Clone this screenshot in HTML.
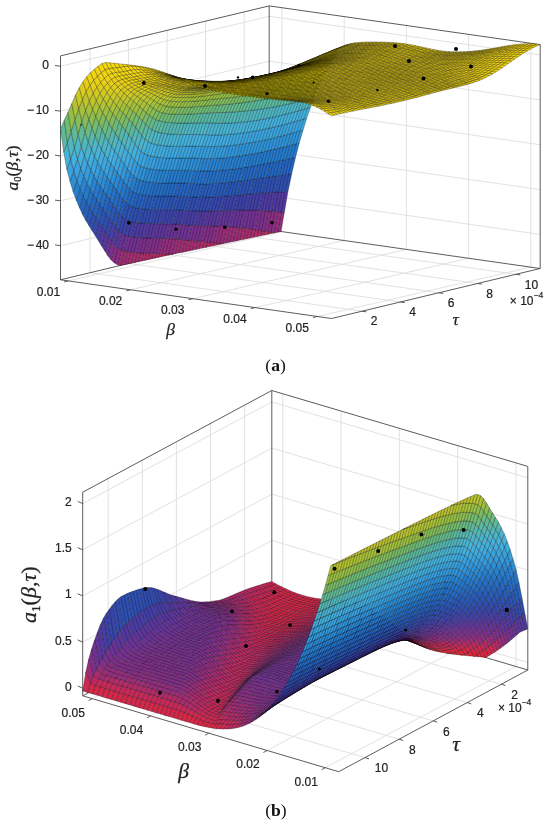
<!DOCTYPE html><html><head><meta charset="utf-8"><title>Figure</title><style>html,body{margin:0;padding:0;background:#fff}svg{display:block}.gl{fill:none;stroke:#dedede;stroke-width:.9}.ax{fill:none;stroke:#4a4a4a;stroke-width:.9}.sf path{stroke:#000;stroke-width:2.7;stroke-linejoin:round}.tl{font:12px 'Liberation Sans',sans-serif;fill:#222;stroke:#222;stroke-width:.2}.mi{font-family:'Liberation Serif',serif;font-style:italic;font-size:17.5px;fill:#222;stroke:#222;stroke-width:.25}.zl{font-family:'Liberation Serif',serif;fill:#222;stroke:#222;stroke-width:.3}.gi{font-style:italic}.sb{font-size:60%}.cap{font:17.6px 'Liberation Serif',serif;fill:#111}.a{fill:#ecd212}.b{fill:#ead113}.c{fill:#723190}.d{fill:#edd310}.e{fill:#b22a67}.f{fill:#bd2960}.g{fill:#c72859}.h{fill:#9e2c75}.i{fill:#a82b6e}.j{fill:#7c2f8a}.k{fill:#77308d}.l{fill:#d4274a}.m{fill:#efd410}.n{fill:#932d7c}.o{fill:#812e87}.p{fill:#f0d50f}.q{fill:#892e83}.r{fill:#e9d014}.s{fill:#ce2852}.t{fill:#e6cf15}.u{fill:#683395}.v{fill:#c1c52a}.w{fill:#6d3292}.x{fill:#c6c727}.y{fill:#dfcd1a}.z{fill:#bbc42d}.A{fill:#e2ce17}.B{fill:#5d369a}.C{fill:#52399e}.D{fill:#d7cb1e}.E{fill:#f3d60c}.F{fill:#d3ca20}.G{fill:#d0c922}.H{fill:#58379c}.I{fill:#473da2}.J{fill:#dbcc1c}.K{fill:#e52735}.L{fill:#f2d50d}.M{fill:#423fa5}.N{fill:#633498}.O{fill:#cbc825}.P{fill:#2e4fb0}.Q{fill:#2467c0}.R{fill:#3ba5e0}.S{fill:#8cbd4f}.T{fill:#f6d80b}.U{fill:#da2643}.V{fill:#df263d}.W{fill:#3d41a6}.X{fill:#3845aa}.Y{fill:#247acc}.Z{fill:#72bb6f}.aa{fill:#334aad}.ab{fill:#b1c232}.ac{fill:#f9da08}.ad{fill:#e22739}.ae{fill:#4d3ba0}.af{fill:#2f94d9}.ag{fill:#b6c32f}.ah{fill:#5ab99f}.aj{fill:#2b51b1}.ak{fill:#3b43a8}.al{fill:#45b2dc}.am{fill:#5fb995}.an{fill:#2782d0}.ao{fill:#40acdf}.ap{fill:#f8d909}.aq{fill:#2956b5}.ar{fill:#265fbb}.as{fill:#304cae}.at{fill:#246fc6}.au{fill:#43b1de}.av{fill:#246cc4}.aw{fill:#4db6c8}.ay{fill:#339adb}.az{fill:#a5c03a}.aA{fill:#9fc03e}.aB{fill:#3648ab}.aC{fill:#2d90d7}.aD{fill:#39a2df}.aE{fill:#2859b7}.aF{fill:#2561bd}.aG{fill:#4fb6c2}.aH{fill:#2a53b3}.aI{fill:#275cb9}.aJ{fill:#2c8dd5}.aK{fill:#4ab4d0}.aL{fill:#f5d70c}.aM{fill:#267ece}.aN{fill:#2564bf}.aO{fill:#246ac2}.aP{fill:#48b4d4}.aQ{fill:#51b7bb}.aR{fill:#2478ca}.aS{fill:#99bf42}.aT{fill:#2472c7}.aU{fill:#2985d2}.aV{fill:#3196da}.aW{fill:#2475c9}.aX{fill:#359cdd}.aY{fill:#3ca8e0}.aZ{fill:#93be47}.ba{fill:#56b8ad}.bb{fill:#68ba82}.bc{fill:#7fbc5f}.bd{fill:#47b3d8}.be{fill:#2a89d3}.bf{fill:#379fde}.bg{fill:#54b7b4}.bh{fill:#6dbb79}.bi{fill:#abc136}.bj{fill:#78bb66}.bk{fill:#86bd57}.bl{fill:#42aede}.bm{fill:#3eaadf}.bn{fill:#58b8a6}.bo{fill:#4cb5cc}.bp{fill:#64ba8c}</style></head><body><svg width="550" height="826" viewBox="0 0 550 826"><rect width="550" height="826" fill="#fff"/><path class=gl d="M68.4 280.9L281.9 231.6L281.9 7.7"/><path class=gl d="M130.6 289.8L344.2 240.5L344.2 16.6"/><path class=gl d="M192.8 298.7L406.4 249.4L406.4 25.5"/><path class=gl d="M255.0 307.6L468.6 258.3L468.6 34.4"/><path class=gl d="M317.2 316.5L530.8 267.2L530.8 43.3"/><path class=gl d="M362.0 311.2L90.1 272.7L90.1 48.8"/><path class=gl d="M400.5 302.0L128.6 263.5L128.6 39.6"/><path class=gl d="M439.0 292.8L167.1 254.2L167.1 30.3"/><path class=gl d="M477.5 283.5L205.7 245.0L205.7 21.1"/><path class=gl d="M516.0 274.3L244.2 235.8L244.2 11.9"/><path class=gl d="M60.5 66.3L269.2 16.3L540.2 55.0"/><path class=gl d="M60.5 111.2L269.2 61.2L540.2 99.9"/><path class=gl d="M60.5 156.0L269.2 106.0L540.2 144.7"/><path class=gl d="M60.5 200.9L269.2 150.9L540.2 189.6"/><path class=gl d="M60.5 245.7L269.2 195.7L540.2 234.4"/><path class=ax d="M60.5 55.9L269.2 5.9L540.2 44.6L540.2 268.5L269.2 229.8L60.5 279.8"/><path class=ax d="M269.2 229.8L269.2 5.9"/><path class=ax d="M60.5 55.9L60.5 279.8L331.5 318.5L540.2 268.5"/><path class=ax d="M68.4 280.9L64.2 281.9"/><path class=ax d="M130.6 289.8L126.4 290.8"/><path class=ax d="M192.8 298.7L188.6 299.7"/><path class=ax d="M255.0 307.6L250.8 308.6"/><path class=ax d="M317.2 316.5L313.0 317.5"/><path class=ax d="M362.0 311.2L366.3 311.8"/><path class=ax d="M400.5 302.0L404.8 302.6"/><path class=ax d="M439.0 292.8L443.3 293.4"/><path class=ax d="M477.5 283.5L481.8 284.1"/><path class=ax d="M516.0 274.3L520.3 274.9"/><path class=ax d="M60.5 66.3L55.0 65.5"/><path class=ax d="M60.5 111.2L55.0 110.4"/><path class=ax d="M60.5 156.0L55.0 155.2"/><path class=ax d="M60.5 200.9L55.0 200.1"/><path class=ax d="M60.5 245.7L55.0 244.9"/><g class=sf transform="scale(.1)"><path class=f d="M1717 2546l1-3 8 1z"/><path class=f d="M1683 2553l3-13 32 3-1 3z"/><path class=f d="M1649 2560l6-22 31 2-3 13z"/><path class=f d="M1615 2567l8-31 32 2-6 22z"/><path class=f d="M1582 2575l9-40 32 1-8 31z"/><path class=e d="M1548 2582l12-48 31 1-9 40z"/><path class=e d="M1515 2589l13-55 32 0-12 48z"/><path class=e d="M1481 2597l15-64 32 1-13 55z"/><path class=e d="M1447 2604l18-72 31 1-15 64z"/><path class=e d="M1414 2611l19-80 32 1-18 72z"/><path class=i d="M1380 2618l22-89 31 2-19 80z"/><path class=i d="M1346 2626l24-99 32 2-22 89z"/><path class=i d="M1312 2633l26-109 32 3-24 99z"/><path class=i d="M1277 2640l30-120 31 4-26 109z"/><path class=h d="M1242 2647l33-133 32 6-30 120z"/><path class=h d="M1207 2654l36-146 32 6-33 133z"/><path class=h d="M1174 2648l38-151 31 11-36 146-10 2z"/><path class=q d="M1111 2600l32 30 31 18 38-151-32-17-31-28zM1143 2630L1180 2480"/><path class=k d="M1079 2559l32 41 38-148-32-39z"/><path class=u d="M1048 2511l31 48 38-146-32-46z"/><path class=H d="M1016 2459l32 52 37-144-31-49z"/><path class=ae d="M984 2407l32 52 38-141-32-49z"/><path class=W d="M953 2357l31 50 38-138-32-47z"/><path class=aB d="M921 2308l32 49 37-135-31-47z"/><path class=P d="M890 2258l31 50 38-133-32-47z"/><path class=aq d="M858 2204l32 54 37-130-31-51z"/><path class=ar d="M826 2145l32 59 38-127-32-57z"/><path class=Q d="M795 2078l31 67 38-125-32-64z"/><path class=aT d="M763 2002l32 76 37-122-31-72z"/><path class=aM d="M731 1916l32 86 38-118-32-82z"/><path class=aC d="M700 1815l31 101 38-114-31-97z"/><path class=aD d="M668 1692l32 123 38-110-32-117z"/><path class=bd d="M637 1522l31 170 38-104-32-163z"/><path class=ah d="M605 1288l32 234 37-97-31-224z"/><path class=f d="M2229 2437l1-2 6 1z"/><path class=f d="M2195 2445l3-14 32 4-1 2z"/><path class=f d="M2161 2452l5-24 32 3-3 14z"/><path class=f d="M2127 2459l8-35 31 4-5 24z"/><path class=e d="M2093 2466l10-45 32 3-8 35z"/><path class=e d="M2059 2474l13-56 31 3-10 45z"/><path class=e d="M2024 2481l16-66 32 3-13 56z"/><path class=e d="M1990 2488l18-76 32 3-16 66z"/><path class=i d="M1956 2495l21-86 31 3-18 76z"/><path class=i d="M1922 2502l23-96 32 3-21 86z"/><path class=i d="M1888 2510l26-106 31 2-23 96z"/><path class=i d="M1854 2517l28-116 32 3-26 106z"/><path class=h d="M1820 2524l30-126 32 3-28 116z"/><path class=h d="M1785 2531l34-135 31 2-30 126z"/><path class=h d="M1751 2538l36-145 32 3-34 135z"/><path class=h d="M1718 2543l37-153 32 3-36 145-25 6z"/><path class=n d="M1591 2535l32 1 32 2 31 2 32 3 37-153-31-2-32-2-31-2-32-1zM1623 2536L1661 2384M1655 2538L1692 2386M1686 2540L1724 2388"/><path class=o d="M1465 2532l31 1 32 1 32 0 31 1 38-152-32 0-31-1-32 0-32-1zM1496 2533L1534 2382M1528 2534L1566 2382M1560 2534L1597 2383"/><path class=j d="M1370 2527l32 2 31 2 32 1 37-151-31 0-32-2-31-2zM1402 2529L1439 2379M1433 2531L1471 2381"/><path class=c d="M1243 2508l32 6 32 6 31 4 32 3 38-150-32-2-32-4-31-4-32-6zM1275 2514L1313 2367M1307 2520L1344 2371M1338 2524L1376 2375"/><path class=u d="M1180 2480l32 17 31 11 38-147-32-10-31-16zM1212 2497L1249 2351"/><path class=H d="M1149 2452l31 28 38-145-32-27z"/><path class=ae d="M1117 2413l32 39 37-144-31-37z"/><path class=M d="M1085 2367l32 46 38-142-32-44z"/><path class=X d="M1054 2318l31 49 38-140-32-48z"/><path class=as d="M1022 2269l32 49 37-139-31-47z"/><path class=aj d="M990 2222l32 47 38-137-32-46z"/><path class=aE d="M959 2175l31 47 38-136-32-45z"/><path class=aF d="M927 2128l32 47 37-134-31-46z"/><path class=Q d="M896 2077l31 51 38-133-32-49z"/><path class=at d="M864 2020l32 57 37-131-31-55z"/><path class=Y d="M832 1956l32 64 38-129-32-61z"/><path class=aU d="M801 1884l31 72 38-126-32-70z"/><path class=aV d="M769 1802l32 82 37-124-31-79z"/><path class=aD d="M738 1705l31 97 38-121-32-93z"/><path class=au d="M706 1588l32 117 37-117-31-113z"/><path class=aG d="M674 1425l32 163 38-113-32-164z"/><path class=Z d="M643 1201l31 224 38-114-32-189z"/><path class=f d="M2742 2329l0 0 0 0z"/><path class=f d="M2707 2336l3-13 32 6 0 0z"/><path class=f d="M2673 2344l5-27 32 6-3 13z"/><path class=f d="M2639 2351l8-39 31 5-5 27z"/><path class=e d="M2605 2358l10-52 32 6-8 39z"/><path class=e d="M2571 2365l13-64 31 5-10 52z"/><path class=e d="M2536 2372l16-76 32 5-13 64z"/><path class=i d="M2502 2380l18-89 32 5-16 76z"/><path class=i d="M2468 2387l21-100 31 4-18 89z"/><path class=i d="M2434 2394l23-111 32 4-21 100z"/><path class=i d="M2400 2401l25-122 32 4-23 111z"/><path class=h d="M2366 2409l28-133 31 3-25 122z"/><path class=h d="M2331 2416l31-143 32 3-28 133z"/><path class=h d="M2297 2423l34-153 31 3-31 143z"/><path class=n d="M2263 2430l36-163 32 3-34 153z"/><path class=h d="M2230 2435l37-170 32 2-36 163-27 6z"/><path class=n d="M2135 2424l31 4 32 3 32 4 37-170-31-2-32-1-32-1zM2166 2428L2204 2262M2198 2431L2236 2263"/><path class=o d="M2008 2412l32 3 32 3 31 3 32 3 37-163-31-2-32-1-31 0-32-1zM2040 2415L2078 2258M2072 2418L2109 2258M2103 2421L2141 2259"/><path class=k d="M1882 2401l32 3 31 2 32 3 31 3 38-155-32-1-31-1-32-2-31-1zM1914 2404L1951 2253M1945 2406L1983 2255M1977 2409L2014 2256"/><path class=w d="M1755 2390l32 3 32 3 31 2 32 3 38-149-32-1-32-3-31-2-32-3zM1787 2393L1825 2246M1819 2396L1856 2248M1850 2398L1888 2251"/><path class=u d="M1661 2384l31 2 32 2 31 2 38-147-32-2-31-2-32-1zM1692 2386L1730 2239M1724 2388L1761 2241"/><path class=B d="M1534 2382l32 0 31 1 32 0 32 1 37-146-31 0-32-1-32 0-31 0zM1566 2382L1603 2237M1597 2383L1635 2237M1629 2383L1667 2238"/><path class=H d="M1439 2379l32 2 31 0 32 1 38-145-32 0-32-1-31-1zM1471 2381L1508 2236M1502 2381L1540 2237"/><path class=ae d="M1313 2367l31 4 32 4 32 2 31 2 38-144-32-2-31-2-32-4-32-4zM1344 2371L1382 2227M1376 2375L1414 2231M1408 2377L1445 2233"/><path class=M d="M1249 2351l32 10 32 6 37-144-31-6-32-9zM1281 2361L1319 2217"/><path class=ak d="M1186 2308l32 27 31 16 38-143-32-16-31-26zM1218 2335L1255 2192"/><path class=aa d="M1155 2271l31 37 38-142-32-36z"/><path class=P d="M1123 2227l32 44 37-141-31-43z"/><path class=aq d="M1091 2179l32 48 38-140-32-47z"/><path class=ar d="M1060 2132l31 47 38-139-32-47z"/><path class=aN d="M1028 2086l32 46 37-139-31-44z"/><path class=av d="M996 2041l32 45 38-137-32-44z"/><path class=aW d="M965 1995l31 46 38-136-31-45z"/><path class=Y d="M933 1946l32 49 38-135-32-49z"/><path class=aU d="M902 1891l31 55 38-135-32-54z"/><path class=af d="M870 1830l32 61 37-134-31-61z"/><path class=aX d="M838 1760l32 70 38-134-32-68z"/><path class=aY d="M807 1681l31 79 38-132-32-77z"/><path class=al d="M775 1588l32 93 37-130-31-92z"/><path class=aw d="M744 1475l31 113 38-129-32-117z"/><path class=am d="M712 1311l32 164 37-133-31-150z"/><path class=aZ d="M680 1122l32 189 38-119-32-156z"/><path class=n d="M2776 2322l35-200 32 5-33 188z"/><path class=n d="M2742 2329l37-211 32 4-35 200-34 7z"/><path class=q d="M2647 2312l31 5 32 6 32 6 37-211-31-4-32-3-32-3zM2678 2317L2716 2111M2710 2323L2748 2114"/><path class=j d="M2552 2296l32 5 31 5 32 6 37-204-31-2-32-2-31-2zM2584 2301L2621 2104M2615 2306L2653 2106"/><path class=c d="M2425 2279l32 4 32 4 31 4 32 5 38-194-32-1-32 0-31-1-32 0zM2457 2283L2495 2100M2489 2287L2526 2101M2520 2291L2558 2101"/><path class=u d="M2299 2267l32 3 31 3 32 3 31 3 38-179-32 0-31 1-32 1-31 1zM2331 2270L2368 2102M2362 2273L2400 2101M2394 2276L2431 2100"/><path class=N d="M2172 2261l32 1 32 1 31 2 32 2 38-164-32 0-32 1-31 1-32 1zM2204 2262L2242 2105M2236 2263L2273 2104M2267 2265L2305 2103"/><path class=H d="M2046 2257l32 1 31 0 32 1 31 2 38-155-31 1-32 1-32 1-31 1zM2078 2258L2115 2109M2109 2258L2147 2108M2141 2259L2179 2107"/><path class=C d="M1951 2253l32 2 31 1 32 1 38-147-32 0-32 0-31 0zM1983 2255L2020 2110M2014 2256L2052 2110"/><path class=I d="M1825 2246l31 2 32 3 32 1 31 1 38-143-32 0-31-1-32-2-32-3zM1856 2248L1894 2107M1888 2251L1926 2109M1920 2252L1957 2110"/><path class=M d="M1730 2239l31 2 32 2 32 3 37-142-31-2-32-2-32-1zM1761 2241L1799 2100M1793 2243L1831 2102"/><path class=ak d="M1603 2237l32 0 32 1 31 0 32 1 37-140-31-1-32-1-31 0-32 0zM1635 2237L1673 2097M1667 2238L1704 2097M1698 2238L1736 2098"/><path class=X d="M1508 2236l32 1 32 0 31 0 38-140-32 0-31-1-32 0zM1540 2237L1578 2096M1572 2237L1609 2097"/><path class=aa d="M1382 2227l32 4 31 2 32 2 31 1 38-140-32-1-31-2-32-2-31-4zM1414 2231L1451 2091M1445 2233L1483 2093M1477 2235L1514 2095"/><path class=P d="M1287 2208l32 9 31 6 32 4 38-140-32-4-32-6-31-9zM1319 2217L1356 2077M1350 2223L1388 2083"/><path class=aH d="M1224 2166l31 26 32 16 38-140-32-15-32-27zM1255 2192L1293 2053"/><path class=aI d="M1192 2130l32 36 37-140-31-35z"/><path class=aN d="M1161 2087l31 43 38-139-32-43z"/><path class=aO d="M1129 2040l32 47 37-139-31-46z"/><path class=aT d="M1097 1993l32 47 38-138-32-46z"/><path class=Y d="M1066 1949l31 44 38-137-32-44z"/><path class=an d="M1034 1905l32 44 37-137-31-44z"/><path class=aJ d="M1003 1860l31 45 38-137-32-45z"/><path class=af d="M971 1811l32 49 37-137-31-49z"/><path class=aX d="M939 1757l32 54 38-137-32-53z"/><path class=R d="M908 1696l31 61 38-136-32-61z"/><path class=bl d="M876 1628l32 68 37-136-31-68z"/><path class=aP d="M844 1551l32 77 38-136-32-78z"/><path class=aQ d="M813 1459l31 92 38-137-32-96z"/><path class=am d="M781 1342l32 117 37-141-31-111z"/><path class=bk d="M750 1192l31 150 38-135-32-122z"/><path class=ab d="M718 1036l32 156 37-107-31-138z"/><path class=C d="M2716 2111l32 3 31 4 32 4 32 5 37-212-31 1-32 2-32 1-31 2zM2748 2114L2785 1919M2779 2118L2817 1918M2811 2122L2849 1916"/><path class=ae d="M2590 2102l31 2 32 2 31 2 32 3 38-190-32 2-32 2-31 2-32 3zM2621 2104L2659 1927M2653 2106L2690 1925M2684 2108L2722 1923"/><path class=M d="M2463 2100l32 0 31 1 32 0 32 1 37-172-31 2-32 3-32 2-31 3zM2495 2100L2532 1937M2526 2101L2564 1935M2558 2101L2596 1932"/><path class=W d="M2337 2103l31-1 32-1 31-1 32 0 38-160-32 3-32 3-31 2-32 3zM2368 2102L2406 1948M2400 2101L2437 1946M2431 2100L2469 1943"/><path class=ak d="M2210 2106l32-1 31-1 32-1 32 0 37-152-31 3-32 2-32 3-31 2zM2242 2105L2279 1959M2273 2104L2311 1956M2305 2103L2343 1954"/><path class=X d="M2084 2110l31-1 32-1 32-1 31-1 38-145-32 3-31 2-32 2-32 1zM2115 2109L2153 1968M2147 2108L2185 1966M2179 2107L2216 1964"/><path class=aa d="M1957 2110l32 0 31 0 32 0 32 0 37-141-31 1-32 1-32 1-31 0zM1989 2110L2026 1972M2020 2110L2058 1971M2052 2110L2090 1970"/><path class=as d="M1862 2104l32 3 32 2 31 1 38-138-32-1-31-1-32-2zM1894 2107L1932 1970M1926 2109L1963 1971"/><path class=aj d="M1736 2098l31 1 32 1 32 2 31 2 38-136-32-2-31-2-32-1-32-1zM1767 2099L1805 1963M1799 2100L1837 1964M1831 2102L1868 1966"/><path class=aH d="M1641 2097l32 0 31 0 32 1 37-136-31-1-32 0-31 0zM1673 2097L1710 1961M1704 2097L1742 1961"/><path class=aE d="M1514 2095l32 1 32 0 31 1 32 0 38-136-32 0-32 0-31-1-32-1zM1546 2096L1584 1960M1578 2096L1615 1961M1609 2097L1647 1961"/><path class=aI d="M1420 2087l31 4 32 2 31 2 38-136-32-1-31-3-32-3zM1451 2091L1489 1955M1483 2093L1520 1958"/><path class=aF d="M1325 2068l31 9 32 6 32 4 37-135-31-5-32-5-32-10zM1356 2077L1394 1942M1388 2083L1426 1947"/><path class=Q d="M1261 2026l32 27 32 15 37-136-31-15-32-26zM1293 2053L1331 1917"/><path class=at d="M1230 1991l31 35 38-135-31-35z"/><path class=aR d="M1198 1948l32 43 38-135-32-42z"/><path class=aM d="M1167 1902l31 46 38-134-32-45z"/><path class=be d="M1135 1856l32 46 37-133-31-46z"/><path class=aC d="M1103 1812l32 44 38-133-32-44z"/><path class=ay d="M1072 1768l31 44 38-133-32-43z"/><path class=aD d="M1040 1723l32 45 37-132-31-45z"/><path class=aY d="M1009 1674l31 49 38-132-32-48z"/><path class=bl d="M977 1621l32 53 37-131-31-53z"/><path class=bd d="M945 1560l32 61 38-131-32-61z"/><path class=aw d="M914 1492l31 68 38-131-32-71z"/><path class=ba d="M882 1414l32 78 37-134-31-80z"/><path class=bb d="M850 1318l32 96 38-136-32-88z"/><path class=bk d="M819 1207l31 111 38-128-32-88z"/><path class=az d="M787 1085l32 122 37-105-31-109z"/><path class=O d="M756 947l31 138 38-92-32-117z"/><path class=P d="M2754 1921l31-2 32-1 32-2 31-1 38-180-32 5-31 4-32 5-32 5zM2785 1919L2823 1749M2817 1918L2855 1744M2849 1916L2886 1740"/><path class=P d="M2627 1930l32-3 31-2 32-2 32-2 37-167-31 4-32 5-32 5-31 4zM2659 1927L2696 1768M2690 1925L2728 1763M2722 1923L2760 1758"/><path class=aj d="M2501 1940l31-3 32-2 32-3 31-2 38-158-32 5-31 5-32 4-32 5zM2532 1937L2570 1786M2564 1935L2602 1782M2596 1932L2633 1777"/><path class=aH d="M2374 1951l32-3 31-2 32-3 32-3 37-149-31 4-32 5-31 4-32 4zM2406 1948L2444 1804M2437 1946L2475 1800M2469 1943L2507 1795"/><path class=aq d="M2248 1961l31-2 32-3 32-2 31-3 38-143-32 4-31 4-32 4-32 3zM2279 1959L2317 1820M2311 1956L2349 1816M2343 1954L2380 1812"/><path class=aE d="M2121 1969l32-1 32-2 31-2 32-3 37-138-31 3-32 3-31 3-32 2zM2153 1968L2191 1832M2185 1966L2222 1829M2216 1964L2254 1826"/><path class=aI d="M1995 1972l31 0 32-1 32-1 31-1 38-135-32 2-31 1-32 1-32 1zM2026 1972L2064 1838M2058 1971L2096 1837M2090 1970L2127 1836"/><path class=ar d="M1868 1966l32 2 32 2 31 1 32 1 37-133-31 0-32-2-31-2-32-1zM1900 1968L1938 1835M1932 1970L1969 1837M1963 1971L2001 1839"/><path class=aN d="M1742 1961l31 1 32 1 32 1 31 2 38-132-32-2-31-1-32-1-32 0zM1773 1962L1811 1830M1805 1963L1843 1831M1837 1964L1874 1832"/><path class=aO d="M1615 1961l32 0 32 0 31 0 32 0 37-131-31 0-32 0-31 0-32 0zM1647 1961L1685 1830M1679 1961L1716 1830M1710 1961L1748 1830"/><path class=av d="M1489 1955l31 3 32 1 32 1 31 1 38-131-32-1-31-1-32-2-32-2zM1520 1958L1558 1826M1552 1959L1590 1828M1584 1960L1621 1829"/><path class=aT d="M1394 1942l32 5 31 5 32 3 37-131-31-4-32-4-31-6zM1426 1947L1463 1816M1457 1952L1495 1820"/><path class=aR d="M1331 1917l31 15 32 10 38-132-32-9-32-15zM1362 1932L1400 1801"/><path class=aM d="M1299 1891l32 26 37-131-31-26z"/><path class=aU d="M1268 1856l31 35 38-131-32-35z"/><path class=aJ d="M1236 1814l32 42 37-131-31-41z"/><path class=aV d="M1204 1769l32 45 38-130-32-45z"/><path class=bf d="M1173 1723l31 46 38-130-32-45z"/><path class=R d="M1141 1679l32 44 37-129-31-43z"/><path class=ao d="M1109 1636l32 43 38-128-32-43z"/><path class=au d="M1078 1591l31 45 38-128-32-44z"/><path class=aP d="M1046 1543l32 48 37-127-31-50z"/><path class=aw d="M1015 1490l31 53 38-129-32-56z"/><path class=bg d="M983 1429l32 61 37-132-31-62z"/><path class=am d="M951 1358l32 71 38-133-32-68z"/><path class=Z d="M920 1278l31 80 38-130-32-68z"/><path class=S d="M888 1190l32 88 37-118-31-71z"/><path class=az d="M856 1102l32 88 38-101-32-80z"/><path class=v d="M825 993l31 109 38-93-32-96z"/><path class=J d="M793 876l32 117 37-80-31-97z"/><path class=aN d="M2791 1754l32-5 32-5 31-4 32-5 37-161-31 7-32 6-31 7-32 7zM2823 1749L2861 1594M2855 1744L2892 1587M2886 1740L2924 1581"/><path class=Q d="M2665 1772l31-4 32-5 32-5 31-4 38-153-32 7-31 6-32 7-31 6zM2696 1768L2734 1621M2728 1763L2766 1614M2760 1758L2797 1608"/><path class=Q d="M2538 1791l32-5 32-4 31-5 32-5 38-145-32 6-32 7-31 6-32 6zM2570 1786L2608 1646M2602 1782L2639 1640M2633 1777L2671 1633"/><path class=Q d="M2412 1808l32-4 31-4 32-5 31-4 38-139-32 5-31 6-32 5-31 5zM2444 1804L2481 1668M2475 1800L2513 1663M2507 1795L2544 1657"/><path class=aO d="M2285 1823l32-3 32-4 31-4 32-4 38-135-32 5-32 5-31 4-32 4zM2317 1820L2355 1687M2349 1816L2386 1683M2380 1812L2418 1678"/><path class=av d="M2159 1834l32-2 31-3 32-3 31-3 38-132-32 4-31 3-32 3-31 3zM2191 1832L2228 1701M2222 1829L2260 1698M2254 1826L2291 1695"/><path class=at d="M2032 1839l32-1 32-1 31-1 32-2 38-130-32 2-32 2-31 1-32 1zM2064 1838L2102 1709M2096 1837L2133 1708M2127 1836L2165 1706"/><path class=aT d="M1906 1834l32 1 31 2 32 2 31 0 38-129-32 0-31-1-32-2-31-1zM1938 1835L1975 1707M1969 1837L2007 1709M2001 1839L2038 1710"/><path class=aR d="M1779 1830l32 0 32 1 31 1 32 2 38-128-32-2-32-1-31 0-32-1zM1811 1830L1849 1703M1843 1831L1880 1703M1874 1832L1912 1704"/><path class=Y d="M1653 1830l32 0 31 0 32 0 31 0 38-128-32 1-31 0-32 0-31 0zM1685 1830L1722 1703M1716 1830L1754 1703M1748 1830L1785 1703"/><path class=an d="M1526 1824l32 2 32 2 31 1 32 1 38-127-32-1-32-1-31-2-32-2zM1558 1826L1596 1699M1590 1828L1627 1701M1621 1829L1659 1702"/><path class=be d="M1432 1810l31 6 32 4 31 4 38-127-31-4-32-4-32-6zM1463 1816L1501 1689M1495 1820L1533 1693"/><path class=aC d="M1368 1786l32 15 32 9 37-127-31-9-32-16zM1400 1801L1438 1674"/><path class=aV d="M1337 1760l31 26 38-128-32-25z"/><path class=aX d="M1305 1725l32 35 37-127-31-34z"/><path class=aD d="M1274 1684l31 41 38-126-32-41z"/><path class=bm d="M1242 1639l32 45 37-126-31-43z"/><path class=bl d="M1210 1594l32 45 38-124-32-45z"/><path class=bd d="M1179 1551l31 43 38-124-32-44z"/><path class=aK d="M1147 1508l32 43 37-125-31-45z"/><path class=aG d="M1115 1464l32 44 38-127-32-46z"/><path class=ba d="M1084 1414l31 50 38-129-32-50z"/><path class=am d="M1052 1358l32 56 37-129-31-52z"/><path class=bh d="M1021 1296l31 62 38-125-32-54z"/><path class=bc d="M989 1228l32 68 37-117-31-54z"/><path class=aZ d="M957 1160l32 68 38-103-32-58z"/><path class=bi d="M926 1089l31 71 38-93-32-65z"/><path class=v d="M894 1009l32 80 37-87-31-72z"/><path class=F d="M862 913l32 96 38-79-32-80z"/><path class=t d="M831 816l31 97 38-63-32-84z"/><path class=Y d="M2829 1601l32-7 31-7 32-6 31-7 38-145-32 9-31 8-32 8-31 9zM2861 1594L2898 1454M2892 1587L2930 1446M2924 1581L2961 1438"/><path class=Y d="M2703 1627l31-6 32-7 31-6 32-7 38-138-32 8-32 7-31 8-32 7zM2734 1621L2772 1486M2766 1614L2803 1478M2797 1608L2835 1471"/><path class=Y d="M2576 1652l32-6 31-6 32-7 32-6 37-134-31 8-32 7-32 7-31 6zM2608 1646L2645 1515M2639 1640L2677 1508M2671 1633L2709 1501"/><path class=Y d="M2450 1673l31-5 32-5 31-6 32-5 38-131-32 7-32 6-31 6-32 5zM2481 1668L2519 1540M2513 1663L2550 1534M2544 1657L2582 1528"/><path class=aM d="M2323 1691l32-4 31-4 32-5 32-5 37-128-31 6-32 5-32 4-31 5zM2355 1687L2392 1560M2386 1683L2424 1556M2418 1678L2456 1551"/><path class=aM d="M2197 1704l31-3 32-3 31-3 32-4 38-126-32 4-32 4-31 3-32 3zM2228 1701L2266 1576M2260 1698L2297 1573M2291 1695L2329 1569"/><path class=an d="M2070 1710l32-1 31-1 32-2 32-2 37-125-31 2-32 2-32 1-31 1zM2102 1709L2139 1584M2133 1708L2171 1583M2165 1706L2203 1581"/><path class=aU d="M1975 1707l32 2 31 1 32 0 38-125-32 1-32-1-31-2zM2007 1709L2044 1585M2038 1710L2076 1586"/><path class=aJ d="M1849 1703l31 0 32 1 32 2 31 1 38-124-32-1-31-1-32-1-32-1zM1880 1703L1918 1580M1912 1704L1950 1581M1944 1706L1981 1582"/><path class=aC d="M1754 1703l31 0 32-1 32 1 37-124-31 0-32 1-31 0zM1785 1703L1823 1580M1817 1702L1855 1579"/><path class=aV d="M1627 1701l32 1 32 1 31 0 32 0 38-123-32 0-32 0-31-1-32 0zM1659 1702L1697 1579M1691 1703L1728 1580M1722 1703L1760 1580"/><path class=ay d="M1533 1693l31 4 32 2 31 2 38-122-32-2-31-3-32-3zM1564 1697L1602 1574M1596 1699L1633 1577"/><path class=bf d="M1438 1674l31 9 32 6 32 4 37-122-31-5-32-6-32-9zM1469 1683L1507 1560M1501 1689L1539 1566"/><path class=R d="M1374 1633l32 25 32 16 37-123-31-15-32-25zM1406 1658L1444 1536"/><path class=ao d="M1343 1599l31 34 38-122-32-33z"/><path class=al d="M1311 1558l32 41 37-121-31-41z"/><path class=aP d="M1280 1515l31 43 38-121-32-45z"/><path class=aw d="M1248 1470l32 45 37-123-31-47z"/><path class=aQ d="M1216 1426l32 44 38-125-32-44z"/><path class=bn d="M1185 1381l31 45 38-125-32-42z"/><path class=am d="M1153 1335l32 46 37-122-31-42z"/><path class=bh d="M1121 1285l32 50 38-118-32-40z"/><path class=bc d="M1090 1233l31 52 38-108-32-42z"/><path class=S d="M1058 1179l32 54 37-98-31-45z"/><path class=aA d="M1027 1125l31 54 38-89-32-50z"/><path class=ab d="M995 1067l32 58 37-85-31-52z"/><path class=v d="M963 1002l32 65 38-79-32-58z"/><path class=F d="M932 930l31 72 38-72-32-61z"/><path class=A d="M900 850l32 80 37-61-31-68z"/><path class=a d="M868 766l32 84 38-49-32-76z"/><path class=af d="M2867 1463l31-9 32-8 31-8 32-9 38-129-32 9-31 9-32 9-32 9zM2898 1454L2936 1327M2930 1446L2968 1318M2961 1438L2999 1309"/><path class=af d="M2740 1493l32-7 31-8 32-7 32-8 37-127-31 9-32 8-32 8-31 8zM2772 1486L2809 1361M2803 1478L2841 1353M2835 1471L2873 1345"/><path class=af d="M2614 1521l31-6 32-7 32-7 31-8 38-124-32 8-31 7-32 8-32 7zM2645 1515L2683 1392M2677 1508L2715 1384M2709 1501L2746 1377"/><path class=af d="M2487 1545l32-5 31-6 32-6 32-7 37-122-31 6-32 7-32 6-31 6zM2519 1540L2556 1418M2550 1534L2588 1412M2582 1528L2620 1405"/><path class=af d="M2361 1565l31-5 32-4 32-5 31-6 38-121-32 5-31 5-32 5-32 5zM2392 1560L2430 1439M2424 1556L2462 1434M2456 1551L2493 1429"/><path class=aV d="M2234 1579l32-3 31-3 32-4 32-4 37-121-31 4-32 4-32 3-31 3zM2266 1576L2303 1455M2297 1573L2335 1452M2329 1569L2367 1448"/><path class=ay d="M2108 1585l31-1 32-1 32-2 31-2 38-121-32 2-31 2-32 2-32 1zM2139 1584L2177 1464M2171 1583L2209 1462M2203 1581L2240 1460"/><path class=aX d="M1981 1582l32 1 31 2 32 1 32-1 37-120-31 0-32 0-32-1-31-2zM2013 1583L2050 1464M2044 1585L2082 1465M2076 1586L2114 1465"/><path class=bf d="M1886 1579l32 1 32 1 31 1 38-120-32 0-31-1-32 0zM1918 1580L1956 1461M1950 1581L1987 1462"/><path class=R d="M1760 1580l32 0 31 0 32-1 31 0 38-118-32 0-31 0-32 1-31 0zM1792 1580L1829 1462M1823 1580L1861 1461M1855 1579L1892 1461"/><path class=aY d="M1633 1577l32 2 32 0 31 1 32 0 38-118-32 0-32 0-31-1-32-2zM1665 1579L1703 1461M1697 1579L1734 1462M1728 1580L1766 1462"/><path class=ao d="M1539 1566l31 5 32 3 31 3 38-118-32-2-31-4-32-4zM1570 1571L1608 1453M1602 1574L1639 1457"/><path class=au d="M1444 1536l31 15 32 9 32 6 37-117-31-7-32-9-32-16zM1475 1551L1513 1433M1507 1560L1545 1442"/><path class=aP d="M1412 1511l32 25 37-119-31-26z"/><path class=bo d="M1380 1478l32 33 38-120-32-35z"/><path class=aG d="M1349 1437l31 41 38-122-32-42z"/><path class=bg d="M1317 1392l32 45 37-123-31-43z"/><path class=ah d="M1286 1345l31 47 38-121-32-41z"/><path class=bp d="M1254 1301l32 44 37-115-31-36z"/><path class=Z d="M1222 1259l32 42 38-107-32-33z"/><path class=bc d="M1191 1217l31 42 38-98-32-34z"/><path class=S d="M1159 1177l32 40 37-90-31-35z"/><path class=aS d="M1127 1135l32 42 38-85-32-38z"/><path class=bi d="M1096 1090l31 45 38-81-32-41z"/><path class=ag d="M1064 1040l32 50 37-77-31-44z"/><path class=x d="M1033 988l31 52 38-71-32-46z"/><path class=F d="M1001 930l32 58 37-65-31-49z"/><path class=y d="M969 869l32 61 38-56-32-52z"/><path class=b d="M938 801l31 68 38-47-32-61z"/><path class=m d="M906 725l32 76 37-40-31-70z"/><path class=R d="M2904 1336l32-9 32-9 31-9 32-9 37-119-31 10-32 9-31 9-32 9zM2936 1327L2974 1209M2968 1318L3005 1200M2999 1309L3037 1191"/><path class=R d="M2778 1369l31-8 32-8 32-8 31-9 38-118-32 9-31 9-32 8-32 8zM2809 1361L2847 1244M2841 1353L2879 1236M2873 1345L2910 1227"/><path class=R d="M2651 1399l32-7 32-8 31-7 32-8 37-117-31 8-32 8-31 7-32 7zM2683 1392L2721 1275M2715 1384L2752 1268M2746 1377L2784 1260"/><path class=R d="M2525 1424l31-6 32-6 32-7 31-6 38-117-32 7-31 7-32 6-32 6zM2556 1418L2594 1302M2588 1412L2626 1296M2620 1405L2657 1289"/><path class=R d="M2398 1444l32-5 32-5 31-5 32-5 37-116-31 5-32 6-31 4-32 5zM2430 1439L2468 1323M2462 1434L2499 1319M2493 1429L2531 1313"/><path class=aY d="M2272 1458l31-3 32-3 32-4 31-4 38-116-32 4-31 4-32 3-32 3zM2303 1455L2341 1339M2335 1452L2373 1336M2367 1448L2404 1332"/><path class=bm d="M2145 1465l32-1 32-2 31-2 32-2 37-116-31 3-32 2-31 1-32 1zM2177 1464L2215 1348M2209 1462L2246 1347M2240 1460L2278 1345"/><path class=ao d="M2019 1462l31 2 32 1 32 0 31 0 38-116-32 1-31-1-32-1-31-1zM2050 1464L2088 1348M2082 1465L2120 1349M2114 1465L2151 1350"/><path class=au d="M1892 1461l32 0 32 0 31 1 32 0 38-115-32-1-32-1-31 0-32 0zM1924 1461L1962 1345M1956 1461L1993 1345M1987 1462L2025 1346"/><path class=al d="M1766 1462l32 0 31 0 32-1 31 0 38-116-32 0-31 0-32 0-31 0zM1798 1462L1835 1345M1829 1462L1867 1345M1861 1461L1898 1345"/><path class=aP d="M1639 1457l32 2 32 2 31 1 32 0 38-117-32-1-32-1-31-2-32-3zM1671 1459L1709 1341M1703 1461L1740 1343M1734 1462L1772 1344"/><path class=aK d="M1576 1449l32 4 31 4 38-119-32-4-31-5zM1608 1453L1645 1334"/><path class=aw d="M1513 1433l32 9 31 7 38-120-32-7-31-10zM1545 1442L1582 1322"/><path class=aQ d="M1450 1391l31 26 32 16 38-121-32-15-32-25zM1481 1417L1519 1297"/><path class=bn d="M1418 1356l32 35 37-119-31-31z"/><path class=am d="M1386 1314l32 42 38-115-32-34z"/><path class=bb d="M1355 1271l31 43 38-107-32-33z"/><path class=Z d="M1323 1230l32 41 37-97-31-33z"/><path class=bc d="M1292 1194l31 36 38-89-32-31z"/><path class=S d="M1260 1161l32 33 37-84-31-29z"/><path class=aS d="M1228 1127l32 34 38-80-32-31z"/><path class=az d="M1197 1092l31 35 38-77-32-31z"/><path class=ab d="M1165 1054l32 38 37-73-31-34z"/><path class=v d="M1133 1013l32 41 38-69-32-36z"/><path class=O d="M1102 969l31 44 38-64-32-37z"/><path class=F d="M1070 923l32 46 37-57-31-39z"/><path class=y d="M1039 874l31 49 38-50-32-43z"/><path class=r d="M1007 822l32 52 37-44-31-47z"/><path class=d d="M975 761l32 61 38-39-32-57z"/><path class=L d="M944 691l31 70 38-35-32-64z"/><path class=al d="M2942 1218l32-9 31-9 32-9 31-10 38-109-32 10-31 9-32 9-31 9zM2974 1209L3011 1100M3005 1200L3043 1091M3037 1191L3074 1082"/><path class=al d="M2815 1252l32-8 32-8 31-9 32-9 38-109-32 9-32 9-31 8-32 8zM2847 1244L2885 1135M2879 1236L2916 1127M2910 1227L2948 1118"/><path class=al d="M2689 1282l32-7 31-7 32-8 31-8 38-109-32 8-31 8-32 7-31 7zM2721 1275L2758 1166M2752 1268L2790 1159M2784 1260L2821 1151"/><path class=al d="M2562 1308l32-6 32-6 31-7 32-7 38-109-32 7-32 6-31 6-32 6zM2594 1302L2632 1192M2626 1296L2663 1186M2657 1289L2695 1180"/><path class=al d="M2436 1328l32-5 31-4 32-6 31-5 38-110-32 5-31 5-32 4-31 4zM2468 1323L2505 1212M2499 1319L2537 1208M2531 1313L2568 1203"/><path class=bd d="M2309 1342l32-3 32-3 31-4 32-4 38-112-32 3-32 3-31 3-32 2zM2341 1339L2379 1225M2373 1336L2410 1222M2404 1332L2442 1219"/><path class=aP d="M2183 1349l32-1 31-1 32-2 31-3 38-115-32 2-31 1-32 1-31 1zM2215 1348L2252 1231M2246 1347L2284 1230M2278 1345L2315 1229"/><path class=aK d="M2057 1347l31 1 32 1 31 1 32-1 38-117-32 0-32-1-31-1-32-1zM2088 1348L2126 1230M2120 1349L2157 1231M2151 1350L2189 1232"/><path class=aw d="M1930 1345l32 0 31 0 32 1 32 1 37-118-31 0-32-1-32 1-31 0zM1962 1345L1999 1229M1993 1345L2031 1228M2025 1346L2063 1229"/><path class=aG d="M1804 1345l31 0 32 0 31 0 32 0 38-116-32 1-32 0-31 1-32 0zM1835 1345L1873 1231M1867 1345L1904 1230M1898 1345L1936 1230"/><path class=bg d="M1677 1338l32 3 31 2 32 1 32 1 37-114-31 0-32-1-32-1-31-2zM1709 1341L1746 1229M1740 1343L1778 1230M1772 1344L1810 1231"/><path class=ba d="M1614 1329l31 5 32 4 38-111-32-3-32-4zM1645 1334L1683 1224"/><path class=ah d="M1519 1297l32 15 31 10 32 7 37-109-31-6-32-7-31-12zM1551 1312L1588 1207M1582 1322L1620 1214"/><path class=bb d="M1456 1241l31 31 32 25 38-102-32-18-32-24zM1487 1272L1525 1177"/><path class=bj d="M1424 1207l32 34 37-88-31-28z"/><path class=bk d="M1392 1174l32 33 38-82-32-30z"/><path class=aZ d="M1361 1141l31 33 38-79-32-29z"/><path class=aA d="M1298 1081l31 29 32 31 37-75-31-27-32-26zM1329 1110L1367 1039"/><path class=ab d="M1266 1050l32 31 37-68-31-27z"/><path class=z d="M1234 1019l32 31 38-64-32-27z"/><path class=x d="M1203 985l31 34 38-60-32-28z"/><path class=G d="M1171 949l32 36 37-54-31-31z"/><path class=D d="M1139 912l32 37 38-49-32-32z"/><path class=y d="M1108 873l31 39 38-44-31-35z"/><path class=t d="M1076 830l32 43 38-40-32-40z"/><path class=a d="M1045 783l31 47 38-37-32-44z"/><path class=p d="M1013 726l32 57 37-34-31-53z"/><path class=aL d="M981 662l32 64 38-30-32-61z"/><path class=aG d="M2980 1109l31-9 32-9 31-9 32-10 38-98-32 8-32 9-31 9-32 8zM3011 1100L3049 1000M3043 1091L3080 991M3074 1082L3112 982"/><path class=aw d="M2853 1143l32-8 31-8 32-9 32-9 37-101-31 8-32 8-32 7-31 8zM2885 1135L2922 1031M2916 1127L2954 1024M2948 1118L2986 1016"/><path class=aw d="M2727 1173l31-7 32-7 31-8 32-8 38-104-32 7-32 7-31 6-32 6zM2758 1166L2796 1059M2790 1159L2827 1053M2821 1151L2859 1046"/><path class=aG d="M2600 1198l32-6 31-6 32-6 32-7 37-108-31 6-32 6-32 5-31 5zM2632 1192L2669 1082M2663 1186L2701 1077M2695 1180L2733 1071"/><path class=aG d="M2474 1216l31-4 32-4 31-5 32-5 38-111-32 5-32 4-31 4-32 4zM2505 1212L2543 1100M2537 1208L2574 1096M2568 1203L2606 1092"/><path class=aQ d="M2347 1227l32-2 31-3 32-3 32-3 37-112-31 3-32 3-32 3-31 3zM2379 1225L2416 1113M2410 1222L2448 1110M2442 1219L2480 1107"/><path class=bg d="M2221 1232l31-1 32-1 31-1 32-2 38-111-32 2-31 2-32 2-32 1zM2252 1231L2290 1122M2284 1230L2322 1120M2315 1229L2353 1118"/><path class=ba d="M2094 1229l32 1 31 1 32 1 32 0 37-109-31 2-32 0-32 1-31 1zM2126 1230L2163 1126M2157 1231L2195 1125M2189 1232L2227 1125"/><path class=bn d="M1968 1229l31 0 32-1 32 1 31 0 38-102-32 1-31 2-32 2-32 2zM1999 1229L2037 1132M2031 1228L2069 1130M2063 1229L2100 1128"/><path class=am d="M1841 1231l32 0 31-1 32 0 32-1 37-95-31 2-32 2-32 2-31 1zM1873 1231L1910 1140M1904 1230L1942 1138M1936 1230L1974 1136"/><path class=bp d="M1715 1227l31 2 32 1 32 1 31 0 38-90-32 1-31 1-32 0-32-1zM1746 1229L1784 1143M1778 1230L1816 1143M1810 1231L1847 1142"/><path class=bh d="M1588 1207l32 7 31 6 32 4 32 3 37-85-31-1-32-3-32-3-31-6zM1620 1214L1657 1135M1651 1220L1689 1138M1683 1224L1721 1141"/><path class=bj d="M1525 1177l32 18 31 12 38-78-32-10-31-16zM1557 1195L1594 1119"/><path class=S d="M1462 1125l31 28 32 24 38-74-32-22-32-24zM1493 1153L1531 1081"/><path class=aA d="M1430 1095l32 30 37-68-31-25z"/><path class=bi d="M1367 1039l31 27 32 29 38-63-32-25-32-22zM1398 1066L1436 1007"/><path class=z d="M1304 986l31 27 32 26 37-54-31-22-32-21zM1335 1013L1373 963"/><path class=O d="M1272 959l32 27 37-44-31-23z"/><path class=F d="M1209 900l31 31 32 28 38-40-32-24-32-26zM1240 931L1278 895"/><path class=y d="M1177 868l32 32 37-31-31-29z"/><path class=t d="M1146 833l31 35 38-28-32-32z"/><path class=b d="M1114 793l32 40 37-25-31-36z"/><path class=m d="M1082 749l32 44 38-21-32-41z"/><path class=L d="M1051 696l31 53 38-18-32-48z"/><path class=T d="M1019 635l32 61 37-13-31-58z"/><path class=ah d="M3017 1008l32-8 31-9 32-9 32-8 37-95-31 8-32 7-32 8-31 7zM3049 1000L3086 902M3080 991L3118 894M3112 982L3150 887"/><path class=ah d="M2891 1039l31-8 32-7 32-8 31-8 38-99-32 8-31 7-32 7-32 7zM2922 1031L2960 931M2954 1024L2992 924M2986 1016L3023 917"/><path class=ah d="M2764 1065l32-6 31-6 32-7 32-7 37-101-31 7-32 6-32 7-31 6zM2796 1059L2833 958M2827 1053L2865 951M2859 1046L2897 945"/><path class=ah d="M2638 1087l31-5 32-5 32-6 31-6 38-101-32 6-31 6-32 6-32 6zM2669 1082L2707 982M2701 1077L2739 976M2733 1071L2770 970"/><path class=ah d="M2511 1104l32-4 31-4 32-4 32-5 37-99-31 5-32 6-31 5-32 5zM2543 1100L2581 1004M2574 1096L2612 999M2606 1092L2644 993"/><path class=am d="M2385 1116l31-3 32-3 32-3 31-3 38-95-32 5-31 5-32 4-32 4zM2416 1113L2454 1023M2448 1110L2486 1019M2480 1107L2517 1014"/><path class=bp d="M2258 1123l32-1 32-2 31-2 32-2 37-89-31 4-32 4-31 3-32 3zM2290 1122L2328 1038M2322 1120L2359 1035M2353 1118L2391 1031"/><path class=bb d="M2132 1127l31-1 32-1 32 0 31-2 38-82-32 3-31 2-32 2-32 2zM2163 1126L2201 1048M2195 1125L2233 1046M2227 1125L2264 1044"/><path class=bh d="M2005 1134l32-2 32-2 31-2 32-1 37-77-31 2-32 3-31 2-32 3zM2037 1132L2075 1057M2069 1130L2106 1055M2100 1128L2138 1052"/><path class=Z d="M1879 1141l31-1 32-2 32-2 31-2 38-74-32 3-31 2-32 3-32 2zM1910 1140L1948 1068M1942 1138L1980 1065M1974 1136L2011 1063"/><path class=bj d="M1752 1142l32 1 32 0 31-1 32-1 37-71-31 2-32 1-31 0-32 0zM1784 1143L1822 1073M1816 1143L1853 1073M1847 1142L1885 1072"/><path class=bk d="M1626 1129l31 6 32 3 32 3 31 1 38-69-32-1-31-2-32-2-32-5zM1657 1135L1695 1068M1689 1138L1727 1070M1721 1141L1758 1072"/><path class=aZ d="M1563 1103l31 16 32 10 37-66-31-8-32-14zM1594 1119L1632 1055"/><path class=aA d="M1499 1057l32 24 32 22 37-62-31-17-32-20zM1531 1081L1569 1024"/><path class=ab d="M1436 1007l32 25 31 25 38-53-32-20-31-19zM1468 1032L1505 984"/><path class=v d="M1373 963l31 22 32 22 38-42-32-18-31-18zM1404 985L1442 947"/><path class=G d="M1310 919l31 23 32 21 38-34-32-18-32-19zM1341 942L1379 911"/><path class=D d="M1278 895l32 24 37-27-31-21z"/><path class=y d="M1246 869l32 26 38-24-32-24z"/><path class=t d="M1183 808l32 32 31 29 38-22-32-26-31-28zM1215 840L1252 821"/><path class=a d="M1152 772l31 36 38-15-32-33z"/><path class=p d="M1120 731l32 41 37-12-31-36z"/><path class=E d="M1088 683l32 48 38-7-32-45z"/><path class=ap d="M1057 625l6-1 35 4 28 51-38 4z"/><path class=Z d="M3055 909l31-7 32-8 32-7 31-8 38-86-32 7-31 7-32 8-32 7zM3086 902L3124 815M3118 894L3156 807M3150 887L3187 800"/><path class=Z d="M2928 938l32-7 32-7 31-7 32-8 37-87-31 8-32 7-31 8-32 8zM2960 931L2998 845M2992 924L3029 837M3023 917L3061 830"/><path class=Z d="M2802 964l31-6 32-7 32-6 31-7 38-85-32 7-31 8-32 7-32 7zM2833 958L2871 875M2865 951L2903 868M2897 945L2934 860"/><path class=Z d="M2675 988l32-6 32-6 31-6 32-6 37-82-31 7-32 7-31 7-32 7zM2707 982L2745 903M2739 976L2776 896M2770 970L2808 889"/><path class=Z d="M2549 1009l32-5 31-5 32-6 31-5 38-78-32 6-31 6-32 6-31 6zM2581 1004L2618 928M2612 999L2650 922M2644 993L2681 916"/><path class=Z d="M2422 1027l32-4 32-4 31-5 32-5 38-75-32 6-32 5-31 5-32 5zM2454 1023L2492 950M2486 1019L2523 945M2517 1014L2555 940"/><path class=bj d="M2296 1041l32-3 31-3 32-4 31-4 38-72-32 5-31 4-32 4-31 4zM2328 1038L2365 968M2359 1035L2397 964M2391 1031L2428 960"/><path class=bc d="M2169 1050l32-2 32-2 31-2 32-3 38-69-32 4-32 3-31 3-32 3zM2201 1048L2239 982M2233 1046L2270 979M2264 1044L2302 976"/><path class=bk d="M2043 1060l32-3 31-2 32-3 31-2 38-65-32 3-31 3-32 4-31 3zM2075 1057L2112 995M2106 1055L2144 991M2138 1052L2175 988"/><path class=S d="M1916 1070l32-2 32-3 31-2 32-3 38-62-32 3-32 4-31 3-32 3zM1948 1068L1986 1008M1980 1065L2017 1005M2011 1063L2049 1001"/><path class=aZ d="M1790 1073l32 0 31 0 32-1 31-2 38-59-32 2-31 2-32 1-31 1zM1822 1073L1859 1016M1853 1073L1891 1015M1885 1072L1922 1013"/><path class=aS d="M1663 1063l32 5 32 2 31 2 32 1 38-56-32-1-32 0-31-2-32-4zM1695 1068L1733 1014M1727 1070L1764 1016M1758 1072L1796 1016"/><path class=az d="M1600 1041l32 14 31 8 38-53-31-6-32-10zM1632 1055L1670 1004"/><path class=ab d="M1537 1004l32 20 31 17 38-47-32-14-31-15zM1569 1024L1606 980"/><path class=z d="M1505 984l32 20 38-39-32-16z"/><path class=x d="M1442 947l32 18 31 19 38-35-32-15-31-15zM1474 965L1511 934"/><path class=G d="M1379 911l32 18 31 18 38-28-32-15-31-15zM1411 929L1448 904"/><path class=D d="M1347 892l32 19 38-22-32-17z"/><path class=y d="M1284 847l32 24 31 21 38-20-32-19-31-21zM1316 871L1353 853"/><path class=r d="M1221 793l31 28 32 26 38-15-32-24-32-25zM1252 821L1290 808"/><path class=d d="M1189 760l32 33 37-10-31-29z"/><path class=p d="M1158 724l31 36 38-6-32-34z"/><path class=aL d="M1126 679l32 45 37-4-31-44z"/><path class=ap d="M1140 632l24 44-38 3-28-51z"/><path class=S d="M3092 822l32-7 32-8 31-7 32-7 38-75-32 7-32 7-31 8-32 7zM3124 815L3162 740M3156 807L3193 732M3187 800L3225 725"/><path class=S d="M2966 853l32-8 31-8 32-7 31-8 38-75-32 8-31 8-32 7-31 8zM2998 845L3035 770M3029 837L3067 763M3061 830L3098 755"/><path class=S d="M2839 882l32-7 32-7 31-8 32-7 38-75-32 8-32 8-31 8-32 8zM2871 875L2909 802M2903 868L2940 794M2934 860L2972 786"/><path class=S d="M2713 910l32-7 31-7 32-7 31-7 38-72-31 8-32 8-32 7-31 8zM2745 903L2782 833M2776 896L2814 826M2808 889L2846 818"/><path class=S d="M2587 934l31-6 32-6 31-6 32-6 38-69-32 7-32 7-31 7-32 7zM2618 928L2656 862M2650 922L2687 855M2681 916L2719 848"/><path class=S d="M2460 955l32-5 31-5 32-5 32-6 37-65-31 7-32 6-32 6-31 6zM2492 950L2529 888M2523 945L2561 882M2555 940L2593 876"/><path class=aZ d="M2334 972l31-4 32-4 31-4 32-5 38-61-32 6-32 6-31 5-32 5zM2365 968L2403 911M2397 964L2434 906M2428 960L2466 900"/><path class=aZ d="M2207 985l32-3 31-3 32-3 32-4 37-56-31 5-32 4-32 4-31 4zM2239 982L2276 929M2270 979L2308 925M2302 976L2340 921"/><path class=aS d="M2081 998l31-3 32-4 31-3 32-3 38-52-32 4-32 4-31 4-32 5zM2112 995L2150 945M2144 991L2181 941M2175 988L2213 937"/><path class=aA d="M1954 1011l32-3 31-3 32-4 32-3 37-48-31 4-32 4-32 3-31 4zM1986 1008L2023 961M2017 1005L2055 958M2049 1001L2087 954"/><path class=aA d="M1828 1017l31-1 32-1 31-2 32-2 38-46-32 3-32 3-31 2-32 1zM1859 1016L1897 973M1891 1015L1928 971M1922 1013L1960 968"/><path class=bi d="M1701 1010l32 4 31 2 32 0 32 1 37-43-31 1-32 0-32-1-31-2zM1733 1014L1770 974M1764 1016L1802 975M1796 1016L1834 975"/><path class=ag d="M1606 980l32 14 32 10 31 6 38-38-32-5-31-8-32-10zM1638 994L1676 959M1670 1004L1707 967"/><path class=v d="M1543 949l32 16 31 15 38-31-32-12-31-13zM1575 965L1612 937"/><path class=O d="M1480 919l31 15 32 15 38-25-32-14-32-13zM1511 934L1549 910"/><path class=F d="M1448 904l32 15 37-22-31-13z"/><path class=J d="M1385 872l32 17 31 15 38-20-32-14-31-15zM1417 889L1454 870"/><path class=A d="M1322 832l31 21 32 19 38-17-32-17-32-19zM1353 853L1391 838"/><path class=b d="M1258 783l32 25 32 24 37-13-31-21-32-23zM1290 808L1328 798"/><path class=m d="M1227 754l31 29 38-8-32-27z"/><path class=L d="M1195 720l32 34 37-6-31-33z"/><path class=aL d="M1164 676l31 44 38-5-32-44z"/><path class=ap d="M1182 637l19 34-37 5-24-44z"/><path class=az d="M3130 747l32-7 31-8 32-7 32-7 37-73-31 8-32 7-32 8-31 8zM3162 740L3199 668M3193 732L3231 660M3225 725L3263 653"/><path class=az d="M3004 778l31-8 32-7 31-8 32-8 38-71-32 9-32 8-31 9-32 9zM3035 770L3073 702M3067 763L3104 693M3098 755L3136 685"/><path class=az d="M2877 810l32-8 31-8 32-8 32-8 37-67-31 9-32 9-32 9-31 9zM2909 802L2946 738M2940 794L2978 729M2972 786L3010 720"/><path class=aA d="M2751 841l31-8 32-7 32-8 31-8 38-63-32 9-31 9-32 9-32 9zM2782 833L2820 774M2814 826L2852 765M2846 818L2883 756"/><path class=aA d="M2624 869l32-7 31-7 32-7 32-7 37-58-31 8-32 9-32 8-31 8zM2656 862L2693 808M2687 855L2725 800M2719 848L2757 791"/><path class=aA d="M2498 894l31-6 32-6 32-6 31-7 38-53-32 8-31 8-32 7-32 8zM2529 888L2567 839M2561 882L2599 832M2593 876L2630 824"/><path class=aA d="M2371 916l32-5 31-5 32-6 32-6 37-47-31 7-32 7-32 6-31 7zM2403 911L2440 867M2434 906L2472 861M2466 900L2504 854"/><path class=az d="M2245 933l31-4 32-4 32-4 31-5 38-42-32 6-31 5-32 5-32 5zM2276 929L2314 890M2308 925L2346 885M2340 921L2377 880"/><path class=az d="M2118 950l32-5 31-4 32-4 32-4 37-38-31 5-32 5-32 5-31 5zM2150 945L2187 910M2181 941L2219 905M2213 937L2251 900"/><path class=bi d="M1992 965l31-4 32-3 32-4 31-4 38-35-32 4-31 5-32 4-32 4zM2023 961L2061 928M2055 958L2093 924M2087 954L2124 919"/><path class=ab d="M1865 974l32-1 31-2 32-3 32-3 37-33-31 4-32 3-31 2-32 2zM1897 973L1935 941M1928 971L1966 939M1960 968L1998 936"/><path class=ag d="M1739 972l31 2 32 1 32 0 31-1 38-31-32 2-31 0-32 0-32-1zM1770 974L1808 945M1802 975L1840 945M1834 975L1871 945"/><path class=z d="M1676 959l31 8 32 5 37-28-31-4-32-6zM1707 967L1745 940"/><path class=x d="M1612 937l32 12 32 10 37-25-31-9-32-10zM1644 949L1682 925"/><path class=G d="M1549 910l32 14 31 13 38-22-32-12-31-11zM1581 924L1618 903"/><path class=D d="M1486 884l31 13 32 13 38-18-32-12-32-12zM1517 897L1555 880"/><path class=y d="M1423 855l31 15 32 14 37-16-31-12-32-14zM1454 870L1492 856"/><path class=t d="M1359 819l32 19 32 17 37-13-31-15-32-17zM1391 838L1429 827"/><path class=b d="M1328 798l31 21 38-9-32-19z"/><path class=d d="M1264 748l32 27 32 23 37-7-31-23-32-27zM1296 775L1334 768"/><path class=L d="M1233 715l31 33 38-7-32-33z"/><path class=T d="M1201 671l32 44 37-7-31-43z"/><path class=ac d="M1225 641l14 24-38 6-19-34z"/><path class=ag d="M3168 676l31-8 32-8 32-7 31-8 38-66-32 8-31 9-32 9-32 9zM3199 668L3237 605M3231 660L3269 596M3263 653L3300 587"/><path class=ag d="M3041 711l32-9 31-9 32-8 32-9 37-62-31 9-32 10-31 10-32 11zM3073 702L3111 643M3104 693L3142 633M3136 685L3174 623"/><path class=ag d="M2915 747l31-9 32-9 32-9 31-9 38-57-32 10-31 11-32 10-32 11zM2946 738L2984 685M2978 729L3016 675M3010 720L3047 664"/><path class=ag d="M2788 783l32-9 32-9 31-9 32-9 37-51-31 10-32 11-31 10-32 11zM2820 774L2858 727M2852 765L2889 717M2883 756L2921 706"/><path class=ab d="M2662 816l31-8 32-8 32-9 31-8 38-45-32 10-31 10-32 10-32 9zM2693 808L2731 768M2725 800L2763 758M2757 791L2794 748"/><path class=ab d="M2535 847l32-8 32-7 31-8 32-8 37-39-31 9-32 9-31 9-32 8zM2567 839L2605 804M2599 832L2636 795M2630 824L2668 786"/><path class=ab d="M2409 874l31-7 32-6 32-7 31-7 38-35-32 8-31 8-32 8-32 7zM2440 867L2478 836M2472 861L2510 828M2504 854L2541 820"/><path class=ab d="M2282 895l32-5 32-5 31-5 32-6 37-31-31 7-32 6-31 6-32 5zM2314 890L2352 862M2346 885L2383 856M2377 880L2415 850"/><path class=ab d="M2156 915l31-5 32-5 32-5 31-5 38-28-32 6-31 5-32 6-32 5zM2187 910L2225 884M2219 905L2257 878M2251 900L2288 873"/><path class=ag d="M2029 932l32-4 32-4 31-5 32-4 37-26-31 5-32 5-31 5-32 4zM2061 928L2099 904M2093 924L2130 899M2124 919L2162 894"/><path class=ag d="M1903 943l32-2 31-2 32-3 31-4 38-24-32 4-31 3-32 3-31 2zM1935 941L1972 918M1966 939L2004 915M1998 936L2035 912"/><path class=z d="M1776 944l32 1 32 0 31 0 32-2 38-23-32 2-32 1-31 0-32-1zM1808 945L1846 923M1840 945L1877 923M1871 945L1909 922"/><path class=x d="M1682 925l31 9 32 6 31 4 38-22-32-3-31-5-32-8zM1713 934L1751 914M1745 940L1782 919"/><path class=G d="M1618 903l32 12 32 10 37-19-31-9-32-10zM1650 915L1688 897"/><path class=D d="M1555 880l32 12 31 11 38-16-32-10-31-10zM1587 892L1624 877"/><path class=y d="M1492 856l31 12 32 12 38-13-32-10-32-11zM1523 868L1561 857"/><path class=t d="M1429 827l31 15 32 14 37-10-31-12-32-15zM1460 842L1498 834"/><path class=b d="M1365 791l32 19 32 17 37-8-31-16-32-19zM1397 810L1435 803"/><path class=d d="M1334 768l31 23 38-7-32-23z"/><path class=p d="M1302 741l32 27 37-7-31-27z"/><path class=E d="M1270 708l32 33 38-7-32-33z"/><path class=T d="M1239 665l31 43 38-7-32-41z"/><path class=ac d="M1267 645l9 15-37 5-14-24z"/><path class=O d="M3205 614l32-9 32-9 31-9 32-8 38-56-32 10-32 10-31 10-32 11zM3237 605L3275 553M3269 596L3306 543M3300 587L3338 533"/><path class=x d="M3079 654l32-11 31-10 32-10 31-9 38-50-32 11-31 12-32 11-31 12zM3111 643L3148 598M3142 633L3180 587M3174 623L3211 575"/><path class=x d="M2952 696l32-11 32-10 31-11 32-10 38-44-32 12-32 12-31 12-32 12zM2984 685L3022 646M3016 675L3053 634M3047 664L3085 622"/><path class=v d="M2826 738l32-11 31-10 32-11 31-10 38-38-32 12-31 12-32 12-31 12zM2858 727L2895 694M2889 717L2927 682M2921 706L2958 670"/><path class=z d="M2699 777l32-9 32-10 31-10 32-10 38-32-32 11-32 11-31 10-32 11zM2731 768L2769 738M2763 758L2800 728M2794 748L2832 717"/><path class=z d="M2573 812l32-8 31-9 32-9 31-9 38-28-32 10-31 9-32 10-31 9zM2605 804L2642 778M2636 795L2674 768M2668 786L2705 759"/><path class=ag d="M2446 843l32-7 32-8 31-8 32-8 38-25-32 9-32 8-31 8-32 8zM2478 836L2516 812M2510 828L2547 804M2541 820L2579 796"/><path class=ag d="M2320 867l32-5 31-6 32-6 31-7 38-23-32 7-31 6-32 7-31 6zM2352 862L2389 840M2383 856L2421 833M2415 850L2452 827"/><path class=z d="M2193 889l32-5 32-6 31-5 32-6 38-21-32 5-32 6-31 6-32 6zM2225 884L2263 863M2257 878L2294 857M2288 873L2326 851"/><path class=z d="M2067 908l32-4 31-5 32-5 31-5 38-20-31 5-32 5-32 5-31 5zM2099 904L2136 884M2130 899L2168 879M2162 894L2200 874"/><path class=v d="M1941 920l31-2 32-3 31-3 32-4 38-19-32 4-32 4-31 3-32 2zM1972 918L2010 900M2004 915L2041 897M2035 912L2073 893"/><path class=x d="M1814 922l32 1 31 0 32-1 32-2 37-18-31 2-32 1-32 1-31-1zM1846 923L1883 906M1877 923L1915 905M1909 922L1947 904"/><path class=O d="M1719 906l32 8 31 5 32 3 38-17-32-2-32-5-31-6zM1751 914L1788 898M1782 919L1820 903"/><path class=F d="M1656 887l32 10 31 9 38-14-32-8-31-8zM1688 897L1725 884"/><path class=J d="M1561 857l32 10 31 10 32 10 38-11-32-9-32-9-31-9zM1593 867L1630 858M1624 877L1662 867"/><path class=A d="M1498 834l31 12 32 11 38-8-32-11-32-11zM1529 846L1567 838"/><path class=r d="M1435 803l31 16 32 15 37-7-31-14-32-17zM1466 819L1504 813"/><path class=d d="M1371 761l32 23 32 19 37-7-31-19-32-23zM1403 784L1441 777"/><path class=L d="M1340 734l31 27 38-7-32-27z"/><path class=aL d="M1308 701l32 33 37-7-31-31z"/><path class=ap d="M1276 660l32 41 38-5-32-37z"/><path class=ac d="M1308 650l6 9-38 1-9-15z"/><path class=F d="M3243 564l32-11 31-10 32-10 32-10 37-39-31 11-32 11-32 12-31 12zM3275 553L3312 518M3306 543L3344 506M3338 533L3376 495"/><path class=F d="M3117 610l31-12 32-11 31-12 32-11 38-34-32 13-32 12-31 13-32 13zM3148 598L3186 568M3180 587L3217 555M3211 575L3249 543"/><path class=G d="M2990 658l32-12 31-12 32-12 32-12 37-29-31 13-32 13-32 13-31 12zM3022 646L3059 620M3053 634L3091 607M3085 622L3123 594"/><path class=O d="M2864 706l31-12 32-12 31-12 32-12 38-26-32 13-32 13-31 12-32 12zM2895 694L2933 670M2927 682L2964 658M2958 670L2996 645"/><path class=x d="M2737 749l32-11 31-10 32-11 32-11 37-24-31 12-32 11-32 11-31 11zM2769 738L2806 716M2800 728L2838 705M2832 717L2870 694"/><path class=v d="M2611 787l31-9 32-10 31-9 32-10 38-22-32 10-32 11-31 9-32 10zM2642 778L2680 757M2674 768L2711 748M2705 759L2743 737"/><path class=v d="M2484 820l32-8 31-8 32-8 32-9 37-20-31 9-32 9-32 8-31 8zM2516 812L2553 793M2547 804L2585 785M2579 796L2617 776"/><path class=v d="M2358 846l31-6 32-7 31-6 32-7 38-19-32 8-31 6-32 7-32 6zM2389 840L2427 822M2421 833L2459 815M2452 827L2490 809"/><path class=v d="M2231 869l32-6 31-6 32-6 32-5 37-18-31 7-32 6-32 6-31 6zM2263 863L2300 847M2294 857L2332 841M2326 851L2364 835"/><path class=v d="M2105 889l31-5 32-5 32-5 31-5 38-16-32 6-31 5-32 5-32 5zM2136 884L2174 869M2168 879L2206 864M2200 874L2237 859"/><path class=x d="M1978 902l32-2 31-3 32-4 32-4 37-15-31 4-32 4-32 3-31 3zM2010 900L2047 885M2041 897L2079 882M2073 893L2111 878"/><path class=O d="M1852 905l31 1 32-1 32-1 31-2 38-14-32 2-31 2-32 0-32 0zM1883 906L1921 892M1915 905L1953 892M1947 904L1984 890"/><path class=G d="M1757 892l31 6 32 5 32 2 37-13-31-1-32-4-32-5zM1788 898L1826 887M1820 903L1858 891"/><path class=D d="M1662 867l32 9 31 8 32 8 37-10-31-7-32-7-31-8zM1694 876L1731 868M1725 884L1763 875"/><path class=y d="M1599 849l31 9 32 9 38-7-32-9-32-9zM1630 858L1668 851"/><path class=t d="M1535 827l32 11 32 11 37-7-31-10-32-12zM1567 838L1605 832"/><path class=b d="M1472 796l32 17 31 14 38-7-32-15-31-16zM1504 813L1541 805"/><path class=d d="M1441 777l31 19 38-7-32-19z"/><path class=p d="M1377 727l32 27 32 23 37-7-31-22-32-25zM1409 754L1447 748"/><path class=aL d="M1346 696l31 31 38-4-32-28z"/><path class=ap d="M1314 659l32 37 37-1-31-33z"/><path class=ac d="M1346 655l6 7-38-3-6-9z"/><path class=J d="M3281 530l31-12 32-12 32-11 31-11 38-25-32 12-31 12-32 12-32 12zM3312 518L3350 495M3344 506L3382 483M3376 495L3413 471"/><path class=D d="M3154 581l32-13 31-13 32-12 32-13 37-23-31 13-32 13-32 13-31 14zM3186 568L3223 546M3217 555L3255 533M3249 543L3287 520"/><path class=F d="M3028 632l31-12 32-13 32-13 31-13 38-21-32 13-31 13-32 14-32 13zM3059 620L3097 600M3091 607L3129 586M3123 594L3160 573"/><path class=G d="M2901 682l32-12 31-12 32-13 32-13 37-19-31 13-32 13-32 13-31 12zM2933 670L2970 652M2964 658L3002 639M2996 645L3034 626"/><path class=O d="M2775 727l31-11 32-11 32-11 31-12 38-18-32 12-31 12-32 11-32 11zM2806 716L2844 699M2838 705L2876 688M2870 694L2907 676"/><path class=x d="M2648 767l32-10 31-9 32-11 32-10 37-17-31 11-32 10-32 10-31 10zM2680 757L2717 741M2711 748L2749 731M2743 737L2781 721"/><path class=x d="M2522 801l31-8 32-8 32-9 31-9 38-16-32 9-31 9-32 9-32 8zM2553 793L2591 778M2585 785L2623 769M2617 776L2654 760"/><path class=x d="M2395 828l32-6 32-7 31-6 32-8 37-15-31 8-32 7-31 7-32 7zM2427 822L2465 808M2459 815L2496 801M2490 809L2528 794"/><path class=x d="M2269 853l31-6 32-6 32-6 31-7 38-13-32 7-31 6-32 7-32 6zM2300 847L2338 835M2332 841L2370 828M2364 835L2401 822"/><path class=x d="M2142 874l32-5 32-5 31-5 32-6 37-12-31 6-32 5-31 6-32 5zM2174 869L2212 858M2206 864L2243 852M2237 859L2275 847"/><path class=O d="M2016 888l31-3 32-3 32-4 31-4 38-11-32 4-31 4-32 4-32 3zM2047 885L2085 875M2079 882L2117 871M2111 878L2148 867"/><path class=G d="M1889 892l32 0 32 0 31-2 32-2 37-10-31 2-32 2-31 1-32 0zM1921 892L1959 883M1953 892L1990 882M1984 890L2022 880"/><path class=F d="M1794 882l32 5 32 4 31 1 38-9-32-1-31-3-32-5zM1826 887L1864 879M1858 891L1895 882"/><path class=J d="M1700 860l31 8 32 7 31 7 38-8-32-6-31-7-32-8zM1731 868L1769 861M1763 875L1800 868"/><path class=A d="M1636 842l32 9 32 9 37-7-31-9-32-9zM1668 851L1706 844"/><path class=r d="M1541 805l32 15 32 12 31 10 38-7-32-11-31-12-32-14zM1573 820L1611 812M1605 832L1642 824"/><path class=d d="M1478 770l32 19 31 16 38-7-31-15-32-18zM1510 789L1548 783"/><path class=p d="M1447 748l31 22 38-5-32-20z"/><path class=E d="M1383 695l32 28 32 25 37-3-31-23-32-25zM1415 723L1453 722"/><path class=ap d="M1352 662l31 33 38 2-32-30z"/><path class=ac d="M1384 660l5 7-37-5-6-7z"/><path class=y d="M3318 507l32-12 32-12 31-12 32-12 37-16-31 11-32 12-31 13-32 13zM3350 495L3388 479M3382 483L3419 466M3413 471L3451 454"/><path class=J d="M3192 560l31-14 32-13 32-13 31-13 38-15-32 13-31 13-32 13-32 14zM3223 546L3261 531M3255 533L3293 518M3287 520L3324 505"/><path class=D d="M3065 613l32-13 32-14 31-13 32-13 37-15-31 13-32 14-31 13-32 14zM3097 600L3135 585M3129 586L3166 572M3160 573L3198 558"/><path class=F d="M2939 664l31-12 32-13 32-13 31-13 38-14-32 13-31 13-32 13-32 13zM2970 652L3008 638M3002 639L3040 625M3034 626L3071 612"/><path class=G d="M2812 710l32-11 32-11 31-12 32-12 37-13-31 12-32 12-31 11-32 12zM2844 699L2882 686M2876 688L2913 675M2907 676L2945 663"/><path class=O d="M2686 751l31-10 32-10 32-10 31-11 38-12-32 11-31 10-32 10-31 10zM2717 741L2755 729M2749 731L2787 719M2781 721L2818 709"/><path class=O d="M2559 786l32-8 32-9 31-9 32-9 38-12-32 10-32 9-31 9-32 8zM2591 778L2629 767M2623 769L2660 758M2654 760L2692 749"/><path class=O d="M2433 815l32-7 31-7 32-7 31-8 38-11-32 8-31 8-32 7-31 7zM2465 808L2502 798M2496 801L2534 791M2528 794L2565 783"/><path class=O d="M2306 841l32-6 32-7 31-6 32-7 38-10-32 7-32 6-31 7-32 6zM2338 835L2376 825M2370 828L2407 818M2401 822L2439 812"/><path class=O d="M2180 863l32-5 31-6 32-5 31-6 38-10-32 7-31 5-32 6-31 5zM2212 858L2249 849M2243 852L2281 843M2275 847L2312 838"/><path class=O d="M2053 878l32-3 32-4 31-4 32-4 38-9-32 5-32 4-31 4-32 3zM2085 875L2123 867M2117 871L2154 863M2148 867L2186 859"/><path class=G d="M1927 883l32 0 31-1 32-2 31-2 38-8-32 2-31 2-32 1-31 0zM1959 883L1996 875M1990 882L2028 874M2022 880L2059 872"/><path class=D d="M1800 868l32 6 32 5 31 3 32 1 38-8-32-1-32-2-31-5-32-6zM1832 874L1870 867M1864 879L1901 872M1895 882L1933 874"/><path class=y d="M1706 844l31 9 32 8 31 7 38-7-32-8-31-8-32-9zM1737 853L1775 845M1769 861L1806 853"/><path class=t d="M1642 824l32 11 32 9 37-8-31-9-32-10zM1674 835L1712 827"/><path class=b d="M1579 798l32 14 31 12 38-7-32-12-31-12zM1611 812L1648 805"/><path class=d d="M1516 765l32 18 31 15 38-5-32-15-31-16zM1548 783L1585 778"/><path class=L d="M1453 722l31 23 32 20 38-3-32-17-32-20zM1484 745L1522 745"/><path class=aL d="M1421 697l32 25 37 3-31-23z"/><path class=ap d="M1389 667l32 30 38 5-32-28z"/><path class=ac d="M1420 666l7 8-38-7-5-7z"/><path class=A d="M3356 492l32-13 31-13 32-12 31-11 38-10-32 12-31 12-32 12-31 13zM3388 479L3425 469M3419 466L3457 457M3451 454L3488 445"/><path class=y d="M3229 545l32-14 32-13 31-13 32-13 38-10-32 13-32 13-31 13-32 14zM3261 531L3299 521M3293 518L3330 508M3324 505L3362 495"/><path class=J d="M3103 599l32-14 31-13 32-14 31-13 38-10-32 13-31 14-32 14-31 13zM3135 585L3172 576M3166 572L3204 562M3198 558L3235 548"/><path class=D d="M2976 651l32-13 32-13 31-13 32-13 38-10-32 13-32 14-31 12-32 13zM3008 638L3046 628M3040 625L3077 616M3071 612L3109 602"/><path class=F d="M2850 698l32-12 31-11 32-12 31-12 38-10-32 12-31 12-32 12-31 11zM2882 686L2919 677M2913 675L2951 665M2945 663L2982 653"/><path class=G d="M2724 739l31-10 32-10 31-10 32-11 38-10-32 11-32 11-31 10-32 10zM2755 729L2793 720M2787 719L2824 710M2818 709L2856 699"/><path class=G d="M2597 775l32-8 31-9 32-9 32-10 37-9-31 9-32 9-32 9-31 9zM2629 767L2666 757M2660 758L2698 748M2692 749L2730 739"/><path class=O d="M2471 805l31-7 32-7 31-8 32-8 38-9-32 8-32 8-31 7-32 7zM2502 798L2540 789M2534 791L2571 782M2565 783L2603 774"/><path class=G d="M2344 831l32-6 31-7 32-6 32-7 37-9-31 7-32 7-32 6-31 7zM2376 825L2413 816M2407 818L2445 810M2439 812L2477 803"/><path class=G d="M2218 854l31-5 32-6 31-5 32-7 38-8-32 6-32 6-31 5-32 6zM2249 849L2287 840M2281 843L2318 835M2312 838L2350 829"/><path class=G d="M2091 870l32-3 31-4 32-4 32-5 37-8-31 4-32 5-32 3-31 3zM2123 867L2160 858M2154 863L2192 855M2186 859L2224 850"/><path class=F d="M1965 875l31 0 32-1 31-2 32-2 38-9-32 3-32 2-31 1-32 0zM1996 875L2034 867M2028 874L2065 866M2059 872L2097 864"/><path class=D d="M1870 867l31 5 32 2 32 1 37-8-31-1-32-3-32-5zM1901 872L1939 863M1933 874L1971 866"/><path class=y d="M1775 845l31 8 32 8 32 6 37-9-31-6-32-8-31-8zM1806 853L1844 844M1838 861L1876 852"/><path class=t d="M1712 827l31 9 32 9 38-9-32-8-32-8zM1743 836L1781 828"/><path class=b d="M1648 805l32 12 32 10 37-7-31-10-32-10zM1680 817L1718 810"/><path class=d d="M1585 778l32 15 31 12 38-5-32-11-31-12zM1617 793L1654 789"/><path class=p d="M1522 745l32 17 31 16 38-1-32-14-31-16zM1554 762L1591 763"/><path class=E d="M1490 725l32 20 38 2-32-18z"/><path class=T d="M1427 674l32 28 31 23 38 4-32-21-31-26zM1459 702L1496 708"/><path class=ac d="M1454 672l11 10-38-8-7-8z"/><path class=t d="M3394 482l31-13 32-12 31-12 32-12 38-6-32 12-32 12-31 12-32 13zM3425 469L3463 463M3457 457L3494 451M3488 445L3526 439"/><path class=A d="M3267 535l32-14 31-13 32-13 32-13 37-6-31 12-32 14-32 13-31 13zM3299 521L3336 515M3330 508L3368 502M3362 495L3400 488"/><path class=y d="M3141 589l31-13 32-14 31-14 32-13 38-7-32 14-32 13-31 13-32 14zM3172 576L3210 568M3204 562L3241 555M3235 548L3273 542"/><path class=J d="M3014 641l32-13 31-12 32-14 32-13 37-7-31 13-32 13-32 13-31 12zM3046 628L3083 621M3077 616L3115 608M3109 602L3147 595"/><path class=D d="M2888 688l31-11 32-12 31-12 32-12 38-8-32 12-31 12-32 12-32 11zM2919 677L2957 669M2951 665L2989 657M2982 653L3020 645"/><path class=F d="M2761 730l32-10 31-10 32-11 32-11 37-8-31 10-32 11-32 10-31 10zM2793 720L2830 711M2824 710L2862 701M2856 699L2894 690"/><path class=G d="M2635 766l31-9 32-9 32-9 31-9 38-9-32 9-31 9-32 9-32 8zM2666 757L2704 748M2698 748L2736 739M2730 739L2767 730"/><path class=G d="M2508 796l32-7 31-7 32-8 32-8 37-10-31 8-32 8-32 7-31 7zM2540 789L2577 779M2571 782L2609 772M2603 774L2641 764"/><path class=G d="M2382 823l31-7 32-6 32-7 31-7 38-10-32 7-31 6-32 7-32 6zM2413 816L2451 806M2445 810L2483 799M2477 803L2514 793"/><path class=G d="M2255 846l32-6 31-5 32-6 32-6 37-11-31 7-32 6-32 5-31 5zM2287 840L2324 830M2318 835L2356 825M2350 829L2388 819"/><path class=F d="M2129 861l31-3 32-3 32-5 31-4 38-11-32 5-31 4-32 4-32 3zM2160 858L2198 848M2192 855L2230 844M2224 850L2261 840"/><path class=D d="M2002 867l32 0 31-1 32-2 32-3 37-10-31 3-32 1-32 2-31 0zM2034 867L2071 857M2065 866L2103 855M2097 864L2135 854"/><path class=J d="M1907 858l32 5 32 3 31 1 38-10-32-1-31-3-32-4zM1939 863L1977 853M1971 866L2008 856"/><path class=A d="M1813 836l31 8 32 8 31 6 38-9-32-6-31-7-32-7zM1844 844L1882 836M1876 852L1913 843"/><path class=r d="M1718 810l31 10 32 8 32 8 37-7-31-7-32-8-32-8zM1749 820L1787 814M1781 828L1819 822"/><path class=a d="M1654 789l32 11 32 10 37-4-31-8-32-10zM1686 800L1724 798"/><path class=m d="M1591 763l32 14 31 12 38-1-32-11-31-12zM1623 777L1660 777"/><path class=L d="M1528 729l32 18 31 16 38 2-32-15-31-16zM1560 747L1597 750"/><path class=T d="M1465 682l31 26 32 21 38 5-32-19-32-23zM1496 708L1534 715"/><path class=ac d="M1485 679l17 13-37-10-11-10z"/><path class=t d="M3431 476l32-13 31-12 32-12 32-12 37-3-31 12-32 11-32 12-31 12zM3463 463L3500 459M3494 451L3532 447M3526 439L3564 436"/><path class=t d="M3305 528l31-13 32-13 32-14 31-12 38-5-32 13-31 13-32 13-32 13zM3336 515L3374 510M3368 502L3406 497M3400 488L3437 484"/><path class=A d="M3178 582l32-14 31-13 32-13 32-14 37-5-31 13-32 13-31 13-32 13zM3210 568L3248 562M3241 555L3279 549M3273 542L3311 536"/><path class=J d="M3052 633l31-12 32-13 32-13 31-13 38-7-32 13-31 13-32 12-32 12zM3083 621L3121 613M3115 608L3153 601M3147 595L3184 588"/><path class=D d="M2925 680l32-11 32-12 31-12 32-12 37-8-31 12-32 11-31 12-32 10zM2957 669L2995 660M2989 657L3026 648M3020 645L3058 637"/><path class=D d="M2799 721l31-10 32-10 32-11 31-10 38-10-32 11-31 10-32 10-32 9zM2830 711L2868 701M2862 701L2900 691M2894 690L2931 681"/><path class=F d="M2672 756l32-8 32-9 31-9 32-9 37-11-31 9-32 9-31 8-32 9zM2704 748L2742 736M2736 739L2773 728M2767 730L2805 719"/><path class=F d="M2546 786l31-7 32-7 32-8 31-8 38-11-32 7-31 8-32 7-32 7zM2577 779L2615 767M2609 772L2647 760M2641 764L2678 752"/><path class=F d="M2419 812l32-6 32-7 31-6 32-7 37-12-31 7-32 7-31 6-32 7zM2451 806L2489 794M2483 799L2520 788M2514 793L2552 781"/><path class=F d="M2293 835l31-5 32-5 32-6 31-7 38-11-32 6-31 6-32 5-32 6zM2324 830L2362 818M2356 825L2394 813M2388 819L2425 807"/><path class=D d="M2166 851l32-3 32-4 31-4 32-5 37-11-31 4-32 5-31 4-32 3zM2198 848L2236 837M2230 844L2267 833M2261 840L2299 828"/><path class=D d="M2040 857l31 0 32-2 32-1 31-3 38-11-32 2-31 3-32 1-31 1zM2071 857L2109 846M2103 855L2141 845M2135 854L2172 842"/><path class=y d="M1913 843l32 6 32 4 31 3 32 1 38-10-32-1-32-3-31-4-32-5zM1945 849L1983 839M1977 853L2014 843M2008 856L2046 846"/><path class=t d="M1819 822l31 7 32 7 31 7 38-9-32-5-31-6-32-6zM1850 829L1888 823M1882 836L1919 829"/><path class=b d="M1755 806l32 8 32 8 37-5-31-6-32-7zM1787 814L1825 811"/><path class=d d="M1660 777l32 11 32 10 31 8 38-2-32-7-31-9-32-10zM1692 788L1730 788M1724 798L1761 797"/><path class=p d="M1597 750l32 15 31 12 38 1-32-11-31-13zM1629 765L1666 767"/><path class=E d="M1534 715l32 19 31 16 38 4-32-14-31-17zM1566 734L1603 740"/><path class=ap d="M1502 692l32 23 38 8-32-19z"/><path class=ac d="M1516 686l24 18-38-12-17-13z"/><path class=r d="M3469 471l31-12 32-12 32-11 31-12 38-2-32 11-31 12-32 11-32 12zM3500 459L3538 456M3532 447L3570 445M3564 436L3601 433"/><path class=t d="M3342 523l32-13 32-13 31-13 32-13 37-3-31 12-32 13-31 12-32 13zM3374 510L3412 505M3406 497L3443 493M3437 484L3475 480"/><path class=A d="M3216 575l32-13 31-13 32-13 31-13 38-5-32 12-31 13-32 13-31 12zM3248 562L3285 556M3279 549L3317 543M3311 536L3348 530"/><path class=y d="M3089 625l32-12 32-12 31-13 32-13 38-7-32 13-32 12-31 12-32 11zM3121 613L3159 605M3153 601L3190 593M3184 588L3222 581"/><path class=J d="M2963 670l32-10 31-12 32-11 31-12 38-9-32 12-31 11-32 11-31 10zM2995 660L3032 650M3026 648L3064 639M3058 637L3095 628"/><path class=D d="M2836 710l32-9 32-10 31-10 32-11 38-10-32 10-32 10-31 9-32 9zM2868 701L2906 689M2900 691L2937 680M2931 681L2969 670"/><path class=D d="M2710 745l32-9 31-8 32-9 31-9 38-12-32 9-31 9-32 8-31 8zM2742 736L2779 724M2773 728L2811 716M2805 719L2842 707"/><path class=D d="M2583 774l32-7 32-7 31-8 32-7 38-13-32 8-32 7-31 7-32 8zM2615 767L2653 754M2647 760L2684 747M2678 752L2716 740"/><path class=D d="M2457 801l32-7 31-6 32-7 31-7 38-12-32 6-31 7-32 7-31 6zM2489 794L2526 782M2520 788L2558 775M2552 781L2589 768"/><path class=D d="M2330 824l32-6 32-5 31-6 32-6 38-13-32 7-32 6-31 5-32 6zM2362 818L2400 806M2394 813L2431 801M2425 807L2463 795"/><path class=J d="M2204 840l32-3 31-4 32-5 31-4 38-12-31 5-32 4-32 4-31 4zM2236 837L2273 825M2267 833L2305 821M2299 828L2337 817"/><path class=J d="M2078 847l31-1 32-1 31-3 32-2 38-11-32 3-32 2-31 2-32 1zM2109 846L2147 836M2141 845L2178 834M2172 842L2210 832"/><path class=y d="M1983 839l31 4 32 3 32 1 37-10-31 0-32-2-32-3zM2014 843L2052 835M2046 846L2084 837"/><path class=t d="M1888 823l31 6 32 5 32 5 37-7-31-4-32-4-32-5zM1919 829L1957 824M1951 834L1989 828"/><path class=b d="M1793 804l32 7 31 6 32 6 37-4-31-5-32-5-31-6zM1825 811L1862 809M1856 817L1894 814"/><path class=d d="M1698 778l32 10 31 9 32 7 38-1-32-6-32-8-31-9zM1730 788L1767 789M1761 797L1799 797"/><path class=p d="M1635 754l31 13 32 11 38 2-32-10-32-11zM1666 767L1704 770"/><path class=E d="M1572 723l31 17 32 14 37 5-31-13-32-15zM1603 740L1641 746"/><path class=ap d="M1540 704l32 19 37 8-31-17z"/><path class=ac d="M1546 693l32 21-38-10-24-18z"/><path class=r d="M3506 468l32-12 32-11 31-12 32-11 38-1-32 11-32 10-31 12-32 11zM3538 456L3576 454M3570 445L3607 442M3601 433L3639 432"/><path class=t d="M3380 518l32-13 31-12 32-13 31-12 38-3-31 12-32 11-32 12-31 13zM3412 505L3449 500M3443 493L3481 488M3475 480L3513 477"/><path class=t d="M3254 568l31-12 32-13 31-13 32-12 38-5-32 12-32 12-31 12-32 12zM3285 556L3323 549M3317 543L3354 537M3348 530L3386 525"/><path class=A d="M3127 616l32-11 31-12 32-12 32-13 37-7-31 12-32 12-32 11-31 12zM3159 605L3196 596M3190 593L3228 585M3222 581L3260 573"/><path class=y d="M3001 660l31-10 32-11 31-11 32-12 38-8-32 11-32 10-31 10-32 11zM3032 650L3070 639M3064 639L3101 629M3095 628L3133 619"/><path class=J d="M2874 698l32-9 31-9 32-10 32-10 37-10-31 9-32 10-32 9-31 9zM2906 689L2943 678M2937 680L2975 669M2969 670L3007 659"/><path class=J d="M2748 732l31-8 32-8 31-9 32-9 38-11-32 9-32 8-31 8-32 8zM2779 724L2817 712M2811 716L2848 704M2842 707L2880 696"/><path class=J d="M2621 762l32-8 31-7 32-7 32-8 37-12-31 8-32 7-32 8-31 7zM2653 754L2690 743M2684 747L2722 735M2716 740L2754 728"/><path class=J d="M2495 788l31-6 32-7 31-7 32-6 38-12-32 7-32 7-31 6-32 7zM2526 782L2564 770M2558 775L2595 764M2589 768L2627 757"/><path class=J d="M2368 812l32-6 31-5 32-6 32-7 37-11-31 7-32 6-32 6-31 5zM2400 806L2437 796M2431 801L2469 790M2463 795L2501 784"/><path class=J d="M2242 829l31-4 32-4 32-4 31-5 38-11-32 5-31 5-32 4-32 4zM2273 825L2311 815M2305 821L2343 811M2337 817L2374 806"/><path class=y d="M2115 837l32-1 31-2 32-2 32-3 37-10-31 3-32 3-32 2-31 2zM2147 836L2184 827M2178 834L2216 825M2210 832L2248 822"/><path class=A d="M2020 832l32 3 32 2 31 0 38-8-32 0-31 0-32-2zM2052 835L2090 829M2084 837L2121 829"/><path class=r d="M1894 814l31 5 32 5 32 4 31 4 38-5-32-3-31-4-32-4-32-4zM1925 819L1963 816M1957 824L1995 820M1989 828L2026 824"/><path class=a d="M1799 797l32 6 31 6 32 5 37-2-31-4-32-5-31-6zM1831 803L1868 803M1862 809L1900 808"/><path class=m d="M1704 770l32 10 31 9 32 8 38 0-32-7-32-7-31-9zM1736 780L1773 783M1767 789L1805 790"/><path class=L d="M1641 746l31 13 32 11 38 4-32-10-32-11zM1672 759L1710 764"/><path class=aL d="M1578 714l31 17 32 15 37 7-31-12-32-16zM1609 731L1647 741"/><path class=ac d="M1548 694l36 12 31 19-37-11-32-21z"/><path class=b d="M3544 465l32-11 31-12 32-10 32-11 37-1-31 10-32 11-32 10-31 11zM3576 454L3613 451M3607 442L3645 441M3639 432L3677 430"/><path class=r d="M3418 513l31-13 32-12 32-11 31-12 38-3-32 12-31 11-32 11-32 12zM3449 500L3487 496M3481 488L3519 485M3513 477L3550 474"/><path class=t d="M3291 561l32-12 31-12 32-12 32-12 37-5-31 12-32 11-32 12-31 12zM3323 549L3360 543M3354 537L3392 531M3386 525L3424 520"/><path class=A d="M3165 608l31-12 32-11 32-12 31-12 38-6-32 11-31 11-32 11-32 11zM3196 596L3234 588M3228 585L3266 577M3260 573L3297 566"/><path class=A d="M3038 650l32-11 31-10 32-10 32-11 37-9-31 11-32 10-32 10-31 10zM3070 639L3107 630M3101 629L3139 620M3133 619L3171 610"/><path class=y d="M2912 687l31-9 32-9 32-10 31-9 38-10-32 9-31 10-32 9-32 9zM2943 678L2981 668M2975 669L3013 659M3007 659L3044 649"/><path class=y d="M2785 720l32-8 31-8 32-8 32-9 37-10-31 8-32 8-32 9-31 8zM2817 712L2854 702M2848 704L2886 693M2880 696L2918 685"/><path class=y d="M2659 750l31-7 32-8 32-7 31-8 38-10-32 7-31 8-32 7-32 8zM2690 743L2728 732M2722 735L2760 725M2754 728L2791 717"/><path class=y d="M2532 777l32-7 31-6 32-7 32-7 37-10-31 7-32 7-31 7-32 7zM2564 770L2602 761M2595 764L2633 754M2627 757L2665 747"/><path class=y d="M2406 801l31-5 32-6 32-6 31-7 38-9-32 7-31 6-32 6-32 6zM2437 796L2475 787M2469 790L2507 781M2501 784L2538 775"/><path class=y d="M2279 819l32-4 32-4 31-5 32-5 37-8-31 5-32 5-31 5-32 4zM2311 815L2349 808M2343 811L2380 803M2374 806L2412 798"/><path class=A d="M2153 829l31-2 32-2 32-3 31-3 38-7-32 3-31 4-32 2-32 2zM2184 827L2222 821M2216 825L2254 819M2248 822L2285 815"/><path class=t d="M2026 824l32 3 32 2 31 0 32 0 37-6-31 1-32 0-31-2-32-2zM2058 827L2096 822M2090 829L2127 824M2121 829L2159 824"/><path class=b d="M1900 808l31 4 32 4 32 4 31 4 38-4-32-3-31-3-32-3-32-4zM1931 812L1969 811M1963 816L2001 814M1995 820L2032 817"/><path class=d d="M1805 790l32 7 31 6 32 5 37-1-31-4-32-5-31-5zM1837 797L1874 798M1868 803L1906 803"/><path class=p d="M1710 764l32 10 31 9 32 7 38 3-32-7-32-7-31-8zM1742 774L1779 779M1773 783L1811 786"/><path class=E d="M1647 741l31 12 32 11 38 7-32-9-32-12zM1678 753L1716 762"/><path class=T d="M1584 706l31 19 32 16 37 9-31-15-32-17zM1615 725L1653 735"/><path class=b d="M3582 462l31-11 32-10 32-11 31-10 38 0-32 10-31 10-32 10-32 11zM3613 451L3651 450M3645 441L3683 440M3677 430L3714 430"/><path class=r d="M3455 508l32-12 32-11 31-11 32-12 37-1-31 10-32 11-31 11-32 11zM3487 496L3525 493M3519 485L3556 482M3550 474L3588 471"/><path class=r d="M3329 555l31-12 32-12 32-11 31-12 38-4-32 12-31 11-32 11-32 11zM3360 543L3398 538M3392 531L3430 527M3424 520L3461 516"/><path class=t d="M3202 599l32-11 32-11 31-11 32-11 37-6-31 11-32 11-31 11-32 11zM3234 588L3272 582M3266 577L3303 571M3297 566L3335 560"/><path class=A d="M3076 640l31-10 32-10 32-10 31-11 38-6-32 10-31 10-32 10-32 9zM3107 630L3145 623M3139 620L3177 613M3171 610L3208 603"/><path class=A d="M2949 677l32-9 32-9 31-10 32-9 37-8-31 10-32 9-31 9-32 8zM2981 668L3019 660M3013 659L3050 651M3044 649L3082 642"/><path class=y d="M2823 710l31-8 32-9 32-8 31-8 38-9-32 9-31 8-32 8-32 8zM2854 702L2892 693M2886 693L2924 685M2918 685L2955 677"/><path class=y d="M2696 740l32-8 32-7 31-8 32-7 37-9-31 8-32 8-31 7-32 8zM2728 732L2766 724M2760 725L2797 717M2791 717L2829 709"/><path class=y d="M2570 768l32-7 31-7 32-7 31-7 38-8-32 7-31 7-32 7-31 7zM2602 761L2639 753M2633 754L2671 746M2665 747L2702 739"/><path class=y d="M2443 793l32-6 32-6 31-6 32-7 38-8-32 7-32 6-31 7-32 5zM2475 787L2513 780M2507 781L2544 773M2538 775L2576 767"/><path class=A d="M2317 812l32-4 31-5 32-5 31-5 38-8-32 6-31 5-32 5-31 4zM2349 808L2386 801M2380 803L2418 796M2412 798L2449 791"/><path class=A d="M2190 823l32-2 32-2 31-4 32-3 38-7-32 4-32 3-31 3-32 3zM2222 821L2260 815M2254 819L2291 812M2285 815L2323 809"/><path class=t d="M2064 820l32 2 31 2 32 0 31-1 38-5-32 1-31 0-32 0-31-2zM2096 822L2133 819M2127 824L2165 819M2159 824L2196 819"/><path class=b d="M1937 807l32 4 32 3 31 3 32 3 38-3-32-2-32-2-31-3-32-2zM1969 811L2007 810M2001 814L2038 813M2032 817L2070 815"/><path class=d d="M1843 793l31 5 32 5 31 4 38 1-32-4-31-3-32-4zM1874 798L1912 801M1906 803L1943 804"/><path class=p d="M1748 771l31 8 32 7 32 7 37 4-31-5-32-6-32-8zM1779 779L1817 786M1811 786L1849 792"/><path class=E d="M1684 750l32 12 32 9 37 7-31-8-32-11zM1716 762L1754 770"/><path class=T d="M1621 718l32 17 31 15 38 9-31-13-32-14zM1653 735L1691 746"/><path class=b d="M3619 461l32-11 32-10 31-10 32-10 38 1-32 9-32 10-31 9-32 11zM3651 450L3689 449M3683 440L3720 440M3714 430L3752 430"/><path class=b d="M3493 504l32-11 31-11 32-11 31-10 38-1-32 10-31 11-32 10-31 11zM3525 493L3562 491M3556 482L3594 481M3588 471L3625 470"/><path class=r d="M3366 549l32-11 32-11 31-11 32-12 38-2-32 11-32 11-31 11-32 10zM3398 538L3436 535M3430 527L3467 524M3461 516L3499 513"/><path class=t d="M3240 593l32-11 31-11 32-11 31-11 38-4-32 11-31 11-32 10-31 11zM3272 582L3309 577M3303 571L3341 567M3335 560L3372 556"/><path class=t d="M3113 632l32-9 32-10 31-10 32-10 38-5-32 10-32 9-31 10-32 9zM3145 623L3183 617M3177 613L3214 607M3208 603L3246 598"/><path class=A d="M2987 668l32-8 31-9 32-9 31-10 38-6-32 9-31 9-32 9-31 8zM3019 660L3056 653M3050 651L3088 644M3082 642L3119 635"/><path class=A d="M2860 701l32-8 32-8 31-8 32-9 38-7-32 9-32 8-31 8-32 8zM2892 693L2930 686M2924 685L2961 678M2955 677L2993 670"/><path class=A d="M2734 732l32-8 31-7 32-8 31-8 38-7-31 8-32 7-32 8-31 7zM2766 724L2803 717M2797 717L2835 709M2829 709L2867 702"/><path class=A d="M2608 760l31-7 32-7 31-7 32-7 38-8-32 8-32 7-31 7-32 7zM2639 753L2677 746M2671 746L2708 739M2702 739L2740 732"/><path class=A d="M2481 785l32-5 31-7 32-6 32-7 37-7-31 7-32 6-32 6-31 7zM2513 780L2550 772M2544 773L2582 766M2576 767L2614 760"/><path class=A d="M2355 805l31-4 32-5 31-5 32-6 38-6-32 5-32 6-31 5-32 4zM2386 801L2424 795M2418 796L2455 790M2449 791L2487 784"/><path class=t d="M2228 818l32-3 31-3 32-3 32-4 37-6-31 4-32 4-32 3-31 3zM2260 815L2297 810M2291 812L2329 807M2323 809L2361 803"/><path class=r d="M2102 817l31 2 32 0 31 0 32-1 38-5-32 2-32 1-31 0-32-1zM2133 819L2171 816M2165 819L2202 816M2196 819L2234 815"/><path class=b d="M2007 810l31 3 32 2 32 2 37-2-31-1-32-1-32-2zM2038 813L2076 813M2070 815L2108 814"/><path class=d d="M1880 797l32 4 31 3 32 4 32 2 37 1-31-2-32-2-32-2-31-4zM1912 801L1949 805M1943 804L1981 807M1975 808L2013 809"/><path class=p d="M1785 778l32 8 32 6 31 5 38 4-32-4-31-5-32-6zM1817 786L1855 792M1849 792L1886 797"/><path class=E d="M1722 759l32 11 31 8 38 8-32-8-31-9zM1754 770L1791 778"/><path class=T d="M1659 732l32 14 31 13 38 10-32-11-31-13zM1691 746L1728 758"/><path class=b d="M3657 460l32-11 31-9 32-10 32-9 37 0-31 9-32 10-32 10-31 9zM3689 449L3726 450M3720 440L3758 440M3752 430L3790 430"/><path class=b d="M3531 502l31-11 32-10 31-11 32-10 38-1-32 11-32 10-31 10-32 11zM3562 491L3600 490M3594 481L3631 480M3625 470L3663 470"/><path class=r d="M3404 545l32-10 31-11 32-11 32-11 37-1-31 10-32 11-32 10-31 10zM3436 535L3473 532M3467 524L3505 522M3499 513L3537 511"/><path class=r d="M3278 588l31-11 32-10 31-11 32-11 38-3-32 11-32 10-31 10-32 10zM3309 577L3347 573M3341 567L3378 563M3372 556L3410 553"/><path class=t d="M3151 626l32-9 31-10 32-9 32-10 37-5-31 10-32 9-32 10-31 9zM3183 617L3220 612M3214 607L3252 602M3246 598L3284 593"/><path class=t d="M3025 661l31-8 32-9 31-9 32-9 38-5-32 8-31 9-32 9-32 8zM3056 653L3094 647M3088 644L3126 638M3119 635L3157 629"/><path class=t d="M2898 694l32-8 31-8 32-8 32-9 37-6-31 8-32 8-32 8-31 8zM2930 686L2967 679M2961 678L2999 671M2993 670L3031 663"/><path class=t d="M2772 724l31-7 32-8 32-7 31-8 38-7-32 8-31 7-32 8-32 7zM2803 717L2841 710M2835 709L2873 702M2867 702L2904 695"/><path class=t d="M2645 753l32-7 31-7 32-7 32-8 37-7-31 8-32 7-32 7-31 7zM2677 746L2714 739M2708 739L2746 732M2740 732L2778 725"/><path class=t d="M2519 779l31-7 32-6 32-6 31-7 38-7-32 7-31 7-32 6-32 6zM2550 772L2588 766M2582 766L2620 760M2614 760L2651 753"/><path class=t d="M2392 799l32-4 31-5 32-6 32-5 37-7-31 6-32 6-32 5-31 5zM2424 795L2461 789M2455 790L2493 784M2487 784L2525 778"/><path class=t d="M2266 813l31-3 32-3 32-4 31-4 38-5-32 4-31 4-32 4-32 3zM2297 810L2335 806M2329 807L2367 802M2361 803L2398 798"/><path class=r d="M2139 815l32 1 31 0 32-1 32-2 37-4-31 3-32 1-32 1-31 0zM2171 816L2208 814M2202 816L2240 813M2234 815L2272 812"/><path class=a d="M2013 809l31 2 32 2 32 1 31 1 38-1-32 0-31 0-32-1-32-1zM2044 811L2082 813M2076 813L2114 814M2108 814L2145 814"/><path class=d d="M1918 801l31 4 32 2 32 2 37 3-31-1-32-2-31-3zM1949 805L1987 809M1981 807L2019 811"/><path class=p d="M1823 786l32 6 31 5 32 4 38 5-32-3-32-5-31-5zM1855 792L1892 798M1886 797L1924 803"/><path class=E d="M1728 758l32 11 31 9 32 8 38 7-32-6-32-8-31-9zM1760 769L1797 779M1791 778L1829 787"/><path class=T d="M1697 745l31 13 38 12-32-10z"/><path class=a d="M3695 459l31-9 32-10 32-10 31-9 38 1-32 9-31 10-32 9-32 10zM3726 450L3764 450M3758 440L3796 441M3790 430L3827 431"/><path class=b d="M3568 501l32-11 31-10 32-10 32-11 37 1-31 10-32 9-32 10-31 11zM3600 490L3637 489M3631 480L3669 479M3663 470L3701 470"/><path class=b d="M3442 542l31-10 32-10 32-11 31-10 38-1-32 10-31 10-32 10-32 10zM3473 532L3511 530M3505 522L3543 520M3537 511L3574 510"/><path class=r d="M3315 583l32-10 31-10 32-10 32-11 37-2-31 10-32 10-32 10-31 9zM3347 573L3384 570M3378 563L3416 560M3410 553L3448 550"/><path class=r d="M3189 621l31-9 32-10 32-9 31-10 38-4-32 10-31 9-32 9-32 9zM3220 612L3258 607M3252 602L3290 598M3284 593L3321 589"/><path class=t d="M3062 655l32-8 32-9 31-9 32-8 37-5-31 8-32 9-31 8-32 8zM3094 647L3132 641M3126 638L3163 633M3157 629L3195 624"/><path class=t d="M2936 687l31-8 32-8 32-8 31-8 38-6-32 8-31 8-32 8-32 8zM2967 679L3005 673M2999 671L3037 665M3031 663L3068 657"/><path class=t d="M2809 717l32-7 32-8 31-7 32-8 37-6-31 7-32 8-31 8-32 7zM2841 710L2879 704M2873 702L2910 696M2904 695L2942 688"/><path class=t d="M2683 746l31-7 32-7 32-7 31-8 38-6-32 8-31 7-32 7-32 7zM2714 739L2752 733M2746 732L2784 726M2778 725L2815 719"/><path class=t d="M2556 772l32-6 32-6 31-7 32-7 37-6-31 7-32 7-31 7-32 6zM2588 766L2626 761M2620 760L2657 754M2651 753L2689 747"/><path class=t d="M2430 794l31-5 32-5 32-6 31-6 38-5-32 6-31 6-32 6-32 5zM2461 789L2499 785M2493 784L2531 779M2525 778L2562 773"/><path class=r d="M2303 809l32-3 32-4 31-4 32-4 37-4-31 5-32 4-31 4-32 4zM2335 806L2373 803M2367 802L2404 799M2398 798L2436 795"/><path class=b d="M2177 814l31 0 32-1 32-1 31-3 38-2-32 3-31 2-32 2-31 1zM2208 814L2246 814M2240 813L2278 812M2272 812L2309 810"/><path class=a d="M2050 812l32 1 32 1 31 0 32 0 38 1-32 0-32 1-31 0-32-1zM2082 813L2120 816M2114 814L2151 816M2145 814L2183 815"/><path class=d d="M1956 806l31 3 32 2 31 1 38 3-32 0-31-2-32-2zM1987 809L2025 813M2019 811L2056 815"/><path class=p d="M1861 793l31 5 32 5 32 3 37 5-31-2-32-4-32-4zM1892 798L1930 805M1924 803L1962 809"/><path class=E d="M1766 770l31 9 32 8 32 6 37 8-31-5-32-6-32-7zM1797 779L1835 790M1829 787L1867 796"/><path class=T d="M1734 760l32 10 37 13-31-7z"/><path class=a d="M3732 460l32-10 32-9 31-10 32-9 37 2-31 9-32 9-31 9-32 10zM3764 450L3802 451M3796 441L3833 442M3827 431L3865 433"/><path class=b d="M3606 500l31-11 32-10 32-9 31-10 38 1-32 9-31 10-32 10-32 9zM3637 489L3675 490M3669 479L3707 480M3701 470L3738 470"/><path class=b d="M3479 540l32-10 32-10 31-10 32-10 37-1-31 10-32 10-31 10-32 10zM3511 530L3549 529M3543 520L3580 519M3574 510L3612 509"/><path class=b d="M3353 579l31-9 32-10 32-10 31-10 38-1-32 9-31 10-32 9-31 9zM3384 570L3422 567M3416 560L3454 558M3448 550L3485 548"/><path class=r d="M3226 616l32-9 32-9 31-9 32-10 38-3-32 10-32 8-31 9-32 9zM3258 607L3296 603M3290 598L3327 594M3321 589L3359 586"/><path class=r d="M3100 649l32-8 31-8 32-9 31-8 38-4-32 8-31 8-32 9-31 8zM3132 641L3169 637M3163 633L3201 628M3195 624L3232 620"/><path class=r d="M2973 681l32-8 32-8 31-8 32-8 38-4-32 8-32 7-31 8-32 8zM3005 673L3043 668M3037 665L3074 660M3068 657L3106 653"/><path class=r d="M2847 711l32-7 31-8 32-8 31-7 38-5-32 8-31 7-32 8-31 7zM2879 704L2916 699M2910 696L2948 691M2942 688L2979 684"/><path class=r d="M2720 740l32-7 32-7 31-7 32-8 38-5-32 8-32 7-31 8-32 7zM2752 733L2790 729M2784 726L2821 721M2815 719L2853 714"/><path class=r d="M2594 767l32-6 31-7 32-7 31-7 38-4-32 7-31 7-32 7-31 6zM2626 761L2663 757M2657 754L2695 750M2689 747L2726 743"/><path class=r d="M2467 790l32-5 32-6 31-6 32-6 38-4-32 7-32 6-31 6-32 5zM2499 785L2537 782M2531 779L2568 776M2562 773L2600 770"/><path class=r d="M2341 807l32-4 31-4 32-4 31-5 38-3-32 5-31 5-32 5-31 4zM2373 803L2410 802M2404 799L2442 797M2436 795L2473 792"/><path class=b d="M2215 815l31-1 32-2 31-2 32-3 38-1-32 3-32 3-31 2-32 2zM2246 814L2284 814M2278 812L2315 812M2309 810L2347 809"/><path class=a d="M2088 815l32 1 31 0 32-1 32 0 37 1-31 1-32 1-32 0-31 1zM2120 816L2157 818M2151 816L2189 818M2183 815L2221 817"/><path class=m d="M1962 809l31 2 32 2 31 2 32 0 38 4-32 0-32-1-31-1-32-2zM1993 811L2031 817M2025 813L2062 818M2056 815L2094 819"/><path class=p d="M1867 796l31 5 32 4 32 4 37 6-31-2-32-3-32-4zM1898 801L1936 810M1930 805L1968 813"/><path class=E d="M1772 776l31 7 32 7 32 6 37 10-31-4-32-5-32-6zM1803 783L1841 797M1835 790L1873 802"/><path class=a d="M3770 461l32-10 31-9 32-9 31-9 38 2-32 9-31 9-32 9-31 9zM3802 451L3839 453M3833 442L3871 444M3865 433L3902 435"/><path class=a d="M3643 499l32-9 32-10 31-10 32-9 38 1-32 10-32 9-31 9-32 10zM3675 490L3713 490M3707 480L3744 481M3738 470L3776 472"/><path class=b d="M3517 539l32-10 31-10 32-10 31-10 38 1-32 10-31 9-32 10-31 9zM3549 529L3586 529M3580 519L3618 519M3612 509L3649 510"/><path class=b d="M3391 576l31-9 32-9 31-10 32-9 38-1-32 9-32 10-31 9-32 9zM3422 567L3460 566M3454 558L3491 557M3485 548L3523 547"/><path class=b d="M3264 612l32-9 31-9 32-8 32-10 37-1-31 9-32 8-32 9-31 8zM3296 603L3333 601M3327 594L3365 592M3359 586L3397 584"/><path class=r d="M3138 645l31-8 32-9 31-8 32-8 38-3-32 8-32 9-31 8-32 8zM3169 637L3207 634M3201 628L3238 626M3232 620L3270 617"/><path class=r d="M3011 676l32-8 31-8 32-7 32-8 37-3-31 7-32 8-32 8-31 8zM3043 668L3080 665M3074 660L3112 657M3106 653L3144 649"/><path class=r d="M2885 706l31-7 32-8 31-7 32-8 38-3-32 7-32 8-31 8-32 7zM2916 699L2954 696M2948 691L2985 688M2979 684L3017 680"/><path class=r d="M2758 736l32-7 31-8 32-7 32-8 37-3-31 8-32 8-32 7-31 7zM2790 729L2827 726M2821 721L2859 719M2853 714L2891 711"/><path class=r d="M2632 763l31-6 32-7 31-7 32-7 38-3-32 7-32 8-31 6-32 7zM2663 757L2701 754M2695 750L2732 748M2726 743L2764 740"/><path class=r d="M2505 787l32-5 31-6 32-6 32-7 37-2-31 7-32 6-32 6-31 6zM2537 782L2574 780M2568 776L2606 774M2600 770L2638 768"/><path class=b d="M2379 806l31-4 32-5 31-5 32-5 38-1-32 5-31 5-32 5-32 4zM2410 802L2448 801M2442 797L2480 796M2473 792L2511 791"/><path class=b d="M2252 816l32-2 31-2 32-3 32-3 37-1-31 4-32 3-32 3-31 2zM2284 814L2321 815M2315 812L2353 812M2347 809L2385 809"/><path class=a d="M2126 819l31-1 32 0 32-1 31-1 38 1-32 2-31 1-32 2-32 1zM2157 818L2195 822M2189 818L2227 820M2221 817L2258 819"/><path class=m d="M1999 815l32 2 31 1 32 1 32 0 37 4-31 1-32 0-32 0-31-1zM2031 817L2068 824M2062 818L2100 824M2094 819L2132 824"/><path class=p d="M1904 806l32 4 32 3 31 2 38 8-32-1-31-2-32-2zM1936 810L1974 820M1968 813L2005 822"/><path class=E d="M1809 791l32 6 32 5 31 4 38 12-32-2-31-3-32-5zM1841 797L1879 813M1873 802L1910 816"/><path class=a d="M3808 462l31-9 32-9 31-9 32-9 38 3-32 9-32 9-31 9-32 9zM3839 453L3877 456M3871 444L3908 447M3902 435L3940 438"/><path class=a d="M3681 500l32-10 31-9 32-9 32-10 37 3-31 9-32 9-32 9-31 10zM3713 490L3750 492M3744 481L3782 483M3776 472L3814 474"/><path class=b d="M3555 538l31-9 32-10 31-9 32-10 38 2-32 9-31 9-32 9-32 10zM3586 529L3624 529M3618 519L3656 520M3649 510L3687 511"/><path class=b d="M3428 575l32-9 31-9 32-10 32-9 37 1-31 9-32 9-32 9-31 9zM3460 566L3497 566M3491 557L3529 557M3523 547L3561 548"/><path class=b d="M3302 609l31-8 32-9 32-8 31-9 38 0-32 8-31 9-32 8-32 8zM3333 601L3371 600M3365 592L3403 592M3397 584L3434 583"/><path class=b d="M3175 642l32-8 31-8 32-9 32-8 37-1-31 8-32 8-32 8-31 8zM3207 634L3244 632M3238 626L3276 624M3270 617L3308 616"/><path class=b d="M3049 673l31-8 32-8 32-8 31-7 38-2-32 8-31 7-32 8-32 8zM3080 665L3118 663M3112 657L3150 655M3144 649L3181 648"/><path class=b d="M2922 703l32-7 31-8 32-8 32-7 37-2-31 7-32 8-32 8-31 7zM2954 696L2991 694M2985 688L3023 686M3017 680L3055 678"/><path class=b d="M2796 733l31-7 32-7 32-8 31-8 38-2-32 8-31 7-32 8-32 7zM2827 726L2865 724M2859 719L2897 716M2891 711L2928 709"/><path class=b d="M2669 761l32-7 31-6 32-8 32-7 37-2-31 7-32 7-32 7-31 7zM2701 754L2738 752M2732 748L2770 745M2764 740L2802 738"/><path class=b d="M2543 786l31-6 32-6 32-6 31-7 38-2-32 7-31 6-32 6-32 6zM2574 780L2612 778M2606 774L2644 772M2638 768L2675 766"/><path class=b d="M2416 805l32-4 32-5 31-5 32-5 37-2-31 6-32 5-31 5-32 5zM2448 801L2486 800M2480 796L2517 795M2511 791L2549 790"/><path class=a d="M2290 817l31-2 32-3 32-3 31-4 38 0-32 4-31 4-32 3-32 3zM2321 815L2359 816M2353 812L2391 813M2385 809L2422 809"/><path class=a d="M2163 823l32-1 32-2 31-1 32-2 37 2-31 2-32 2-31 2-32 2zM2195 822L2233 825M2227 820L2264 823M2258 819L2296 821"/><path class=m d="M2037 823l31 1 32 0 32 0 31-1 38 4-32 2-31 1-32 1-32 0zM2068 824L2106 831M2100 824L2138 830M2132 824L2169 829"/><path class=p d="M1910 816l32 2 32 2 31 2 32 1 37 8-31 1-32-1-31 0-32-1zM1942 818L1980 831M1974 820L2011 831M2005 822L2043 832"/><path class=E d="M1847 808l32 5 31 3 38 14-32-2-31-3zM1879 813L1916 828"/><path class=a d="M3845 465l32-9 31-9 32-9 32-9 37 4-31 8-32 9-32 9-31 9zM3877 456L3914 459M3908 447L3946 450M3940 438L3978 441"/><path class=a d="M3719 502l31-10 32-9 32-9 31-9 38 3-32 9-31 9-32 9-32 9zM3750 492L3788 495M3782 483L3820 486M3814 474L3851 477"/><path class=a d="M3592 539l32-10 32-9 31-9 32-9 37 2-31 9-32 10-31 8-32 9zM3624 529L3662 531M3656 520L3693 523M3687 511L3725 513"/><path class=b d="M3466 575l31-9 32-9 32-9 31-9 38 1-32 9-31 9-32 9-32 8zM3497 566L3535 567M3529 557L3567 558M3561 548L3598 549"/><path class=b d="M3339 608l32-8 32-8 31-9 32-8 37 0-31 9-32 8-31 8-32 8zM3371 600L3409 600M3403 592L3440 592M3434 583L3472 584"/><path class=b d="M3213 640l31-8 32-8 32-8 31-8 38 0-32 8-31 8-32 7-32 8zM3244 632L3282 631M3276 624L3314 624M3308 616L3345 616"/><path class=b d="M3086 671l32-8 32-8 31-7 32-8 37-1-31 7-32 8-31 8-32 7zM3118 663L3156 662M3150 655L3187 654M3181 648L3219 646"/><path class=b d="M2960 701l31-7 32-8 32-8 31-7 38-2-32 8-31 7-32 8-32 7zM2991 694L3029 692M3023 686L3061 684M3055 678L3092 677"/><path class=b d="M2833 731l32-7 32-8 31-7 32-8 37-2-31 8-32 7-31 8-32 7zM2865 724L2903 722M2897 716L2934 714M2928 709L2966 707"/><path class=b d="M2707 759l31-7 32-7 32-7 31-7 38-2-32 8-31 7-32 7-31 7zM2738 752L2776 751M2770 745L2808 744M2802 738L2839 737"/><path class=b d="M2580 784l32-6 32-6 31-6 32-7 38-1-32 6-32 7-31 6-32 6zM2612 778L2650 777M2644 772L2681 771M2675 766L2713 764"/><path class=b d="M2454 805l32-5 31-5 32-5 31-6 38-1-32 6-31 6-32 5-31 5zM2486 800L2523 800M2517 795L2555 795M2549 790L2586 789"/><path class=a d="M2327 819l32-3 32-3 31-4 32-4 38 0-32 5-32 4-31 4-32 3zM2359 816L2397 818M2391 813L2428 814M2422 809L2460 810"/><path class=d d="M2201 827l32-2 31-2 32-2 31-2 38 2-32 3-31 3-32 3-31 2zM2233 825L2270 830M2264 823L2302 827M2296 821L2333 824"/><path class=m d="M2074 831l32 0 32-1 31-1 32-2 38 5-32 3-32 2-31 2-32 1zM2106 831L2144 839M2138 830L2175 837M2169 829L2207 835"/><path class=p d="M1948 830l32 1 31 0 32 1 31-1 38 9-32 2-31 1-32 1-31 0zM1980 831L2017 844M2011 831L2049 843M2043 832L2080 842"/><path class=L d="M1885 825l31 3 32 2 38 14-32-1-32-1zM1916 828L1954 843"/><path class=a d="M3883 468l31-9 32-9 32-9 31-8 38 4-32 9-31 9-32 9-31 9zM3914 459L3952 464M3946 450L3984 455M3978 441L4015 446"/><path class=a d="M3756 504l32-9 32-9 31-9 32-9 38 5-32 8-32 9-31 9-32 9zM3788 495L3826 499M3820 486L3857 490M3851 477L3889 481"/><path class=a d="M3630 540l32-9 31-8 32-10 31-9 38 4-32 9-31 8-32 9-31 9zM3662 531L3699 534M3693 523L3731 525M3725 513L3762 517"/><path class=a d="M3503 575l32-8 32-9 31-9 32-9 38 3-32 8-32 9-31 8-32 8zM3535 567L3573 568M3567 558L3604 560M3598 549L3636 551"/><path class=b d="M3377 608l32-8 31-8 32-8 31-9 38 1-32 9-31 8-32 7-31 8zM3409 600L3446 600M3440 592L3478 593M3472 584L3509 585"/><path class=b d="M3250 639l32-8 32-7 31-8 32-8 38 0-32 8-32 8-31 7-32 8zM3282 631L3320 631M3314 624L3351 624M3345 616L3383 616"/><path class=b d="M3124 669l32-7 31-8 32-8 31-7 38 0-32 7-31 7-32 8-31 7zM3156 662L3193 661M3187 654L3225 653M3219 646L3256 646"/><path class=b d="M2997 699l32-7 32-8 31-7 32-8 38-1-32 8-32 7-31 8-32 7zM3029 692L3067 691M3061 684L3098 683M3092 677L3130 676"/><path class=b d="M2871 729l32-7 31-8 32-7 31-8 38-1-31 8-32 7-32 8-31 7zM2903 722L2940 721M2934 714L2972 713M2966 707L3004 706"/><path class=b d="M2745 758l31-7 32-7 31-7 32-8 38-1-32 8-32 7-31 7-32 7zM2776 751L2814 750M2808 744L2845 743M2839 737L2877 736"/><path class=b d="M2618 783l32-6 31-6 32-7 32-6 37-1-31 7-32 7-32 6-31 6zM2650 777L2687 777M2681 771L2719 771M2713 764L2751 764"/><path class=a d="M2492 805l31-5 32-5 31-6 32-6 38 0-32 6-32 6-31 6-32 5zM2523 800L2561 801M2555 795L2592 795M2586 789L2624 789"/><path class=a d="M2365 821l32-3 31-4 32-4 32-5 37 1-31 5-32 5-32 4-31 4zM2397 818L2434 820M2428 814L2466 816M2460 810L2498 811"/><path class=d d="M2239 832l31-2 32-3 31-3 32-3 38 3-32 3-32 4-31 3-32 4zM2270 830L2308 834M2302 827L2339 831M2333 824L2371 827"/><path class=m d="M2112 840l32-1 31-2 32-2 32-3 37 6-31 3-32 3-32 3-31 3zM2144 839L2181 847M2175 837L2213 844M2207 835L2245 841"/><path class=p d="M1986 844l31 0 32-1 31-1 32-2 38 10-32 2-32 2-31 2-32 1zM2017 844L2055 856M2049 843L2086 854M2080 842L2118 852"/><path class=L d="M1922 842l32 1 32 1 37 13-31 0-32 0zM1954 843L1992 857"/><path class=a d="M3921 473l31-9 32-9 31-9 32-9 38 6-32 9-32 8-31 9-32 9zM3952 464L3990 469M3984 455L4021 460M4015 446L4053 452"/><path class=a d="M3794 508l32-9 31-9 32-9 32-8 37 5-31 8-32 9-32 9-31 8zM3826 499L3863 504M3857 490L3895 495M3889 481L3927 486"/><path class=a d="M3668 543l31-9 32-9 31-8 32-9 38 4-32 9-32 8-31 9-32 8zM3699 534L3737 538M3731 525L3768 529M3762 517L3800 521"/><path class=a d="M3541 576l32-8 31-8 32-9 32-8 37 3-31 8-32 9-32 8-31 8zM3573 568L3610 571M3604 560L3642 563M3636 551L3674 554"/><path class=a d="M3415 608l31-8 32-7 31-8 32-9 38 3-32 8-32 7-31 8-32 8zM3446 600L3484 602M3478 593L3515 594M3509 585L3547 587"/><path class=b d="M3288 639l32-8 31-7 32-8 32-8 37 2-31 7-32 8-32 7-31 7zM3320 631L3357 632M3351 624L3389 625M3383 616L3421 617"/><path class=b d="M3162 668l31-7 32-8 31-7 32-7 38 0-32 8-32 7-31 7-32 8zM3193 661L3231 661M3225 653L3262 654M3256 646L3294 647"/><path class=a d="M3035 698l32-7 31-8 32-7 32-8 37 1-31 7-32 7-32 8-31 8zM3067 691L3104 691M3098 683L3136 683M3130 676L3168 676"/><path class=a d="M2909 728l31-7 32-8 32-7 31-8 38 1-32 7-31 8-32 7-32 7zM2940 721L2978 721M2972 713L3010 714M3004 706L3041 706"/><path class=a d="M2782 757l32-7 31-7 32-7 32-8 37 0-31 8-32 7-32 7-31 7zM2814 750L2851 750M2845 743L2883 743M2877 736L2915 736"/><path class=a d="M2656 783l31-6 32-6 32-7 31-7 38 0-32 7-31 7-32 7-32 6zM2687 777L2725 778M2719 771L2757 771M2751 764L2788 764"/><path class=a d="M2529 806l32-5 31-6 32-6 32-6 37 1-31 6-32 6-32 6-31 6zM2561 801L2598 802M2592 795L2630 796M2624 789L2662 790"/><path class=a d="M2403 824l31-4 32-4 32-5 31-5 38 2-32 5-31 5-32 5-32 4zM2434 820L2472 823M2466 816L2504 818M2498 811L2535 813"/><path class=d d="M2276 838l32-4 31-3 32-4 32-3 37 3-31 4-32 5-32 4-31 4zM2308 834L2345 840M2339 831L2377 836M2371 827L2409 831"/><path class=m d="M2150 850l31-3 32-3 32-3 31-3 38 6-32 4-31 4-32 3-32 3zM2181 847L2219 855M2213 844L2251 852M2245 841L2282 848"/><path class=m d="M2023 857l32-1 31-2 32-2 32-2 37 8-31 3-32 3-31 2-32 2zM2055 856L2093 866M2086 854L2124 864M2118 852L2156 861"/><path class=L d="M1960 857l32 0 31 0 38 11-32 1-31 1zM1992 857L2029 869"/><path class=a d="M3958 478l32-9 31-9 32-8 32-9 37 7-31 8-32 9-32 8-31 9zM3990 469L4027 475M4021 460L4059 467M4053 452L4091 458"/><path class=a d="M3832 512l31-8 32-9 32-9 31-8 38 6-32 8-31 8-32 9-32 8zM3863 504L3901 509M3895 495L3933 500M3927 486L3964 492"/><path class=a d="M3705 546l32-8 31-9 32-8 32-9 37 5-31 8-32 9-32 8-31 8zM3737 538L3774 542M3768 529L3806 534M3800 521L3838 525"/><path class=a d="M3579 579l31-8 32-8 32-9 31-8 38 4-32 8-31 8-32 8-32 8zM3610 571L3648 574M3642 563L3680 566M3674 554L3711 558"/><path class=a d="M3452 610l32-8 31-8 32-7 32-8 37 3-31 7-32 8-32 8-31 7zM3484 602L3521 605M3515 594L3553 597M3547 587L3585 589"/><path class=a d="M3326 639l31-7 32-7 32-8 31-7 38 2-32 7-31 8-32 7-32 7zM3357 632L3395 634M3389 625L3427 627M3421 617L3458 619"/><path class=a d="M3199 669l32-8 31-7 32-7 32-8 37 2-31 7-32 8-31 7-32 7zM3231 661L3269 663M3262 654L3300 656M3294 647L3332 648"/><path class=a d="M3073 699l31-8 32-8 32-7 31-7 38 1-32 7-31 8-32 7-32 8zM3104 691L3142 692M3136 683L3174 685M3168 676L3205 677"/><path class=a d="M2946 728l32-7 32-7 31-8 32-7 37 1-31 7-32 8-31 7-32 8zM2978 721L3016 722M3010 714L3047 715M3041 706L3079 707"/><path class=a d="M2820 757l31-7 32-7 32-7 31-8 38 2-32 7-31 7-32 7-32 8zM2851 750L2889 751M2883 743L2921 744M2915 736L2952 737"/><path class=a d="M2693 784l32-6 32-7 31-7 32-7 37 2-31 7-32 6-31 7-32 7zM2725 778L2763 779M2757 771L2794 772M2788 764L2826 766"/><path class=a d="M2567 808l31-6 32-6 32-6 31-6 38 2-32 6-31 6-32 6-32 6zM2598 802L2636 804M2630 796L2668 798M2662 790L2699 792"/><path class=a d="M2440 827l32-4 32-5 31-5 32-5 37 2-31 6-32 5-31 5-32 5zM2472 823L2510 826M2504 818L2541 821M2535 813L2573 816"/><path class=d d="M2314 844l31-4 32-4 32-5 31-4 38 4-32 5-31 5-32 4-32 5zM2345 840L2383 845M2377 836L2415 841M2409 831L2446 836"/><path class=m d="M2187 858l32-3 32-3 31-4 32-4 37 6-31 4-32 4-31 4-32 3zM2219 855L2257 862M2251 852L2288 858M2282 848L2320 854"/><path class=m d="M2061 868l32-2 31-2 32-3 31-3 38 7-32 4-31 3-32 3-31 2zM2093 866L2130 875M2124 864L2162 872M2156 861L2193 869"/><path class=p d="M1998 870l31-1 32-1 38 9-32 2-32 2zM2029 869L2067 879"/><path class=a d="M3996 484l31-9 32-8 32-9 31-8 38 7-32 9-31 8-32 8-32 8zM4027 475L4065 482M4059 467L4097 474M4091 458L4128 466"/><path class=a d="M3869 517l32-8 32-9 31-8 32-8 37 6-31 8-32 8-31 9-32 8zM3901 509L3939 515M3933 500L3970 506M3964 492L4002 498"/><path class=a d="M3743 550l31-8 32-8 32-9 31-8 38 6-32 8-31 8-32 8-32 8zM3774 542L3812 547M3806 534L3844 539M3838 525L3875 531"/><path class=a d="M3616 582l32-8 32-8 31-8 32-8 37 5-31 8-32 7-31 8-32 8zM3648 574L3686 578M3680 566L3717 570M3711 558L3749 563"/><path class=a d="M3490 612l31-7 32-8 32-8 31-7 38 4-32 7-31 8-32 7-32 7zM3521 605L3559 608M3553 597L3591 601M3585 589L3622 593"/><path class=a d="M3363 641l32-7 32-7 31-8 32-7 37 3-31 8-32 7-31 7-32 7zM3395 634L3433 637M3427 627L3464 630M3458 619L3496 623"/><path class=a d="M3237 670l32-7 31-7 32-8 31-7 38 3-32 7-31 7-32 7-31 8zM3269 663L3306 665M3300 656L3338 658M3332 648L3369 651"/><path class=a d="M3110 700l32-8 32-7 31-8 32-7 38 3-32 7-32 7-31 8-32 7zM3142 692L3180 695M3174 685L3211 687M3205 677L3243 680"/><path class=a d="M2984 730l32-8 31-7 32-8 31-7 38 2-32 8-31 7-32 8-31 7zM3016 722L3053 725M3047 715L3085 717M3079 707L3116 710"/><path class=a d="M2857 759l32-8 32-7 31-7 32-7 38 2-32 7-32 8-31 7-32 7zM2889 751L2927 754M2921 744L2958 747M2952 737L2990 739"/><path class=a d="M2731 786l32-7 31-7 32-6 31-7 38 2-32 7-31 7-32 7-31 6zM2763 779L2800 782M2794 772L2832 775M2826 766L2863 768"/><path class=a d="M2604 810l32-6 32-6 31-6 32-6 38 2-32 7-32 6-31 6-32 6zM2636 804L2674 807M2668 798L2705 801M2699 792L2737 795"/><path class=d d="M2478 831l32-5 31-5 32-5 31-6 38 3-32 6-31 6-32 5-31 6zM2510 826L2547 830M2541 821L2579 825M2573 816L2610 819"/><path class=d d="M2351 850l32-5 32-4 31-5 32-5 38 5-32 5-32 5-31 4-32 5zM2383 845L2421 850M2415 841L2452 846M2446 836L2484 841"/><path class=m d="M2225 865l32-3 31-4 32-4 31-4 38 5-31 5-32 4-32 4-31 4zM2257 862L2294 868M2288 858L2326 864M2320 854L2358 860"/><path class=m d="M2099 877l31-2 32-3 31-3 32-4 38 7-32 3-32 4-31 3-32 3zM2130 875L2168 882M2162 872L2199 879M2193 869L2231 875"/><path class=p d="M2035 881l32-2 32-2 37 8-31 2-32 2zM2067 879L2105 887"/><path class=a d="M4033 490l32-8 32-8 31-8 32-9 38 8-32 8-32 8-31 8-32 8zM4065 482L4103 489M4097 474L4134 481M4128 466L4166 473"/><path class=a d="M3907 523l32-8 31-9 32-8 31-8 38 7-32 8-31 8-32 8-31 8zM3939 515L3976 521M3970 506L4008 513M4002 498L4039 505"/><path class=a d="M3780 555l32-8 32-8 31-8 32-8 38 6-32 8-32 8-31 8-32 7zM3812 547L3850 553M3844 539L3881 545M3875 531L3913 537"/><path class=a d="M3654 586l32-8 31-8 32-7 31-8 38 5-32 8-31 8-32 7-31 8zM3686 578L3723 583M3717 570L3755 576M3749 563L3786 568"/><path class=a d="M3527 615l32-7 32-7 31-8 32-7 38 5-32 7-32 7-31 8-32 7zM3559 608L3597 613M3591 601L3628 605M3622 593L3660 598"/><path class=a d="M3401 644l32-7 31-7 32-7 31-8 38 5-31 7-32 7-32 7-31 7zM3433 637L3470 641M3464 630L3502 634M3496 623L3534 627"/><path class=a d="M3275 673l31-8 32-7 31-7 32-7 38 4-32 7-32 7-31 7-32 8zM3306 665L3344 669M3338 658L3375 662M3369 651L3407 655"/><path class=a d="M3148 702l32-7 31-8 32-7 32-7 37 4-31 7-32 7-32 8-31 7zM3180 695L3217 699M3211 687L3249 691M3243 680L3281 684"/><path class=a d="M3022 732l31-7 32-8 31-7 32-8 38 4-32 7-32 8-31 7-32 8zM3053 725L3091 728M3085 717L3122 721M3116 710L3154 713"/><path class=a d="M2895 761l32-7 31-7 32-8 32-7 37 4-31 7-32 7-32 8-31 7zM2927 754L2964 758M2958 747L2996 750M2990 739L3028 743"/><path class=a d="M2769 788l31-6 32-7 31-7 32-7 38 4-32 7-32 7-31 7-32 6zM2800 782L2838 786M2832 775L2869 779M2863 768L2901 772"/><path class=a d="M2642 813l32-6 31-6 32-6 32-7 37 4-31 7-32 6-32 7-31 6zM2674 807L2711 812M2705 801L2743 805M2737 795L2775 799"/><path class=d d="M2516 836l31-6 32-5 31-6 32-6 38 5-32 6-32 6-31 5-32 6zM2547 830L2585 835M2579 825L2616 830M2610 819L2648 824"/><path class=d d="M2389 855l32-5 31-4 32-5 32-5 37 5-31 5-32 5-32 5-31 5zM2421 850L2458 856M2452 846L2490 851M2484 841L2522 846"/><path class=m d="M2263 872l31-4 32-4 32-4 31-5 38 6-32 4-31 5-32 4-32 4zM2294 868L2332 874M2326 864L2364 870M2358 860L2395 865"/><path class=m d="M2136 885l32-3 31-3 32-4 32-3 37 6-31 4-32 4-32 3-31 3zM2168 882L2205 889M2199 879L2237 886M2231 875L2269 882"/><path class=p d="M2073 889l32-2 31-2 38 7-32 3-31 3zM2105 887L2142 895"/><path class=a d="M4071 497l32-8 31-8 32-8 32-8 37 8-31 8-32 8-32 8-31 8zM4103 489L4140 497M4134 481L4172 489M4166 473L4204 481"/><path class=a d="M3945 529l31-8 32-8 31-8 32-8 38 8-32 8-32 7-31 8-32 8zM3976 521L4014 528M4008 513L4045 520M4039 505L4077 513"/><path class=a d="M3818 560l32-7 31-8 32-8 32-8 37 7-31 8-32 7-32 8-31 8zM3850 553L3887 559M3881 545L3919 551M3913 537L3951 544"/><path class=a d="M3692 591l31-8 32-7 31-8 32-8 38 7-32 7-32 8-31 7-32 8zM3723 583L3761 589M3755 576L3792 582M3786 568L3824 574"/><path class=a d="M3565 620l32-7 31-8 32-7 32-7 37 6-31 7-32 7-32 7-31 8zM3597 613L3634 618M3628 605L3666 611M3660 598L3698 604"/><path class=a d="M3439 648l31-7 32-7 32-7 31-7 38 6-32 7-31 7-32 7-32 7zM3470 641L3508 647M3502 634L3540 640M3534 627L3571 633"/><path class=a d="M3312 677l32-8 31-7 32-7 32-7 37 6-31 7-32 7-32 7-31 7zM3344 669L3381 675M3375 662L3413 668M3407 655L3445 661"/><path class=a d="M3186 706l31-7 32-8 32-7 31-7 38 5-32 7-31 7-32 8-32 7zM3217 699L3255 704M3249 691L3287 696M3281 684L3318 689"/><path class=a d="M3059 736l32-8 31-7 32-8 32-7 37 5-31 7-32 8-32 7-31 8zM3091 728L3128 733M3122 721L3160 726M3154 713L3192 718"/><path class=a d="M2933 765l31-7 32-8 32-7 31-7 38 5-32 7-31 7-32 8-32 7zM2964 758L3002 763M2996 750L3034 755M3028 743L3065 748"/><path class=a d="M2806 792l32-6 31-7 32-7 32-7 37 5-31 7-32 7-32 6-31 7zM2838 786L2875 790M2869 779L2907 784M2901 772L2939 777"/><path class=a d="M2680 818l31-6 32-7 32-6 31-7 38 5-32 7-31 6-32 7-32 6zM2711 812L2749 817M2743 805L2781 810M2775 799L2812 804"/><path class=d d="M2553 841l32-6 31-5 32-6 32-6 37 5-31 6-32 5-31 6-32 6zM2585 835L2623 840M2616 830L2654 834M2648 824L2686 829"/><path class=d d="M2427 861l31-5 32-5 32-5 31-5 38 5-32 5-31 5-32 5-32 5zM2458 856L2496 861M2490 851L2528 856M2522 846L2559 851"/><path class=m d="M2300 878l32-4 32-4 31-5 32-4 37 5-31 5-32 4-31 5-32 4zM2332 874L2370 880M2364 870L2401 875M2395 865L2433 871"/><path class=m d="M2174 892l31-3 32-3 32-4 31-4 38 6-32 4-31 4-32 4-32 4zM2205 889L2243 896M2237 886L2275 892M2269 882L2306 888"/><path class=p d="M2111 898l31-3 32-3 37 8-31 3-32 3zM2142 895L2180 903"/><path class=a d="M4109 505l31-8 32-8 32-8 31-8 38 9-32 7-31 8-32 8-32 7zM4140 497L4178 505M4172 489L4210 497M4204 481L4241 489"/><path class=a d="M3982 536l32-8 31-8 32-7 32-8 37 7-31 8-32 8-32 8-31 7zM4014 528L4051 536M4045 520L4083 528M4077 513L4115 520"/><path class=a d="M3856 567l31-8 32-8 32-7 31-8 38 7-32 8-31 8-32 7-32 8zM3887 559L3925 566M3919 551L3957 559M3951 544L3988 551"/><path class=a d="M3729 597l32-8 31-7 32-8 32-7 37 7-31 7-32 8-31 7-32 8zM3761 589L3799 596M3792 582L3830 589M3824 574L3862 581"/><path class=a d="M3603 626l31-8 32-7 32-7 31-7 38 7-32 7-31 7-32 7-32 7zM3634 618L3672 625M3666 611L3704 618M3698 604L3735 611"/><path class=a d="M3476 654l32-7 32-7 31-7 32-7 37 6-31 7-32 7-31 7-32 7zM3508 647L3546 653M3540 640L3577 646M3571 633L3609 639"/><path class=a d="M3350 682l31-7 32-7 32-7 31-7 38 6-32 7-31 7-32 7-32 7zM3381 675L3419 681M3413 668L3451 674M3445 661L3482 667"/><path class=a d="M3223 711l32-7 32-8 31-7 32-7 37 6-31 7-32 7-31 7-32 8zM3255 704L3293 709M3287 696L3324 702M3318 689L3356 695"/><path class=a d="M3097 741l31-8 32-7 32-8 31-7 38 6-32 7-31 7-32 8-32 7zM3128 733L3166 739M3160 726L3198 731M3192 718L3229 724"/><path class=a d="M2970 770l32-7 32-8 31-7 32-7 37 5-31 7-32 7-31 8-32 7zM3002 763L3040 768M3034 755L3071 760M3065 748L3103 753"/><path class=a d="M2844 797l31-7 32-6 32-7 31-7 38 5-32 7-31 7-32 6-31 7zM2875 790L2913 795M2907 784L2945 789M2939 777L2976 782"/><path class=a d="M2717 823l32-6 32-7 31-6 32-7 38 5-32 7-32 6-31 6-32 7zM2749 817L2787 821M2781 810L2818 815M2812 804L2850 809"/><path class=d d="M2591 846l32-6 31-6 32-5 31-6 38 5-32 6-31 5-32 6-31 6zM2623 840L2660 845M2654 834L2692 839M2686 829L2723 834"/><path class=d d="M2464 866l32-5 32-5 31-5 32-5 38 5-32 5-32 5-31 5-32 6zM2496 861L2534 866M2528 856L2565 861M2559 851L2597 856"/><path class=m d="M2338 884l32-4 31-5 32-4 31-5 38 6-32 4-31 5-32 5-31 4zM2370 880L2407 886M2401 875L2439 881M2433 871L2470 876"/><path class=m d="M2211 900l32-4 32-4 31-4 32-4 38 6-32 5-32 4-31 4-32 4zM2243 896L2281 903M2275 892L2312 899M2306 888L2344 895"/><path class=p d="M2148 906l32-3 31-3 38 7-32 3-31 4zM2180 903L2217 910"/><path class=a d="M4146 512l32-7 32-8 31-8 32-7 37 8-31 7-32 8-31 8-32 7zM4178 505L4216 513M4210 497L4247 505M4241 489L4279 497"/><path class=a d="M4020 543l31-7 32-8 32-8 31-8 38 8-32 8-31 8-32 7-31 8zM4051 536L4089 543M4083 528L4121 536M4115 520L4152 528"/><path class=a d="M3893 574l32-8 32-7 31-8 32-8 38 8-32 8-32 7-31 8-32 7zM3925 566L3963 574M3957 559L3994 566M3988 551L4026 559"/><path class=a d="M3767 604l32-8 31-7 32-8 31-7 38 7-32 8-31 7-32 8-31 7zM3799 596L3836 604M3830 589L3868 596M3862 581L3899 589"/><path class=a d="M3640 632l32-7 32-7 31-7 32-7 38 7-32 7-32 7-31 7-32 7zM3672 625L3710 632M3704 618L3741 625M3735 611L3773 618"/><path class=a d="M3514 660l32-7 31-7 32-7 31-7 38 7-32 7-31 7-32 7-31 6zM3546 653L3583 660M3577 646L3615 653M3609 639L3646 646"/><path class=a d="M3387 688l32-7 32-7 31-7 32-7 38 6-32 7-32 7-31 7-32 7zM3419 681L3457 687M3451 674L3488 680M3482 667L3520 673"/><path class=a d="M3261 717l32-8 31-7 32-7 31-7 38 6-32 7-31 7-32 7-31 7zM3293 709L3330 715M3324 702L3362 708M3356 695L3393 701"/><path class=a d="M3134 746l32-7 32-8 31-7 32-7 38 5-32 8-32 7-31 7-32 8zM3166 739L3204 744M3198 731L3235 737M3229 724L3267 730"/><path class=a d="M3008 775l32-7 31-8 32-7 31-7 38 6-32 7-31 7-32 7-31 7zM3040 768L3077 773M3071 760L3109 766M3103 753L3140 759"/><path class=a d="M2882 802l31-7 32-6 31-7 32-7 38 5-32 7-32 7-31 7-32 6zM2913 795L2951 801M2945 789L2982 794M2976 782L3014 787"/><path class=a d="M2755 828l32-7 31-6 32-6 32-7 37 5-31 7-32 6-32 7-31 6zM2787 821L2824 827M2818 815L2856 820M2850 809L2888 814"/><path class=d d="M2629 851l31-6 32-6 31-5 32-6 38 5-32 6-32 6-31 5-32 6zM2660 845L2698 850M2692 839L2729 845M2723 834L2761 839"/><path class=d d="M2502 872l32-6 31-5 32-5 32-5 37 5-31 5-32 6-32 5-31 5zM2534 866L2571 872M2565 861L2603 867M2597 856L2635 861"/><path class=m d="M2376 890l31-4 32-5 31-5 32-4 38 5-32 5-32 5-31 5-32 4zM2407 886L2445 892M2439 881L2476 887M2470 876L2508 882"/><path class=m d="M2249 907l32-4 31-4 32-4 32-5 37 6-31 5-32 4-32 4-31 5zM2281 903L2318 909M2312 899L2350 905M2344 895L2382 901"/><path class=p d="M2186 914l31-4 32-3 38 7-32 4-32 4zM2217 910L2255 918"/><path class=a d="M4184 520l32-7 31-8 32-8 31-7 38 8-32 7-31 8-32 7-31 8zM4216 513L4253 520M4247 505L4285 513M4279 497L4316 505"/><path class=a d="M4058 551l31-8 32-7 31-8 32-8 38 8-32 7-32 8-31 8-32 7zM4089 543L4127 551M4121 536L4158 543M4152 528L4190 535"/><path class=a d="M3931 581l32-7 31-8 32-7 32-8 37 7-31 8-32 8-32 7-31 8zM3963 574L4000 581M3994 566L4032 574M4026 559L4064 566"/><path class=a d="M3805 611l31-7 32-8 31-7 32-8 38 8-32 7-32 7-31 8-32 7zM3836 604L3874 611M3868 596L3905 603M3899 589L3937 596"/><path class=a d="M3678 639l32-7 31-7 32-7 32-7 37 7-31 7-32 7-32 7-31 7zM3710 632L3747 639M3741 625L3779 632M3773 618L3811 625"/><path class=a d="M3552 666l31-6 32-7 31-7 32-7 38 7-32 7-32 7-31 6-32 7zM3583 660L3621 666M3615 653L3652 660M3646 646L3684 653"/><path class=a d="M3425 694l32-7 31-7 32-7 32-7 37 7-31 7-32 7-32 7-31 6zM3457 687L3494 694M3488 680L3526 687M3520 673L3558 680"/><path class=a d="M3299 722l31-7 32-7 31-7 32-7 38 6-32 7-32 7-31 7-32 8zM3330 715L3368 721M3362 708L3399 714M3393 701L3431 707"/><path class=a d="M3172 752l32-8 31-7 32-7 32-8 37 7-31 7-32 7-32 7-31 7zM3204 744L3241 750M3235 737L3273 743M3267 730L3305 736"/><path class=a d="M3046 780l31-7 32-7 31-7 32-7 38 5-32 7-31 8-32 7-32 7zM3077 773L3115 779M3109 766L3147 772M3140 759L3178 764"/><path class=a d="M2919 807l32-6 31-7 32-7 32-7 37 6-31 7-32 6-32 7-31 7zM2951 801L2988 806M2982 794L3020 799M3014 787L3052 793"/><path class=a d="M2793 833l31-6 32-7 32-6 31-7 38 6-32 6-31 7-32 6-32 6zM2824 827L2862 832M2856 820L2894 826M2888 814L2925 819"/><path class=d d="M2666 856l32-6 31-5 32-6 32-6 37 5-31 6-32 6-32 6-31 5zM2698 850L2735 856M2729 845L2767 850M2761 839L2799 844"/><path class=d d="M2540 877l31-5 32-5 32-6 31-5 38 5-32 6-31 5-32 5-32 5zM2571 872L2609 877M2603 867L2641 872M2635 861L2672 867"/><path class=d d="M2413 896l32-4 31-5 32-5 32-5 37 5-31 6-32 4-32 5-31 5zM2445 892L2482 897M2476 887L2514 892M2508 882L2546 888"/><path class=m d="M2287 914l31-5 32-4 32-4 31-5 38 6-32 5-31 4-32 5-32 4zM2318 909L2356 916M2350 905L2388 911M2382 901L2419 907"/><path class=p d="M2223 922l32-4 32-4 37 6-31 5-32 4zM2255 918L2293 925"/><path class=b d="M4222 528l31-8 32-7 31-8 32-7 38 6-32 8-31 7-32 8-32 7zM4253 520L4291 527M4285 513L4323 519M4316 505L4354 512"/><path class=b d="M4095 558l32-7 31-8 32-8 32-7 37 6-31 8-32 8-32 7-31 8zM4127 551L4164 557M4158 543L4196 550M4190 535L4228 542"/><path class=b d="M3969 589l31-8 32-7 32-8 31-8 38 7-32 8-31 7-32 8-32 8zM4000 581L4038 588M4032 574L4070 580M4064 566L4101 573"/><path class=b d="M3842 618l32-7 31-8 32-7 32-7 37 7-31 7-32 8-32 7-31 7zM3874 611L3911 618M3905 603L3943 611M3937 596L3975 603"/><path class=b d="M3716 646l31-7 32-7 32-7 31-7 38 7-32 7-31 7-32 7-32 7zM3747 639L3785 646M3779 632L3817 639M3811 625L3848 632"/><path class=a d="M3589 673l32-7 31-6 32-7 32-7 37 7-31 7-32 7-32 6-31 7zM3621 666L3658 673M3652 660L3690 667M3684 653L3722 660"/><path class=a d="M3463 700l31-6 32-7 32-7 31-7 38 7-32 7-31 6-32 7-32 7zM3494 694L3532 700M3526 687L3564 693M3558 680L3595 687"/><path class=a d="M3336 729l32-8 31-7 32-7 32-7 37 7-31 7-32 7-32 7-31 7zM3368 721L3405 728M3399 714L3437 721M3431 707L3469 714"/><path class=a d="M3210 757l31-7 32-7 32-7 31-7 38 6-32 7-31 7-32 7-32 7zM3241 750L3279 756M3273 743L3311 749M3305 736L3342 742"/><path class=a d="M3083 786l32-7 32-7 31-8 32-7 37 6-31 7-32 7-31 7-32 7zM3115 779L3153 784M3147 772L3184 777M3178 764L3216 770"/><path class=a d="M2957 813l31-7 32-7 32-6 31-7 38 5-32 7-31 7-32 7-32 6zM2988 806L3026 812M3020 799L3058 805M3052 793L3089 798"/><path class=a d="M2830 838l32-6 32-6 31-7 32-6 37 5-31 7-32 6-31 6-32 6zM2862 832L2900 837M2894 826L2931 831M2925 819L2963 825"/><path class=d d="M2704 861l31-5 32-6 32-6 31-6 38 5-32 6-31 6-32 6-32 5zM2735 856L2773 861M2767 850L2805 855M2799 844L2836 849"/><path class=d d="M2577 882l32-5 32-5 31-5 32-6 37 5-31 6-32 5-31 6-32 5zM2609 877L2647 883M2641 872L2678 877M2672 867L2710 872"/><path class=d d="M2451 902l31-5 32-5 32-4 31-6 38 6-32 5-31 5-32 5-32 5zM2482 897L2520 903M2514 892L2552 898M2546 888L2583 893"/><path class=m d="M2324 920l32-4 32-5 31-4 32-5 37 6-31 5-32 4-31 5-32 5zM2356 916L2394 922M2388 911L2425 917M2419 907L2457 913"/><path class=p d="M2261 929l32-4 31-5 38 7-32 4-31 4zM2293 925L2330 931"/><path class=b d="M4259 534l32-7 32-8 31-7 32-8 37 6-31 7-32 8-31 8-32 7zM4291 527L4329 533M4323 519L4360 525M4354 512L4392 517"/><path class=b d="M4133 565l31-8 32-7 32-8 31-8 38 6-32 8-31 8-32 8-32 7zM4164 557L4202 564M4196 550L4234 556M4228 542L4265 548"/><path class=b d="M4006 596l32-8 32-8 31-7 32-8 37 6-31 8-32 8-31 8-32 7zM4038 588L4076 595M4070 580L4107 587M4101 573L4139 579"/><path class=b d="M3880 625l31-7 32-7 32-8 31-7 38 6-32 8-31 7-32 8-32 7zM3911 618L3949 625M3943 611L3981 617M3975 603L4012 610"/><path class=b d="M3753 653l32-7 32-7 31-7 32-7 37 7-31 7-32 7-31 7-32 7zM3785 646L3823 653M3817 639L3854 646M3848 632L3886 639"/><path class=a d="M3627 680l31-7 32-6 32-7 31-7 38 7-32 7-31 7-32 6-32 7zM3658 673L3696 680M3690 667L3728 674M3722 660L3759 667"/><path class=a d="M3500 707l32-7 32-7 31-6 32-7 37 7-31 7-32 6-31 7-32 7zM3532 700L3570 707M3564 693L3601 700M3595 687L3633 694"/><path class=a d="M3374 735l31-7 32-7 32-7 31-7 38 7-32 6-31 7-32 7-31 7zM3405 728L3443 734M3437 721L3475 727M3469 714L3506 720"/><path class=a d="M3247 763l32-7 32-7 31-7 32-7 38 6-32 7-32 7-31 7-32 7zM3279 756L3317 762M3311 749L3348 755M3342 742L3380 748"/><path class=a d="M3121 791l32-7 31-7 32-7 31-7 38 6-32 7-31 7-32 7-31 7zM3153 784L3190 790M3184 777L3222 783M3216 770L3253 776"/><path class=a d="M2994 818l32-6 32-7 31-7 32-7 38 6-32 7-32 7-31 6-32 7zM3026 812L3064 817M3058 805L3095 811M3089 798L3127 804"/><path class=a d="M2868 843l32-6 31-6 32-6 31-7 38 6-32 6-31 6-32 7-31 6zM2900 837L2937 843M2931 831L2969 836M2963 825L3000 830"/><path class=d d="M2741 866l32-5 32-6 31-6 32-6 38 6-32 6-32 5-31 6-32 6zM2773 861L2811 866M2805 855L2842 860M2836 849L2874 855"/><path class=d d="M2615 888l32-5 31-6 32-5 31-6 38 6-32 5-31 6-32 5-31 5zM2647 883L2684 888M2678 877L2716 883M2710 872L2747 877"/><path class=d d="M2488 908l32-5 32-5 31-5 32-5 38 5-32 5-32 6-31 5-32 4zM2520 903L2558 909M2552 898L2589 904M2583 893L2621 898"/><path class=m d="M2362 927l32-5 31-5 32-4 31-5 38 5-32 5-31 5-32 5-31 5zM2394 922L2431 928M2425 917L2463 923M2457 913L2494 918"/><path class=p d="M2299 935l31-4 32-4 38 6-32 4-32 5zM2330 931L2368 937"/><path class=b d="M4297 540l32-7 31-8 32-8 31-7 38 4-32 8-31 7-32 8-31 8zM4329 533L4366 537M4360 525L4398 529M4392 517L4429 522"/><path class=b d="M4170 571l32-7 32-8 31-8 32-8 38 5-32 8-32 8-31 8-32 8zM4202 564L4240 569M4234 556L4271 561M4265 548L4303 553"/><path class=b d="M4044 602l32-7 31-8 32-8 31-8 38 6-32 8-31 8-32 8-31 8zM4076 595L4113 601M4107 587L4145 593M4139 579L4176 585"/><path class=b d="M3917 632l32-7 32-8 31-7 32-8 38 7-32 7-32 8-31 8-32 7zM3949 625L3987 632M3981 617L4018 624M4012 610L4050 616"/><path class=b d="M3791 660l32-7 31-7 32-7 31-7 38 7-32 7-31 7-32 7-31 7zM3823 653L3860 660M3854 646L3892 653M3886 639L3923 646"/><path class=b d="M3664 687l32-7 32-6 31-7 32-7 38 7-32 7-32 7-31 6-32 7zM3696 680L3734 687M3728 674L3765 681M3759 667L3797 674"/><path class=a d="M3538 714l32-7 31-7 32-6 31-7 38 7-32 6-31 7-32 7-31 6zM3570 707L3607 714M3601 700L3639 707M3633 694L3670 700"/><path class=a d="M3412 741l31-7 32-7 31-7 32-6 38 6-32 7-32 7-31 7-32 6zM3443 734L3481 741M3475 727L3512 734M3506 720L3544 727"/><path class=a d="M3285 769l32-7 31-7 32-7 32-7 37 6-31 7-32 7-32 7-31 7zM3317 762L3354 768M3348 755L3386 761M3380 748L3418 754"/><path class=a d="M3159 797l31-7 32-7 31-7 32-7 38 6-32 7-32 7-31 7-32 7zM3190 790L3228 796M3222 783L3259 789M3253 776L3291 782"/><path class=a d="M3032 824l32-7 31-6 32-7 32-7 37 6-31 7-32 6-32 7-31 6zM3064 817L3101 823M3095 811L3133 816M3127 804L3165 810"/><path class=a d="M2906 849l31-6 32-7 31-6 32-6 38 5-32 7-32 6-31 6-32 6zM2937 843L2975 848M2969 836L3006 842M3000 830L3038 836"/><path class=d d="M2779 872l32-6 31-6 32-5 32-6 37 5-31 6-32 6-32 5-31 6zM2811 866L2848 871M2842 860L2880 866M2874 855L2912 860"/><path class=d d="M2653 893l31-5 32-5 31-6 32-5 38 5-32 6-32 5-31 5-32 6zM2684 888L2722 893M2716 883L2753 888M2747 877L2785 883"/><path class=d d="M2526 913l32-4 31-5 32-6 32-5 37 6-31 5-32 5-32 5-31 5zM2558 909L2595 914M2589 904L2627 909M2621 898L2659 904"/><path class=m d="M2400 933l31-5 32-5 31-5 32-5 38 6-32 5-31 5-32 4-32 5zM2431 928L2469 933M2463 923L2501 929M2494 918L2532 924"/><path class=p d="M2336 942l32-5 32-4 37 5-31 5-32 4zM2368 937L2406 943"/><path class=a d="M4335 545l31-8 32-8 31-7 32-8 38 3-32 8-32 8-31 8-32 8zM4366 537L4404 541M4398 529L4435 533M4429 522L4467 525"/><path class=b d="M4208 577l32-8 31-8 32-8 32-8 37 4-31 8-32 8-32 9-31 8zM4240 569L4277 574M4271 561L4309 565M4303 553L4341 557"/><path class=b d="M4082 609l31-8 32-8 31-8 32-8 38 5-32 8-32 8-31 8-32 8zM4113 601L4151 606M4145 593L4182 598M4176 585L4214 590"/><path class=b d="M3955 639l32-7 31-8 32-8 32-7 37 5-31 8-32 8-32 8-31 7zM3987 632L4024 638M4018 624L4056 630M4050 616L4088 622"/><path class=b d="M3829 667l31-7 32-7 31-7 32-7 38 6-32 8-32 7-31 7-32 7zM3860 660L3898 667M3892 653L3929 660M3923 646L3961 653"/><path class=b d="M3702 694l32-7 31-6 32-7 32-7 37 7-31 7-32 6-32 7-31 7zM3734 687L3771 694M3765 681L3803 687M3797 674L3835 681"/><path class=a d="M3576 720l31-6 32-7 31-7 32-6 38 7-32 6-31 7-32 6-32 7zM3607 714L3645 720M3639 707L3677 714M3670 700L3708 707"/><path class=a d="M3449 747l32-6 31-7 32-7 32-7 37 7-31 6-32 7-32 7-31 7zM3481 741L3518 747M3512 734L3550 740M3544 727L3582 733"/><path class=a d="M3323 775l31-7 32-7 32-7 31-7 38 7-32 7-31 7-32 6-32 7zM3354 768L3392 774M3386 761L3424 768M3418 754L3455 761"/><path class=a d="M3196 803l32-7 31-7 32-7 32-7 37 6-31 7-32 7-32 7-31 7zM3228 796L3265 802M3259 789L3297 795M3291 782L3329 788"/><path class=a d="M3070 829l31-6 32-7 32-6 31-7 38 6-32 6-31 7-32 7-32 6zM3101 823L3139 829M3133 816L3171 822M3165 810L3202 815"/><path class=a d="M2943 854l32-6 31-6 32-6 32-7 37 6-31 6-32 7-32 6-31 6zM2975 848L3012 854M3006 842L3044 848M3038 836L3076 841"/><path class=d d="M2817 877l31-6 32-5 32-6 31-6 38 6-32 5-31 6-32 6-32 5zM2848 871L2886 877M2880 866L2918 871M2912 860L2949 865"/><path class=d d="M2690 899l32-6 31-5 32-5 32-6 37 5-31 6-32 5-31 6-32 5zM2722 893L2760 899M2753 888L2791 893M2785 883L2823 888"/><path class=d d="M2564 919l31-5 32-5 32-5 31-5 38 5-32 5-31 5-32 5-32 5zM2595 914L2633 919M2627 909L2665 914M2659 904L2696 909"/><path class=m d="M2437 938l32-5 32-4 31-5 32-5 37 5-31 5-32 5-31 5-32 4zM2469 933L2507 939M2501 929L2538 934M2532 924L2570 929"/><path class=p d="M2374 947l32-4 31-5 38 5-32 5-31 4zM2406 943L2443 948"/><path class=a d="M4372 549l32-8 31-8 32-8 32-8 37 1-31 9-32 8-32 8-31 9zM4404 541L4441 543M4435 533L4473 535M4467 525L4505 527"/><path class=a d="M4246 582l31-8 32-9 32-8 31-8 38 3-32 8-31 9-32 8-32 9zM4277 574L4315 577M4309 565L4347 569M4341 557L4378 560"/><path class=b d="M4119 614l32-8 31-8 32-8 32-8 37 4-31 9-32 8-32 8-31 9zM4151 606L4188 611M4182 598L4220 603M4214 590L4252 595"/><path class=b d="M3993 645l31-7 32-8 32-8 31-8 38 6-32 8-31 8-32 8-32 8zM4024 638L4062 644M4056 630L4094 636M4088 622L4125 628"/><path class=b d="M3866 674l32-7 31-7 32-7 32-8 37 7-31 7-32 8-31 7-32 7zM3898 667L3936 674M3929 660L3967 667M3961 653L3999 659"/><path class=b d="M3740 701l31-7 32-7 32-6 31-7 38 7-32 6-31 7-32 7-32 6zM3771 694L3809 701M3803 687L3841 694M3835 681L3872 687"/><path class=b d="M3613 727l32-7 32-6 31-7 32-6 37 6-31 7-32 6-31 7-32 6zM3645 720L3683 727M3677 714L3714 720M3708 707L3746 714"/><path class=a d="M3487 754l31-7 32-7 32-7 31-6 38 6-32 7-31 7-32 6-32 7zM3518 747L3556 753M3550 740L3588 747M3582 733L3619 740"/><path class=a d="M3360 781l32-7 32-6 31-7 32-7 37 6-31 7-32 7-31 7-32 6zM3392 774L3430 781M3424 768L3461 774M3455 761L3493 767"/><path class=a d="M3234 809l31-7 32-7 32-7 31-7 38 6-32 7-31 7-32 7-32 7zM3265 802L3303 808M3297 795L3335 801M3329 788L3366 794"/><path class=a d="M3107 835l32-6 32-7 31-7 32-6 37 6-31 6-32 7-31 6-32 7zM3139 829L3177 834M3171 822L3208 828M3202 815L3240 821"/><path class=a d="M2981 860l31-6 32-6 32-7 31-6 38 6-32 6-31 6-32 6-32 6zM3012 854L3050 859M3044 848L3082 853M3076 841L3113 847"/><path class=d d="M2854 882l32-5 32-6 31-6 32-5 37 5-31 6-32 6-31 5-32 6zM2886 877L2924 882M2918 871L2955 877M2949 865L2987 871"/><path class=d d="M2728 904l32-5 31-6 32-5 31-6 38 6-32 5-31 6-32 5-31 5zM2760 899L2797 904M2791 893L2829 899M2823 888L2860 893"/><path class=d d="M2601 924l32-5 32-5 31-5 32-5 38 5-32 6-32 5-31 5-32 5zM2633 919L2671 925M2665 914L2702 920M2696 909L2734 915"/><path class=m d="M2475 943l32-4 31-5 32-5 31-5 38 6-32 4-31 5-32 5-31 5zM2507 939L2544 944M2538 934L2576 939M2570 929L2607 934"/><path class=p d="M2412 952l31-4 32-5 38 6-32 4-32 5zM2443 948L2481 953"/><path class=a d="M4410 552l31-9 32-8 32-8 31-9 38 1-32 8-31 9-32 9-32 9zM4441 543L4479 545M4473 535L4511 536M4505 527L4542 527"/><path class=a d="M4283 586l32-9 32-8 31-9 32-8 37 2-31 9-32 9-31 9-32 9zM4315 577L4353 581M4347 569L4384 572M4378 560L4416 563"/><path class=b d="M4157 620l31-9 32-8 32-8 31-9 38 4-32 8-31 9-32 9-32 9zM4188 611L4226 616M4220 603L4258 607M4252 595L4289 598"/><path class=b d="M4030 652l32-8 32-8 31-8 32-8 37 5-31 8-32 9-31 8-32 8zM4062 644L4100 650M4094 636L4131 642M4125 628L4163 633"/><path class=b d="M3904 681l32-7 31-7 32-8 31-7 38 6-32 7-31 8-32 7-31 7zM3936 674L3973 680M3967 667L4005 673M3999 659L4036 665"/><path class=b d="M3777 707l32-6 32-7 31-7 32-6 38 6-32 7-32 7-31 7-32 6zM3809 701L3847 708M3841 694L3878 701M3872 687L3910 694"/><path class=b d="M3651 733l32-6 31-7 32-6 31-7 38 7-32 7-31 6-32 7-31 6zM3683 727L3720 734M3714 720L3752 727M3746 714L3783 721"/><path class=a d="M3524 760l32-7 32-6 31-7 32-7 38 7-32 7-32 6-31 7-32 6zM3556 753L3594 760M3588 747L3625 753M3619 740L3657 747"/><path class=a d="M3398 787l32-6 31-7 32-7 31-7 38 6-32 7-31 7-32 7-31 7zM3430 781L3467 787M3461 774L3499 780M3493 767L3530 773"/><path class=a d="M3271 815l32-7 32-7 31-7 32-7 38 7-32 6-32 7-31 7-32 7zM3303 808L3341 814M3335 801L3372 807M3366 794L3404 800"/><path class=a d="M3145 841l32-7 31-6 32-7 31-6 38 6-32 6-31 7-32 6-31 7zM3177 834L3214 840M3208 828L3246 834M3240 821L3277 827"/><path class=a d="M3018 865l32-6 32-6 31-6 32-6 38 6-32 6-32 6-31 6-32 6zM3050 859L3088 865M3082 853L3119 859M3113 847L3151 853"/><path class=d d="M2892 888l32-6 31-5 32-6 31-6 38 6-31 6-32 5-32 6-31 6zM2924 882L2961 888M2955 877L2993 882M2987 871L3025 877"/><path class=d d="M2766 909l31-5 32-5 31-6 32-5 38 6-32 5-32 5-31 6-32 5zM2797 904L2835 910M2829 899L2866 904M2860 893L2898 899"/><path class=d d="M2639 930l32-5 31-5 32-5 32-6 37 6-31 5-32 5-32 5-31 5zM2671 925L2708 930M2702 920L2740 925M2734 915L2772 920"/><path class=m d="M2513 949l31-5 32-5 31-5 32-4 38 5-32 5-32 4-31 5-32 5zM2544 944L2582 949M2576 939L2613 944M2607 934L2645 940"/><path class=p d="M2449 958l32-5 32-4 37 5-31 4-32 4zM2481 953L2519 958"/><path class=a d="M4447 554l32-9 32-9 31-9 32-8 38-1-32 9-32 9-31 10-32 9zM4479 545L4517 546M4511 536L4548 536M4542 527L4580 527"/><path class=a d="M4321 590l32-9 31-9 32-9 31-9 38 1-32 9-31 10-32 9-31 10zM4353 581L4390 583M4384 572L4422 574M4416 563L4453 564"/><path class=a d="M4194 625l32-9 32-9 31-9 32-8 38 3-32 9-32 9-31 9-32 9zM4226 616L4264 620M4258 607L4295 611M4289 598L4327 602"/><path class=b d="M4068 658l32-8 31-8 32-9 31-8 38 4-31 9-32 9-32 8-31 9zM4100 650L4137 655M4131 642L4169 647M4163 633L4201 638"/><path class=b d="M3942 687l31-7 32-7 31-8 32-7 38 6-32 8-32 7-31 8-32 7zM3973 680L4011 687M4005 673L4042 679M4036 665L4074 672"/><path class=b d="M3815 714l32-6 31-7 32-7 32-7 37 7-31 7-32 7-32 6-31 7zM3847 708L3884 714M3878 701L3916 708M3910 694L3948 701"/><path class=b d="M3689 740l31-6 32-7 31-6 32-7 38 7-32 6-32 7-31 6-32 7zM3720 734L3758 740M3752 727L3789 734M3783 721L3821 727"/><path class=a d="M3562 766l32-6 31-7 32-6 32-7 37 7-31 6-32 7-32 6-31 7zM3594 760L3631 766M3625 753L3663 760M3657 747L3695 753"/><path class=a d="M3436 794l31-7 32-7 31-7 32-7 38 7-32 7-32 6-31 7-32 7zM3467 787L3505 793M3499 780L3536 786M3530 773L3568 780"/><path class=a d="M3309 821l32-7 31-7 32-7 32-6 37 6-31 7-32 6-32 7-31 7zM3341 814L3378 820M3372 807L3410 813M3404 800L3442 807"/><path class=a d="M3183 847l31-7 32-6 31-7 32-6 38 6-32 6-32 7-31 6-32 7zM3214 840L3252 846M3246 834L3283 840M3277 827L3315 833"/><path class=a d="M3056 871l32-6 31-6 32-6 32-6 37 6-31 6-32 6-32 6-31 6zM3088 865L3125 871M3119 859L3157 865M3151 853L3189 859"/><path class=d d="M2930 894l31-6 32-6 32-5 31-6 38 6-32 5-31 6-32 6-32 5zM2961 888L2999 894M2993 882L3031 888M3025 877L3062 882"/><path class=d d="M2803 915l32-5 31-6 32-5 32-5 37 5-31 6-32 5-32 5-31 5zM2835 910L2872 915M2866 904L2904 910M2898 899L2936 905"/><path class=d d="M2677 935l31-5 32-5 32-5 31-5 38 5-32 6-31 5-32 4-32 5zM2708 930L2746 935M2740 925L2778 931M2772 920L2809 926"/><path class=m d="M2550 954l32-5 31-5 32-4 32-5 37 5-31 5-32 5-32 4-31 5zM2582 949L2619 954M2613 944L2651 950M2645 940L2683 945"/><path class=p d="M2487 962l32-4 31-4 38 5-32 4-31 4zM2519 958L2556 963"/><path class=a d="M4485 555l32-9 31-10 32-9 32-9 37-1-31 9-32 10-32 10-31 9zM4517 546L4554 546M4548 536L4586 536M4580 527L4618 526"/><path class=a d="M4359 593l31-10 32-9 31-10 32-9 38 0-32 10-32 10-31 10-32 10zM4390 583L4428 585M4422 574L4459 575M4453 564L4491 565"/><path class=a d="M4232 629l32-9 31-9 32-9 32-9 37 2-31 10-32 10-32 9-31 10zM4264 620L4301 624M4295 611L4333 615M4327 602L4365 605"/><path class=b d="M4106 664l31-9 32-8 32-9 31-9 38 5-32 9-31 9-32 9-32 8zM4137 655L4175 661M4169 647L4207 652M4201 638L4238 643"/><path class=b d="M3979 694l32-7 31-8 32-7 32-8 37 5-31 8-32 8-32 8-31 7zM4011 687L4048 693M4042 679L4080 685M4074 672L4112 677"/><path class=b d="M3853 721l31-7 32-6 32-7 31-7 38 6-32 7-31 7-32 7-32 7zM3884 714L3922 721M3916 708L3954 714M3948 701L3985 707"/><path class=b d="M3726 747l32-7 31-6 32-7 32-6 37 7-31 6-32 6-32 7-31 6zM3758 740L3795 747M3789 734L3827 740M3821 727L3859 734"/><path class=a d="M3600 773l31-7 32-6 32-7 31-6 38 6-32 7-31 6-32 7-32 6zM3631 766L3669 773M3663 760L3701 766M3695 753L3732 760"/><path class=a d="M3473 800l32-7 31-7 32-6 32-7 37 6-31 7-32 7-32 6-31 7zM3505 793L3542 799M3536 786L3574 793M3568 780L3606 786"/><path class=a d="M3347 827l31-7 32-7 32-6 31-7 38 6-32 7-31 7-32 6-32 7zM3378 820L3416 826M3410 813L3448 820M3442 807L3479 813"/><path class=a d="M3220 853l32-7 31-6 32-7 32-6 37 6-31 6-32 7-31 6-32 7zM3252 846L3290 852M3283 840L3321 846M3315 833L3353 839"/><path class=a d="M3094 877l31-6 32-6 32-6 31-6 38 6-32 6-31 6-32 6-32 6zM3125 871L3163 877M3157 865L3195 871M3189 859L3226 865"/><path class=d d="M2967 899l32-5 32-6 31-6 32-5 37 6-31 5-32 6-31 6-32 5zM2999 894L3037 900M3031 888L3068 894M3062 882L3100 888"/><path class=d d="M2841 920l31-5 32-5 32-5 31-6 38 6-32 5-31 6-32 5-32 5zM2872 915L2910 921M2904 910L2942 916M2936 905L2973 910"/><path class=d d="M2714 940l32-5 32-4 31-5 32-6 37 6-31 5-32 5-31 5-32 5zM2746 935L2784 941M2778 931L2815 936M2809 926L2847 931"/><path class=m d="M2588 959l31-5 32-4 32-5 31-5 38 6-32 4-31 5-32 4-32 5zM2619 954L2657 959M2651 950L2689 955M2683 945L2720 950"/><path class=p d="M2525 967l31-4 32-4 37 5-31 4-32 4zM2556 963L2594 968"/><path class=d d="M4523 555l31-9 32-10 32-10 31-9 38-2-32 10-31 10-32 10-32 10zM4554 546L4592 545M4586 536L4624 535M4618 526L4655 525"/><path class=a d="M4396 595l32-10 31-10 32-10 32-10 37 0-31 11-32 10-31 11-32 10zM4428 585L4466 587M4459 575L4497 576M4491 565L4529 566"/><path class=a d="M4270 634l31-10 32-9 32-10 31-10 38 2-32 11-31 10-32 10-32 10zM4301 624L4339 628M4333 615L4371 618M4365 605L4402 608"/><path class=b d="M4143 669l32-8 32-9 31-9 32-9 37 4-31 9-32 10-31 9-32 9zM4175 661L4213 666M4207 652L4244 657M4238 643L4276 647"/><path class=b d="M4017 700l31-7 32-8 32-8 31-8 38 6-32 8-31 8-32 8-32 8zM4048 693L4086 699M4080 685L4118 691M4112 677L4149 683"/><path class=b d="M3890 728l32-7 32-7 31-7 32-7 37 7-31 7-32 7-31 7-32 6zM3922 721L3960 728M3954 714L3991 721M3985 707L4023 714"/><path class=b d="M3764 753l31-6 32-7 32-6 31-6 38 6-32 7-31 6-32 7-32 6zM3795 747L3833 754M3827 740L3865 747M3859 734L3896 741"/><path class=b d="M3637 779l32-6 32-7 31-6 32-7 37 7-31 6-32 7-31 6-32 7zM3669 773L3707 779M3701 766L3738 773M3732 760L3770 766"/><path class=a d="M3511 806l31-7 32-6 32-7 31-7 38 7-32 7-31 6-32 7-32 7zM3542 799L3580 806M3574 793L3612 799M3606 786L3643 793"/><path class=a d="M3384 833l32-7 32-6 31-7 32-7 37 7-31 6-32 7-31 7-32 6zM3416 826L3454 833M3448 820L3485 826M3479 813L3517 819"/><path class=a d="M3258 859l32-7 31-6 32-7 31-6 38 6-32 7-31 6-32 6-31 7zM3290 852L3327 858M3321 846L3359 852M3353 839L3390 846"/><path class=a d="M3131 883l32-6 32-6 31-6 32-6 38 6-32 6-32 6-31 6-32 6zM3163 877L3201 883M3195 871L3232 877M3226 865L3264 871"/><path class=d d="M3005 905l32-5 31-6 32-6 31-5 38 6-32 5-31 6-32 6-31 5zM3037 900L3074 906M3068 894L3106 900M3100 888L3137 894"/><path class=d d="M2878 926l32-5 32-5 31-6 32-5 38 6-32 5-32 6-31 5-32 5zM2910 921L2948 927M2942 916L2979 922M2973 910L3011 916"/><path class=d d="M2752 946l32-5 31-5 32-5 31-5 38 6-32 5-31 5-32 4-31 5zM2784 941L2821 946M2815 936L2853 942M2847 931L2884 937"/><path class=m d="M2625 964l32-5 32-4 31-5 32-4 38 5-32 5-32 4-31 4-32 5zM2657 959L2695 964M2689 955L2726 960M2720 950L2758 956"/><path class=p d="M2562 972l32-4 31-4 38 5-32 4-31 4zM2594 968L2631 973"/><path class=d d="M4560 555l32-10 32-10 31-10 32-10 37-3-31 10-32 11-31 11-32 11zM4592 545L4630 544M4624 535L4661 533M4655 525L4693 522"/><path class=d d="M4434 597l32-10 31-11 32-10 31-11 38 0-32 11-31 11-32 11-31 11zM4466 587L4503 588M4497 576L4535 577M4529 566L4566 566"/><path class=a d="M4307 638l32-10 32-10 31-10 32-11 38 2-32 11-32 10-31 11-32 10zM4339 628L4377 631M4371 618L4408 620M4402 608L4440 610"/><path class=b d="M4181 675l32-9 31-9 32-10 31-9 38 3-32 11-31 9-32 10-31 9zM4213 666L4250 671M4244 657L4282 661M4276 647L4313 652"/><path class=b d="M4054 707l32-8 32-8 31-8 32-8 38 5-32 9-32 8-31 8-32 8zM4086 699L4124 705M4118 691L4155 697M4149 683L4187 689"/><path class=b d="M3928 734l32-6 31-7 32-7 31-7 38 6-32 7-31 7-32 7-31 7zM3960 728L3997 734M3991 721L4029 727M4023 714L4060 720"/><path class=b d="M3801 760l32-6 32-7 31-6 32-7 38 7-32 6-32 7-31 6-32 6zM3833 754L3871 760M3865 747L3902 754M3896 741L3934 747"/><path class=b d="M3675 786l32-7 31-6 32-7 31-6 38 6-32 7-31 6-32 7-31 6zM3707 779L3744 786M3738 773L3776 779M3770 766L3807 773"/><path class=a d="M3548 813l32-7 32-7 31-6 32-7 38 6-32 7-32 7-31 6-32 7zM3580 806L3618 812M3612 799L3649 806M3643 793L3681 799"/><path class=a d="M3422 839l32-6 31-7 32-7 31-6 38 6-31 7-32 6-32 7-31 6zM3454 833L3491 839M3485 826L3523 832M3517 819L3555 826"/><path class=a d="M3296 865l31-7 32-6 31-6 32-7 38 6-32 7-32 6-31 7-32 6zM3327 858L3365 865M3359 852L3396 858M3390 846L3428 852"/><path class=a d="M3169 889l32-6 31-6 32-6 32-6 37 6-31 6-32 6-32 6-31 6zM3201 883L3238 889M3232 877L3270 883M3264 871L3302 877"/><path class=d d="M3043 911l31-5 32-6 31-6 32-5 38 6-32 5-32 6-31 6-32 5zM3074 906L3112 912M3106 900L3143 906M3137 894L3175 900"/><path class=d d="M2916 932l32-5 31-5 32-6 32-5 37 6-31 5-32 5-32 6-31 5zM2948 927L2985 933M2979 922L3017 927M3011 916L3049 922"/><path class=d d="M2790 951l31-5 32-4 31-5 32-5 38 6-32 4-32 5-31 5-32 5zM2821 946L2859 952M2853 942L2890 947M2884 937L2922 942"/><path class=m d="M2663 969l32-5 31-4 32-4 32-5 37 6-31 4-32 4-32 5-31 4zM2695 964L2732 970M2726 960L2764 965M2758 956L2796 961"/><path class=p d="M2600 977l31-4 32-4 38 5-32 4-31 3zM2631 973L2669 978"/><path class=m d="M4598 555l32-11 31-11 32-11 31-10 38-4-31 11-32 12-32 11-31 11zM4630 544L4667 542M4661 533L4699 531M4693 522L4731 519"/><path class=d d="M4472 599l31-11 32-11 31-11 32-11 38-2-32 12-32 12-31 11-32 12zM4503 588L4541 588M4535 577L4572 577M4566 566L4604 565"/><path class=a d="M4345 641l32-10 31-11 32-10 32-11 37 1-31 11-32 12-32 11-31 11zM4377 631L4414 634M4408 620L4446 623M4440 610L4478 611"/><path class=a d="M4219 680l31-9 32-10 31-9 32-11 38 4-32 10-32 10-31 10-32 10zM4250 671L4288 675M4282 661L4319 665M4313 652L4351 655"/><path class=b d="M4092 713l32-8 31-8 32-8 32-9 37 5-31 9-32 9-32 8-31 8zM4124 705L4161 711M4155 697L4193 703M4187 689L4225 694"/><path class=b d="M3966 741l31-7 32-7 31-7 32-7 38 6-32 7-32 7-31 7-32 7zM3997 734L4035 740M4029 727L4066 733M4060 720L4098 726"/><path class=b d="M3839 766l32-6 31-6 32-7 32-6 37 6-31 7-32 6-32 7-31 6zM3871 760L3908 767M3902 754L3940 760M3934 747L3972 754"/><path class=b d="M3713 792l31-6 32-7 31-6 32-7 38 7-32 6-31 7-32 6-32 7zM3744 786L3782 792M3776 779L3814 786M3807 773L3845 779"/><path class=a d="M3586 819l32-7 31-6 32-7 32-7 37 7-31 6-32 7-32 7-31 6zM3618 812L3655 819M3649 806L3687 812M3681 799L3719 805"/><path class=a d="M3460 845l31-6 32-7 32-6 31-7 38 6-32 7-31 7-32 6-32 7zM3491 839L3529 845M3523 832L3561 839M3555 826L3592 832"/><path class=a d="M3333 871l32-6 31-7 32-6 32-7 37 7-31 6-32 7-32 6-31 6zM3365 865L3402 871M3396 858L3434 865M3428 852L3466 858"/><path class=a d="M3207 895l31-6 32-6 32-6 31-6 38 6-32 6-31 6-32 6-32 6zM3238 889L3276 895M3270 883L3308 889M3302 877L3339 883"/><path class=d d="M3080 917l32-5 31-6 32-6 32-5 37 6-31 6-32 5-32 6-31 5zM3112 912L3149 918M3143 906L3181 912M3175 900L3213 907"/><path class=d d="M2954 938l31-5 32-6 32-5 31-5 38 6-32 5-31 6-32 5-32 4zM2985 933L3023 939M3017 927L3055 934M3049 922L3086 928"/><path class=d d="M2827 957l32-5 31-5 32-5 32-4 37 5-31 5-32 5-32 5-31 4zM2859 952L2896 958M2890 947L2928 953M2922 942L2960 948"/><path class=m d="M2701 974l31-4 32-5 32-4 31-4 38 5-32 4-31 5-32 4-32 4zM2732 970L2770 975M2764 965L2802 971M2796 961L2833 966"/><path class=p d="M2638 981l31-3 32-4 37 5-31 3-32 4zM2669 978L2707 982"/><path class=m d="M4636 553l31-11 32-11 32-12 31-11 38-4-32 11-31 12-32 12-32 12zM4667 542L4705 539M4699 531L4737 527M4731 519L4768 515"/><path class=d d="M4509 600l32-12 31-11 32-12 32-12 37-2-31 13-32 12-32 12-31 12zM4541 588L4578 588M4572 577L4610 576M4604 565L4642 564"/><path class=a d="M4383 645l31-11 32-11 32-12 31-11 38 0-32 12-31 12-32 12-32 11zM4414 634L4452 636M4446 623L4484 624M4478 611L4515 612"/><path class=a d="M4256 685l32-10 31-10 32-10 32-10 37 2-31 11-32 11-32 10-31 10zM4288 675L4325 679M4319 665L4357 669M4351 655L4389 658"/><path class=b d="M4130 719l31-8 32-8 32-9 31-9 38 4-32 10-31 9-32 8-32 8zM4161 711L4199 716M4193 703L4231 708M4225 694L4262 699"/><path class=b d="M4003 747l32-7 31-7 32-7 32-7 37 5-31 8-32 7-32 7-31 7zM4035 740L4072 746M4066 733L4104 739M4098 726L4136 732"/><path class=b d="M3877 773l31-6 32-7 32-6 31-7 38 6-32 7-31 7-32 6-32 6zM3908 767L3946 773M3940 760L3978 767M3972 754L4009 760"/><path class=b d="M3750 799l32-7 32-6 31-7 32-6 37 6-31 7-32 6-31 7-32 6zM3782 792L3820 799M3814 786L3851 792M3845 779L3883 786"/><path class=b d="M3624 825l31-6 32-7 32-7 31-6 38 6-32 7-31 7-32 6-32 7zM3655 819L3693 825M3687 812L3725 819M3719 805L3756 812"/><path class=a d="M3497 852l32-7 32-6 31-7 32-7 37 7-31 7-32 6-31 7-32 6zM3529 845L3567 852M3561 839L3598 845M3592 832L3630 839"/><path class=a d="M3371 877l31-6 32-6 32-7 31-6 38 6-32 7-31 6-32 6-32 7zM3402 871L3440 877M3434 865L3472 871M3466 858L3503 865"/><path class=a d="M3244 901l32-6 32-6 31-6 32-6 37 7-31 6-32 6-31 6-32 5zM3276 895L3314 902M3308 889L3345 896M3339 883L3377 890"/><path class=a d="M3118 923l31-5 32-6 32-5 31-6 38 6-32 6-31 6-32 5-32 5zM3149 918L3187 924M3181 912L3219 919M3213 907L3250 913"/><path class=d d="M2991 943l32-4 32-5 31-6 32-5 37 6-31 6-32 5-31 5-32 5zM3023 939L3061 945M3055 934L3092 940M3086 928L3124 935"/><path class=d d="M2865 962l31-4 32-5 32-5 31-5 38 7-32 4-31 5-32 4-31 5zM2896 958L2934 963M2928 953L2966 959M2960 948L2997 954"/><path class=m d="M2738 979l32-4 32-4 31-5 32-4 38 6-32 4-32 4-31 4-32 4zM2770 975L2808 980M2802 971L2839 976M2833 966L2871 972"/><path class=p d="M2675 986l32-4 31-3 38 5-32 3-31 4zM2707 982L2744 987"/><path class=p d="M4673 551l32-12 32-12 31-12 32-11 37-5-31 12-32 12-31 13-32 13zM4705 539L4743 536M4737 527L4774 523M4768 515L4806 511"/><path class=m d="M4547 600l31-12 32-12 32-12 31-13 38-2-32 12-31 13-32 13-32 13zM4578 588L4616 587M4610 576L4648 574M4642 564L4679 561"/><path class=d d="M4420 647l32-11 32-12 31-12 32-12 37 0-31 13-32 12-31 12-32 12zM4452 636L4490 637M4484 624L4521 625M4515 612L4553 613"/><path class=a d="M4294 689l31-10 32-10 32-11 31-11 38 2-32 12-31 11-32 11-32 10zM4325 679L4363 683M4357 669L4395 672M4389 658L4426 661"/><path class=b d="M4167 724l32-8 32-8 31-9 32-10 37 4-31 10-32 10-31 8-32 9zM4199 716L4237 721M4231 708L4268 713M4262 699L4300 703"/><path class=b d="M4041 753l31-7 32-7 32-7 31-8 38 6-32 8-31 7-32 7-31 7zM4072 746L4110 752M4104 739L4142 745M4136 732L4173 738"/><path class=b d="M3914 779l32-6 32-6 31-7 32-7 38 6-32 7-32 7-31 6-32 7zM3946 773L3984 779M3978 767L4015 773M4009 760L4047 766"/><path class=b d="M3788 805l32-6 31-7 32-6 31-7 38 7-32 6-31 7-32 6-31 7zM3820 799L3857 805M3851 792L3889 799M3883 786L3920 792"/><path class=b d="M3661 832l32-7 32-6 31-7 32-7 38 7-32 7-32 6-31 7-32 7zM3693 825L3731 832M3725 819L3762 825M3756 812L3794 819"/><path class=a d="M3535 858l32-6 31-7 32-6 31-7 38 7-32 6-31 7-32 6-31 7zM3567 852L3604 858M3598 845L3636 852M3630 839L3667 845"/><path class=a d="M3408 884l32-7 32-6 31-6 32-7 38 7-32 6-32 7-31 6-32 6zM3440 877L3478 884M3472 871L3509 878M3503 865L3541 871"/><path class=a d="M3282 907l32-5 31-6 32-6 31-6 38 6-32 6-31 6-32 6-31 6zM3314 902L3351 908M3345 896L3383 902M3377 890L3414 896"/><path class=a d="M3155 929l32-5 32-5 31-6 32-6 38 7-32 5-32 6-31 5-32 6zM3187 924L3225 930M3219 919L3256 925M3250 913L3288 919"/><path class=d d="M3029 950l32-5 31-5 32-5 31-6 38 7-32 5-31 5-32 5-31 5zM3061 945L3098 951M3092 940L3130 946M3124 935L3161 941"/><path class=d d="M2903 968l31-5 32-4 31-5 32-4 38 6-32 4-32 5-31 4-32 4zM2934 963L2972 969M2966 959L3003 965M2997 954L3035 960"/><path class=m d="M2776 984l32-4 31-4 32-4 32-4 37 5-31 4-32 4-32 4-31 3zM2808 980L2845 985M2839 976L2877 981M2871 972L2909 977"/><path class=p d="M2713 991l31-4 32-3 38 4-32 3-32 3zM2744 987L2782 991"/><path class=p d="M4711 549l32-13 31-13 32-12 31-12 38-6-32 12-31 14-32 13-31 13zM4743 536L4780 532M4774 523L4812 519M4806 511L4843 505"/><path class=m d="M4584 600l32-13 32-13 31-13 32-12 38-4-32 14-32 13-31 14-32 13zM4616 587L4654 586M4648 574L4685 572M4679 561L4717 559"/><path class=d d="M4458 649l32-12 31-12 32-12 31-13 38-1-32 13-31 14-32 12-31 13zM4490 637L4527 638M4521 625L4559 626M4553 613L4590 612"/><path class=a d="M4331 693l32-10 32-11 31-11 32-12 38 2-32 12-32 12-31 11-32 11zM4363 683L4401 686M4395 672L4432 675M4426 661L4464 663"/><path class=b d="M4205 730l32-9 31-8 32-10 31-10 38 4-32 10-31 10-32 9-31 9zM4237 721L4274 726M4268 713L4306 717M4300 703L4337 707"/><path class=b d="M4079 759l31-7 32-7 31-7 32-8 38 5-32 8-32 8-31 7-32 8zM4110 752L4148 758M4142 745L4179 751M4173 738L4211 743"/><path class=b d="M3952 786l32-7 31-6 32-7 32-7 37 7-31 6-32 7-32 7-31 6zM3984 779L4021 786M4015 773L4053 779M4047 766L4085 772"/><path class=b d="M3826 812l31-7 32-6 31-7 32-6 38 6-32 7-32 6-31 7-32 7zM3857 805L3895 812M3889 799L3926 805M3920 792L3958 799"/><path class=b d="M3699 839l32-7 31-7 32-6 32-7 37 7-31 6-32 7-32 7-31 6zM3731 832L3768 839M3762 825L3800 832M3794 819L3832 825"/><path class=a d="M3573 865l31-7 32-6 31-7 32-6 38 6-32 7-32 6-31 7-32 6zM3604 858L3642 865M3636 852L3673 858M3667 845L3705 852"/><path class=a d="M3446 890l32-6 31-6 32-7 32-6 37 6-31 7-32 6-32 7-31 6zM3478 884L3515 891M3509 878L3547 884M3541 871L3579 878"/><path class=a d="M3320 914l31-6 32-6 31-6 32-6 38 7-32 6-32 6-31 6-32 5zM3351 908L3389 915M3383 902L3420 909M3414 896L3452 903"/><path class=a d="M3193 936l32-6 31-5 32-6 32-5 37 6-31 6-32 6-32 5-31 5zM3225 930L3262 937M3256 925L3294 932M3288 919L3326 926"/><path class=d d="M3067 956l31-5 32-5 31-5 32-5 38 6-32 5-31 5-32 5-32 5zM3098 951L3136 957M3130 946L3168 952M3161 941L3199 947"/><path class=d d="M2940 973l32-4 31-4 32-5 32-4 37 6-31 4-32 4-32 5-31 3zM2972 969L3009 975M3003 965L3041 970M3035 960L3073 966"/><path class=m d="M2814 988l31-3 32-4 32-4 31-4 38 5-32 4-31 4-32 3-32 3zM2845 985L2883 989M2877 981L2915 986M2909 977L2946 982"/><path class=p d="M2750 994l32-3 32-3 37 4-31 3-32 3zM2782 991L2820 995"/><path class=L d="M4749 545l31-13 32-13 31-14 32-12 38-7-32 14-32 13-31 14-32 14zM4780 532L4818 527M4812 519L4849 513M4843 505L4881 500"/><path class=m d="M4622 599l32-13 31-14 32-13 32-14 37-4-31 14-32 15-32 14-31 14zM4654 586L4691 584M4685 572L4723 570M4717 559L4755 555"/><path class=d d="M4496 651l31-13 32-12 31-14 32-13 38-1-32 14-32 14-31 13-32 13zM4527 638L4565 639M4559 626L4596 626M4590 612L4628 612"/><path class=a d="M4369 697l32-11 31-11 32-12 32-12 37 1-31 13-32 13-32 11-31 12zM4401 686L4438 689M4432 675L4470 678M4464 663L4502 665"/><path class=b d="M4243 735l31-9 32-9 31-10 32-10 38 4-32 10-31 10-32 10-32 9zM4274 726L4312 731M4306 717L4344 721M4337 707L4375 711"/><path class=b d="M4116 766l32-8 31-7 32-8 32-8 37 5-31 8-32 8-32 8-31 7zM4148 758L4185 764M4179 751L4217 756M4211 743L4249 748"/><path class=b d="M3990 792l31-6 32-7 32-7 31-6 38 5-32 8-31 6-32 7-32 7zM4021 786L4059 792M4053 779L4091 785M4085 772L4122 779"/><path class=b d="M3863 819l32-7 31-7 32-6 32-7 37 7-31 6-32 7-32 7-31 6zM3895 812L3932 819M3926 805L3964 812M3958 799L3996 805"/><path class=b d="M3737 845l31-6 32-7 32-7 31-6 38 6-32 7-31 7-32 6-32 7zM3768 839L3806 845M3800 832L3838 839M3832 825L3869 832"/><path class=b d="M3610 871l32-6 31-7 32-6 32-7 37 7-31 7-32 6-32 7-31 6zM3642 865L3679 872M3673 858L3711 865M3705 852L3743 859"/><path class=a d="M3484 897l31-6 32-7 32-6 31-7 38 7-32 7-31 6-32 6-32 7zM3515 891L3553 897M3547 884L3585 891M3579 878L3616 885"/><path class=a d="M3357 920l32-5 31-6 32-6 32-6 37 7-31 6-32 6-32 5-31 6zM3389 915L3426 921M3420 909L3458 916M3452 903L3490 910"/><path class=a d="M3231 942l31-5 32-5 32-6 31-6 38 7-32 6-31 5-32 6-32 5zM3262 937L3300 944M3294 932L3332 938M3326 926L3363 933"/><path class=d d="M3104 962l32-5 32-5 31-5 32-5 37 7-31 5-32 5-31 4-32 5zM3136 957L3174 963M3168 952L3205 959M3199 947L3237 954"/><path class=d d="M2978 978l31-3 32-5 32-4 31-4 38 6-32 4-31 4-32 4-32 4zM3009 975L3047 980M3041 970L3079 976M3073 966L3110 972"/><path class=m d="M2851 992l32-3 32-3 31-4 32-4 37 6-31 3-32 4-31 3-32 2zM2883 989L2921 994M2915 986L2952 991M2946 982L2984 987"/><path class=p d="M2788 998l32-3 31-3 38 4-32 3-31 2zM2820 995L2857 999"/><path class=L d="M4786 541l32-14 31-14 32-13 32-14 37-7-31 14-32 15-32 14-31 15zM4818 527L4855 522M4849 513L4887 508M4881 500L4919 493"/><path class=p d="M4660 598l31-14 32-14 32-15 31-14 38-4-32 15-31 14-32 15-32 15zM4691 584L4729 581M4723 570L4761 566M4755 555L4792 552"/><path class=m d="M4533 652l32-13 31-13 32-14 32-14 37-2-31 15-32 14-32 15-31 13zM4565 639L4602 640M4596 626L4634 625M4628 612L4666 611"/><path class=a d="M4407 701l31-12 32-11 32-13 31-13 38 1-32 14-31 13-32 12-32 12zM4438 689L4476 692M4470 678L4508 680M4502 665L4539 667"/><path class=b d="M4280 740l32-9 32-10 31-10 32-10 37 3-31 11-32 11-31 10-32 9zM4312 731L4350 736M4344 721L4381 726M4375 711L4413 715"/><path class=b d="M4154 771l31-7 32-8 32-8 31-8 38 5-32 9-31 8-32 8-32 7zM4185 764L4223 770M4217 756L4255 762M4249 748L4286 754"/><path class=b d="M4027 799l32-7 32-7 31-6 32-8 37 6-31 8-32 7-31 7-32 6zM4059 792L4097 799M4091 785L4128 792M4122 779L4160 785"/><path class=b d="M3901 825l31-6 32-7 32-7 31-6 38 6-32 7-31 7-32 6-32 7zM3932 819L3970 825M3964 812L4002 819M3996 805L4033 812"/><path class=b d="M3774 852l32-7 32-6 31-7 32-7 37 7-31 7-32 7-31 6-32 7zM3806 845L3844 852M3838 839L3875 846M3869 832L3907 839"/><path class=b d="M3648 878l31-6 32-7 32-6 31-7 38 7-32 7-31 6-32 7-32 6zM3679 872L3717 879M3711 865L3749 872M3743 859L3780 866"/><path class=a d="M3521 904l32-7 32-6 31-6 32-7 37 7-31 7-32 6-31 6-32 7zM3553 897L3591 904M3585 891L3622 898M3616 885L3654 892"/><path class=a d="M3395 927l31-6 32-5 32-6 31-6 38 7-32 6-31 6-32 5-31 6zM3426 921L3464 928M3458 916L3496 923M3490 910L3527 917"/><path class=a d="M3268 949l32-5 32-6 31-5 32-6 38 7-32 6-32 5-31 5-32 6zM3300 944L3338 950M3332 938L3369 945M3363 933L3401 940"/><path class=d d="M3142 968l32-5 31-4 32-5 31-5 38 7-32 4-31 5-32 5-31 4zM3174 963L3211 970M3205 959L3243 965M3237 954L3274 960"/><path class=d d="M3015 984l32-4 32-4 31-4 32-4 38 6-32 4-32 4-31 4-32 3zM3047 980L3085 986M3079 976L3116 982M3110 972L3148 978"/><path class=m d="M2889 996l32-2 31-3 32-4 31-3 38 5-32 4-31 2-32 3-31 2zM2921 994L2958 998M2952 991L2990 995M2984 987L3021 993"/><path class=p d="M2826 1001l31-2 32-3 38 4-32 3-32 1zM2857 999L2895 1003"/><path class=E d="M4824 537l31-15 32-14 32-15 31-14 38-6-32 14-31 15-32 15-32 15zM4855 522L4893 517M4887 508L4925 502M4919 493L4956 487"/><path class=p d="M4697 596l32-15 32-15 31-14 32-15 37-5-31 16-32 15-31 16-32 15zM4729 581L4767 579M4761 566L4798 563M4792 552L4830 548"/><path class=m d="M4571 653l31-13 32-15 32-14 31-15 38-2-32 16-31 15-32 15-31 14zM4602 640L4640 640M4634 625L4672 625M4666 611L4703 610"/><path class=a d="M4444 704l32-12 32-12 31-13 32-14 38 1-32 14-32 14-31 13-32 12zM4476 692L4514 695M4508 680L4545 682M4539 667L4577 668"/><path class=b d="M4318 745l32-9 31-10 32-11 31-11 38 3-32 12-31 11-32 10-31 10zM4350 736L4387 740M4381 726L4419 730M4413 715L4450 719"/><path class=b d="M4191 777l32-7 32-8 31-8 32-9 38 5-32 9-32 8-31 8-32 8zM4223 770L4261 775M4255 762L4292 767M4286 754L4324 759"/><path class=b d="M4065 805l32-6 31-7 32-7 31-8 38 6-32 8-31 7-32 7-31 7zM4097 799L4134 805M4128 792L4166 798M4160 785L4197 791"/><path class=b d="M3938 832l32-7 32-6 31-7 32-7 38 7-32 7-32 6-31 7-32 7zM3970 825L4008 832M4002 819L4039 825M4033 812L4071 819"/><path class=b d="M3812 859l32-7 31-6 32-7 31-7 38 7-32 7-31 6-32 7-31 7zM3844 852L3881 859M3875 846L3913 852M3907 839L3944 846"/><path class=b d="M3685 885l32-6 32-7 31-6 32-7 38 7-32 7-32 6-31 7-32 6zM3717 879L3755 886M3749 872L3786 879M3780 866L3818 873"/><path class=a d="M3559 911l32-7 31-6 32-6 31-7 38 7-31 7-32 6-32 6-31 7zM3591 904L3628 911M3622 898L3660 905M3654 892L3692 899"/><path class=a d="M3433 934l31-6 32-5 31-6 32-6 38 7-32 6-32 6-31 6-32 5zM3464 928L3502 936M3496 923L3533 930M3527 917L3565 924"/><path class=a d="M3306 956l32-6 31-5 32-5 32-6 37 7-31 6-32 5-32 5-31 6zM3338 950L3375 957M3369 945L3407 952M3401 940L3439 947"/><path class=d d="M3180 974l31-4 32-5 31-5 32-4 38 7-32 4-32 5-31 4-32 5zM3211 970L3249 976M3243 965L3280 972M3274 960L3312 967"/><path class=d d="M3053 989l32-3 31-4 32-4 32-4 37 7-31 4-32 3-32 4-31 3zM3085 986L3122 992M3116 982L3154 988M3148 978L3186 985"/><path class=m d="M2927 1000l31-2 32-3 31-2 32-4 38 6-32 3-32 2-31 3-32 2zM2958 998L2996 1003M2990 995L3027 1000M3021 993L3059 998"/><path class=p d="M2863 1004l32-1 32-3 37 5-31 1-32 2zM2895 1003L2933 1006"/><path class=E d="M4861 532l32-15 32-15 31-15 32-14 38-7-32 15-32 15-31 16-32 15zM4893 517L4931 512M4925 502L4962 496M4956 487L4994 481"/><path class=L d="M4735 594l32-15 31-16 32-15 31-16 38-5-31 17-32 16-32 16-31 16zM4767 579L4804 576M4798 563L4836 560M4830 548L4868 544"/><path class=m d="M4609 654l31-14 32-15 31-15 32-16 38-2-32 16-32 16-31 16-32 15zM4640 640L4678 640M4672 625L4709 624M4703 610L4741 608"/><path class=d d="M4482 707l32-12 31-13 32-14 32-14 37 1-31 15-32 14-32 13-31 13zM4514 695L4551 697M4545 682L4583 684M4577 668L4615 670"/><path class=a d="M4356 750l31-10 32-10 31-11 32-12 38 3-32 12-32 12-31 10-32 10zM4387 740L4425 744M4419 730L4456 734M4450 719L4488 722"/><path class=b d="M4229 783l32-8 31-8 32-8 32-9 37 4-31 10-32 9-32 8-31 8zM4261 775L4298 781M4292 767L4330 773M4324 759L4362 764"/><path class=b d="M4103 812l31-7 32-7 31-7 32-8 38 6-32 8-32 7-31 7-32 7zM4134 805L4172 811M4166 798L4203 804M4197 791L4235 797"/><path class=b d="M3976 839l32-7 31-7 32-6 32-7 37 6-31 7-32 7-32 7-31 7zM4008 832L4045 839M4039 825L4077 832M4071 819L4109 825"/><path class=b d="M3850 866l31-7 32-7 31-6 32-7 38 7-32 7-32 6-31 7-32 7zM3881 859L3919 866M3913 852L3950 859M3944 846L3982 853"/><path class=b d="M3723 892l32-6 31-7 32-6 32-7 37 7-31 7-32 6-32 7-31 7zM3755 886L3792 893M3786 879L3824 886M3818 873L3856 880"/><path class=b d="M3597 918l31-7 32-6 32-6 31-7 38 8-32 6-31 6-32 7-32 6zM3628 911L3666 919M3660 905L3698 912M3692 899L3729 906"/><path class=a d="M3470 941l32-5 31-6 32-6 32-6 37 7-31 6-32 6-32 6-31 6zM3502 936L3539 943M3533 930L3571 937M3565 924L3603 931"/><path class=a d="M3344 963l31-6 32-5 32-5 31-6 38 8-32 5-31 6-32 5-32 5zM3375 957L3413 965M3407 952L3445 960M3439 947L3476 954"/><path class=d d="M3217 981l32-5 31-4 32-5 32-4 37 7-31 5-32 4-32 4-31 4zM3249 976L3286 983M3280 972L3318 979M3312 967L3350 975"/><path class=d d="M3091 995l31-3 32-4 32-3 31-4 38 6-32 4-31 4-32 3-32 3zM3122 992L3160 998M3154 988L3192 995M3186 985L3223 991"/><path class=m d="M2964 1005l32-2 31-3 32-2 32-3 37 6-31 2-32 3-32 2-31 1zM2996 1003L3033 1008M3027 1000L3065 1006M3059 998L3097 1003"/><path class=p d="M2901 1008l32-2 31-1 38 4-32 2-31 0zM2933 1006L2970 1011"/><path class=aL d="M4899 527l32-15 31-16 32-15 32-15 37-7-31 15-32 16-32 16-31 17zM4931 512L4968 506M4962 496L5000 490M4994 481L5032 474"/><path class=L d="M4773 592l31-16 32-16 32-16 31-17 38-4-32 17-31 16-32 17-32 17zM4804 576L4842 573M4836 560L4874 556M4868 544L4905 540"/><path class=p d="M4678 640l31-16 32-16 32-16 37-2-31 17-32 16-32 17zM4709 624L4747 623M4741 608L4779 607"/><path class=d d="M4551 697l32-13 32-14 31-15 32-15 37 0-31 15-32 16-31 15-32 14zM4583 684L4621 686M4615 670L4652 671M4646 655L4684 655"/><path class=a d="M4425 744l31-10 32-12 32-12 31-13 38 3-32 13-31 13-32 12-32 11zM4456 734L4494 738M4488 722L4526 726M4520 710L4557 713"/><path class=b d="M4298 781l32-8 32-9 31-10 32-10 37 5-31 10-32 10-31 9-32 9zM4330 773L4368 778M4362 764L4399 769M4393 754L4431 759"/><path class=b d="M4172 811l31-7 32-7 32-8 31-8 38 6-32 8-31 8-32 7-32 8zM4203 804L4241 810M4235 797L4273 803M4267 789L4304 795"/><path class=b d="M4045 839l32-7 32-7 31-7 32-7 37 7-31 7-32 7-31 7-32 7zM4077 832L4115 839M4109 825L4146 832M4140 818L4178 825"/><path class=b d="M3919 866l31-7 32-6 32-7 31-7 38 7-32 7-31 7-32 6-31 7zM3950 859L3988 866M3982 853L4020 860M4014 846L4051 853"/><path class=b d="M3792 893l32-7 32-6 31-7 32-7 38 7-32 7-32 7-31 7-32 6zM3824 886L3862 894M3856 880L3893 887M3887 873L3925 880"/><path class=b d="M3666 919l32-7 31-6 32-6 31-7 38 7-32 7-31 6-32 7-31 6zM3698 912L3735 920M3729 906L3767 913M3761 900L3798 907"/><path class=a d="M3539 943l32-6 32-6 31-6 32-6 38 7-32 7-32 6-31 6-32 6zM3571 937L3609 945M3603 931L3640 939M3634 925L3672 933"/><path class=a d="M3413 965l32-5 31-6 32-5 31-6 38 8-32 5-31 6-32 5-31 5zM3445 960L3482 967M3476 954L3514 962M3508 949L3545 956"/><path class=a d="M3286 983l32-4 32-4 31-5 32-5 38 7-32 5-32 5-31 4-32 5zM3318 979L3356 986M3350 975L3387 982M3381 970L3419 977"/><path class=d d="M3160 998l32-3 31-4 32-4 31-4 38 8-32 3-31 4-32 3-31 3zM3192 995L3229 1001M3223 991L3261 998M3255 987L3292 994"/><path class=m d="M3033 1008l32-2 32-3 31-2 32-3 38 6-32 3-32 2-31 2-32 2zM3065 1006L3103 1011M3097 1003L3134 1009M3128 1001L3166 1007"/><path class=p d="M2939 1011l31 0 32-2 31-1 38 5-32 1-31 1-32 1zM2970 1011L3008 1015M3002 1009L3039 1014"/><path class=T d="M4968 506l32-16 32-16 31-15 38-6-32 16-31 16-32 16zM5000 490L5038 485M5032 474L5069 469"/><path class=E d="M4842 573l32-17 31-16 32-17 31-17 38-5-32 17-31 18-32 17-31 18zM4874 556L4911 553M4905 540L4943 536M4937 523L4974 518"/><path class=p d="M4715 640l32-17 32-16 31-17 32-17 38-2-32 17-32 18-31 17-32 17zM4747 623L4785 623M4779 607L4816 606M4810 590L4848 588"/><path class=m d="M4621 686l31-15 32-16 31-15 38 0-32 16-31 16-32 16zM4652 671L4690 672M4684 655L4721 656"/><path class=a d="M4494 738l32-12 31-13 32-13 32-14 37 2-31 15-32 14-32 13-31 12zM4526 726L4563 730M4557 713L4595 717M4589 700L4627 703"/><path class=b d="M4368 778l31-9 32-10 31-10 32-11 38 4-32 11-32 11-31 10-32 10zM4399 769L4437 774M4431 759L4468 764M4462 749L4500 753"/><path class=b d="M4241 810l32-7 31-8 32-8 32-9 37 6-31 8-32 9-32 8-31 8zM4273 803L4310 809M4304 795L4342 801M4336 787L4374 792"/><path class=b d="M4115 839l31-7 32-7 31-7 32-8 38 7-32 7-32 7-31 7-32 7zM4146 832L4184 838M4178 825L4215 831M4209 818L4247 824"/><path class=b d="M3988 866l32-6 31-7 32-7 32-7 37 6-31 7-32 7-32 8-31 7zM4020 860L4057 867M4051 853L4089 859M4083 846L4121 852"/><path class=b d="M3862 894l31-7 32-7 32-7 31-7 38 8-32 6-31 7-32 7-32 7zM3893 887L3931 894M3925 880L3963 887M3957 873L3994 880"/><path class=b d="M3735 920l32-7 31-6 32-7 32-6 37 7-31 7-32 6-32 7-31 7zM3767 913L3804 921M3798 907L3836 914M3830 900L3868 908"/><path class=b d="M3609 945l31-6 32-6 32-7 31-6 38 8-32 6-31 6-32 6-32 6zM3640 939L3678 946M3672 933L3710 940M3704 926L3741 934"/><path class=a d="M3482 967l32-5 31-6 32-5 32-6 37 7-31 6-32 6-32 6-31 5zM3514 962L3551 970M3545 956L3583 964M3577 951L3615 958"/><path class=a d="M3356 986l31-4 32-5 32-5 31-5 38 8-32 5-31 5-32 5-32 4zM3387 982L3425 990M3419 977L3457 985M3451 972L3488 980"/><path class=d d="M3229 1001l32-3 31-4 32-3 32-5 37 8-31 4-32 4-32 3-31 3zM3261 998L3298 1005M3292 994L3330 1002M3324 991L3362 998"/><path class=d d="M3103 1011l31-2 32-2 32-3 31-3 38 7-32 3-31 3-32 2-32 2zM3134 1009L3172 1016M3166 1007L3204 1014M3198 1004L3235 1011"/><path class=m d="M2976 1016l32-1 31-1 32-1 32-2 37 7-31 1-32 1-31 1-32 0zM3008 1015L3046 1021M3039 1014L3077 1020M3071 1013L3109 1019"/><path class=T d="M4974 518l32-17 32-16 31-16 32-16 38-5-32 15-32 17-31 17-32 17zM5006 501L5044 497M5038 485L5075 480M5069 469L5107 463"/><path class=E d="M4848 588l32-17 31-18 32-17 31-18 38-4-32 18-31 18-32 18-31 18zM4880 571L4917 568M4911 553L4949 550M4943 536L4980 532"/><path class=p d="M4721 656l32-16 32-17 31-17 32-18 38-2-32 18-32 18-31 18-32 17zM4753 640L4791 640M4785 623L4822 622M4816 606L4854 604"/><path class=d d="M4595 717l32-14 31-15 32-16 31-16 38 1-32 17-31 16-32 15-31 15zM4627 703L4664 705M4658 688L4696 690M4690 672L4727 674"/><path class=a d="M4468 764l32-11 32-11 31-12 32-13 38 3-32 14-32 12-31 12-32 11zM4500 753L4538 758M4532 742L4569 746M4563 730L4601 734"/><path class=b d="M4342 801l32-9 31-8 32-10 31-10 38 5-32 10-31 10-32 9-31 9zM4374 792L4411 798M4405 784L4443 789M4437 774L4474 779"/><path class=b d="M4215 831l32-7 32-7 31-8 32-8 38 6-32 8-32 8-31 7-32 8zM4247 824L4285 830M4279 817L4316 823M4310 809L4348 815"/><path class=b d="M4089 859l32-7 31-7 32-7 31-7 38 7-31 7-32 7-32 7-31 7zM4121 852L4158 859M4152 845L4190 852M4184 838L4222 845"/><path class=b d="M3963 887l31-7 32-6 31-7 32-8 38 7-32 8-32 7-31 7-32 7zM3994 880L4032 888M4026 874L4063 881M4057 867L4095 874"/><path class=b d="M3836 914l32-6 31-7 32-7 32-7 37 8-31 7-32 7-32 6-31 7zM3868 908L3905 915M3899 901L3937 909M3931 894L3969 902"/><path class=b d="M3710 940l31-6 32-6 31-7 32-7 38 8-32 7-32 6-31 7-32 6zM3741 934L3779 942M3773 928L3810 935M3804 921L3842 929"/><path class=b d="M3583 964l32-6 31-6 32-6 32-6 37 8-31 7-32 6-32 6-31 5zM3615 958L3652 967M3646 952L3684 961M3678 946L3716 955"/><path class=a d="M3457 985l31-5 32-5 31-5 32-6 38 8-32 6-32 5-31 5-32 5zM3488 980L3526 988M3520 975L3557 983M3551 970L3589 978"/><path class=a d="M3330 1002l32-4 31-4 32-4 32-5 37 8-31 5-32 4-32 4-31 4zM3362 998L3399 1006M3393 994L3431 1002M3425 990L3463 998"/><path class=d d="M3204 1014l31-3 32-3 31-3 32-3 38 8-32 3-32 4-31 2-32 3zM3235 1011L3273 1019M3267 1008L3304 1017M3298 1005L3336 1013"/><path class=m d="M3077 1020l32-1 31-1 32-2 32-2 37 8-31 2-32 1-32 2-31 1zM3109 1019L3146 1027M3140 1018L3178 1025M3172 1016L3210 1024"/><path class=p d="M3014 1021l32 0 31-1 38 8-32 0-31 0zM3046 1021L3083 1028"/><path class=ap d="M5044 497l31-17 32-17 32-15 37-5-31 16-32 17-32 17zM5075 480L5113 476M5107 463L5145 459"/><path class=aL d="M4917 568l32-18 31-18 32-18 32-17 37-4-31 18-32 18-32 18-31 19zM4949 550L4986 547M4980 532L5018 529M5012 514L5050 511"/><path class=L d="M4791 640l31-18 32-18 32-18 31-18 38-2-32 19-31 19-32 18-32 19zM4822 622L4860 622M4854 604L4892 604M4886 586L4923 585"/><path class=m d="M4664 705l32-15 31-16 32-17 32-17 37 1-31 17-32 18-32 17-31 16zM4696 690L4733 693M4727 674L4765 676M4759 657L4797 658"/><path class=a d="M4538 758l31-12 32-12 32-14 31-15 38 4-32 15-31 14-32 13-32 12zM4569 746L4607 751M4601 734L4639 738M4633 720L4670 724"/><path class=b d="M4411 798l32-9 31-10 32-10 32-11 37 5-31 11-32 11-32 10-31 9zM4443 789L4480 795M4474 779L4512 785M4506 769L4544 774"/><path class=b d="M4285 830l31-7 32-8 32-8 31-9 38 6-32 9-31 8-32 8-32 8zM4316 823L4354 829M4348 815L4386 821M4380 807L4417 813"/><path class=b d="M4158 859l32-7 32-7 31-7 32-8 37 7-31 7-32 7-31 8-32 7zM4190 852L4228 859M4222 845L4259 851M4253 838L4291 844"/><path class=b d="M4032 888l31-7 32-7 32-8 31-7 38 7-32 7-31 8-32 7-32 7zM4063 881L4101 888M4095 874L4133 881M4127 866L4164 873"/><path class=b d="M3905 915l32-6 32-7 31-7 32-7 37 7-31 7-32 7-31 7-32 7zM3937 909L3975 916M3969 902L4006 909M4000 895L4038 902"/><path class=b d="M3779 942l31-7 32-6 32-7 31-7 38 8-32 7-31 7-32 7-32 6zM3810 935L3848 944M3842 929L3880 937M3874 922L3911 930"/><path class=b d="M3652 967l32-6 32-6 31-7 32-6 37 8-31 7-32 6-31 6-32 6zM3684 961L3722 969M3716 955L3753 963M3747 948L3785 957"/><path class=b d="M3526 988l31-5 32-5 32-6 31-5 38 8-32 6-31 6-32 5-32 5zM3557 983L3595 992M3589 978L3627 987M3621 972L3658 981"/><path class=a d="M3399 1006l32-4 32-4 31-5 32-5 37 9-31 5-32 5-31 4-32 4zM3431 1002L3469 1011M3463 998L3500 1007M3494 993L3532 1002"/><path class=d d="M3273 1019l31-2 32-4 32-3 31-4 38 9-32 4-31 4-32 3-31 3zM3304 1017L3342 1026M3336 1013L3374 1023M3368 1010L3405 1019"/><path class=d d="M3146 1027l32-2 32-1 31-2 32-3 38 10-32 3-32 2-31 2-32 1zM3178 1025L3216 1036M3210 1024L3247 1034M3241 1022L3279 1032"/><path class=p d="M3052 1028l31 0 32 0 31-1 38 10-32 1-31 1-32 0zM3083 1028L3121 1039M3115 1028L3152 1038"/><path class=ap d="M5050 511l31-18 32-17 32-17 31-16 38-3-32 16-31 16-32 18-32 18zM5081 493L5119 490M5113 476L5151 472M5145 459L5182 456"/><path class=aL d="M4955 566l31-19 32-18 32-18 37-3-31 18-32 19-32 20zM4986 547L5024 545M5018 529L5056 526"/><path class=L d="M4828 641l32-19 32-18 31-19 32-19 37-1-31 19-32 19-31 20-32 19zM4860 622L4898 623M4892 604L4929 603M4923 585L4961 584"/><path class=m d="M4702 709l31-16 32-17 32-18 31-17 38 1-32 18-31 18-32 17-32 17zM4733 693L4771 695M4765 676L4803 678M4797 658L4834 660"/><path class=a d="M4575 763l32-12 32-13 31-14 32-15 37 3-31 16-32 14-31 14-32 12zM4607 751L4645 756M4639 738L4676 742M4670 724L4708 728"/><path class=b d="M4449 804l31-9 32-10 32-11 31-11 38 5-32 12-31 11-32 10-31 9zM4480 795L4518 801M4512 785L4550 791M4544 774L4581 780"/><path class=b d="M4322 837l32-8 32-8 31-8 32-9 38 6-32 9-32 8-31 8-32 8zM4354 829L4392 835M4386 821L4423 827M4417 813L4455 819"/><path class=b d="M4196 866l32-7 31-8 32-7 31-7 38 6-32 8-31 7-32 7-31 8zM4228 859L4265 865M4259 851L4297 858M4291 844L4328 851"/><path class=b d="M4069 895l32-7 32-7 31-8 32-7 38 7-32 7-32 8-31 7-32 7zM4101 888L4139 895M4133 881L4170 888M4164 873L4202 880"/><path class=b d="M3943 923l32-7 31-7 32-7 31-7 38 7-32 8-31 7-32 7-31 7zM3975 916L4012 924M4006 909L4044 917M4038 902L4075 910"/><path class=b d="M3816 950l32-6 32-7 31-7 32-7 38 8-32 7-32 7-31 7-32 7zM3848 944L3886 952M3880 937L3917 945M3911 930L3949 938"/><path class=b d="M3690 975l32-6 31-6 32-6 31-7 38 9-32 6-31 7-32 6-31 6zM3722 969L3759 978M3753 963L3791 972M3785 957L3822 965"/><path class=b d="M3563 997l32-5 32-5 31-6 32-6 38 9-32 6-32 6-31 5-32 6zM3595 992L3633 1001M3627 987L3664 996M3658 981L3696 990"/><path class=a d="M3437 1015l32-4 31-4 32-5 31-5 38 10-31 5-32 5-32 4-31 5zM3469 1011L3506 1021M3500 1007L3538 1017M3532 1002L3570 1012"/><path class=a d="M3311 1029l31-3 32-3 31-4 32-4 38 11-32 4-32 3-31 4-32 3zM3342 1026L3380 1037M3374 1023L3411 1033M3405 1019L3443 1030"/><path class=d d="M3184 1037l32-1 31-2 32-2 32-3 37 11-31 3-32 3-32 2-31 2zM3216 1036L3253 1048M3247 1034L3285 1046M3279 1032L3317 1043"/><path class=m d="M3089 1039l32 0 31-1 32-1 38 13-32 1-32 2-31 1zM3121 1039L3158 1053M3152 1038L3190 1051"/><path class=ap d="M5087 508l32-18 32-18 31-16 32-16 37-2-31 15-32 17-31 17-32 19zM5119 490L5157 487M5151 472L5188 470M5182 456L5220 453"/><path class=T d="M5024 545l32-19 31-18 38-2-32 18-31 20zM5056 526L5093 524"/><path class=E d="M4898 623l31-20 32-19 31-19 32-20 38-1-32 20-32 20-31 20-32 19zM4929 603L4967 604M4961 584L4998 584M4992 565L5030 564"/><path class=p d="M4803 678l31-18 32-18 32-19 37 0-31 20-32 19-32 19zM4834 660L4872 662M4866 642L4904 643"/><path class=d d="M4676 742l32-14 31-16 32-17 32-17 37 3-31 18-32 17-31 16-32 15zM4708 728L4746 732M4739 712L4777 716M4771 695L4809 699"/><path class=a d="M4550 791l31-11 32-12 32-12 31-14 38 5-32 14-31 13-32 12-32 11zM4581 780L4619 786M4613 768L4651 774M4645 756L4682 761"/><path class=b d="M4423 827l32-8 32-9 31-9 32-10 37 6-31 10-32 10-31 8-32 9zM4455 819L4493 825M4487 810L4524 817M4518 801L4556 807"/><path class=b d="M4297 858l31-7 32-8 32-8 31-8 38 7-32 8-31 8-32 7-32 8zM4328 851L4366 857M4360 843L4398 850M4392 835L4429 842"/><path class=b d="M4170 888l32-8 32-7 31-8 32-7 37 7-31 7-32 8-31 7-32 8zM4202 880L4240 887M4234 873L4271 880M4265 865L4303 872"/><path class=b d="M4044 917l31-7 32-8 32-7 31-7 38 7-32 7-31 8-32 7-32 8zM4075 910L4113 917M4107 902L4145 910M4139 895L4176 902"/><path class=b d="M3917 945l32-7 32-7 31-7 32-7 37 8-31 7-32 8-31 7-32 7zM3949 938L3987 947M3981 931L4018 940M4012 924L4050 932"/><path class=b d="M3791 972l31-7 32-6 32-7 31-7 38 9-32 7-31 7-32 7-32 6zM3822 965L3860 975M3854 959L3892 968M3886 952L3923 961"/><path class=b d="M3664 996l32-6 32-6 31-6 32-6 37 9-31 7-32 6-31 6-32 6zM3696 990L3734 1000M3728 984L3765 994M3759 978L3797 988"/><path class=b d="M3538 1017l32-5 31-5 32-6 31-5 38 10-32 5-31 6-32 5-31 5zM3570 1012L3607 1022M3601 1007L3639 1017M3633 1001L3670 1011"/><path class=a d="M3411 1033l32-3 32-4 31-5 32-4 38 10-32 5-32 4-31 5-32 4zM3443 1030L3481 1041M3475 1026L3512 1036M3506 1021L3544 1032"/><path class=a d="M3285 1046l32-3 31-3 32-3 31-4 38 12-32 4-31 3-32 4-31 3zM3317 1043L3354 1056M3348 1040L3386 1052M3380 1037L3417 1049"/><path class=d d="M3158 1053l32-2 32-1 31-2 32-2 38 13-32 3-32 2-31 3-32 2zM3190 1051L3228 1067M3222 1050L3259 1064M3253 1048L3291 1062"/><path class=m d="M3127 1054l31-1 38 16-32 2z"/><path class=ac d="M5157 487l31-17 32-17 31-15 38-1-32 15-31 17-32 17zM5188 470L5226 469M5220 453L5257 452"/><path class=T d="M5030 564l32-20 31-20 32-18 32-19 37-1-31 18-32 19-32 20-31 20zM5062 544L5099 543M5093 524L5131 523M5125 506L5163 504"/><path class=E d="M4935 623l32-19 31-20 32-20 38-1-32 21-32 20-31 21zM4967 604L5004 604M4998 584L5036 584"/><path class=p d="M4840 681l32-19 32-19 31-20 38 2-32 20-31 20-32 19zM4872 662L4910 665M4904 643L4941 645"/><path class=d d="M4714 747l32-15 31-16 32-17 31-18 38 3-32 19-31 18-32 16-31 16zM4746 732L4783 737M4777 716L4815 721M4809 699L4846 703"/><path class=a d="M4587 797l32-11 32-12 31-13 32-14 38 6-32 14-32 13-31 12-32 11zM4619 786L4657 792M4651 774L4688 780M4682 761L4720 767"/><path class=b d="M4461 834l32-9 31-8 32-10 31-10 38 6-32 10-31 10-32 9-31 8zM4493 825L4530 832M4524 817L4562 823M4556 807L4593 813"/><path class=b d="M4334 865l32-8 32-7 31-8 32-8 38 6-32 9-32 7-31 8-32 7zM4366 857L4404 864M4398 850L4435 856M4429 842L4467 849"/><path class=b d="M4208 895l32-8 31-7 32-8 31-7 38 6-32 8-31 7-32 8-31 8zM4240 887L4277 894M4271 880L4309 886M4303 872L4340 879"/><path class=b d="M4081 925l32-8 32-7 31-8 32-7 38 7-32 8-32 7-31 8-32 8zM4113 917L4151 925M4145 910L4182 917M4176 902L4214 910"/><path class=b d="M3955 954l32-7 31-7 32-8 31-7 38 8-32 7-31 8-32 7-31 8zM3987 947L4024 955M4018 940L4056 948M4050 932L4087 940"/><path class=b d="M3828 981l32-6 32-7 31-7 32-7 38 9-32 7-32 7-31 7-32 7zM3860 975L3898 984M3892 968L3929 977M3923 961L3961 970"/><path class=b d="M3702 1006l32-6 31-6 32-6 31-7 38 10-31 6-32 7-32 6-31 6zM3734 1000L3771 1010M3765 994L3803 1004M3797 988L3835 997"/><path class=b d="M3576 1027l31-5 32-5 31-6 32-5 38 10-32 6-32 5-31 6-32 5zM3607 1022L3645 1033M3639 1017L3676 1027M3670 1011L3708 1022"/><path class=b d="M3449 1045l32-4 31-5 32-4 32-5 37 11-31 5-32 5-32 5-31 4zM3481 1041L3518 1053M3512 1036L3550 1048M3544 1032L3582 1043"/><path class=a d="M3323 1059l31-3 32-4 31-3 32-4 38 12-32 5-32 4-31 4-32 4zM3354 1056L3392 1070M3386 1052L3423 1066M3417 1049L3455 1062"/><path class=d d="M3196 1069l32-2 31-3 32-2 32-3 37 15-31 3-32 4-32 3-31 3zM3228 1067L3265 1084M3259 1064L3297 1081M3291 1062L3329 1077"/><path class=m d="M3164 1071l32-2 38 18-32 3z"/><path class=ac d="M5163 504l31-18 32-17 31-17 32-15 38 1-32 15-32 16-31 17-32 18zM5194 486L5232 486M5226 469L5263 469M5257 452L5295 453"/><path class=T d="M5068 563l31-20 32-20 32-19 37 0-31 20-32 19-32 21zM5099 543L5137 543M5131 523L5169 524"/><path class=E d="M4973 625l31-21 32-20 32-21 37 1-31 21-32 21-31 21zM5004 604L5042 606M5036 584L5074 585"/><path class=p d="M4846 703l32-19 32-19 31-20 32-20 38 2-32 21-32 20-31 20-32 20zM4878 684L4916 688M4910 665L4947 668M4941 645L4979 648"/><path class=d d="M4720 767l32-14 31-16 32-16 31-18 38 5-32 18-31 17-32 16-31 14zM4752 753L4789 759M4783 737L4821 743M4815 721L4852 726"/><path class=b d="M4593 813l32-10 32-11 31-12 32-13 38 6-32 14-32 12-31 11-32 10zM4625 803L4663 810M4657 792L4694 799M4688 780L4726 787"/><path class=b d="M4467 849l32-9 31-8 32-9 31-10 38 7-32 10-31 9-32 8-31 8zM4499 840L4536 847M4530 832L4568 839M4562 823L4599 830"/><path class=r d="M4340 879l32-8 32-7 31-8 32-7 38 6-32 8-32 7-31 8-32 7zM4372 871L4410 878M4404 864L4441 870M4435 856L4473 863"/><path class=r d="M4214 910l32-8 31-8 32-8 31-7 38 6-32 8-31 8-32 8-31 8zM4246 902L4283 909M4277 894L4315 901M4309 886L4346 893"/><path class=r d="M4087 940l32-7 32-8 31-8 32-7 38 7-32 8-32 8-31 8-32 8zM4119 933L4157 941M4151 925L4188 933M4182 917L4220 925"/><path class=r d="M3961 970l32-7 31-8 32-7 31-8 38 9-32 7-31 8-32 8-31 7zM3993 963L4030 972M4024 955L4062 964M4056 948L4093 956"/><path class=r d="M3835 997l31-6 32-7 31-7 32-7 38 9-32 7-32 8-31 6-32 7zM3866 991L3904 1000M3898 984L3935 994M3929 977L3967 986"/><path class=b d="M3708 1022l32-6 31-6 32-6 32-7 37 10-31 7-32 6-32 6-31 6zM3740 1016L3777 1026M3771 1010L3809 1020M3803 1004L3841 1014"/><path class=b d="M3582 1043l31-5 32-5 31-6 32-5 38 10-32 6-32 6-31 5-32 6zM3613 1038L3651 1049M3645 1033L3682 1044M3676 1027L3714 1038"/><path class=b d="M3455 1062l32-5 31-4 32-5 32-5 37 12-31 5-32 5-32 5-31 5zM3487 1057L3524 1070M3518 1053L3556 1065M3550 1048L3588 1060"/><path class=a d="M3329 1077l31-3 32-4 31-4 32-4 38 13-32 5-32 5-31 4-32 5zM3360 1074L3398 1089M3392 1070L3429 1085M3423 1066L3461 1080"/><path class=d d="M3202 1090l32-3 31-3 32-3 32-4 37 17-31 4-32 5-32 4-31 5zM3234 1087L3271 1107M3265 1084L3303 1103M3297 1081L3335 1098"/><path class=ac d="M5200 504l32-18 31-17 32-16 32-15 37 4-31 13-32 15-32 17-31 18zM5232 486L5269 487M5263 469L5301 470M5295 453L5333 455"/><path class=T d="M5074 585l31-21 32-21 32-19 31-20 38 1-32 20-31 20-32 21-32 21zM5105 564L5143 566M5137 543L5175 545M5169 524L5206 525"/><path class=E d="M5011 627l31-21 32-21 37 2-31 21-32 22zM5042 606L5080 608"/><path class=p d="M4884 708l32-20 31-20 32-20 32-21 37 3-31 21-32 22-32 20-31 20zM4916 688L4953 693M4947 668L4985 673M4979 648L5017 651"/><path class=d d="M4758 773l31-14 32-16 31-17 32-18 38 5-32 19-32 17-31 16-32 15zM4789 759L4827 765M4821 743L4858 749M4852 726L4890 732"/><path class=b d="M4631 820l32-10 31-11 32-12 32-14 37 7-31 14-32 12-32 11-31 10zM4663 810L4700 817M4694 799L4732 806M4726 787L4764 794"/><path class=b d="M4505 855l31-8 32-8 31-9 32-10 38 7-32 10-32 9-31 8-32 8zM4536 847L4574 854M4568 839L4605 846M4599 830L4637 837"/><path class=r d="M4378 885l32-7 31-8 32-7 32-8 37 7-31 8-32 7-32 7-31 8zM4410 878L4447 884M4441 870L4479 877M4473 863L4511 870"/><path class=r d="M4252 917l31-8 32-8 31-8 32-8 38 7-32 8-32 8-31 8-32 8zM4283 909L4321 916M4315 901L4352 908M4346 893L4384 900"/><path class=r d="M4125 949l32-8 31-8 32-8 32-8 37 7-31 8-32 8-32 9-31 8zM4157 941L4194 949M4188 933L4226 940M4220 925L4258 932"/><path class=r d="M3999 979l31-7 32-8 31-8 32-7 38 8-32 8-31 8-32 8-32 8zM4030 972L4068 981M4062 964L4100 973M4093 956L4131 965"/><path class=r d="M3872 1007l32-7 31-6 32-8 32-7 37 10-31 7-32 7-32 8-31 6zM3904 1000L3941 1011M3935 994L3973 1003M3967 986L4005 996"/><path class=r d="M3746 1032l31-6 32-6 32-6 31-7 38 10-32 7-31 7-32 6-32 6zM3777 1026L3815 1037M3809 1020L3847 1031M3841 1014L3878 1024"/><path class=b d="M3619 1055l32-6 31-5 32-6 32-6 37 11-31 6-32 6-32 6-31 6zM3651 1049L3688 1061M3682 1044L3720 1055M3714 1038L3752 1049"/><path class=b d="M3493 1075l31-5 32-5 32-5 31-5 38 12-32 5-31 6-32 6-32 5zM3524 1070L3562 1084M3556 1065L3594 1078M3588 1060L3625 1072"/><path class=b d="M3366 1094l32-5 31-4 32-5 32-5 37 14-31 6-32 5-32 6-31 5zM3398 1089L3435 1106M3429 1085L3467 1100M3461 1080L3499 1095"/><path class=a d="M3240 1112l31-5 32-4 32-5 31-4 38 17-32 6-31 6-32 5-32 6zM3271 1107L3309 1128M3303 1103L3341 1123M3335 1098L3372 1117"/><path class=ac d="M5238 505l31-18 32-17 32-15 31-13 38 5-32 12-31 15-32 16-31 18zM5269 487L5307 490M5301 470L5339 474M5333 455L5370 459"/><path class=ap d="M5175 545l31-20 32-20 38 3-32 19-32 20zM5206 525L5244 527"/><path class=aL d="M5080 608l31-21 32-21 32-21 37 2-31 21-32 22-32 22zM5111 587L5149 590M5143 566L5181 568"/><path class=L d="M4985 673l32-22 31-21 32-22 37 4-31 22-32 22-31 22zM5017 651L5054 656M5048 630L5086 634"/><path class=m d="M4890 732l32-19 31-20 32-20 38 5-32 21-32 20-31 19zM4922 713L4959 719M4953 693L4991 699"/><path class=a d="M4764 794l31-14 32-15 31-16 32-17 38 6-32 18-32 17-31 15-32 13zM4795 780L4833 788M4827 765L4864 773M4858 749L4896 756"/><path class=b d="M4637 837l32-10 31-10 32-11 32-12 37 7-31 13-32 11-32 10-31 9zM4669 827L4706 835M4700 817L4738 825M4732 806L4770 814"/><path class=r d="M4511 870l31-8 32-8 31-8 32-9 38 7-32 9-32 8-31 8-32 7zM4542 862L4580 869M4574 854L4611 861M4605 846L4643 853"/><path class=r d="M4384 900l32-8 31-8 32-7 32-7 37 6-31 8-32 7-32 8-31 7zM4416 892L4453 899M4447 884L4485 891M4479 877L4517 884"/><path class=r d="M4258 932l31-8 32-8 31-8 32-8 38 6-32 8-32 9-31 8-32 9zM4289 924L4327 931M4321 916L4358 923M4352 908L4390 914"/><path class=r d="M4131 965l32-8 31-8 32-9 32-8 37 8-31 8-32 9-32 8-31 9zM4163 957L4200 965M4194 949L4232 957M4226 940L4264 948"/><path class=r d="M4005 996l31-7 32-8 32-8 31-8 38 9-32 8-31 8-32 8-32 8zM4036 989L4074 998M4068 981L4106 990M4100 973L4137 982"/><path class=r d="M3878 1024l32-7 31-6 32-8 32-7 37 10-31 7-32 8-32 7-31 7zM3910 1017L3947 1028M3941 1011L3979 1021M3973 1003L4011 1013"/><path class=r d="M3752 1049l31-6 32-6 32-6 31-7 38 11-32 6-31 7-32 6-32 7zM3783 1043L3821 1054M3815 1037L3853 1048M3847 1031L3884 1041"/><path class=r d="M3625 1072l32-5 31-6 32-6 32-6 37 12-31 6-32 6-32 6-31 6zM3657 1067L3694 1079M3688 1061L3726 1073M3720 1055L3758 1067"/><path class=b d="M3499 1095l31-6 32-5 32-6 31-6 38 13-32 6-31 6-32 6-32 7zM3530 1089L3568 1103M3562 1084L3600 1097M3594 1078L3631 1091"/><path class=b d="M3372 1117l32-6 31-5 32-6 32-5 37 15-31 6-32 7-32 6-31 7zM3404 1111L3441 1129M3435 1106L3473 1123M3467 1100L3505 1116"/><path class=b d="M3277 1134l32-6 32-5 31-6 38 19-32 7-31 7-32 8zM3309 1128L3347 1150M3341 1123L3378 1143"/></g><g fill="#000"><circle cx="143.8" cy="82.9" r="2.0"/><circle cx="205.0" cy="86.0" r="2.1"/><circle cx="238.0" cy="77.4" r="1.2"/><circle cx="252.7" cy="77.4" r="1.9"/><circle cx="267.0" cy="93.6" r="1.7"/><circle cx="299.0" cy="65.3" r="1.6"/><circle cx="313.6" cy="82.7" r="1.0"/><circle cx="328.5" cy="101.2" r="1.8"/><circle cx="377.4" cy="90.0" r="1.3"/><circle cx="395.0" cy="46.0" r="2.0"/><circle cx="409.0" cy="61.0" r="2.0"/><circle cx="423.5" cy="78.5" r="2.0"/><circle cx="456.0" cy="49.0" r="2.0"/><circle cx="471.0" cy="66.5" r="2.0"/><circle cx="128.8" cy="222.8" r="1.9"/><circle cx="176.0" cy="229.2" r="1.6"/><circle cx="224.8" cy="227.2" r="1.7"/><circle cx="272.0" cy="222.8" r="1.8"/><circle cx="81.0" cy="125.0" r="0.8"/></g><text class=tl x="48.4" y="296.1" text-anchor="middle">0.01</text><text class=tl x="110.6" y="305.0" text-anchor="middle">0.02</text><text class=tl x="172.8" y="313.9" text-anchor="middle">0.03</text><text class=tl x="235.0" y="322.8" text-anchor="middle">0.04</text><text class=tl x="297.2" y="331.7" text-anchor="middle">0.05</text><text class=tl x="370.8" y="325.4">2</text><text class=tl x="409.3" y="316.2">4</text><text class=tl x="447.8" y="306.9">6</text><text class=tl x="486.3" y="297.7">8</text><text class=tl x="524.8" y="288.5">10</text><text class=tl x="49.0" y="69.2" text-anchor="end">0</text><text class=tl x="49.0" y="114.1" text-anchor="end">−<tspan dx="1.6">10</tspan></text><text class=tl x="49.0" y="158.9" text-anchor="end">−<tspan dx="1.6">20</tspan></text><text class=tl x="49.0" y="203.8" text-anchor="end">−<tspan dx="1.6">30</tspan></text><text class=tl x="49.0" y="248.6" text-anchor="end">−<tspan dx="1.6">40</tspan></text><text class=tl x="509.8" y="304.5">× 10<tspan dy="-6.6" font-size="8.6">−4</tspan></text><text class=mi x="170.7" y="335.2" text-anchor="middle">β</text><text class=mi x="455.6" y="324.6" text-anchor="middle">τ</text><text class=zl font-size="17.5" transform="translate(18.2 168) rotate(-90)" text-anchor="middle"><tspan class=gi>a</tspan><tspan class=sb dy="3">0</tspan><tspan dy="-3">(</tspan><tspan class=gi>β</tspan>,<tspan class=gi>τ</tspan>)</text><text class=cap x="275.6" y="370.9" text-anchor="middle">(<tspan font-weight="bold">a</tspan>)</text><path class=gl d="M92.2 698.6L282.8 597.4L282.8 393.8"/><path class=gl d="M150.5 715.9L341.1 614.6L341.1 411.0"/><path class=gl d="M208.8 733.2L399.4 631.9L399.4 428.3"/><path class=gl d="M267.0 750.5L457.7 649.2L457.7 445.6"/><path class=gl d="M325.3 767.7L516.0 666.5L516.0 462.9"/><path class=gl d="M365.0 757.6L108.2 682.1L108.2 478.5"/><path class=gl d="M399.1 739.2L142.3 663.7L142.3 460.1"/><path class=gl d="M433.2 720.9L176.4 645.4L176.4 441.8"/><path class=gl d="M467.3 702.6L210.5 627.1L210.5 423.5"/><path class=gl d="M501.4 684.2L244.6 608.7L244.6 405.1"/><path class=gl d="M82.7 688.2L271.8 586.5L527.8 662.4"/><path class=gl d="M82.7 642.1L271.8 540.4L527.8 616.3"/><path class=gl d="M82.7 595.9L271.8 494.2L527.8 570.1"/><path class=gl d="M82.7 549.8L271.8 448.1L527.8 524.0"/><path class=gl d="M82.7 503.6L271.8 401.9L527.8 477.8"/><path class=ax d="M82.7 492.2L271.8 390.5L527.8 466.4L527.8 670.0L271.8 594.1L82.7 695.8"/><path class=ax d="M271.8 594.1L271.8 390.5"/><path class=ax d="M82.7 492.2L82.7 695.8L338.7 771.7L527.8 670.0"/><path class=ax d="M92.2 698.6L88.6 700.6"/><path class=ax d="M150.5 715.9L146.9 717.9"/><path class=ax d="M208.8 733.2L205.2 735.2"/><path class=ax d="M267.0 750.5L263.4 752.5"/><path class=ax d="M325.3 767.7L321.7 769.7"/><path class=ax d="M365.0 757.6L369.0 758.9"/><path class=ax d="M399.1 739.2L403.1 740.5"/><path class=ax d="M433.2 720.9L437.2 722.2"/><path class=ax d="M467.3 702.6L471.3 703.9"/><path class=ax d="M501.4 684.2L505.4 685.5"/><path class=ax d="M82.7 688.2L77.7 686.0"/><path class=ax d="M82.7 642.1L77.7 639.9"/><path class=ax d="M82.7 595.9L77.7 593.7"/><path class=ax d="M82.7 549.8L77.7 547.6"/><path class=ax d="M82.7 503.6L77.7 501.4"/><g class=sf transform="scale(.1)"><path class=g d="M2600 5849l29-9 30-9 29-8 30-8 49 27-29 10-30 10-29 10-30 10zM2629 5840L2679 5872M2659 5831L2708 5862M2688 5823L2738 5852"/><path class=f d="M2482 5888l29-10 30-10 29-10 30-9 49 33-29 10-30 10-29 10-30 10zM2511 5878L2561 5912M2541 5868L2590 5902M2570 5858L2620 5892"/><path class=e d="M2363 5934l30-12 30-12 29-12 30-10 49 34-30 10-29 9-30 10-29 10zM2393 5922L2442 5951M2423 5910L2472 5941M2452 5898L2501 5932"/><path class=i d="M2245 5985l30-12 29-12 30-13 29-14 50 27-30 10-29 11-30 10-29 10zM2275 5973L2324 5992M2304 5961L2354 5982M2334 5948L2383 5971"/><path class=h d="M2127 6012l30-5 29-3 30-8 29-11 50 17-30 10-30 6-29 4-30 5zM2157 6007L2206 6022M2186 6004L2235 6018M2216 5996L2265 6012"/><path class=q d="M2038 6019l30-1 30-1 29-5 49 15-29 5-30 2-29 3zM2068 6018L2117 6034M2098 6017L2147 6032"/><path class=j d="M1950 6013l29 4 30 2 29 0 50 18-30 2-29 1-30-1zM1979 6017L2029 6040M2009 6019L2058 6039"/><path class=c d="M1891 6000l29 7 30 6 49 26-29-2-30-2zM1920 6007L1970 6037"/><path class=u d="M1832 5983l29 9 30 8 49 35-30-3-29-2zM1861 5992L1910 6032"/><path class=B d="M1772 5966l30 8 30 9 49 47-30-2-29-1zM1802 5974L1851 6028"/><path class=C d="M1713 5950l30 8 29 8 50 61-30 1-29 0zM1743 5958L1792 6028"/><path class=I d="M1654 5926l30 13 29 11 50 78-30 0-29-1zM1684 5939L1733 6028"/><path class=W d="M1595 5901l30 13 29 12 50 101-30-1-29 0zM1625 5914L1674 6026"/><path class=aB d="M1507 5875l29 6 30 9 29 11 50 125-30 1-30 4-29 6zM1536 5881L1585 6031M1566 5890L1615 6027"/><path class=as d="M1388 5893l30-8 29-8 30-3 30 1 49 162-30 10-29 14-30 17-29 19zM1418 5885L1467 6078M1447 5877L1497 6061M1477 5874L1526 6047"/><path class=P d="M1270 5936l30-13 29-11 30-10 29-9 50 204-30 20-29 21-30 23-29 24zM1300 5923L1349 6161M1329 5912L1379 6138M1359 5902L1408 6117"/><path class=P d="M1182 5988l29-23 30-15 29-14 50 249-30 27-30 28-29 33zM1211 5965L1260 6240M1241 5950L1290 6212"/><path class=aa d="M1122 6053l30-35 30-30 49 285-30 36-29 40zM1152 6018L1201 6309"/><path class=X d="M1063 6133l30-41 29-39 50 296-30 41-29 44zM1093 6092L1142 6390"/><path class=W d="M1034 6182l29-49 50 301-30 46z"/><path class=I d="M1004 6246l30-64 49 298-29 50z"/><path class=C d="M975 6320l29-74 50 284-30 53z"/><path class=N d="M945 6402l30-82 49 263-29 55z"/><path class=w d="M916 6490l29-88 50 236-30 59z"/><path class=j d="M886 6596l30-106 49 207-30 66z"/><path class=h d="M857 6725l29-129 49 167-29 75z"/><path class=s d="M827 6910l30-185 49 113-30 87z"/><path class=s d="M2649 5882l30-10 29-10 30-10 29-10 49 26-29 11-30 11-29 11-30 11zM2679 5872L2728 5901M2708 5862L2757 5890M2738 5852L2787 5879"/><path class=g d="M2531 5922l30-10 29-10 30-10 29-10 49 30-30 11-29 11-30 10-29 11zM2561 5912L2609 5944M2590 5902L2639 5934M2620 5892L2668 5923"/><path class=f d="M2413 5961l29-10 30-10 29-9 30-10 49 33-30 9-29 9-30 9-29 8zM2442 5951L2491 5982M2472 5941L2521 5973M2501 5932L2550 5964"/><path class=i d="M2295 6002l29-10 30-10 29-11 30-10 49 29-30 8-29 8-30 7-30 7zM2324 5992L2373 6013M2354 5982L2403 6006M2383 5971L2432 5998"/><path class=h d="M2176 6027l30-5 29-4 30-6 30-10 48 18-29 7-30 6-29 4-30 4zM2206 6022L2255 6037M2235 6018L2284 6033M2265 6012L2314 6027"/><path class=q d="M2088 6037l29-3 30-2 29-5 49 14-29 5-30 4-29 4zM2117 6034L2166 6050M2147 6032L2196 6046"/><path class=j d="M1999 6039l30 1 29-1 30-2 49 17-30 3-29 3-30 1zM2029 6040L2078 6060M2058 6039L2107 6057"/><path class=c d="M1910 6032l30 3 30 2 29 2 49 22-30 2-29 1-30 1zM1940 6035L1989 6064M1970 6037L2018 6063"/><path class=u d="M1851 6028l30 2 29 2 49 33-29 2-30 3zM1881 6030L1930 6067"/><path class=B d="M1733 6028l30 0 29 0 30-1 29 1 49 42-29 5-30 6-29 6-30 5zM1763 6028L1812 6087M1792 6028L1841 6081M1822 6027L1871 6075"/><path class=C d="M1645 6026l29 0 30 1 29 1 49 64-29 6-30 6-30 8zM1674 6026L1723 6104M1704 6027L1753 6098"/><path class=I d="M1526 6047l30-10 29-6 30-4 30-1 48 86-29 8-30 11-29 12-30 15zM1556 6037L1605 6143M1585 6031L1634 6131M1615 6027L1664 6120"/><path class=M d="M1408 6117l30-20 29-19 30-17 29-14 49 111-29 18-30 21-29 22-30 23zM1438 6097L1487 6219M1467 6078L1516 6197M1497 6061L1546 6176"/><path class=I d="M1290 6212l30-27 29-24 30-23 29-21 49 125-29 24-30 26-30 27-29 27zM1320 6185L1368 6319M1349 6161L1398 6292M1379 6138L1428 6266"/><path class=C d="M1201 6309l30-36 29-33 30-28 49 134-30 29-29 31-30 33zM1231 6273L1280 6406M1260 6240L1309 6375"/><path class=B d="M1142 6390l30-41 29-40 49 130-29 34-30 35zM1172 6349L1221 6473"/><path class=u d="M1083 6480l30-46 29-44 49 118-29 35-30 35zM1113 6434L1162 6543"/><path class=k d="M1024 6583l30-53 29-50 49 98-30 37-29 37zM1054 6530L1102 6615"/><path class=o d="M995 6638l29-55 49 69-30 40z"/><path class=n d="M965 6697l30-59 48 54-29 45z"/><path class=i d="M935 6763l30-66 49 40-30 55z"/><path class=f d="M906 6838l29-75 49 29-29 66z"/><path class=l d="M876 6925l30-87 49 20-30 81z"/><path class=s d="M2698 5912l30-11 29-11 30-11 29-11 49 23-30 12-29 12-30 12-30 12zM2728 5901L2776 5927M2757 5890L2806 5915M2787 5879L2835 5903"/><path class=g d="M2580 5955l29-11 30-10 29-11 30-11 48 27-29 12-30 12-29 11-30 11zM2609 5944L2658 5974M2639 5934L2687 5963M2668 5923L2717 5951"/><path class=g d="M2462 5990l29-8 30-9 29-9 30-9 48 30-29 10-30 9-29 9-30 8zM2491 5982L2540 6013M2521 5973L2569 6004M2550 5964L2599 5995"/><path class=e d="M2343 6020l30-7 30-7 29-8 30-8 48 31-29 7-30 6-30 5-29 5zM2373 6013L2421 6039M2403 6006L2451 6034M2432 5998L2481 6028"/><path class=h d="M2225 6041l30-4 29-4 30-6 29-7 49 24-30 4-29 3-30 1-29 4zM2255 6037L2303 6052M2284 6033L2333 6051M2314 6027L2362 6048"/><path class=q d="M2137 6054l29-4 30-4 29-5 49 15-30 5-29 4-30 5zM2166 6050L2215 6065M2196 6046L2244 6061"/><path class=j d="M2018 6063l30-2 30-1 29-3 30-3 48 16-29 5-30 4-30 3-29 3zM2048 6061L2096 6082M2078 6060L2126 6079M2107 6057L2156 6075"/><path class=c d="M1930 6067l29-2 30-1 29-1 49 22-30 4-29 4-30 5zM1959 6065L2008 6093M1989 6064L2037 6089"/><path class=u d="M1812 6087l29-6 30-6 29-5 30-3 48 31-29 6-30 8-29 9-30 10zM1841 6081L1890 6121M1871 6075L1919 6112M1900 6070L1949 6104"/><path class=B d="M1693 6112l30-8 30-6 29-6 30-5 48 44-30 10-29 10-30 10-29 12zM1723 6104L1771 6161M1753 6098L1801 6151M1782 6092L1830 6141"/><path class=H d="M1575 6158l30-15 29-12 30-11 29-8 49 61-30 12-29 14-30 15-29 17zM1605 6143L1653 6214M1634 6131L1683 6199M1664 6120L1712 6185"/><path class=H d="M1457 6242l30-23 29-22 30-21 29-18 49 73-30 20-29 21-30 23-30 23zM1487 6219L1535 6295M1516 6197L1565 6272M1546 6176L1594 6251"/><path class=B d="M1339 6346l29-27 30-27 30-26 29-24 48 76-29 24-30 25-29 26-30 26zM1368 6319L1417 6393M1398 6292L1446 6367M1428 6266L1476 6342"/><path class=u d="M1250 6439l30-33 29-31 30-29 48 73-29 27-30 28-29 28zM1280 6406L1328 6474M1309 6375L1358 6446"/><path class=c d="M1162 6543l29-35 30-35 29-34 49 63-30 29-29 29-30 29zM1191 6508L1240 6560M1221 6473L1269 6531"/><path class=j d="M1102 6615l30-37 30-35 48 46-30 29-29 30zM1132 6578L1180 6618"/><path class=q d="M1043 6692l30-40 29-37 49 33-30 31-29 34zM1073 6652L1121 6679"/><path class=h d="M984 6792l30-55 29-45 49 21-30 42-29 53zM1014 6737L1062 6755"/><path class=g d="M955 6858l29-66 49 16-30 65z"/><path class=l d="M925 6939l30-81 48 15-29 80z"/><path class=l d="M2746 5939l30-12 30-12 29-12 30-12 48 22-30 12-29 13-30 13-30 13zM2776 5927L2824 5951M2806 5915L2854 5938M2835 5903L2883 5925"/><path class=s d="M2628 5985l30-11 29-11 30-12 29-12 48 25-29 13-30 13-29 12-30 11zM2658 5974L2706 6002M2687 5963L2735 5990M2717 5951L2765 5977"/><path class=g d="M2510 6021l30-8 29-9 30-9 29-10 48 28-29 11-30 10-29 9-30 8zM2540 6013L2588 6043M2569 6004L2617 6034M2599 5995L2647 6024"/><path class=f d="M2421 6039l30-5 30-6 29-7 48 30-29 7-30 6-30 5zM2451 6034L2499 6064M2481 6028L2529 6058"/><path class=i d="M2303 6052l30-1 29-3 30-4 29-5 48 30-29 3-30 3-29 1-30 0zM2333 6051L2381 6076M2362 6048L2410 6075M2392 6044L2440 6072"/><path class=n d="M2215 6065l29-4 30-5 29-4 48 24-29 0-30 2-29 3zM2244 6061L2292 6078M2274 6056L2322 6076"/><path class=o d="M2126 6079l30-4 29-5 30-5 48 16-30 5-29 5-30 5zM2156 6075L2204 6091M2185 6070L2233 6086"/><path class=k d="M2008 6093l29-4 30-4 29-3 30-3 48 17-30 5-29 4-30 6-29 5zM2037 6089L2085 6111M2067 6085L2115 6105M2096 6082L2144 6101"/><path class=w d="M1890 6121l29-9 30-8 29-6 30-5 48 23-30 7-29 9-30 10-29 12zM1919 6112L1967 6142M1949 6104L1997 6132M1978 6098L2026 6123"/><path class=u d="M1771 6161l30-10 29-10 30-10 30-10 48 33-30 12-30 12-29 13-30 13zM1801 6151L1849 6191M1830 6141L1878 6178M1860 6131L1908 6166"/><path class=N d="M1653 6214l30-15 29-14 30-12 29-12 48 43-29 13-30 15-29 15-30 17zM1683 6199L1731 6247M1712 6185L1760 6232M1742 6173L1790 6217"/><path class=N d="M1535 6295l30-23 29-21 30-20 29-17 48 50-29 18-30 19-29 21-30 22zM1565 6272L1613 6322M1594 6251L1642 6301M1624 6231L1672 6282"/><path class=u d="M1417 6393l29-26 30-25 29-24 30-23 48 49-30 23-29 23-30 24-29 24zM1446 6367L1494 6414M1476 6342L1524 6390M1505 6318L1553 6367"/><path class=w d="M1328 6474l30-28 29-27 30-26 48 45-30 24-29 25-30 25zM1358 6446L1406 6487M1387 6419L1435 6462"/><path class=k d="M1210 6589l30-29 29-29 30-29 29-28 48 38-29 25-30 25-29 26-30 26zM1240 6560L1288 6588M1269 6531L1317 6562M1299 6502L1347 6537"/><path class=o d="M1121 6679l30-31 29-30 30-29 48 25-30 26-29 27-30 29zM1151 6648L1199 6667M1180 6618L1228 6640"/><path class=n d="M1062 6755l30-42 29-34 48 17-29 33-30 41zM1092 6713L1140 6729"/><path class=i d="M1033 6808l29-53 48 15-29 52z"/><path class=g d="M1003 6873l30-65 48 14-30 65z"/><path class=l d="M974 6953l29-80 48 14-29 81z"/><path class=l d="M2794 5964l30-13 30-13 29-13 30-12 47 18-29 14-30 14-29 14-30 13zM2824 5951L2872 5973M2854 5938L2901 5959M2883 5925L2931 5945"/><path class=l d="M2676 6013l30-11 29-12 30-13 29-13 48 22-30 14-29 14-30 13-29 12zM2706 6002L2753 6027M2735 5990L2783 6014M2765 5977L2812 6000"/><path class=s d="M2558 6051l30-8 29-9 30-10 29-11 48 26-30 12-29 11-30 10-29 9zM2588 6043L2635 6072M2617 6034L2665 6062M2647 6024L2694 6051"/><path class=g d="M2469 6069l30-5 30-6 29-7 48 30-30 7-29 7-30 5zM2499 6064L2547 6095M2529 6058L2576 6088"/><path class=e d="M2381 6076l29-1 30-3 29-3 48 31-30 3-29 3-30 0zM2410 6075L2458 6106M2440 6072L2487 6103"/><path class=h d="M2292 6078l30-2 29 0 30 0 47 30-29-1-30 0-29 0zM2322 6076L2369 6105M2351 6076L2399 6105"/><path class=q d="M2204 6091l29-5 30-5 29-3 48 27-30 0-29 2-30 3zM2233 6086L2281 6107M2263 6081L2310 6105"/><path class=j d="M2085 6111l30-6 29-4 30-5 30-5 47 19-29 3-30 5-30 6-29 6zM2115 6105L2162 6124M2144 6101L2192 6118M2174 6096L2222 6113"/><path class=c d="M1967 6142l30-10 29-9 30-7 29-5 48 19-30 8-29 8-30 10-29 12zM1997 6132L2044 6156M2026 6123L2074 6146M2056 6116L2103 6138"/><path class=w d="M1849 6191l29-13 30-12 30-12 29-12 48 26-30 13-29 14-30 13-30 14zM1878 6178L1926 6208M1908 6166L1956 6195M1938 6154L1985 6181"/><path class=u d="M1731 6247l29-15 30-15 29-13 30-13 47 31-29 15-30 15-29 15-30 17zM1760 6232L1808 6267M1790 6217L1837 6252M1819 6204L1867 6237"/><path class=u d="M1613 6322l29-21 30-19 29-18 30-17 47 37-29 17-30 17-29 19-30 21zM1642 6301L1690 6337M1672 6282L1719 6318M1701 6264L1749 6301"/><path class=w d="M1494 6414l30-24 29-23 30-23 30-22 47 36-29 21-30 22-30 22-29 22zM1524 6390L1571 6423M1553 6367L1601 6401M1583 6344L1631 6379"/><path class=c d="M1376 6512l30-25 29-25 30-24 29-24 48 31-30 23-29 23-30 23-29 22zM1406 6487L1453 6514M1435 6462L1483 6491M1465 6438L1512 6468"/><path class=j d="M1258 6614l30-26 29-26 30-25 29-25 48 24-30 24-29 23-30 24-29 24zM1288 6588L1335 6607M1317 6562L1365 6583M1347 6537L1394 6560"/><path class=o d="M1169 6696l30-29 29-27 30-26 48 17-30 25-30 26-29 29zM1199 6667L1246 6682M1228 6640L1276 6656"/><path class=n d="M1110 6770l30-41 29-33 48 15-30 32-29 41zM1140 6729L1187 6743"/><path class=e d="M1081 6822l29-52 48 14-30 52z"/><path class=g d="M1051 6887l30-65 47 14-29 65z"/><path class=l d="M1022 6968l29-81 48 14-30 81z"/><path class=l d="M2842 5986l30-13 29-14 30-14 29-14 47 16-29 15-30 15-29 15-30 14zM2872 5973L2919 5992M2901 5959L2948 5977M2931 5945L2978 5962"/><path class=l d="M2724 6039l29-12 30-13 29-14 30-14 47 20-29 15-30 14-30 14-29 13zM2753 6027L2800 6049M2783 6014L2830 6035M2812 6000L2860 6021"/><path class=s d="M2606 6081l29-9 30-10 29-11 30-12 47 23-30 13-29 12-30 11-29 10zM2635 6072L2682 6098M2665 6062L2712 6087M2694 6051L2741 6075"/><path class=g d="M2487 6103l30-3 30-5 29-7 30-7 47 27-30 9-29 8-30 6-29 4zM2517 6100L2564 6131M2547 6095L2594 6125M2576 6088L2623 6117"/><path class=e d="M2399 6105l29 1 30 0 29-3 48 32-30 3-30 1-29 0zM2428 6106L2475 6139M2458 6106L2505 6138"/><path class=h d="M2310 6105l30 0 29 0 30 0 47 34-30-1-29 0-30-1zM2340 6105L2387 6138M2369 6105L2416 6138"/><path class=q d="M2222 6113l29-3 30-3 29-2 47 32-29 0-30 1-29 1zM2251 6110L2298 6138M2281 6107L2328 6137"/><path class=j d="M2133 6130l29-6 30-6 30-5 47 26-30 2-29 3-30 5zM2162 6124L2210 6144M2192 6118L2239 6141"/><path class=c d="M2015 6168l29-12 30-10 29-8 30-8 47 19-30 8-29 9-30 11-29 13zM2044 6156L2091 6177M2074 6146L2121 6166M2103 6138L2150 6157"/><path class=w d="M1896 6222l30-14 30-13 29-14 30-13 47 22-30 14-29 15-30 14-29 15zM1926 6208L1973 6233M1956 6195L2003 6219M1985 6181L2032 6204"/><path class=w d="M1778 6284l30-17 29-15 30-15 29-15 48 26-30 15-29 16-30 16-30 17zM1808 6267L1855 6295M1837 6252L1885 6279M1867 6237L1914 6263"/><path class=w d="M1660 6358l30-21 29-19 30-17 29-17 47 28-29 17-30 17-29 19-30 19zM1690 6337L1737 6365M1719 6318L1766 6346M1749 6301L1796 6329"/><path class=c d="M1542 6445l29-22 30-22 30-22 29-21 47 26-29 21-30 21-29 21-30 21zM1571 6423L1619 6447M1601 6401L1648 6426M1631 6379L1678 6405"/><path class=k d="M1424 6536l29-22 30-23 29-23 30-23 47 23-29 22-30 22-30 22-29 21zM1453 6514L1500 6534M1483 6491L1530 6512M1512 6468L1560 6490"/><path class=j d="M1306 6631l29-24 30-24 29-23 30-24 47 19-30 22-29 23-30 23-29 24zM1335 6607L1382 6623M1365 6583L1412 6600M1394 6560L1441 6577"/><path class=o d="M1217 6711l29-29 30-26 30-25 47 16-30 24-29 26-30 28zM1246 6682L1294 6697M1276 6656L1323 6671"/><path class=n d="M1158 6784l29-41 30-32 47 14-30 32-29 41zM1187 6743L1234 6757"/><path class=e d="M1128 6836l30-52 47 14-30 52z"/><path class=g d="M1099 6901l29-65 47 14-29 65z"/><path class=l d="M1069 6982l30-81 47 14-30 81z"/><path class=l d="M2889 6006l30-14 29-15 30-15 29-15 47 14-30 15-29 16-30 15-29 16zM2919 5992L2965 6007M2948 5977L2995 5992M2978 5962L3024 5976"/><path class=l d="M2771 6062l29-13 30-14 30-14 29-15 47 17-30 15-29 15-30 15-29 14zM2800 6049L2847 6068M2830 6035L2877 6053M2860 6021L2906 6038"/><path class=l d="M2653 6108l29-10 30-11 29-12 30-13 47 20-30 14-29 13-30 13-30 11zM2682 6098L2729 6122M2712 6087L2759 6109M2741 6075L2788 6096"/><path class=s d="M2535 6135l29-4 30-6 29-8 30-9 46 25-29 11-30 9-29 7-30 6zM2564 6131L2611 6160M2594 6125L2640 6153M2623 6117L2670 6144"/><path class=f d="M2446 6139l29 0 30-1 30-3 46 31-29 5-30 2-29 1zM2475 6139L2522 6173M2505 6138L2552 6171"/><path class=i d="M2357 6137l30 1 29 0 30 1 47 35-30 0-29 0-30-1zM2387 6138L2434 6174M2416 6138L2463 6174"/><path class=n d="M2298 6138l30-1 29 0 47 36-30 0-29 0zM2328 6137L2374 6173"/><path class=o d="M2210 6144l29-3 30-2 29-1 47 35-30 0-29-1-30 1zM2239 6141L2286 6172M2269 6139L2315 6173"/><path class=k d="M2091 6177l30-11 29-9 30-8 30-5 46 29-29 2-30 4-29 7-30 10zM2121 6166L2168 6186M2150 6157L2197 6179M2180 6149L2227 6175"/><path class=c d="M1973 6233l30-14 29-15 30-14 29-13 47 19-30 14-29 14-30 16-29 15zM2003 6219L2049 6240M2032 6204L2079 6224M2062 6190L2108 6210"/><path class=c d="M1855 6295l30-16 29-16 30-15 29-15 47 22-30 15-29 16-30 16-29 16zM1885 6279L1931 6302M1914 6263L1961 6286M1944 6248L1990 6270"/><path class=c d="M1737 6365l29-19 30-17 29-17 30-17 47 23-30 16-29 17-30 18-30 18zM1766 6346L1813 6369M1796 6329L1843 6351M1825 6312L1872 6334"/><path class=c d="M1619 6447l29-21 30-21 29-21 30-19 46 22-29 19-30 20-29 20-30 20zM1648 6426L1695 6446M1678 6405L1724 6426M1707 6384L1754 6406"/><path class=k d="M1500 6534l30-22 30-22 29-22 30-21 46 19-29 21-30 21-29 21-30 21zM1530 6512L1577 6529M1560 6490L1606 6508M1589 6468L1636 6487"/><path class=j d="M1382 6623l30-23 29-23 30-22 29-21 47 16-29 21-30 22-30 22-29 22zM1412 6600L1458 6615M1441 6577L1488 6593M1471 6555L1518 6571"/><path class=o d="M1264 6725l30-28 29-26 30-24 29-24 47 14-30 24-29 24-30 26-29 28zM1294 6697L1340 6711M1323 6671L1370 6685M1353 6647L1399 6661"/><path class=n d="M1205 6798l29-41 30-32 47 14-30 32-29 41zM1234 6757L1281 6771"/><path class=e d="M1175 6850l30-52 47 14-30 52z"/><path class=g d="M1146 6915l29-65 47 14-29 65z"/><path class=l d="M1116 6996l30-81 47 14-30 81z"/><path class=l d="M2936 6023l29-16 30-15 29-16 30-15 46 11-29 16-30 16-29 16-30 16zM2965 6007L3012 6020M2995 5992L3041 6004M3024 5976L3071 5988"/><path class=l d="M2818 6082l29-14 30-15 29-15 30-15 46 13-29 16-30 16-30 15-29 15zM2847 6068L2893 6083M2877 6053L2923 6068M2906 6038L2953 6052"/><path class=l d="M2699 6133l30-11 30-13 29-13 30-14 46 16-30 15-29 14-30 14-29 13zM2729 6122L2775 6141M2759 6109L2805 6127M2788 6096L2834 6113"/><path class=s d="M2581 6166l30-6 29-7 30-9 29-11 47 21-30 12-29 11-30 9-29 8zM2611 6160L2657 6186M2640 6153L2687 6177M2670 6144L2716 6166"/><path class=g d="M2493 6174l29-1 30-2 29-5 47 28-30 7-30 4-29 3zM2522 6173L2568 6205M2552 6171L2598 6201"/><path class=e d="M2404 6173l30 1 29 0 30 0 46 34-30 2-29 1-30 1zM2434 6174L2480 6211M2463 6174L2509 6210"/><path class=h d="M2345 6173l29 0 30 0 46 39-29 0-30 0zM2374 6173L2421 6212"/><path class=q d="M2256 6173l30-1 29 1 30 0 46 39-29-1-30-1-30 0zM2286 6172L2332 6210M2315 6173L2362 6211"/><path class=j d="M2168 6186l29-7 30-4 29-2 46 37-29 0-30 2-29 4zM2197 6179L2243 6212M2227 6175L2273 6210"/><path class=c d="M2049 6240l30-16 29-14 30-14 30-10 46 30-30 6-29 10-30 12-29 14zM2079 6224L2125 6244M2108 6210L2155 6232M2138 6196L2184 6222"/><path class=c d="M1931 6302l30-16 29-16 30-15 29-15 47 18-30 16-29 15-30 16-30 16zM1961 6286L2007 6305M1990 6270L2037 6289M2020 6255L2066 6274"/><path class=c d="M1813 6369l30-18 29-17 30-16 29-16 46 19-29 16-30 17-29 17-30 17zM1843 6351L1889 6371M1872 6334L1918 6354M1902 6318L1948 6337"/><path class=c d="M1695 6446l29-20 30-20 29-19 30-18 46 19-29 17-30 19-29 19-30 20zM1724 6426L1771 6443M1754 6406L1800 6424M1783 6387L1830 6405"/><path class=k d="M1577 6529l29-21 30-21 29-21 30-20 46 17-29 20-30 21-30 20-29 21zM1606 6508L1652 6524M1636 6487L1682 6504M1665 6466L1712 6483"/><path class=j d="M1458 6615l30-22 30-22 29-21 30-21 46 16-30 20-29 21-30 21-29 22zM1488 6593L1534 6607M1518 6571L1564 6586M1547 6550L1593 6565"/><path class=o d="M1340 6711l30-26 29-24 30-24 29-22 47 14-30 22-29 24-30 24-29 25zM1370 6685L1416 6699M1399 6661L1446 6675M1429 6637L1475 6651"/><path class=q d="M1281 6771l30-32 29-28 47 13-30 29-30 32zM1311 6739L1357 6753"/><path class=h d="M1252 6812l29-41 46 14-29 41z"/><path class=e d="M1222 6864l30-52 46 14-30 52z"/><path class=g d="M1193 6929l29-65 46 14-29 65z"/><path class=l d="M1163 7010l30-81 46 14-30 80z"/><path class=l d="M2982 6036l30-16 29-16 30-16 29-16 46 9-29 16-30 17-30 17-29 16zM3012 6020L3057 6031M3041 6004L3087 6014M3071 5988L3117 5997"/><path class=l d="M2864 6098l29-15 30-15 30-16 29-16 46 11-30 16-29 17-30 16-29 15zM2893 6083L2939 6096M2923 6068L2969 6080M2953 6052L2998 6063"/><path class=l d="M2746 6154l29-13 30-14 29-14 30-15 46 13-30 15-29 15-30 15-29 14zM2775 6141L2821 6156M2805 6127L2851 6141M2834 6113L2880 6126"/><path class=l d="M2628 6194l29-8 30-9 29-11 30-12 46 16-30 13-30 13-29 12-30 10zM2657 6186L2703 6208M2687 6177L2732 6196M2716 6166L2762 6183"/><path class=s d="M2539 6208l29-3 30-4 30-7 45 24-29 9-30 7-29 5zM2568 6205L2614 6234M2598 6201L2644 6227"/><path class=f d="M2450 6212l30-1 29-1 30-2 46 31-30 5-29 3-30 2zM2480 6211L2526 6247M2509 6210L2555 6244"/><path class=i d="M2362 6211l29 1 30 0 29 0 46 37-29 2-30 1-30 0zM2391 6212L2437 6252M2421 6212L2467 6251"/><path class=n d="M2302 6210l30 0 30 1 45 41-29 0-30-1zM2332 6210L2378 6252"/><path class=o d="M2214 6216l29-4 30-2 29 0 46 41-29 0-30 0-29 2zM2243 6212L2289 6251M2273 6210L2319 6251"/><path class=k d="M2096 6258l29-14 30-12 29-10 30-6 46 37-30 4-29 6-30 9-30 10zM2125 6244L2171 6272M2155 6232L2201 6263M2184 6222L2230 6257"/><path class=c d="M1977 6321l30-16 30-16 29-15 30-16 45 24-29 12-30 13-29 16-30 16zM2007 6305L2053 6323M2037 6289L2082 6307M2066 6274L2112 6294"/><path class=c d="M1859 6388l30-17 29-17 30-17 29-16 46 18-29 16-30 16-29 17-30 17zM1889 6371L1935 6388M1918 6354L1964 6371M1948 6337L1994 6355"/><path class=c d="M1741 6463l30-20 29-19 30-19 29-17 46 17-29 17-30 18-30 19-29 20zM1771 6443L1816 6459M1800 6424L1846 6440M1830 6405L1876 6422"/><path class=k d="M1623 6545l29-21 30-20 30-21 29-20 46 16-30 20-29 20-30 20-29 20zM1652 6524L1698 6539M1682 6504L1728 6519M1712 6483L1757 6499"/><path class=j d="M1505 6629l29-22 30-21 29-21 30-20 46 14-30 21-29 20-30 21-29 22zM1534 6607L1580 6621M1564 6586L1610 6600M1593 6565L1639 6580"/><path class=o d="M1387 6724l29-25 30-24 29-24 30-22 46 14-30 22-30 23-29 25-30 25zM1416 6699L1462 6713M1446 6675L1491 6688M1475 6651L1521 6665"/><path class=q d="M1327 6785l30-32 30-29 45 14-29 28-30 33zM1357 6753L1403 6766"/><path class=h d="M1298 6826l29-41 46 14-29 40z"/><path class=e d="M1268 6878l30-52 46 13-30 52z"/><path class=g d="M1239 6943l29-65 46 13-29 65z"/><path class=l d="M1209 7023l30-80 46 13-30 81z"/><path class=l d="M3028 6047l29-16 30-17 30-17 29-16 46 7-30 17-30 17-29 17-30 17zM3057 6031L3103 6039M3087 6014L3132 6022M3117 5997L3162 6005"/><path class=l d="M2910 6111l29-15 30-16 29-17 30-16 45 9-29 17-30 16-29 17-30 16zM2939 6096L2985 6106M2969 6080L3014 6089M2998 6063L3044 6073"/><path class=l d="M2792 6170l29-14 30-15 29-15 30-15 45 11-29 15-30 15-30 15-29 15zM2821 6156L2866 6167M2851 6141L2896 6152M2880 6126L2926 6137"/><path class=l d="M2673 6218l30-10 29-12 30-13 30-13 45 12-30 14-29 14-30 14-29 12zM2703 6208L2748 6224M2732 6196L2778 6210M2762 6183L2807 6196"/><path class=s d="M2555 6244l30-5 29-5 30-7 29-9 46 18-30 12-29 10-30 8-29 7zM2585 6239L2630 6266M2614 6234L2660 6258M2644 6227L2689 6248"/><path class=f d="M2437 6252l30-1 29-2 30-2 29-3 46 29-30 6-30 5-29 4-30 3zM2467 6251L2512 6288M2496 6249L2541 6284M2526 6247L2571 6279"/><path class=i d="M2378 6252l29 0 30 0 45 39-29 2-30 0zM2407 6252L2453 6293"/><path class=n d="M2289 6251l30 0 29 0 30 1 45 41-29 1-30 0-29 0zM2319 6251L2364 6294M2348 6251L2394 6294"/><path class=o d="M2171 6272l30-9 29-6 30-4 29-2 46 43-30 1-29 3-30 4-30 6zM2201 6263L2246 6302M2230 6257L2276 6298M2260 6253L2305 6295"/><path class=k d="M2053 6323l29-16 30-13 29-12 30-10 45 36-29 7-30 9-29 9-30 11zM2082 6307L2128 6333M2112 6294L2157 6324M2141 6282L2187 6315"/><path class=c d="M1935 6388l29-17 30-16 29-16 30-16 45 21-29 13-30 14-29 16-30 17zM1964 6371L2010 6387M1994 6355L2039 6371M2023 6339L2069 6357"/><path class=c d="M1816 6459l30-19 30-18 29-17 30-17 45 16-29 16-30 17-30 19-29 18zM1846 6440L1891 6456M1876 6422L1921 6437M1905 6405L1951 6420"/><path class=k d="M1698 6539l30-20 29-20 30-20 29-20 46 15-30 19-29 20-30 20-29 20zM1728 6519L1773 6533M1757 6499L1803 6513M1787 6479L1832 6493"/><path class=j d="M1580 6621l30-21 29-20 30-21 29-20 46 14-30 20-29 20-30 21-29 21zM1610 6600L1655 6614M1639 6580L1685 6593M1669 6559L1714 6573"/><path class=j d="M1462 6713l29-25 30-23 30-22 29-22 46 14-30 21-30 23-29 23-30 24zM1491 6688L1537 6702M1521 6665L1566 6679M1551 6643L1596 6656"/><path class=q d="M1373 6799l30-33 29-28 30-25 45 13-29 25-30 29-29 32zM1403 6766L1448 6780M1432 6738L1478 6751"/><path class=h d="M1344 6839l29-40 46 13-30 41z"/><path class=e d="M1314 6891l30-52 45 14-29 52z"/><path class=g d="M1285 6956l29-65 46 14-30 65z"/><path class=l d="M1255 7037l30-81 45 14-29 80z"/><path class=l d="M3073 6056l30-17 29-17 30-17 30-17 45 6-30 17-30 18-29 17-30 17zM3103 6039L3148 6046M3132 6022L3177 6029M3162 6005L3207 6011"/><path class=l d="M2955 6122l30-16 29-17 30-16 29-17 45 7-29 17-30 17-29 16-30 17zM2985 6106L3030 6113M3014 6089L3059 6097M3044 6073L3089 6080"/><path class=l d="M2837 6182l29-15 30-15 30-15 29-15 45 8-29 15-30 16-29 15-30 15zM2866 6167L2912 6176M2896 6152L2941 6161M2926 6137L2971 6145"/><path class=l d="M2719 6236l29-12 30-14 29-14 30-14 45 9-30 15-29 15-30 14-29 14zM2748 6224L2793 6235M2778 6210L2823 6221M2807 6196L2852 6206"/><path class=s d="M2601 6273l29-7 30-8 29-10 30-12 45 13-30 13-29 12-30 12-29 10zM2630 6266L2675 6286M2660 6258L2705 6274M2689 6248L2734 6262"/><path class=g d="M2482 6291l30-3 29-4 30-5 30-6 45 23-30 9-30 8-29 7-30 6zM2512 6288L2557 6320M2541 6284L2586 6313M2571 6279L2616 6305"/><path class=e d="M2394 6294l29-1 30 0 29-2 45 35-29 4-30 3-29 2zM2423 6293L2468 6333M2453 6293L2498 6330"/><path class=h d="M2305 6295l30-1 29 0 30 0 45 41-30 2-29 1-30 1zM2335 6294L2380 6338M2364 6294L2409 6337"/><path class=q d="M2216 6308l30-6 30-4 29-3 45 44-29 3-30 3-30 5zM2246 6302L2291 6345M2276 6298L2321 6342"/><path class=j d="M2098 6344l30-11 29-9 30-9 29-7 45 42-29 5-30 6-29 7-30 7zM2128 6333L2173 6368M2157 6324L2202 6361M2187 6315L2232 6355"/><path class=k d="M1980 6404l30-17 29-16 30-14 29-13 45 31-29 9-30 10-29 12-30 14zM2010 6387L2055 6406M2039 6371L2084 6394M2069 6357L2114 6384"/><path class=c d="M1862 6474l29-18 30-19 30-17 29-16 45 16-29 15-30 17-30 18-29 18zM1891 6456L1936 6470M1921 6437L1966 6452M1951 6420L1996 6435"/><path class=k d="M1744 6553l29-20 30-20 29-20 30-19 45 14-30 19-29 20-30 20-29 20zM1773 6533L1818 6547M1803 6513L1848 6527M1832 6493L1877 6507"/><path class=j d="M1626 6635l29-21 30-21 29-20 30-20 45 14-30 20-29 20-30 20-29 21zM1655 6614L1700 6627M1685 6593L1730 6607M1714 6573L1759 6587"/><path class=j d="M1507 6726l30-24 29-23 30-23 30-21 45 13-30 22-30 22-29 23-30 24zM1537 6702L1582 6715M1566 6679L1611 6692M1596 6656L1641 6670"/><path class=q d="M1419 6812l29-32 30-29 29-25 45 13-29 26-30 28-29 32zM1448 6780L1493 6793M1478 6751L1523 6765"/><path class=h d="M1389 6853l30-41 45 13-30 41z"/><path class=e d="M1360 6905l29-52 45 13-29 52z"/><path class=g d="M1330 6970l30-65 45 13-30 65z"/><path class=l d="M1301 7050l29-80 45 13-29 81z"/><path class=s d="M3118 6063l30-17 29-17 30-18 30-17 44 5-29 17-30 18-30 17-29 17zM3148 6046L3192 6051M3177 6029L3222 6034M3207 6011L3252 6016"/><path class=s d="M3000 6130l30-17 29-16 30-17 29-17 45 5-30 17-29 17-30 17-29 17zM3030 6113L3074 6119M3059 6097L3104 6102M3089 6080L3133 6085"/><path class=l d="M2882 6191l30-15 29-15 30-16 29-15 45 6-30 16-29 15-30 16-29 15zM2912 6176L2956 6183M2941 6161L2986 6167M2971 6145L3015 6152"/><path class=s d="M2764 6249l29-14 30-14 29-15 30-15 45 7-30 16-30 15-29 15-30 14zM2793 6235L2838 6244M2823 6221L2867 6229M2852 6206L2897 6214"/><path class=s d="M2646 6296l29-10 30-12 29-12 30-13 44 9-29 14-30 13-29 13-30 13zM2675 6286L2720 6298M2705 6274L2749 6285M2734 6262L2779 6272"/><path class=g d="M2527 6326l30-6 29-7 30-8 30-9 44 15-29 13-30 12-29 10-30 9zM2557 6320L2602 6346M2586 6313L2631 6336M2616 6305L2661 6324"/><path class=f d="M2439 6335l29-2 30-3 29-4 45 29-30 7-29 6-30 5zM2468 6333L2513 6368M2498 6330L2542 6362"/><path class=i d="M2350 6339l30-1 29-1 30-2 44 38-29 4-30 3-29 3zM2380 6338L2424 6380M2409 6337L2454 6377"/><path class=n d="M2232 6355l29-5 30-5 30-3 29-3 45 44-30 3-29 4-30 4-29 4zM2261 6350L2306 6394M2291 6345L2336 6390M2321 6342L2365 6386"/><path class=o d="M2114 6384l29-9 30-7 29-7 30-6 45 43-30 5-30 5-29 5-30 6zM2143 6375L2188 6413M2173 6368L2217 6408M2202 6361L2247 6403"/><path class=k d="M1996 6435l29-15 30-14 29-12 30-10 44 35-29 8-30 8-29 9-30 11zM2025 6420L2070 6444M2055 6406L2099 6435M2084 6394L2129 6427"/><path class=k d="M1877 6507l30-19 29-18 30-18 30-17 44 20-29 13-30 16-29 18-30 19zM1907 6488L1952 6502M1936 6470L1981 6484M1966 6452L2011 6468"/><path class=k d="M1759 6587l30-20 29-20 30-20 29-20 45 14-30 19-29 20-30 20-29 20zM1789 6567L1833 6580M1818 6547L1863 6560M1848 6527L1892 6540"/><path class=j d="M1641 6670l30-22 29-21 30-20 29-20 45 13-30 20-29 20-30 21-29 22zM1671 6648L1715 6661M1700 6627L1745 6640M1730 6607L1774 6620"/><path class=o d="M1523 6765l29-26 30-24 29-23 30-22 45 13-30 22-30 23-29 25-30 25zM1552 6739L1597 6753M1582 6715L1626 6728M1611 6692L1656 6705"/><path class=q d="M1464 6825l29-32 30-28 44 13-29 28-30 33zM1493 6793L1538 6806"/><path class=h d="M1434 6866l30-41 44 14-29 40z"/><path class=e d="M1405 6918l29-52 45 13-30 52z"/><path class=g d="M1375 6983l30-65 44 13-29 65z"/><path class=l d="M1346 7064l29-81 45 13-30 81z"/><path class=s d="M3163 6068l29-17 30-17 30-18 29-17 44 4-29 18-30 17-29 17-30 17zM3192 6051L3237 6055M3222 6034L3266 6038M3252 6016L3296 6021"/><path class=s d="M3045 6136l29-17 30-17 29-17 30-17 44 4-29 17-30 18-30 16-29 17zM3074 6119L3118 6123M3104 6102L3148 6107M3133 6085L3178 6089"/><path class=s d="M2927 6198l29-15 30-16 29-15 30-16 44 4-30 16-29 16-30 15-29 16zM2956 6183L3000 6187M2986 6167L3030 6172M3015 6152L3059 6156"/><path class=s d="M2808 6258l30-14 29-15 30-15 30-16 44 5-30 16-29 15-30 15-29 15zM2838 6244L2882 6249M2867 6229L2912 6234M2897 6214L2941 6219"/><path class=s d="M2690 6311l30-13 29-13 30-13 29-14 45 6-30 15-30 14-29 14-30 14zM2720 6298L2764 6307M2749 6285L2793 6293M2779 6272L2823 6279"/><path class=g d="M2572 6355l30-9 29-10 30-12 29-13 44 10-29 14-30 14-29 14-30 12zM2602 6346L2646 6363M2631 6336L2675 6349M2661 6324L2705 6335"/><path class=g d="M2483 6373l30-5 29-6 30-7 44 20-29 12-30 9-29 9zM2513 6368L2557 6396M2542 6362L2587 6387"/><path class=e d="M2365 6386l30-3 29-3 30-3 29-4 45 32-30 6-30 6-29 6-30 4zM2395 6383L2439 6423M2424 6380L2468 6417M2454 6377L2498 6411"/><path class=h d="M2247 6403l30-5 29-4 30-4 29-4 44 41-29 5-30 5-29 5-30 4zM2277 6398L2321 6442M2306 6394L2350 6437M2336 6390L2380 6432"/><path class=q d="M2129 6427l29-8 30-6 29-5 30-5 44 43-29 4-30 5-29 5-30 5zM2158 6419L2203 6460M2188 6413L2232 6455M2217 6408L2262 6450"/><path class=j d="M2011 6468l29-13 30-11 29-9 30-8 44 38-30 6-29 7-30 7-29 10zM2040 6455L2084 6485M2070 6444L2114 6478M2099 6435L2143 6471"/><path class=k d="M1892 6540l30-19 30-19 29-18 30-16 44 27-30 11-29 14-30 16-29 18zM1922 6521L1966 6536M1952 6502L1996 6520M1981 6484L2025 6506"/><path class=k d="M1774 6620l30-20 29-20 30-20 29-20 45 14-30 19-29 20-30 20-30 20zM1804 6600L1848 6613M1833 6580L1878 6593M1863 6560L1907 6573"/><path class=j d="M1656 6705l30-22 29-22 30-21 29-20 44 13-29 21-30 20-29 22-30 22zM1686 6683L1730 6696M1715 6661L1759 6674M1745 6640L1789 6654"/><path class=o d="M1538 6806l29-28 30-25 29-25 30-23 44 13-29 24-30 24-29 25-30 28zM1567 6778L1612 6791M1597 6753L1641 6766M1626 6728L1671 6742"/><path class=n d="M1479 6879l29-40 30-33 44 13-30 33-29 40zM1508 6839L1552 6852"/><path class=e d="M1449 6931l30-52 44 13-30 52z"/><path class=g d="M1420 6996l29-65 44 13-29 65z"/><path class=l d="M1390 7077l30-81 44 13-30 81z"/><path class=g d="M3207 6072l30-17 29-17 30-17 29-18 44 3-29 18-30 17-30 17-29 18zM3237 6055L3280 6058M3266 6038L3310 6041M3296 6021L3340 6024"/><path class=s d="M3089 6140l29-17 30-16 30-18 29-17 44 4-30 17-29 17-30 17-29 16zM3118 6123L3162 6127M3148 6107L3192 6110M3178 6089L3221 6093"/><path class=s d="M2971 6203l29-16 30-15 29-16 30-16 44 3-30 16-29 16-30 15-29 16zM3000 6187L3044 6190M3030 6172L3074 6175M3059 6156L3103 6159"/><path class=s d="M2853 6264l29-15 30-15 29-15 30-16 44 3-30 16-30 15-29 16-30 15zM2882 6249L2926 6253M2912 6234L2955 6237M2941 6219L2985 6222"/><path class=s d="M2734 6321l30-14 29-14 30-14 30-15 43 4-29 15-30 15-29 15-30 15zM2764 6307L2808 6313M2793 6293L2837 6298M2823 6279L2867 6283"/><path class=g d="M2616 6375l30-12 29-14 30-14 29-14 44 7-29 15-30 15-29 15-30 15zM2646 6363L2690 6373M2675 6349L2719 6358M2705 6335L2749 6343"/><path class=g d="M2498 6411l30-6 29-9 30-9 29-12 44 13-30 14-29 13-30 12-29 11zM2528 6405L2571 6427M2557 6396L2601 6415M2587 6387L2630 6402"/><path class=f d="M2380 6432l29-5 30-4 29-6 30-6 44 27-30 10-29 8-30 8-29 7zM2409 6427L2453 6464M2439 6423L2483 6456M2468 6417L2512 6448"/><path class=i d="M2262 6450l29-4 30-4 29-5 30-5 44 39-30 7-30 5-29 6-30 4zM2291 6446L2335 6489M2321 6442L2364 6483M2350 6437L2394 6478"/><path class=n d="M2173 6465l30-5 29-5 30-5 43 43-29 5-30 4-29 5zM2203 6460L2246 6502M2232 6455L2276 6498"/><path class=o d="M2055 6495l29-10 30-7 29-7 30-6 44 42-30 4-29 5-30 6-29 7zM2084 6485L2128 6522M2114 6478L2158 6516M2143 6471L2187 6511"/><path class=j d="M1937 6554l29-18 30-16 29-14 30-11 44 34-30 8-30 11-29 12-30 13zM1966 6536L2010 6560M1996 6520L2039 6548M2025 6506L2069 6537"/><path class=k d="M1818 6633l30-20 30-20 29-20 30-19 43 19-29 16-30 18-29 19-30 20zM1848 6613L1892 6626M1878 6593L1921 6607M1907 6573L1951 6589"/><path class=j d="M1700 6718l30-22 29-22 30-20 29-21 44 13-29 21-30 20-29 22-30 22zM1730 6696L1774 6709M1759 6674L1803 6687M1789 6654L1833 6667"/><path class=o d="M1582 6819l30-28 29-25 30-24 29-24 44 13-30 24-29 24-30 25-29 28zM1612 6791L1655 6804M1641 6766L1685 6779M1671 6742L1714 6755"/><path class=n d="M1523 6892l29-40 30-33 44 13-30 33-29 40zM1552 6852L1596 6865"/><path class=e d="M1493 6944l30-52 44 13-30 52z"/><path class=g d="M1464 7009l29-65 44 13-29 65z"/><path class=l d="M1434 7090l30-81 44 13-30 81z"/><path class=g d="M3251 6076l29-18 30-17 30-17 29-18 43 3-29 18-30 17-29 17-30 17zM3280 6058L3324 6061M3310 6041L3353 6044M3340 6024L3383 6027"/><path class=g d="M3133 6143l29-16 30-17 29-17 30-17 43 2-29 17-30 17-29 17-30 16zM3162 6127L3206 6129M3192 6110L3235 6112M3221 6093L3265 6095"/><path class=g d="M3015 6206l29-16 30-15 29-16 30-16 43 2-29 16-30 16-30 15-29 16zM3044 6190L3087 6192M3074 6175L3117 6177M3103 6159L3147 6161"/><path class=g d="M2896 6268l30-15 29-16 30-15 30-16 43 2-30 15-29 16-30 16-29 15zM2926 6253L2969 6255M2955 6237L2999 6239M2985 6222L3028 6223"/><path class=g d="M2778 6328l30-15 29-15 30-15 29-15 44 2-30 15-29 16-30 15-29 15zM2808 6313L2851 6316M2837 6298L2881 6301M2867 6283L2910 6285"/><path class=g d="M2660 6388l30-15 29-15 30-15 29-15 44 3-30 16-30 16-29 16-30 16zM2690 6373L2733 6379M2719 6358L2762 6363M2749 6343L2792 6347"/><path class=g d="M2542 6438l29-11 30-12 29-13 30-14 43 7-29 16-30 15-29 15-30 14zM2571 6427L2615 6441M2601 6415L2644 6426M2630 6402L2674 6411"/><path class=f d="M2424 6471l29-7 30-8 29-8 30-10 43 17-29 14-30 12-29 12-30 10zM2453 6464L2497 6493M2483 6456L2526 6481M2512 6448L2556 6469"/><path class=e d="M2305 6493l30-4 29-6 30-5 30-7 43 32-30 9-29 9-30 7-29 6zM2335 6489L2378 6528M2364 6483L2408 6521M2394 6478L2437 6512"/><path class=h d="M2187 6511l30-4 29-5 30-4 29-5 44 41-30 6-29 5-30 4-29 5zM2217 6507L2260 6549M2246 6502L2290 6545M2276 6498L2319 6540"/><path class=q d="M2069 6537l30-8 29-7 30-6 29-5 44 43-30 4-29 5-30 5-30 6zM2099 6529L2142 6568M2128 6522L2172 6563M2158 6516L2201 6558"/><path class=j d="M1951 6589l29-16 30-13 29-12 30-11 43 37-29 8-30 9-29 11-30 12zM1980 6573L2024 6602M2010 6560L2053 6591M2039 6548L2083 6582"/><path class=j d="M1833 6667l29-21 30-20 29-19 30-18 43 25-29 14-30 16-29 17-30 19zM1862 6646L1906 6661M1892 6626L1935 6644M1921 6607L1965 6628"/><path class=j d="M1714 6755l30-24 30-22 29-22 30-20 43 13-30 20-29 22-30 22-29 23zM1744 6731L1787 6744M1774 6709L1817 6722M1803 6687L1846 6700"/><path class=o d="M1626 6832l29-28 30-25 29-24 44 12-30 25-29 25-30 28zM1655 6804L1699 6817M1685 6779L1728 6792"/><path class=n d="M1567 6905l29-40 30-33 43 13-29 33-30 40zM1596 6865L1640 6878"/><path class=e d="M1537 6957l30-52 43 13-29 52z"/><path class=g d="M1508 7022l29-65 44 13-30 65z"/><path class=l d="M1478 7103l30-81 43 13-30 81z"/><path class=f d="M3294 6078l30-17 29-17 30-17 29-18 43 3-29 17-30 17-29 17-30 17zM3324 6061L3367 6063M3353 6044L3396 6046M3383 6027L3426 6029"/><path class=g d="M3176 6145l30-16 29-17 30-17 29-17 43 2-29 17-30 17-29 16-30 16zM3206 6129L3249 6130M3235 6112L3278 6114M3265 6095L3308 6097"/><path class=g d="M3058 6208l29-16 30-15 30-16 29-16 43 1-29 16-30 15-30 16-29 15zM3087 6192L3130 6193M3117 6177L3160 6177M3147 6161L3190 6162"/><path class=g d="M2940 6270l29-15 30-16 29-16 30-15 43 0-30 16-29 16-30 15-29 16zM2969 6255L3012 6255M2999 6239L3042 6240M3028 6223L3071 6224"/><path class=g d="M2822 6331l29-15 30-15 29-16 30-15 43 1-30 15-29 15-30 16-29 16zM2851 6316L2894 6317M2881 6301L2924 6301M2910 6285L2953 6286"/><path class=f d="M2703 6395l30-16 29-16 30-16 30-16 43 2-30 16-30 16-29 17-30 17zM2733 6379L2776 6382M2762 6363L2805 6365M2792 6347L2835 6349"/><path class=g d="M2585 6455l30-14 29-15 30-15 29-16 43 4-29 16-30 17-29 16-30 16zM2615 6441L2658 6448M2644 6426L2687 6432M2674 6411L2717 6415"/><path class=f d="M2467 6503l30-10 29-12 30-12 29-14 43 9-29 16-30 16-29 15-30 15zM2497 6493L2540 6511M2526 6481L2569 6496M2556 6469L2599 6480"/><path class=f d="M2349 6534l29-6 30-7 29-9 30-9 43 23-30 13-29 12-30 10-29 8zM2378 6528L2421 6561M2408 6521L2451 6551M2437 6512L2480 6539"/><path class=e d="M2260 6549l30-4 29-5 30-6 43 35-30 8-29 7-30 6zM2290 6545L2333 6584M2319 6540L2362 6577"/><path class=h d="M2142 6568l30-5 29-5 30-4 29-5 43 41-29 5-30 5-30 4-29 5zM2172 6563L2214 6604M2201 6558L2244 6600M2231 6554L2274 6595"/><path class=q d="M2024 6602l29-11 30-9 29-8 30-6 43 41-30 6-29 6-30 8-29 8zM2053 6591L2096 6629M2083 6582L2126 6621M2112 6574L2155 6615"/><path class=o d="M1906 6661l29-17 30-16 29-14 30-12 43 35-30 10-29 11-30 12-29 13zM1935 6644L1978 6670M1965 6628L2008 6658M1994 6614L2037 6647"/><path class=j d="M1787 6744l30-22 29-22 30-20 30-19 43 22-30 15-30 18-29 19-30 22zM1817 6722L1860 6735M1846 6700L1889 6716M1876 6680L1919 6698"/><path class=o d="M1669 6845l30-28 29-25 30-25 29-23 43 13-29 23-30 24-29 26-30 28zM1699 6817L1742 6830M1728 6792L1771 6804M1758 6767L1801 6780"/><path class=n d="M1610 6918l30-40 29-33 43 13-29 32-30 41zM1640 6878L1683 6890"/><path class=e d="M1581 6970l29-52 43 13-29 52z"/><path class=g d="M1551 7035l30-65 43 13-30 65z"/><path class=l d="M1521 7116l30-81 43 13-30 81z"/><path class=f d="M3337 6080l30-17 29-17 30-17 29-17 43 2-29 17-30 17-30 17-29 17zM3367 6063L3409 6065M3396 6046L3439 6048M3426 6029L3469 6031"/><path class=f d="M3219 6146l30-16 29-16 30-17 29-17 43 2-30 16-29 17-30 16-29 16zM3249 6130L3291 6131M3278 6114L3321 6115M3308 6097L3350 6098"/><path class=f d="M3101 6208l29-15 30-16 30-15 29-16 43 1-30 16-29 15-30 15-30 15zM3130 6193L3173 6193M3160 6177L3203 6178M3190 6162L3232 6163"/><path class=f d="M2983 6271l29-16 30-15 29-16 30-16 42 0-29 16-30 15-29 16-30 15zM3012 6255L3055 6255M3042 6240L3084 6239M3071 6224L3114 6224"/><path class=f d="M2865 6333l29-16 30-16 29-15 30-15 42-1-29 15-30 16-29 15-30 16zM2894 6317L2937 6316M2924 6301L2966 6301M2953 6286L2996 6285"/><path class=f d="M2746 6399l30-17 29-17 30-16 30-16 42-1-29 16-30 17-30 17-29 18zM2776 6382L2818 6382M2805 6365L2848 6365M2835 6349L2878 6348"/><path class=f d="M2628 6464l30-16 29-16 30-17 29-16 43 1-30 17-29 17-30 17-29 18zM2658 6448L2700 6451M2687 6432L2730 6434M2717 6415L2759 6417"/><path class=f d="M2510 6526l30-15 29-15 30-16 29-16 43 5-30 17-29 18-30 17-29 18zM2540 6511L2582 6521M2569 6496L2612 6504M2599 6480L2641 6486"/><path class=f d="M2392 6569l29-8 30-10 29-12 30-13 43 13-30 17-30 15-29 14-30 13zM2421 6561L2464 6585M2451 6551L2493 6571M2480 6539L2523 6556"/><path class=f d="M2303 6590l30-6 29-7 30-8 42 29-29 10-30 10-29 8zM2333 6584L2375 6618M2362 6577L2405 6608"/><path class=i d="M2185 6609l29-5 30-4 30-5 29-5 43 36-30 7-29 6-30 6-29 5zM2214 6604L2257 6645M2244 6600L2287 6639M2274 6595L2316 6633"/><path class=n d="M2067 6637l29-8 30-8 29-6 30-6 43 41-30 6-30 6-29 6-30 8zM2096 6629L2139 6668M2126 6621L2168 6662M2155 6615L2198 6656"/><path class=q d="M1949 6683l29-13 30-12 29-11 30-10 42 39-29 8-30 8-29 10-30 11zM1978 6670L2021 6702M2008 6658L2050 6692M2037 6647L2080 6684"/><path class=o d="M1830 6757l30-22 29-19 30-18 30-15 42 30-29 12-30 14-29 16-30 18zM1860 6735L1903 6755M1889 6716L1932 6739M1919 6698L1962 6725"/><path class=o d="M1712 6858l30-28 29-26 30-24 29-23 43 16-30 21-29 23-30 25-29 28zM1742 6830L1784 6842M1771 6804L1814 6817M1801 6780L1843 6794"/><path class=n d="M1653 6931l30-41 29-32 43 12-30 33-29 41zM1683 6890L1725 6903"/><path class=e d="M1624 6983l29-52 43 13-30 51z"/><path class=g d="M1594 7048l30-65 42 12-29 66z"/><path class=l d="M1564 7129l30-81 43 13-30 80z"/><path class=e d="M3380 6082l29-17 30-17 30-17 29-17 42 2-29 17-30 17-29 17-30 16zM3409 6065L3452 6067M3439 6048L3481 6050M3469 6031L3511 6033"/><path class=e d="M3262 6147l29-16 30-16 29-17 30-16 42 1-29 16-30 17-30 16-29 16zM3291 6131L3333 6132M3321 6115L3363 6116M3350 6098L3393 6099"/><path class=f d="M3143 6208l30-15 30-15 29-15 30-16 42 1-30 15-29 15-30 15-29 15zM3173 6193L3215 6193M3203 6178L3245 6178M3232 6163L3274 6163"/><path class=e d="M3025 6270l30-15 29-16 30-15 29-16 43 0-30 15-29 15-30 15-29 15zM3055 6255L3097 6253M3084 6239L3127 6238M3114 6224L3156 6223"/><path class=e d="M2907 6332l30-16 29-15 30-16 29-15 43-2-30 16-30 15-29 15-30 16zM2937 6316L2979 6314M2966 6301L3008 6299M2996 6285L3038 6284"/><path class=e d="M2789 6400l29-18 30-17 30-17 29-16 42-2-29 16-30 17-29 18-30 17zM2818 6382L2861 6381M2848 6365L2890 6363M2878 6348L2920 6346"/><path class=e d="M2671 6469l29-18 30-17 29-17 30-17 42-2-29 17-30 18-29 18-30 18zM2700 6451L2743 6451M2730 6434L2772 6433M2759 6417L2802 6415"/><path class=f d="M2553 6539l29-18 30-17 29-18 30-17 42 0-30 18-29 19-30 19-29 19zM2582 6521L2624 6525M2612 6504L2654 6506M2641 6486L2683 6487"/><path class=f d="M2434 6598l30-13 29-14 30-15 30-17 42 5-30 19-29 19-30 18-29 16zM2464 6585L2506 6600M2493 6571L2536 6582M2523 6556L2565 6563"/><path class=f d="M2316 6633l30-7 29-8 30-10 29-10 43 18-30 15-30 13-29 11-30 10zM2346 6626L2388 6655M2375 6618L2417 6644M2405 6608L2447 6631"/><path class=e d="M2198 6656l30-6 29-5 30-6 29-6 42 32-29 9-30 8-29 7-30 6zM2228 6650L2270 6689M2257 6645L2299 6682M2287 6639L2329 6674"/><path class=h d="M2080 6684l29-8 30-8 29-6 30-6 42 39-29 7-30 6-29 7-30 8zM2109 6676L2152 6715M2139 6668L2181 6708M2168 6662L2211 6702"/><path class=n d="M1962 6725l29-12 30-11 29-10 30-8 42 39-30 7-29 9-30 9-29 10zM1991 6713L2033 6748M2021 6702L2063 6739M2050 6692L2092 6730"/><path class=o d="M1843 6794l30-21 30-18 29-16 30-14 42 33-30 11-29 13-30 16-29 17zM1873 6773L1915 6798M1903 6755L1945 6782M1932 6739L1974 6769"/><path class=q d="M1725 6903l30-33 29-28 30-25 29-23 43 21-30 20-29 22-30 26-30 32zM1755 6870L1797 6883M1784 6842L1827 6857M1814 6817L1856 6835"/><path class=h d="M1696 6944l29-41 42 12-29 41z"/><path class=e d="M1666 6995l30-51 42 12-30 52z"/><path class=g d="M1637 7061l29-66 42 13-29 65z"/><path class=l d="M1607 7141l30-80 42 12-30 81z"/><path class=e d="M3422 6083l30-16 29-17 30-17 29-17 42 3-29 17-30 16-30 17-29 16zM3452 6067L3493 6069M3481 6050L3523 6052M3511 6033L3553 6036"/><path class=e d="M3304 6148l29-16 30-16 30-17 29-16 42 2-30 16-29 16-30 16-29 15zM3333 6132L3375 6133M3363 6116L3405 6117M3393 6099L3434 6101"/><path class=e d="M3186 6208l29-15 30-15 29-15 30-15 42 0-30 15-29 15-30 14-29 15zM3215 6193L3257 6192M3245 6178L3287 6178M3274 6163L3316 6163"/><path class=e d="M3068 6268l29-15 30-15 29-15 30-15 42-1-30 15-30 15-29 15-30 15zM3097 6253L3139 6252M3127 6238L3168 6237M3156 6223L3198 6222"/><path class=e d="M2949 6330l30-16 29-15 30-15 30-16 41-1-29 14-30 15-29 16-30 15zM2979 6314L3021 6312M3008 6299L3050 6296M3038 6284L3080 6281"/><path class=e d="M2831 6398l30-17 29-18 30-17 29-16 42-3-29 16-30 17-29 17-30 18zM2861 6381L2903 6377M2890 6363L2932 6360M2920 6346L2962 6343"/><path class=e d="M2713 6469l30-18 29-18 30-18 29-17 42-3-30 17-29 18-30 18-29 18zM2743 6451L2784 6448M2772 6433L2814 6430M2802 6415L2843 6412"/><path class=e d="M2595 6544l29-19 30-19 29-19 30-18 42-3-30 19-29 19-30 20-29 21zM2624 6525L2666 6524M2654 6506L2696 6504M2683 6487L2725 6485"/><path class=f d="M2477 6616l29-16 30-18 29-19 30-19 42 1-30 20-29 20-30 20-30 20zM2506 6600L2548 6605M2536 6582L2578 6585M2565 6563L2607 6565"/><path class=f d="M2358 6665l30-10 29-11 30-13 30-15 41 9-29 18-30 17-29 16-30 14zM2388 6655L2430 6676M2417 6644L2459 6660M2447 6631L2489 6643"/><path class=f d="M2240 6695l30-6 29-7 30-8 29-9 42 25-29 12-30 10-29 10-30 9zM2270 6689L2312 6722M2299 6682L2341 6712M2329 6674L2371 6702"/><path class=i d="M2122 6723l30-8 29-7 30-6 29-7 42 36-30 8-29 8-30 7-29 7zM2152 6715L2193 6754M2181 6708L2223 6747M2211 6702L2252 6739"/><path class=h d="M2004 6758l29-10 30-9 29-9 30-7 42 38-30 8-29 8-30 8-29 9zM2033 6748L2075 6785M2063 6739L2105 6777M2092 6730L2134 6769"/><path class=q d="M1886 6815l29-17 30-16 29-13 30-11 42 36-30 9-29 12-30 12-30 15zM1915 6798L1957 6827M1945 6782L1987 6815M1974 6769L2016 6803"/><path class=q d="M1767 6915l30-32 30-26 29-22 30-20 41 27-29 17-30 19-29 23-30 30zM1797 6883L1839 6901M1827 6857L1868 6878M1856 6835L1898 6859"/><path class=h d="M1738 6956l29-41 42 16-29 38z"/><path class=e d="M1708 7008l30-52 42 13-30 51z"/><path class=g d="M1679 7073l29-65 42 12-29 65z"/><path class=l d="M1649 7154l30-81 42 12-30 81z"/><path class=i d="M3464 6085l29-16 30-17 30-16 29-17 42 8-30 16-30 16-29 16-30 15zM3493 6069L3535 6075M3523 6052L3564 6059M3553 6036L3594 6043"/><path class=e d="M3346 6148l29-15 30-16 29-16 30-16 41 5-29 16-30 15-29 15-30 15zM3375 6133L3417 6136M3405 6117L3446 6121M3434 6101L3476 6106"/><path class=i d="M3228 6207l29-15 30-14 29-15 30-15 41 3-29 14-30 14-29 14-30 14zM3257 6192L3299 6193M3287 6178L3328 6179M3316 6163L3358 6165"/><path class=i d="M3109 6267l30-15 29-15 30-15 30-15 41 0-30 15-29 14-30 15-29 14zM3139 6252L3180 6251M3168 6237L3210 6236M3198 6222L3239 6222"/><path class=i d="M2991 6327l30-15 29-16 30-15 29-14 42-2-30 14-29 15-30 15-29 15zM3021 6312L3062 6309M3050 6296L3092 6294M3080 6281L3121 6279"/><path class=i d="M2873 6395l30-18 29-17 30-17 29-16 42-3-30 16-29 16-30 17-30 17zM2903 6377L2944 6373M2932 6360L2974 6356M2962 6343L3003 6340"/><path class=i d="M2755 6466l29-18 30-18 29-18 30-17 41-5-29 18-30 17-29 18-30 18zM2784 6448L2826 6443M2814 6430L2855 6425M2843 6412L2885 6408"/><path class=i d="M2637 6545l29-21 30-20 29-19 30-19 41-5-29 19-30 20-29 20-30 21zM2666 6524L2708 6520M2696 6504L2737 6500M2725 6485L2767 6480"/><path class=e d="M2518 6625l30-20 30-20 29-20 30-20 41-4-30 21-29 21-30 21-29 21zM2548 6605L2589 6604M2578 6585L2619 6583M2607 6565L2648 6562"/><path class=f d="M2400 6690l30-14 29-16 30-17 29-18 42 0-30 21-29 20-30 20-29 18zM2430 6676L2471 6686M2459 6660L2501 6666M2489 6643L2530 6646"/><path class=f d="M2282 6731l30-9 29-10 30-10 29-12 42 14-30 17-29 14-30 13-30 12zM2312 6722L2353 6748M2341 6712L2383 6735M2371 6702L2412 6721"/><path class=e d="M2164 6761l29-7 30-7 29-8 30-8 41 29-29 10-30 10-29 9-30 9zM2193 6754L2235 6789M2223 6747L2264 6780M2252 6739L2294 6770"/><path class=i d="M2046 6794l29-9 30-8 29-8 30-8 41 37-29 8-30 8-29 8-30 9zM2075 6785L2117 6822M2105 6777L2146 6814M2134 6769L2176 6806"/><path class=h d="M1927 6842l30-15 30-12 29-12 30-9 41 37-29 9-30 10-30 11-29 12zM1957 6827L1998 6861M1987 6815L2028 6850M2016 6803L2058 6840"/><path class=n d="M1809 6931l30-30 29-23 30-19 29-17 42 31-30 15-29 17-30 20-29 26zM1839 6901L1880 6925M1868 6878L1910 6905M1898 6859L1939 6888"/><path class=h d="M1780 6969l29-38 42 20-30 36z"/><path class=e d="M1750 7020l30-51 41 18-29 48z"/><path class=g d="M1721 7085l29-65 42 15-30 63z"/><path class=l d="M1691 7166l30-81 41 13-29 80z"/><path class=e d="M3505 6090l30-15 29-16 30-16 30-16 41 27-30 14-29 14-30 13-30 14zM3535 6075L3576 6095M3564 6059L3606 6082M3594 6043L3635 6068"/><path class=i d="M3387 6151l30-15 29-15 30-15 29-16 41 19-29 13-30 14-29 13-30 13zM3417 6136L3458 6149M3446 6121L3487 6136M3476 6106L3517 6122"/><path class=i d="M3269 6207l30-14 29-14 30-14 29-14 41 11-29 12-30 12-29 12-30 13zM3299 6193L3340 6198M3328 6179L3369 6186M3358 6165L3399 6174"/><path class=i d="M3151 6265l29-14 30-15 29-14 30-15 41 4-30 14-29 13-30 14-29 13zM3180 6251L3221 6252M3210 6236L3251 6238M3239 6222L3280 6225"/><path class=h d="M3033 6324l29-15 30-15 29-15 30-14 41 0-30 14-29 14-30 14-29 15zM3062 6309L3103 6307M3092 6294L3133 6293M3121 6279L3162 6279"/><path class=h d="M2914 6390l30-17 30-17 29-16 30-16 41-2-30 15-29 16-30 16-30 17zM2944 6373L2985 6369M2974 6356L3015 6353M3003 6340L3044 6337"/><path class=h d="M2796 6461l30-18 29-18 30-17 29-18 41-4-29 16-30 18-29 17-30 18zM2826 6443L2867 6437M2855 6425L2896 6420M2885 6408L2926 6402"/><path class=i d="M2678 6541l30-21 29-20 30-20 29-19 41-6-29 19-30 19-29 20-30 21zM2708 6520L2749 6513M2737 6500L2778 6493M2767 6480L2808 6474"/><path class=i d="M2560 6625l29-21 30-21 29-21 30-21 41-7-29 21-30 22-30 22-29 21zM2589 6604L2630 6599M2619 6583L2660 6577M2648 6562L2690 6555"/><path class=e d="M2442 6704l29-18 30-20 29-20 30-21 41-5-30 22-29 22-30 22-29 21zM2471 6686L2512 6686M2501 6666L2542 6664M2530 6646L2571 6642"/><path class=f d="M2323 6760l30-12 30-13 29-14 30-17 41 3-30 21-29 19-30 18-29 16zM2353 6748L2394 6765M2383 6735L2424 6747M2412 6721L2453 6728"/><path class=f d="M2205 6798l30-9 29-9 30-10 29-10 42 21-30 14-30 13-29 11-30 11zM2235 6789L2276 6819M2264 6780L2305 6808M2294 6770L2335 6795"/><path class=e d="M2087 6831l30-9 29-8 30-8 29-8 41 32-29 10-30 9-29 9-30 9zM2117 6822L2158 6858M2146 6814L2187 6849M2176 6806L2217 6840"/><path class=i d="M1969 6873l29-12 30-11 30-10 29-9 41 36-29 9-30 9-29 11-30 11zM1998 6861L2040 6896M2028 6850L2069 6885M2058 6840L2099 6876"/><path class=h d="M1851 6951l29-26 30-20 29-17 30-15 41 34-30 13-29 15-30 18-29 23zM1880 6925L1921 6953M1910 6905L1951 6935M1939 6888L1980 6920"/><path class=i d="M1792 7035l29-48 30-36 41 25-30 32-29 45zM1821 6987L1862 7008"/><path class=g d="M1762 7098l30-63 41 18-30 60z"/><path class=l d="M1733 7178l29-80 41 15-29 78z"/><path class=e d="M3546 6109l30-14 30-13 29-14 30-14 40 27-29 12-30 12-29 11-30 12zM3576 6095L3617 6116M3606 6082L3646 6105M3635 6068L3676 6093"/><path class=e d="M3428 6162l30-13 29-13 30-14 29-13 41 19-29 11-30 12-30 11-29 11zM3458 6149L3498 6162M3487 6136L3528 6151M3517 6122L3558 6139"/><path class=i d="M3310 6211l30-13 29-12 30-12 29-12 41 11-30 10-29 10-30 11-29 11zM3340 6198L3380 6204M3369 6186L3410 6193M3399 6174L3439 6183"/><path class=h d="M3192 6265l29-13 30-14 29-13 30-14 41 4-30 13-29 13-30 12-29 13zM3221 6252L3262 6253M3251 6238L3292 6241M3280 6225L3321 6228"/><path class=h d="M3074 6322l29-15 30-14 29-14 30-14 41 1-30 13-30 13-29 14-30 13zM3103 6307L3144 6306M3133 6293L3173 6292M3162 6279L3203 6279"/><path class=n d="M2955 6386l30-17 30-16 29-16 30-15 40-3-29 15-30 15-29 16-30 16zM2985 6369L3026 6365M3015 6353L3055 6349M3044 6337L3085 6334"/><path class=n d="M2837 6455l30-18 29-17 30-18 29-16 41-5-29 16-30 17-29 17-30 17zM2867 6437L2908 6431M2896 6420L2937 6414M2926 6402L2967 6397"/><path class=h d="M2719 6534l30-21 29-20 30-19 29-19 41-7-30 19-29 18-30 20-29 20zM2749 6513L2789 6505M2778 6493L2819 6485M2808 6474L2848 6467"/><path class=h d="M2601 6620l29-21 30-22 30-22 29-21 41-9-30 21-29 22-30 21-29 22zM2630 6599L2671 6589M2660 6577L2701 6568M2690 6555L2730 6546"/><path class=i d="M2483 6707l29-21 30-22 29-22 30-22 41-9-30 23-29 22-30 23-30 22zM2512 6686L2553 6679M2542 6664L2583 6656M2571 6642L2612 6634"/><path class=f d="M2365 6781l29-16 30-18 29-19 30-21 40-6-29 23-30 23-29 22-30 21zM2394 6765L2435 6769M2424 6747L2464 6747M2453 6728L2494 6724"/><path class=f d="M2246 6830l30-11 29-11 30-13 30-14 40 9-29 20-30 17-29 15-30 14zM2276 6819L2317 6842M2305 6808L2346 6827M2335 6795L2376 6810"/><path class=f d="M2128 6867l30-9 29-9 30-9 29-10 41 26-30 12-29 12-30 10-29 10zM2158 6858L2198 6890M2187 6849L2228 6880M2217 6840L2257 6868"/><path class=e d="M2010 6907l30-11 29-11 30-9 29-9 41 33-30 10-29 10-30 10-29 11zM2040 6896L2080 6930M2069 6885L2110 6920M2099 6876L2139 6910"/><path class=i d="M1892 6976l29-23 30-18 29-15 30-13 41 34-30 12-29 13-30 17-30 21zM1921 6953L1962 6983M1951 6935L1992 6966M1980 6920L2021 6953"/><path class=i d="M1833 7053l29-45 30-32 40 28-29 29-30 41zM1862 7008L1903 7033"/><path class=g d="M1803 7113l30-60 40 21-29 55z"/><path class=l d="M1774 7191l29-78 41 16-30 74z"/><path class=f d="M3587 6128l30-12 29-11 30-12 29-12 41 28-30 9-29 10-30 9-30 10zM3617 6116L3657 6137M3646 6105L3687 6128M3676 6093L3716 6118"/><path class=e d="M3469 6173l29-11 30-11 30-12 29-11 40 19-29 9-30 10-29 9-30 9zM3498 6162L3539 6175M3528 6151L3568 6166M3558 6139L3598 6156"/><path class=i d="M3351 6215l29-11 30-11 29-10 30-10 40 11-29 8-30 9-29 9-30 10zM3380 6204L3421 6210M3410 6193L3450 6201M3439 6183L3480 6192"/><path class=h d="M3233 6266l29-13 30-12 29-13 30-13 40 5-30 12-29 12-30 12-29 12zM3262 6253L3302 6256M3292 6241L3332 6244M3321 6228L3361 6232"/><path class=n d="M3114 6319l30-13 29-14 30-13 30-13 40 2-30 12-29 12-30 13-29 13zM3144 6306L3184 6305M3173 6292L3214 6292M3203 6279L3243 6280"/><path class=n d="M2996 6381l30-16 29-16 30-15 29-15 41-1-30 14-29 14-30 15-30 16zM3026 6365L3066 6361M3055 6349L3096 6346M3085 6334L3125 6332"/><path class=n d="M2878 6448l30-17 29-17 30-17 29-16 40-4-29 15-30 16-29 17-30 17zM2908 6431L2948 6425M2937 6414L2977 6408M2967 6397L3007 6392"/><path class=n d="M2760 6525l29-20 30-20 29-18 30-19 40-6-29 17-30 18-29 19-30 20zM2789 6505L2830 6496M2819 6485L2859 6477M2848 6467L2889 6459"/><path class=n d="M2642 6611l29-22 30-21 29-22 30-21 40-9-29 21-30 20-30 21-29 22zM2671 6589L2711 6578M2701 6568L2741 6557M2730 6546L2771 6537"/><path class=h d="M2523 6701l30-22 30-23 29-22 30-23 40-11-30 22-29 22-30 22-29 23zM2553 6679L2593 6666M2583 6656L2623 6644M2612 6634L2652 6622"/><path class=e d="M2405 6790l30-21 29-22 30-23 29-23 41-12-30 24-29 23-30 25-29 24zM2435 6769L2475 6761M2464 6747L2505 6736M2494 6724L2534 6713"/><path class=f d="M2287 6856l30-14 29-15 30-17 29-20 41-5-30 24-30 24-29 21-30 19zM2317 6842L2357 6854M2346 6827L2386 6833M2376 6810L2416 6809"/><path class=f d="M2169 6900l29-10 30-10 29-12 30-12 40 17-29 16-30 15-29 13-30 12zM2198 6890L2239 6917M2228 6880L2268 6904M2257 6868L2298 6889"/><path class=f d="M2051 6941l29-11 30-10 29-10 30-10 40 29-29 11-30 11-29 11-30 12zM2080 6930L2121 6962M2110 6920L2150 6951M2139 6910L2180 6940"/><path class=e d="M1932 7004l30-21 30-17 29-13 30-12 40 33-30 11-29 13-30 16-29 19zM1962 6983L2002 7014M1992 6966L2032 6998M2021 6953L2061 6985"/><path class=e d="M1873 7074l30-41 29-29 41 29-30 26-29 37zM1903 7033L1943 7059"/><path class=g d="M1844 7129l29-55 41 22-30 51z"/><path class=U d="M1814 7203l30-74 40 18-29 68z"/><path class=g d="M3627 6147l30-10 30-9 29-10 30-9 40 27-30 8-30 7-29 7-30 8zM3657 6137L3697 6158M3687 6128L3726 6151M3716 6118L3756 6144"/><path class=e d="M3509 6184l30-9 29-9 30-10 29-9 40 19-29 8-30 8-29 7-30 7zM3539 6175L3579 6189M3568 6166L3608 6182M3598 6156L3638 6174"/><path class=i d="M3391 6220l30-10 29-9 30-9 29-8 40 12-29 7-30 6-29 8-30 9zM3421 6210L3461 6217M3450 6201L3490 6209M3480 6192L3520 6203"/><path class=h d="M3273 6268l29-12 30-12 29-12 30-12 40 6-30 11-29 11-30 11-29 11zM3302 6256L3342 6259M3332 6244L3372 6248M3361 6232L3401 6237"/><path class=n d="M3155 6318l29-13 30-13 29-12 30-12 40 2-30 11-29 12-30 12-29 12zM3184 6305L3224 6305M3214 6292L3254 6293M3243 6280L3283 6281"/><path class=q d="M3036 6377l30-16 30-15 29-14 30-14 40-1-30 13-29 14-30 14-30 15zM3066 6361L3106 6358M3096 6346L3136 6344M3125 6332L3165 6330"/><path class=q d="M2918 6442l30-17 29-17 30-16 29-15 40-4-29 15-30 16-29 16-30 16zM2948 6425L2988 6420M2977 6408L3017 6404M3007 6392L3047 6388"/><path class=q d="M2800 6516l30-20 29-19 30-18 29-17 40-6-29 17-30 17-29 18-30 19zM2830 6496L2870 6488M2859 6477L2899 6470M2889 6459L2929 6453"/><path class=q d="M2682 6600l29-22 30-21 30-20 29-21 40-9-29 20-30 20-30 20-29 20zM2711 6578L2751 6567M2741 6557L2781 6547M2771 6537L2811 6527"/><path class=n d="M2564 6689l29-23 30-22 29-22 30-22 40-13-30 21-29 22-30 22-29 22zM2593 6666L2633 6652M2623 6644L2663 6630M2652 6622L2692 6608"/><path class=h d="M2475 6761l30-25 29-23 30-24 40-15-30 23-29 23-30 24zM2505 6736L2545 6720M2534 6713L2574 6697"/><path class=e d="M2357 6854l29-21 30-24 30-24 29-24 40-17-30 25-29 26-30 26-29 27zM2386 6833L2426 6821M2416 6809L2456 6795M2446 6785L2485 6769"/><path class=f d="M2239 6917l29-13 30-15 29-16 30-19 40-6-30 26-29 24-30 21-29 17zM2268 6904L2308 6919M2298 6889L2338 6898M2327 6873L2367 6874"/><path class=g d="M2121 6962l29-11 30-11 29-11 30-12 40 19-30 15-29 14-30 13-30 13zM2150 6951L2190 6978M2180 6940L2220 6965M2209 6929L2249 6951"/><path class=f d="M2002 7014l30-16 29-13 30-11 30-12 39 29-29 12-30 13-29 13-30 15zM2032 6998L2072 7029M2061 6985L2101 7016M2091 6974L2131 7003"/><path class=e d="M1914 7096l29-37 30-26 29-19 40 30-29 17-30 24-29 34zM1943 7059L1983 7085M1973 7033L2013 7061"/><path class=s d="M1884 7147l30-51 40 23-30 46z"/><path class=U d="M1855 7215l29-68 40 18-29 61z"/><path class=g d="M3667 6166l30-8 29-7 30-7 30-8 39 28-29 5-30 5-30 6-29 6zM3697 6158L3736 6180M3726 6151L3766 6174M3756 6144L3796 6169"/><path class=f d="M3579 6189l29-7 30-8 29-8 40 20-30 6-29 6-30 6zM3608 6182L3648 6198M3638 6174L3677 6192"/><path class=i d="M3461 6217l29-8 30-6 29-7 30-7 39 15-29 5-30 4-29 6-30 6zM3490 6209L3530 6219M3520 6203L3559 6213M3549 6196L3589 6209"/><path class=h d="M3342 6259l30-11 29-11 30-11 30-9 39 8-29 8-30 9-30 11-29 10zM3372 6248L3411 6253M3401 6237L3441 6242M3431 6226L3471 6233"/><path class=q d="M3224 6305l30-12 29-12 30-11 29-11 40 4-30 10-29 11-30 11-29 11zM3254 6293L3293 6295M3283 6281L3323 6284M3313 6270L3352 6273"/><path class=q d="M3106 6358l30-14 29-14 30-13 29-12 40 1-30 12-29 12-30 13-29 14zM3136 6344L3175 6343M3165 6330L3205 6330M3195 6317L3234 6318"/><path class=o d="M2988 6420l29-16 30-16 29-15 30-15 40-1-30 14-30 15-29 14-30 16zM3017 6404L3057 6400M3047 6388L3086 6386M3076 6373L3116 6371"/><path class=o d="M2870 6488l29-18 30-17 29-17 30-16 39-4-29 15-30 16-29 17-30 17zM2899 6470L2939 6464M2929 6453L2968 6447M2958 6436L2998 6431"/><path class=o d="M2751 6567l30-20 30-20 29-20 30-19 39-7-29 18-30 19-29 19-30 19zM2781 6547L2821 6537M2811 6527L2850 6518M2840 6507L2880 6499"/><path class=q d="M2633 6652l30-22 29-22 30-21 29-20 40-11-30 20-29 19-30 20-29 21zM2663 6630L2702 6615M2692 6608L2732 6595M2722 6587L2761 6576"/><path class=n d="M2515 6744l30-24 29-23 30-23 29-22 40-16-30 21-29 22-30 22-29 23zM2545 6720L2584 6701M2574 6697L2614 6679M2604 6674L2643 6657"/><path class=h d="M2426 6821l30-26 29-26 30-25 40-20-30 24-29 25-30 26zM2456 6795L2496 6773M2485 6769L2525 6748"/><path class=e d="M2308 6919l30-21 29-24 30-26 29-27 40-22-30 28-29 28-30 30-29 29zM2338 6898L2377 6885M2367 6874L2407 6855M2397 6848L2436 6827"/><path class=g d="M2190 6978l30-13 29-14 30-15 29-17 40-5-30 27-29 24-30 18-29 16zM2220 6965L2259 6983M2249 6951L2289 6965M2279 6936L2318 6941"/><path class=g d="M2072 7029l29-13 30-13 29-12 30-13 40 21-30 15-29 14-30 14-30 14zM2101 7016L2141 7042M2131 7003L2171 7028M2160 6991L2200 7014"/><path class=f d="M1954 7119l29-34 30-24 29-17 30-15 39 27-29 15-30 17-29 23-30 30zM1983 7085L2023 7111M2013 7061L2052 7088M2042 7044L2082 7071"/><path class=s d="M1924 7165l30-46 39 22-29 41z"/><path class=U d="M1895 7226l29-61 40 17-30 56z"/><path class=s d="M3707 6186l29-6 30-6 30-5 29-5 39 27-29 3-30 4-29 4-30 3zM3736 6180L3776 6202M3766 6174L3805 6198M3796 6169L3835 6194"/><path class=f d="M3618 6204l30-6 29-6 30-6 39 19-29 5-30 4-29 4zM3648 6198L3687 6214M3677 6192L3717 6210"/><path class=i d="M3500 6225l30-6 29-6 30-4 29-5 40 14-30 4-30 3-29 3-30 5zM3530 6219L3569 6228M3559 6213L3598 6225M3589 6209L3628 6222"/><path class=n d="M3382 6263l29-10 30-11 30-9 29-8 39 8-29 7-30 9-29 9-30 10zM3411 6253L3451 6258M3441 6242L3480 6249M3471 6233L3510 6240"/><path class=q d="M3264 6306l29-11 30-11 29-11 30-10 39 5-29 10-30 10-29 10-30 11zM3293 6295L3333 6298M3323 6284L3362 6288M3352 6273L3392 6278"/><path class=o d="M3146 6357l29-14 30-13 29-12 30-12 39 3-30 11-29 11-30 13-29 13zM3175 6343L3214 6344M3205 6330L3244 6331M3234 6318L3273 6320"/><path class=o d="M3027 6416l30-16 29-14 30-15 30-14 39 0-30 13-29 14-30 15-29 14zM3057 6400L3096 6399M3086 6386L3126 6384M3116 6371L3155 6370"/><path class=j d="M2909 6481l30-17 29-17 30-16 29-15 40-3-30 15-29 15-30 16-30 17zM2939 6464L2978 6459M2968 6447L3008 6443M2998 6431L3037 6428"/><path class=j d="M2791 6556l30-19 29-19 30-19 29-18 39-5-29 17-30 18-29 18-30 18zM2821 6537L2860 6529M2850 6518L2889 6511M2880 6499L2919 6493"/><path class=o d="M2673 6636l29-21 30-20 29-19 30-20 39-9-29 18-30 19-29 19-30 19zM2702 6615L2742 6603M2732 6595L2771 6584M2761 6576L2801 6565"/><path class=q d="M2555 6724l29-23 30-22 29-22 30-21 39-14-30 19-29 20-30 21-29 21zM2584 6701L2623 6682M2614 6679L2653 6661M2643 6657L2682 6641"/><path class=n d="M2436 6827l30-28 30-26 29-25 30-24 39-21-30 22-29 23-30 25-29 25zM2466 6799L2505 6773M2496 6773L2535 6748M2525 6748L2564 6725"/><path class=h d="M2377 6885l30-30 29-28 40-29-30 27-29 32zM2407 6855L2446 6825"/><path class=e d="M2259 6983l30-18 29-24 30-27 29-29 40-28-30 33-30 32-29 31-30 29zM2289 6965L2328 6953M2318 6941L2357 6922M2348 6914L2387 6890"/><path class=g d="M2141 7042l30-14 29-14 30-15 29-16 39-1-29 27-30 20-29 18-30 16zM2171 7028L2210 7047M2200 7014L2239 7029M2230 6999L2269 7009"/><path class=g d="M2023 7111l29-23 30-17 29-15 30-14 39 21-29 16-30 16-29 17-30 22zM2052 7088L2092 7112M2082 7071L2121 7095M2111 7056L2151 7079"/><path class=s d="M1964 7182l29-41 30-30 39 23-30 28-29 37zM1993 7141L2032 7162"/><path class=U d="M1934 7238l30-56 39 17-30 50z"/><path class=l d="M3776 6202l29-4 30-4 29-3 39 27-29 2-30 1-29 2zM3805 6198L3844 6221M3835 6194L3874 6220"/><path class=g d="M3687 6214l30-4 29-5 30-3 39 21-30 2-30 3-29 3zM3717 6210L3755 6228M3746 6205L3785 6225"/><path class=e d="M3598 6225l30-3 30-4 29-4 39 17-30 2-29 2-30 2zM3628 6222L3667 6235M3658 6218L3696 6233"/><path class=h d="M3480 6249l30-9 29-7 30-5 29-3 39 12-29 2-30 4-29 5-30 8zM3510 6240L3549 6248M3539 6233L3578 6243M3569 6228L3608 6239"/><path class=q d="M3362 6288l30-10 29-10 30-10 29-9 39 7-29 9-30 9-30 9-29 10zM3392 6278L3430 6283M3421 6268L3460 6274M3451 6258L3490 6265"/><path class=o d="M3244 6331l29-11 30-11 30-11 29-10 39 5-30 9-29 10-30 11-29 11zM3273 6320L3312 6323M3303 6309L3342 6312M3333 6298L3371 6302"/><path class=j d="M3126 6384l29-14 30-13 29-13 30-13 39 3-30 12-29 12-30 13-29 14zM3155 6370L3194 6371M3185 6357L3224 6358M3214 6344L3253 6346"/><path class=j d="M3008 6443l29-15 30-15 29-14 30-15 39 1-30 14-30 14-29 14-30 15zM3037 6428L3076 6427M3067 6413L3105 6413M3096 6399L3135 6399"/><path class=j d="M2889 6511l30-18 29-17 30-17 30-16 38-1-29 15-30 16-29 16-30 17zM2919 6493L2958 6489M2948 6476L2987 6473M2978 6459L3017 6457"/><path class=j d="M2771 6584l30-19 29-18 30-18 29-18 39-5-29 17-30 17-29 18-30 17zM2801 6565L2840 6558M2830 6547L2869 6540M2860 6529L2899 6523"/><path class=j d="M2653 6661l29-20 30-19 30-19 29-19 39-9-30 18-29 17-30 18-29 19zM2682 6641L2721 6628M2712 6622L2751 6610M2742 6603L2780 6593"/><path class=o d="M2535 6748l29-23 30-22 29-21 30-21 39-14-30 18-29 19-30 20-29 21zM2564 6725L2603 6704M2594 6703L2633 6684M2623 6682L2662 6665"/><path class=q d="M2417 6857l29-32 30-27 29-25 30-25 39-23-30 21-29 23-30 23-30 32zM2446 6825L2485 6792M2476 6798L2515 6769M2505 6773L2544 6746"/><path class=h d="M2328 6953l29-31 30-32 30-33 38-33-29 32-30 33-29 33zM2357 6922L2396 6889M2387 6890L2426 6856"/><path class=e d="M2239 7029l30-20 29-27 30-29 39-31-30 33-29 34-30 32zM2269 7009L2308 6989M2298 6982L2337 6955"/><path class=g d="M2121 7095l30-16 29-16 30-16 29-18 39-8-29 31-30 24-29 19-30 18zM2151 7079L2190 7095M2180 7063L2219 7076M2210 7047L2249 7052"/><path class=g d="M2032 7162l30-28 30-22 29-17 39 18-30 19-29 22-30 26zM2062 7134L2101 7154M2092 7112L2130 7132"/><path class=l d="M1973 7249l30-50 29-37 39 18-29 34-30 45zM2003 7199L2042 7214"/><path class=U d="M3844 6221l30-1 29-2 39 27-30 0-29 0zM3874 6220L3912 6245"/><path class=s d="M3755 6228l30-3 30-2 29-2 39 24-30 0-29 0-30 2zM3785 6225L3824 6245M3815 6223L3853 6245"/><path class=f d="M3667 6235l29-2 30-2 29-3 39 19-30 1-29 1-30 0zM3696 6233L3735 6249M3726 6231L3764 6248"/><path class=i d="M3578 6243l30-4 29-2 30-2 38 14-29 0-30 1-29 2zM3608 6239L3646 6250M3637 6237L3676 6249"/><path class=n d="M3460 6274l30-9 29-9 30-8 29-5 39 9-30 5-29 7-30 9-29 8zM3490 6265L3528 6273M3519 6256L3558 6264M3549 6248L3587 6257"/><path class=q d="M3342 6312l29-10 30-9 29-10 30-9 39 7-30 9-30 9-29 9-30 9zM3371 6302L3410 6308M3401 6293L3439 6299M3430 6283L3469 6290"/><path class=j d="M3224 6358l29-12 30-12 29-11 30-11 38 5-29 10-30 11-29 11-30 13zM3253 6346L3292 6349M3283 6334L3321 6338M3312 6323L3351 6327"/><path class=j d="M3105 6413l30-14 30-14 29-14 30-13 38 4-29 12-30 13-29 14-30 13zM3135 6399L3174 6401M3165 6385L3203 6387M3194 6371L3233 6374"/><path class=k d="M2987 6473l30-16 29-15 30-15 29-14 39 1-30 14-29 15-30 14-29 16zM3017 6457L3055 6457M3046 6442L3085 6443M3076 6427L3114 6428"/><path class=k d="M2869 6540l30-17 29-17 30-17 29-16 39 0-30 16-29 16-30 16-29 17zM2899 6523L2937 6521M2928 6506L2967 6505M2958 6489L2996 6489"/><path class=k d="M2751 6610l29-17 30-18 30-17 29-18 39-2-30 16-29 16-30 17-30 17zM2780 6593L2819 6587M2810 6575L2849 6570M2840 6558L2878 6554"/><path class=k d="M2633 6684l29-19 30-18 29-19 30-18 38-6-29 16-30 17-29 17-30 17zM2662 6665L2701 6654M2692 6647L2730 6637M2721 6628L2760 6620"/><path class=j d="M2515 6769l29-23 30-21 29-21 30-20 38-13-29 18-30 19-29 18-30 20zM2544 6746L2583 6726M2574 6725L2612 6708M2603 6704L2642 6689"/><path class=j d="M2455 6824l30-32 30-23 38-23-30 20-29 30zM2485 6792L2523 6766"/><path class=q d="M2367 6922l29-33 30-33 29-32 39-28-30 30-29 31-30 32zM2396 6889L2435 6857M2426 6856L2464 6826"/><path class=h d="M2308 6989l29-34 30-33 38-33-29 32-30 32zM2337 6955L2376 6921"/><path class=e d="M2219 7076l30-24 29-31 30-32 38-36-29 34-30 34-29 35zM2249 7052L2287 7021M2278 7021L2317 6987"/><path class=g d="M2101 7154l29-22 30-19 30-18 29-19 39-20-30 36-30 32-29 22-30 22zM2130 7132L2169 7146M2160 7113L2198 7124M2190 7095L2228 7092"/><path class=s d="M2042 7214l29-34 30-26 38 14-29 27-30 32zM2071 7180L2110 7195"/><path class=U d="M2012 7259l30-45 38 13-29 41z"/><path class=U d="M3853 6245l30 0 29 0 30 0 38 27-30-2-29-2-30-2zM3883 6245L3921 6268M3912 6245L3950 6270"/><path class=s d="M3794 6247l30-2 29 0 38 21-29 0-30-1zM3824 6245L3862 6266"/><path class=f d="M3705 6249l30 0 29-1 30-1 38 18-29 0-30 0-29-2zM3735 6249L3773 6265M3764 6248L3803 6265"/><path class=i d="M3617 6252l29-2 30-1 29 0 39 14-30-1-30 0-29 1zM3646 6250L3684 6262M3676 6249L3714 6262"/><path class=n d="M3499 6281l29-8 30-9 29-7 30-5 38 11-30 4-29 7-30 7-29 8zM3528 6273L3566 6281M3558 6264L3596 6274M3587 6257L3625 6267"/><path class=o d="M3380 6317l30-9 29-9 30-9 30-9 38 8-30 8-29 9-30 8-29 9zM3410 6308L3448 6314M3439 6299L3478 6306M3469 6290L3507 6297"/><path class=j d="M3262 6362l30-13 29-11 30-11 29-10 39 6-30 10-30 11-29 11-30 12zM3292 6349L3330 6355M3321 6338L3359 6344M3351 6327L3389 6333"/><path class=k d="M3144 6414l30-13 29-14 30-13 29-12 38 5-29 12-30 13-29 13-30 13zM3174 6401L3212 6405M3203 6387L3241 6392M3233 6374L3271 6379"/><path class=k d="M3026 6473l29-16 30-14 29-15 30-14 38 4-29 14-30 14-30 15-29 15zM3055 6457L3093 6461M3085 6443L3123 6446M3114 6428L3153 6432"/><path class=c d="M2908 6538l29-17 30-16 29-16 30-16 38 3-30 15-29 16-30 16-29 16zM2937 6521L2975 6523M2967 6505L3005 6507M2996 6489L3034 6491"/><path class=c d="M2789 6604l30-17 30-17 29-16 30-16 38 1-30 16-29 16-30 16-29 16zM2819 6587L2857 6587M2849 6570L2887 6571M2878 6554L2916 6555"/><path class=k d="M2671 6671l30-17 29-17 30-17 29-16 39-1-30 16-30 16-29 16-30 16zM2701 6654L2739 6651M2730 6637L2768 6635M2760 6620L2798 6619"/><path class=k d="M2553 6746l30-20 29-18 30-19 29-18 38-4-29 17-30 17-29 17-30 17zM2583 6726L2621 6718M2612 6708L2650 6701M2642 6689L2680 6684"/><path class=k d="M2464 6826l30-30 29-30 30-20 38-11-29 17-30 29-29 29zM2494 6796L2532 6781M2523 6766L2562 6752"/><path class=o d="M2376 6921l29-32 30-32 29-31 39-16-30 29-30 30-29 29zM2405 6889L2443 6869M2435 6857L2473 6839"/><path class=n d="M2287 7021l30-34 29-34 30-32 38-23-30 30-29 30-30 31zM2317 6987L2355 6958M2346 6953L2384 6928"/><path class=i d="M2228 7092l30-36 29-35 38-32-29 31-30 33zM2258 7056L2296 7020"/><path class=f d="M2169 7146l29-22 30-32 38-39-29 34-30 44zM2198 7124L2237 7087"/><path class=s d="M2080 7227l30-32 29-27 30-22 38-15-29 45-30 30-30 31zM2110 7195L2148 7206M2139 7168L2178 7176"/><path class=U d="M2051 7268l29-41 38 10-29 38z"/><path class=V d="M3921 6268l29 2 30 2 38 27-30-4-29-4zM3950 6270L3988 6295"/><path class=l d="M3832 6265l30 1 29 0 30 2 38 23-30-3-29-2-30-2zM3862 6266L3900 6286M3891 6266L3929 6288"/><path class=g d="M3773 6265l30 0 29 0 38 19-30-1-29-2zM3803 6265L3840 6283"/><path class=e d="M3714 6262l30 1 29 2 38 16-30-3-29-2zM3744 6263L3781 6278"/><path class=h d="M3625 6267l30-4 29-1 30 0 38 14-30-2-29 0-30 3zM3655 6263L3693 6274M3684 6262L3722 6274"/><path class=q d="M3507 6297l30-8 29-8 30-7 29-7 38 10-29 7-30 7-29 7-30 8zM3537 6289L3575 6298M3566 6281L3604 6291M3596 6274L3634 6284"/><path class=o d="M3389 6333l30-10 29-9 30-8 29-9 38 9-30 8-29 9-30 8-29 10zM3419 6323L3456 6331M3448 6314L3486 6323M3478 6306L3515 6314"/><path class=j d="M3271 6379l29-12 30-12 29-11 30-11 38 8-30 10-29 11-30 12-29 12zM3300 6367L3338 6374M3330 6355L3368 6362M3359 6344L3397 6351"/><path class=k d="M3153 6432l29-14 30-13 29-13 30-13 38 7-30 13-30 13-29 13-30 14zM3182 6418L3220 6425M3212 6405L3249 6412M3241 6392L3279 6399"/><path class=c d="M3034 6491l30-15 29-15 30-15 30-14 37 7-29 14-30 15-29 14-30 16zM3064 6476L3102 6482M3093 6461L3131 6468M3123 6446L3161 6453"/><path class=c d="M2916 6555l30-16 29-16 30-16 29-16 38 7-29 16-30 16-29 16-30 15zM2946 6539L2984 6546M2975 6523L3013 6530M3005 6507L3043 6514"/><path class=c d="M2798 6619l30-16 29-16 30-16 29-16 38 6-30 16-29 16-30 16-29 16zM2828 6603L2865 6609M2857 6587L2895 6593M2887 6571L2924 6577"/><path class=c d="M2680 6684l29-17 30-16 29-16 30-16 38 6-30 16-29 16-30 16-29 16zM2709 6667L2747 6673M2739 6651L2777 6657M2768 6635L2806 6641"/><path class=c d="M2562 6752l29-17 30-17 29-17 30-17 38 5-30 17-29 17-30 17-30 17zM2591 6735L2629 6740M2621 6718L2659 6723M2650 6701L2688 6706"/><path class=k d="M2473 6839l30-29 29-29 30-29 37 5-29 28-30 29-29 29zM2503 6810L2540 6814M2532 6781L2570 6785"/><path class=o d="M2355 6958l29-30 30-30 29-29 30-30 38 4-30 29-29 29-30 29-29 29zM2384 6928L2422 6930M2414 6898L2452 6901M2443 6869L2481 6872"/><path class=n d="M2296 7020l29-31 30-31 38 1-30 30-29 30zM2325 6989L2363 6989"/><path class=i d="M2207 7131l30-44 29-34 30-33 38-1-30 31-30 31-29 33zM2237 7087L2274 7081M2266 7053L2304 7050"/><path class=f d="M2178 7176l29-45 38-17-30 37z"/><path class=s d="M2118 7237l30-31 30-30 37-25-29 48-30 44zM2148 7206L2186 7199"/><path class=U d="M2089 7275l29-38 38 6-29 39z"/><path class=ad d="M3959 6291l29 4 30 4 37 27-29-5-30-5zM3988 6295L4026 6321"/><path class=U d="M3900 6286l29 2 30 3 37 25-29-5-30-4zM3929 6288L3967 6311"/><path class=s d="M3840 6283l30 1 30 2 37 21-30-3-29-3zM3870 6284L3907 6304"/><path class=f d="M3781 6278l30 3 29 2 38 18-30-3-29-4zM3811 6281L3848 6298"/><path class=i d="M3693 6274l29 0 30 2 29 2 38 16-30-4-29-2-30-1zM3722 6274L3760 6288M3752 6276L3789 6290"/><path class=n d="M3575 6298l29-7 30-7 29-7 30-3 37 13-29 2-30 6-29 7-30 7zM3604 6291L3642 6302M3634 6284L3671 6295M3663 6277L3701 6289"/><path class=o d="M3456 6331l30-8 29-9 30-8 30-8 37 11-30 8-29 7-30 8-29 9zM3486 6323L3523 6332M3515 6314L3553 6324M3545 6306L3582 6317"/><path class=j d="M3338 6374l30-12 29-11 30-10 29-10 38 10-30 9-29 11-30 10-29 12zM3368 6362L3405 6371M3397 6351L3435 6361M3427 6341L3464 6350"/><path class=k d="M3220 6425l29-13 30-13 30-13 29-12 38 9-30 12-29 13-30 13-30 14zM3249 6412L3287 6421M3279 6399L3317 6408M3309 6386L3346 6395"/><path class=c d="M3102 6482l29-14 30-15 29-14 30-14 37 10-29 13-30 14-29 15-30 15zM3131 6468L3169 6477M3161 6453L3198 6462M3190 6439L3228 6448"/><path class=c d="M2984 6546l29-16 30-16 29-16 30-16 37 10-29 15-30 16-29 16-30 16zM3013 6530L3051 6539M3043 6514L3080 6523M3072 6498L3110 6507"/><path class=c d="M2865 6609l30-16 29-16 30-16 30-15 37 9-30 16-29 15-30 16-29 16zM2895 6593L2932 6602M2924 6577L2962 6586M2954 6561L2991 6571"/><path class=c d="M2747 6673l30-16 29-16 30-16 29-16 38 9-30 16-29 16-30 16-29 16zM2777 6657L2814 6666M2806 6641L2844 6650M2836 6625L2873 6634"/><path class=c d="M2629 6740l30-17 29-17 30-17 29-16 38 9-30 16-29 17-30 16-30 17zM2659 6723L2696 6731M2688 6706L2726 6715M2718 6689L2755 6698"/><path class=c d="M2540 6814l30-29 29-28 30-17 37 8-29 17-30 29-29 28zM2570 6785L2607 6794M2599 6757L2637 6765"/><path class=j d="M2452 6901l29-29 30-29 29-29 38 8-30 29-29 29-30 28zM2481 6872L2519 6880M2511 6843L2548 6851"/><path class=q d="M2363 6989l30-30 29-29 30-29 37 7-29 29-30 30-29 29zM2393 6959L2430 6967M2422 6930L2460 6937"/><path class=h d="M2274 7081l30-31 30-31 29-30 38 7-30 30-30 31-29 31zM2304 7050L2341 7057M2334 7019L2371 7026"/><path class=e d="M2215 7151l30-37 29-33 38 7-30 33-29 35zM2245 7114L2282 7121"/><path class=g d="M2156 7243l30-44 29-48 38 5-30 39-29 43zM2186 7199L2223 7195"/><path class=l d="M2127 7282l29-39 38-5-30 49z"/><path class=K d="M4026 6321l37 26 22 5-5-7-25-19z"/><path class=V d="M3967 6311l29 5 30 5 37 26-30-7-29-6zM3996 6316L4033 6340"/><path class=l d="M3907 6304l30 3 30 4 37 23-30-6-29-4zM3937 6307L3974 6328"/><path class=g d="M3819 6294l29 4 30 3 29 3 38 20-30-4-30-4-29-5zM3848 6298L3885 6316M3878 6301L3915 6320"/><path class=e d="M3760 6288l29 2 30 4 37 17-30-5-29-4zM3789 6290L3826 6306"/><path class=h d="M3671 6295l30-6 29-2 30 1 37 14-30-1-29 2-30 5zM3701 6289L3738 6303M3730 6287L3767 6301"/><path class=q d="M3553 6324l29-7 30-8 30-7 29-7 37 13-29 6-30 7-29 7-30 8zM3582 6317L3620 6328M3612 6309L3649 6321M3642 6302L3679 6314"/><path class=j d="M3435 6361l29-11 30-9 29-9 30-8 37 12-30 8-29 8-30 9-29 10zM3464 6350L3501 6361M3494 6341L3531 6352M3523 6332L3560 6344"/><path class=k d="M3317 6408l29-13 30-12 29-12 30-10 37 10-30 11-29 12-30 12-29 13zM3346 6395L3383 6406M3376 6383L3413 6394M3405 6371L3442 6382"/><path class=c d="M3198 6462l30-14 29-13 30-14 30-13 37 11-30 13-29 13-30 14-30 14zM3228 6448L3265 6459M3257 6435L3295 6445M3287 6421L3324 6432"/><path class=c d="M3080 6523l30-16 29-15 30-15 29-15 37 11-29 15-30 15-29 15-30 16zM3110 6507L3147 6518M3139 6492L3176 6503M3169 6477L3206 6488"/><path class=c d="M2962 6586l29-15 30-16 30-16 29-16 37 11-29 16-30 15-29 16-30 16zM2991 6571L3029 6581M3021 6555L3058 6565M3051 6539L3088 6550"/><path class=c d="M2844 6650l29-16 30-16 29-16 30-16 37 11-29 16-30 16-30 16-29 15zM2873 6634L2910 6645M2903 6618L2940 6629M2932 6602L2970 6613"/><path class=c d="M2726 6715l29-17 30-16 29-16 30-16 37 10-30 16-29 16-30 17-29 16zM2755 6698L2792 6709M2785 6682L2822 6692M2814 6666L2851 6676"/><path class=c d="M2607 6794l30-29 29-17 30-17 30-16 37 10-30 17-29 17-30 17-29 28zM2637 6765L2674 6776M2666 6748L2704 6759M2696 6731L2733 6742"/><path class=k d="M2519 6880l29-29 30-29 29-28 38 10-30 28-30 28-29 29zM2548 6851L2585 6860M2578 6822L2615 6832"/><path class=o d="M2430 6967l30-30 29-29 30-28 37 9-30 28-29 29-30 29zM2460 6937L2497 6946M2489 6908L2526 6917"/><path class=n d="M2341 7057l30-31 30-30 29-29 37 8-29 29-30 29-29 30zM2371 7026L2408 7033M2401 6996L2438 7004"/><path class=i d="M2253 7156l29-35 30-33 29-31 38 6-30 31-30 32-29 35zM2282 7121L2319 7126M2312 7088L2349 7094"/><path class=f d="M2194 7238l29-43 30-39 37 5-30 39-29 42zM2223 7195L2260 7200"/><path class=l d="M2164 7287l30-49 37 4-30 48z"/><path class=K d="M4063 6347l37 26 2 1-17-22z"/><path class=ad d="M4004 6334l29 6 30 7 37 26-30-8-30-8zM4033 6340L4070 6365"/><path class=U d="M3945 6324l29 4 30 6 36 23-29-7-30-5zM3974 6328L4011 6350"/><path class=s d="M3885 6316l30 4 30 4 36 21-29-5-30-6zM3915 6320L3952 6340"/><path class=f d="M3826 6306l30 5 29 5 37 18-29-6-30-6zM3856 6311L3893 6328"/><path class=i d="M3767 6301l30 1 29 4 37 16-29-5-30-2zM3797 6302L3834 6317"/><path class=n d="M3649 6321l30-7 29-6 30-5 29-2 37 14-29 1-30 5-30 6-29 7zM3679 6314L3715 6327M3708 6308L3745 6321M3738 6303L3775 6316"/><path class=o d="M3531 6352l29-8 30-8 30-8 29-7 37 13-30 6-29 8-30 8-29 8zM3560 6344L3597 6356M3590 6336L3627 6348M3620 6328L3656 6340"/><path class=j d="M3413 6394l29-12 30-11 29-10 30-9 37 12-30 9-29 10-30 11-29 12zM3442 6382L3479 6394M3472 6371L3509 6383M3501 6361L3538 6373"/><path class=k d="M3295 6445l29-13 30-13 29-13 30-12 37 12-30 12-30 12-29 14-30 13zM3324 6432L3361 6444M3354 6419L3390 6430M3383 6406L3420 6418"/><path class=c d="M3176 6503l30-15 29-15 30-14 30-14 36 12-29 14-30 14-29 15-30 14zM3206 6488L3243 6500M3235 6473L3272 6485M3265 6459L3302 6471"/><path class=c d="M3058 6565l30-15 29-16 30-16 29-15 37 11-29 16-30 16-30 16-29 15zM3088 6550L3124 6562M3117 6534L3154 6546M3147 6518L3184 6530"/><path class=c d="M2940 6629l30-16 29-16 30-16 29-16 37 12-30 16-29 16-30 16-29 15zM2970 6613L3006 6625M2999 6597L3036 6609M3029 6581L3065 6593"/><path class=c d="M2822 6692l29-16 30-16 29-15 30-16 37 11-30 16-29 16-30 16-29 16zM2851 6676L2888 6688M2881 6660L2918 6672M2910 6645L2947 6656"/><path class=c d="M2704 6759l29-17 30-17 29-16 30-17 37 12-30 16-30 17-29 16-30 17zM2733 6742L2770 6753M2763 6725L2799 6737M2792 6709L2829 6720"/><path class=c d="M2615 6832l30-28 29-28 30-17 36 11-29 17-30 28-29 28zM2645 6804L2681 6815M2674 6776L2711 6787"/><path class=j d="M2497 6946l29-29 30-28 29-29 30-28 37 11-30 27-29 28-30 28-29 28zM2526 6917L2563 6926M2556 6889L2593 6898M2585 6860L2622 6870"/><path class=q d="M2408 7033l30-29 29-29 30-29 37 8-30 29-30 28-29 29zM2438 7004L2474 7011M2467 6975L2504 6983"/><path class=h d="M2319 7126l30-32 30-31 29-30 37 7-30 30-29 30-30 31zM2349 7094L2386 7100M2379 7063L2415 7070"/><path class=e d="M2260 7200l30-39 29-35 37 5-29 34-30 38zM2290 7161L2327 7165"/><path class=g d="M2231 7242l29-42 37 3-29 42z"/><path class=l d="M2201 7290l30-48 37 3-30 46z"/><path class=K d="M4100 6373l4 4-2-3z"/><path class=K d="M4070 6365l36 25 15 4-17-17-4-4z"/><path class=ad d="M4040 6357l30 8 36 25-29-10z"/><path class=U d="M3981 6345l30 5 29 7 37 23-30-8-29-7zM4011 6350L4047 6372"/><path class=s d="M3922 6334l30 6 29 5 37 20-30-6-29-7zM3952 6340L3988 6359"/><path class=f d="M3863 6322l30 6 29 6 37 18-30-7-29-7zM3893 6328L3929 6345"/><path class=i d="M3804 6315l30 2 29 5 37 16-30-5-29-3zM3834 6317L3870 6333"/><path class=n d="M3686 6334l29-7 30-6 30-5 29-1 37 15-30 0-30 4-29 6-30 6zM3715 6327L3752 6340M3745 6321L3781 6334M3775 6316L3811 6330"/><path class=o d="M3568 6364l29-8 30-8 29-8 30-6 36 12-29 7-30 7-29 8-30 9zM3597 6356L3634 6368M3627 6348L3663 6360M3656 6340L3693 6353"/><path class=j d="M3450 6406l29-12 30-11 29-10 30-9 36 13-29 9-30 9-29 11-30 12zM3479 6394L3516 6406M3509 6383L3545 6395M3538 6373L3575 6386"/><path class=k d="M3331 6457l30-13 29-14 30-12 30-12 36 12-30 12-29 13-30 13-29 14zM3361 6444L3397 6456M3390 6430L3427 6443M3420 6418L3456 6430"/><path class=c d="M3213 6514l30-14 29-15 30-14 29-14 37 13-30 13-29 15-30 14-29 15zM3243 6500L3279 6512M3272 6485L3309 6498M3302 6471L3338 6483"/><path class=c d="M3095 6577l29-15 30-16 30-16 29-16 37 13-30 15-30 16-29 16-30 16zM3124 6562L3161 6574M3154 6546L3190 6558M3184 6530L3220 6542"/><path class=c d="M2977 6640l29-15 30-16 29-16 30-16 36 13-29 15-30 16-29 16-30 16zM3006 6625L3043 6637M3036 6609L3072 6621M3065 6593L3102 6605"/><path class=c d="M2859 6704l29-16 30-16 29-16 30-16 36 13-29 15-30 16-29 16-30 16zM2888 6688L2925 6700M2918 6672L2954 6684M2947 6656L2984 6668"/><path class=c d="M2740 6770l30-17 29-16 30-17 30-16 36 12-30 16-29 17-30 16-29 17zM2770 6753L2806 6765M2799 6737L2836 6749M2829 6720L2865 6732"/><path class=c d="M2652 6843l29-28 30-28 29-17 37 12-30 17-29 27-30 27zM2681 6815L2718 6826M2711 6787L2747 6799"/><path class=j d="M2534 6954l29-28 30-28 29-28 30-27 36 10-29 27-30 27-29 28-30 27zM2563 6926L2600 6935M2593 6898L2629 6907M2622 6870L2659 6880"/><path class=q d="M2445 7040l29-29 30-28 30-29 36 8-30 28-29 28-30 28zM2474 7011L2511 7018M2504 6983L2540 6990"/><path class=h d="M2356 7131l30-31 29-30 30-30 36 6-29 29-30 30-29 30zM2386 7100L2422 7105M2415 7070L2452 7075"/><path class=e d="M2297 7203l30-38 29-34 37 4-30 34-29 36zM2327 7165L2363 7169"/><path class=g d="M2238 7291l30-46 29-42 37 2-30 40-29 45zM2268 7245L2304 7245"/><path class=K d="M4106 6390l34 22-19-18z"/><path class=ad d="M4077 6380l36 22 29 11-2-1-34-22z"/><path class=V d="M4018 6365l29 7 30 8 36 22-30-9-29-8zM4047 6372L4083 6393"/><path class=l d="M3959 6352l29 7 30 6 36 20-30-8-29-8zM3988 6359L4024 6377"/><path class=g d="M3929 6345l30 7 36 17-30-8z"/><path class=e d="M3870 6333l30 5 29 7 36 16-29-8-30-6zM3900 6338L3936 6353"/><path class=h d="M3781 6334l30-4 30 0 29 3 36 14-29-3-30 0-29 4zM3811 6330L3847 6344M3841 6330L3877 6344"/><path class=q d="M3663 6360l30-7 29-7 30-6 29-6 37 14-30 5-30 6-29 6-30 7zM3693 6353L3729 6365M3722 6346L3758 6359M3752 6340L3788 6353"/><path class=o d="M3545 6395l30-9 29-9 30-9 29-8 36 12-29 8-30 9-29 9-30 10zM3575 6386L3611 6398M3604 6377L3640 6389M3634 6368L3670 6380"/><path class=k d="M3427 6443l29-13 30-12 30-12 29-11 36 13-29 10-30 12-29 12-30 13zM3456 6430L3493 6442M3486 6418L3522 6430M3516 6406L3552 6418"/><path class=k d="M3309 6498l29-15 30-13 29-14 30-13 36 12-30 13-29 14-30 14-29 14zM3338 6483L3374 6496M3368 6470L3404 6482M3397 6456L3433 6468"/><path class=c d="M3190 6558l30-16 30-15 29-15 30-14 36 12-30 15-29 14-30 16-29 16zM3220 6542L3256 6555M3250 6527L3286 6539M3279 6512L3315 6525"/><path class=c d="M3072 6621l30-16 29-15 30-16 29-16 37 13-30 15-29 16-30 16-30 15zM3102 6605L3138 6618M3131 6590L3168 6602M3161 6574L3197 6586"/><path class=c d="M2954 6684l30-16 29-15 30-16 29-16 36 12-29 16-30 16-29 16-30 15zM2984 6668L3020 6681M3013 6653L3049 6665M3043 6637L3079 6649"/><path class=c d="M2836 6749l29-17 30-16 30-16 29-16 36 12-29 16-30 16-29 16-30 17zM2865 6732L2902 6744M2895 6716L2931 6728M2925 6700L2961 6712"/><path class=c d="M2718 6826l29-27 30-17 29-17 30-16 36 12-30 16-29 17-30 17-29 26zM2747 6799L2783 6811M2777 6782L2813 6794M2806 6765L2842 6777"/><path class=k d="M2629 6907l30-27 29-27 30-27 36 11-30 26-29 27-30 26zM2659 6880L2695 6890M2688 6853L2724 6863"/><path class=o d="M2511 7018l29-28 30-28 30-27 29-28 36 9-29 27-30 27-29 27-30 27zM2540 6990L2577 6997M2570 6962L2606 6970M2600 6935L2636 6943"/><path class=n d="M2422 7105l30-30 29-29 30-28 36 6-30 28-29 27-30 29zM2452 7075L2488 7079M2481 7046L2517 7052"/><path class=i d="M2334 7205l29-36 30-34 29-30 36 3-29 30-30 32-29 35zM2363 7169L2399 7170M2393 7135L2429 7138"/><path class=f d="M2275 7290l29-45 30-40 36 0-30 39-29 43zM2304 7245L2340 7244"/><path class=K d="M4113 6402l36 22 16 7-23-18z"/><path class=V d="M4054 6385l29 8 30 9 36 22-30-11-29-10zM4083 6393L4119 6413"/><path class=l d="M3995 6369l29 8 30 8 36 18-30-8-29-9zM4024 6377L4060 6395"/><path class=g d="M3936 6353l29 8 30 8 36 17-30-10-29-8zM3965 6361L4001 6376"/><path class=e d="M3877 6344l29 3 30 6 36 15-30-7-30-4zM3906 6347L3942 6361"/><path class=h d="M3818 6348l29-4 30 0 35 13-29-1-30 4zM3847 6344L3883 6356"/><path class=q d="M3699 6372l30-7 29-6 30-6 30-5 35 12-29 5-30 6-29 6-30 7zM3729 6365L3765 6377M3758 6359L3794 6371M3788 6353L3824 6365"/><path class=o d="M3581 6408l30-10 29-9 30-9 29-8 36 12-29 8-30 8-30 9-29 10zM3611 6398L3646 6409M3640 6389L3676 6400M3670 6380L3706 6392"/><path class=k d="M3463 6455l30-13 29-12 30-12 29-10 36 11-30 11-29 12-30 12-29 13zM3493 6442L3528 6454M3522 6430L3558 6442M3552 6418L3587 6430"/><path class=k d="M3345 6510l29-14 30-14 29-14 30-13 36 12-30 13-29 14-30 14-29 14zM3374 6496L3410 6508M3404 6482L3440 6494M3433 6468L3469 6480"/><path class=c d="M3227 6571l29-16 30-16 29-14 30-15 36 12-30 14-30 15-29 16-30 16zM3256 6555L3292 6567M3286 6539L3321 6551M3315 6525L3351 6536"/><path class=c d="M3108 6633l30-15 30-16 29-16 30-15 35 12-29 15-30 16-29 16-30 15zM3138 6618L3174 6630M3168 6602L3203 6614M3197 6586L3233 6598"/><path class=c d="M2990 6696l30-15 29-16 30-16 29-16 36 12-29 16-30 16-29 15-30 16zM3020 6681L3056 6692M3049 6665L3085 6677M3079 6649L3115 6661"/><path class=c d="M2872 6761l30-17 29-16 30-16 29-16 36 12-30 16-29 16-30 16-29 16zM2902 6744L2937 6756M2931 6728L2967 6740M2961 6712L2996 6724"/><path class=c d="M2754 6837l29-26 30-17 29-17 30-16 36 11-30 16-29 17-30 17-29 25zM2783 6811L2819 6822M2813 6794L2849 6805M2842 6777L2878 6788"/><path class=k d="M2636 6943l29-27 30-26 29-27 30-26 36 10-30 26-29 25-30 26-30 26zM2665 6916L2701 6924M2695 6890L2731 6898M2724 6863L2760 6873"/><path class=o d="M2517 7052l30-28 30-27 29-27 30-27 35 7-29 26-30 26-29 27-30 26zM2547 7024L2583 7029M2577 6997L2612 7002M2606 6970L2642 6976"/><path class=n d="M2429 7138l29-30 30-29 29-27 36 3-29 27-30 28-29 29zM2458 7108L2494 7110M2488 7079L2524 7082"/><path class=i d="M2370 7205l29-35 30-32 36 1-30 31-29 34zM2399 7170L2435 7170"/><path class=f d="M2311 7287l29-43 30-39 36-1-30 37-30 41zM2340 7244L2376 7241"/><path class=K d="M4149 6424l35 20 6 3-25-16z"/><path class=ad d="M4090 6403l29 10 30 11 35 20-29-13-30-10zM4119 6413L4155 6431"/><path class=l d="M4031 6386l29 9 30 8 35 18-29-10-30-10zM4060 6395L4096 6411"/><path class=g d="M3972 6368l29 8 30 10 35 15-29-10-30-10zM4001 6376L4037 6391"/><path class=e d="M3912 6357l30 4 30 7 35 13-30-7-29-5zM3942 6361L3977 6374"/><path class=h d="M3853 6360l30-4 29 1 36 12-30-1-29 3zM3883 6356L3918 6368"/><path class=q d="M3735 6384l30-7 29-6 30-6 29-5 36 11-30 5-29 5-30 6-29 7zM3765 6377L3800 6387M3794 6371L3830 6381M3824 6365L3859 6376"/><path class=o d="M3617 6419l29-10 30-9 30-8 29-8 36 10-30 8-29 9-30 9-30 10zM3646 6409L3682 6420M3676 6400L3712 6411M3706 6392L3741 6402"/><path class=k d="M3499 6467l29-13 30-12 29-12 30-11 35 11-29 10-30 12-29 12-30 13zM3528 6454L3564 6464M3558 6442L3593 6452M3587 6430L3623 6440"/><path class=k d="M3381 6522l29-14 30-14 29-14 30-13 35 10-29 14-30 14-29 14-30 14zM3410 6508L3446 6519M3440 6494L3475 6505M3469 6480L3505 6491"/><path class=c d="M3262 6583l30-16 29-16 30-15 30-14 35 11-30 14-29 15-30 16-29 15zM3292 6567L3327 6578M3321 6551L3357 6562M3351 6536L3386 6547"/><path class=c d="M3144 6645l30-15 29-16 30-16 29-15 36 10-30 16-29 16-30 15-29 16zM3174 6630L3209 6640M3203 6614L3239 6625M3233 6598L3268 6609"/><path class=c d="M3026 6708l30-16 29-15 30-16 29-16 36 11-30 16-29 15-30 16-30 15zM3056 6692L3091 6703M3085 6677L3121 6687M3115 6661L3150 6672"/><path class=c d="M2908 6772l29-16 30-16 29-16 30-16 35 10-29 16-30 16-29 16-30 16zM2937 6756L2973 6766M2967 6740L3002 6750M2996 6724L3032 6734"/><path class=c d="M2790 6847l29-25 30-17 29-17 30-16 35 10-29 16-30 17-29 16-30 25zM2819 6822L2855 6831M2849 6805L2884 6815M2878 6788L2914 6798"/><path class=k d="M2671 6950l30-26 30-26 29-25 30-26 35 9-29 25-30 25-30 25-29 25zM2701 6924L2736 6931M2731 6898L2766 6906M2760 6873L2796 6881"/><path class=o d="M2553 7055l30-26 29-27 30-26 29-26 36 6-30 25-29 25-30 26-29 25zM2583 7029L2618 7032M2612 7002L2648 7006M2642 6976L2677 6981"/><path class=n d="M2435 7170l30-31 29-29 30-28 29-27 36 2-30 26-29 27-30 28-29 30zM2465 7139L2500 7138M2494 7110L2530 7110M2524 7082L2559 7083"/><path class=i d="M2376 7241l30-37 29-34 36-2-30 32-30 36zM2406 7204L2441 7200"/><path class=f d="M2346 7282l30-41 35-5-29 39z"/><path class=K d="M4184 6444l23 13-17-10z"/><path class=ad d="M4155 6431l35 18 27 13-10-5-23-13z"/><path class=V d="M4096 6411l29 10 30 10 35 18-30-12-29-11zM4125 6421L4160 6437"/><path class=s d="M4037 6391l29 10 30 10 35 15-30-11-29-11zM4066 6401L4101 6415"/><path class=f d="M3977 6374l30 7 30 10 35 13-30-11-29-8zM4007 6381L4042 6393"/><path class=i d="M3918 6368l30 1 29 5 36 11-30-5-30-1zM3948 6369L3983 6380"/><path class=n d="M3830 6381l29-5 30-5 29-3 35 11-29 2-30 5-29 4zM3859 6376L3894 6386M3889 6371L3924 6381"/><path class=o d="M3712 6411l29-9 30-8 29-7 30-6 35 9-30 6-29 7-30 8-29 8zM3741 6402L3776 6411M3771 6394L3806 6403M3800 6387L3835 6396"/><path class=j d="M3593 6452l30-12 29-10 30-10 30-9 35 8-30 10-29 10-30 10-30 12zM3623 6440L3658 6449M3652 6430L3688 6439M3682 6420L3717 6429"/><path class=k d="M3475 6505l30-14 29-14 30-13 29-12 35 9-29 13-30 13-29 13-30 14zM3505 6491L3540 6500M3534 6477L3569 6487M3564 6464L3599 6474"/><path class=c d="M3357 6562l29-15 30-14 30-14 29-14 35 9-29 14-30 14-29 15-30 15zM3386 6547L3422 6557M3416 6533L3451 6542M3446 6519L3481 6528"/><path class=c d="M3239 6625l29-16 30-16 29-15 30-16 35 10-29 15-30 16-30 15-29 16zM3268 6609L3303 6618M3298 6593L3333 6603M3327 6578L3363 6587"/><path class=c d="M3121 6687l29-15 30-16 29-16 30-15 35 9-30 16-29 15-30 16-29 15zM3150 6672L3185 6681M3180 6656L3215 6665M3209 6640L3244 6650"/><path class=c d="M3002 6750l30-16 29-16 30-15 30-16 35 9-30 16-29 15-30 16-29 16zM3032 6734L3067 6743M3061 6718L3097 6727M3091 6703L3126 6712"/><path class=c d="M2884 6815l30-17 29-16 30-16 29-16 36 9-30 16-30 16-29 16-30 16zM2914 6798L2949 6807M2943 6782L2978 6791M2973 6766L3008 6775"/><path class=c d="M2766 6906l30-25 29-25 30-25 29-16 35 8-29 17-30 24-29 23-30 24zM2796 6881L2831 6887M2825 6856L2860 6864M2855 6831L2890 6840"/><path class=j d="M2648 7006l29-25 30-25 29-25 30-25 35 5-29 24-30 24-29 25-30 24zM2677 6981L2713 6984M2707 6956L2742 6959M2736 6931L2772 6935"/><path class=o d="M2559 7083l30-26 29-25 30-26 35 2-30 25-29 25-30 25zM2589 7057L2624 7058M2618 7032L2653 7033"/><path class=n d="M2441 7200l30-32 29-30 30-28 29-27 35 0-29 25-30 27-29 28-30 31zM2471 7168L2506 7163M2500 7138L2535 7135M2530 7110L2565 7108"/><path class=i d="M2382 7275l29-39 30-36 35-6-29 34-30 37zM2411 7236L2447 7228"/><path class=K d="M4190 6449l35 15 20 11-28-13z"/><path class=V d="M4131 6426l29 11 30 12 35 15-30-13-29-12zM4160 6437L4195 6451"/><path class=l d="M4101 6415l30 11 35 13-30-12z"/><path class=g d="M4042 6393l30 11 29 11 35 12-30-13-29-10zM4072 6404L4106 6414"/><path class=e d="M3983 6380l30 5 29 8 35 11-30-9-29-6zM4013 6385L4047 6395"/><path class=h d="M3924 6381l29-2 30 1 35 9-30-2-29 2zM3953 6379L3988 6387"/><path class=q d="M3806 6403l29-7 30-6 29-4 30-5 35 8-30 4-29 5-30 5-29 7zM3835 6396L3870 6403M3865 6390L3900 6398M3894 6386L3929 6393"/><path class=j d="M3688 6439l29-10 30-10 29-8 30-8 35 7-30 8-30 9-29 9-30 10zM3717 6429L3752 6436M3747 6419L3781 6427M3776 6411L3811 6418"/><path class=k d="M3569 6487l30-13 29-13 30-12 30-10 34 7-29 11-30 12-29 12-30 13zM3599 6474L3634 6481M3628 6461L3663 6469M3658 6449L3693 6457"/><path class=k d="M3451 6542l30-14 29-14 30-14 29-13 35 7-29 14-30 14-29 14-30 14zM3481 6528L3516 6536M3510 6514L3545 6522M3540 6500L3575 6508"/><path class=c d="M3333 6603l30-16 29-15 30-15 29-15 35 8-30 15-29 15-30 15-29 15zM3363 6587L3397 6595M3392 6572L3427 6580M3422 6557L3456 6565"/><path class=c d="M3215 6665l29-15 30-16 29-16 30-15 35 7-30 16-29 15-30 16-29 15zM3244 6650L3279 6657M3274 6634L3309 6641M3303 6618L3338 6626"/><path class=c d="M3097 6727l29-15 30-16 29-15 30-16 35 7-30 16-29 15-30 16-30 15zM3126 6712L3161 6719M3156 6696L3191 6703M3185 6681L3220 6688"/><path class=c d="M2978 6791l30-16 30-16 29-16 30-16 34 7-29 16-30 16-29 16-30 15zM3008 6775L3043 6782M3038 6759L3072 6766M3067 6743L3102 6750"/><path class=c d="M2860 6864l30-24 29-17 30-16 29-16 35 6-29 17-30 16-29 16-30 23zM2890 6840L2925 6846M2919 6823L2954 6830M2949 6807L2984 6814"/><path class=k d="M2742 6959l30-24 29-24 30-24 29-23 35 5-29 23-30 23-30 23-29 23zM2772 6935L2806 6938M2801 6911L2836 6915M2831 6887L2866 6892"/><path class=j d="M2624 7058l29-25 30-25 30-24 29-25 35 2-30 23-29 24-30 24-29 23zM2653 7033L2688 7032M2683 7008L2718 7008M2713 6984L2747 6984"/><path class=q d="M2506 7163l29-28 30-27 29-25 30-25 35-3-30 24-29 25-30 25-30 27zM2535 7135L2570 7129M2565 7108L2600 7104M2594 7083L2629 7079"/><path class=h d="M2417 7265l30-37 29-34 30-31 34-7-29 30-30 31-29 35zM2447 7228L2481 7217M2476 7194L2511 7186"/><path class=K d="M4225 6464l34 14 17 9-31-12z"/><path class=V d="M4166 6439l29 12 30 13 34 14-29-15-30-13zM4195 6451L4230 6463"/><path class=l d="M4136 6427l30 12 34 11-29-14z"/><path class=g d="M4077 6404l29 10 30 13 35 9-30-13-30-11zM4106 6414L4141 6423"/><path class=e d="M4018 6389l29 6 30 9 34 8-29-10-30-6zM4047 6395L4082 6402"/><path class=h d="M3959 6389l29-2 30 2 34 7-29-2-30 1zM3988 6387L4023 6394"/><path class=q d="M3841 6410l29-7 30-5 29-5 30-4 34 6-29 4-30 4-29 5-30 7zM3870 6403L3905 6408M3900 6398L3934 6403M3929 6393L3964 6399"/><path class=j d="M3722 6446l30-10 29-9 30-9 30-8 34 5-29 8-30 8-30 10-29 10zM3752 6436L3786 6441M3781 6427L3816 6431M3811 6418L3846 6423"/><path class=k d="M3604 6494l30-13 29-12 30-12 29-11 35 5-30 11-29 12-30 12-29 13zM3634 6481L3668 6486M3663 6469L3698 6474M3693 6457L3727 6462"/><path class=c d="M3486 6550l30-14 29-14 30-14 29-14 35 5-30 14-29 14-30 14-30 14zM3516 6536L3550 6541M3545 6522L3580 6527M3575 6508L3609 6513"/><path class=c d="M3368 6610l29-15 30-15 29-15 30-15 34 5-29 15-30 15-29 15-30 16zM3397 6595L3432 6600M3427 6580L3461 6585M3456 6565L3491 6570"/><path class=c d="M3250 6672l29-15 30-16 29-15 30-16 34 6-29 15-30 16-29 15-30 15zM3279 6657L3314 6662M3309 6641L3343 6647M3338 6626L3373 6631"/><path class=c d="M3131 6734l30-15 30-16 29-15 30-16 34 5-29 16-30 15-30 16-29 15zM3161 6719L3195 6724M3191 6703L3225 6708M3220 6688L3255 6693"/><path class=c d="M3013 6797l30-15 29-16 30-16 29-16 35 5-30 16-29 15-30 16-29 16zM3043 6782L3077 6786M3072 6766L3107 6770M3102 6750L3136 6755"/><path class=c d="M2895 6869l30-23 29-16 30-16 29-17 35 5-30 16-29 16-30 16-29 22zM2925 6846L2959 6850M2954 6830L2989 6834M2984 6814L3018 6818"/><path class=c d="M2777 6961l29-23 30-23 30-23 29-23 35 3-30 22-30 22-29 22-30 22zM2806 6938L2841 6938M2836 6915L2870 6916M2866 6892L2900 6894"/><path class=j d="M2659 7055l29-23 30-24 29-24 30-23 34-1-29 23-30 22-29 23-30 23zM2688 7032L2723 7028M2718 7008L2752 7005M2747 6984L2782 6983"/><path class=o d="M2540 7156l30-27 30-25 29-25 30-24 34-4-29 23-30 23-29 24-30 26zM2570 7129L2605 7121M2600 7104L2634 7097M2629 7079L2664 7074"/><path class=n d="M2452 7252l29-35 30-31 29-30 35-9-30 28-29 29-30 33zM2481 7217L2516 7204M2511 7186L2545 7175"/><path class=K d="M4259 6478l34 11 16 9-33-11z"/><path class=V d="M4200 6450l30 13 29 15 34 11-29-16-30-15zM4230 6463L4264 6473"/><path class=l d="M4171 6436l29 14 34 8-29-14z"/><path class=g d="M4111 6412l30 11 30 13 34 8-30-14-29-12zM4141 6423L4175 6430"/><path class=e d="M4082 6402l29 10 35 6-30-10z"/><path class=h d="M3993 6395l30-1 29 2 30 6 34 6-29-7-30-3-30 1zM4023 6394L4057 6398M4052 6396L4087 6401"/><path class=q d="M3905 6408l29-5 30-4 29-4 34 4-29 3-30 3-29 5zM3934 6403L3968 6405M3964 6399L3998 6402"/><path class=j d="M3786 6441l30-10 30-8 29-8 30-7 34 2-30 7-29 8-30 9-29 9zM3816 6431L3850 6434M3846 6423L3880 6425M3875 6415L3909 6417"/><path class=k d="M3668 6486l30-12 29-12 30-11 29-10 35 2-30 10-30 11-29 12-30 13zM3698 6474L3732 6476M3727 6462L3761 6464M3757 6451L3791 6453"/><path class=c d="M3550 6541l30-14 29-14 30-14 29-13 34 3-29 13-30 14-29 14-30 14zM3580 6527L3614 6530M3609 6513L3643 6516M3639 6499L3673 6502"/><path class=c d="M3432 6600l29-15 30-15 29-15 30-14 34 3-29 14-30 15-29 15-30 15zM3461 6585L3496 6588M3491 6570L3525 6573M3520 6555L3555 6558"/><path class=c d="M3314 6662l29-15 30-16 29-15 30-16 34 3-30 15-29 16-30 15-29 15zM3343 6647L3377 6649M3373 6631L3407 6634M3402 6616L3436 6618"/><path class=c d="M3195 6724l30-16 30-15 29-16 30-15 34 2-30 16-29 15-30 15-29 16zM3225 6708L3259 6710M3255 6693L3289 6695M3284 6677L3318 6680"/><path class=w d="M3077 6786l30-16 29-15 30-16 29-15 35 2-30 15-29 16-30 15-30 16zM3107 6770L3141 6772M3136 6755L3171 6757M3166 6739L3200 6741"/><path class=w d="M2959 6850l30-16 29-16 30-16 29-16 34 2-29 15-30 16-29 16-30 16zM2989 6834L3023 6835M3018 6818L3052 6819M3048 6802L3082 6803"/><path class=c d="M2841 6938l29-22 30-22 30-22 29-22 34 1-29 21-30 21-29 21-30 22zM2870 6916L2905 6914M2900 6894L2934 6893M2930 6872L2964 6872"/><path class=k d="M2723 7028l29-23 30-22 29-23 30-22 34-2-29 21-30 21-30 22-29 21zM2752 7005L2786 7000M2782 6983L2816 6978M2811 6960L2846 6957"/><path class=j d="M2605 7121l29-24 30-23 29-23 30-23 34-7-30 22-29 22-30 23-29 23zM2634 7097L2668 7088M2664 7074L2698 7065M2693 7051L2727 7043"/><path class=o d="M2516 7204l29-29 30-28 30-26 34-10-30 24-29 26-30 28zM2545 7175L2580 7161M2575 7147L2609 7135"/><path class=n d="M2486 7237l30-33 34-15-29 30z"/><path class=K d="M4293 6489l34 8 16 11-34-10z"/><path class=V d="M4234 6458l30 15 29 16 34 8-29-17-30-16zM4264 6473L4298 6480"/><path class=s d="M4175 6430l30 14 29 14 34 6-29-16-30-14zM4205 6444L4239 6448"/><path class=f d="M4146 6418l29 12 34 4-30-13z"/><path class=i d="M4087 6401l29 7 30 10 33 3-29-11-30-7zM4116 6408L4150 6410"/><path class=n d="M3998 6402l29-3 30-1 30 3 33 2-29-4-30 1-29 2zM4027 6399L4061 6400M4057 6398L4091 6399"/><path class=o d="M3880 6425l29-8 30-7 29-5 30-3 34 0-30 3-29 5-30 7-29 8zM3909 6417L3943 6417M3939 6410L3973 6410M3968 6405L4002 6405"/><path class=k d="M3761 6464l30-11 30-10 29-9 30-9 34 0-30 8-30 10-29 10-30 11zM3791 6453L3825 6453M3821 6443L3854 6443M3850 6434L3884 6433"/><path class=c d="M3643 6516l30-14 29-13 30-13 29-12 34 0-29 12-30 12-29 13-30 14zM3673 6502L3707 6501M3702 6489L3736 6488M3732 6476L3766 6476"/><path class=c d="M3525 6573l30-15 29-14 30-14 29-14 34-1-29 14-30 15-29 14-30 15zM3555 6558L3589 6558M3584 6544L3618 6544M3614 6530L3648 6529"/><path class=w d="M3407 6634l29-16 30-15 30-15 29-15 34 0-30 14-29 16-30 15-29 15zM3436 6618L3470 6618M3466 6603L3500 6603M3496 6588L3529 6587"/><path class=w d="M3289 6695l29-15 30-16 29-15 30-15 34-1-30 15-29 16-30 15-29 15zM3318 6680L3352 6679M3348 6664L3382 6664M3377 6649L3411 6648"/><path class=w d="M3171 6757l29-16 30-15 29-16 30-15 34-1-30 15-29 16-30 15-30 15zM3200 6741L3234 6740M3230 6726L3264 6725M3259 6710L3293 6709"/><path class=w d="M3052 6819l30-16 29-15 30-16 30-15 33-2-29 16-30 15-29 16-30 16zM3082 6803L3116 6802M3111 6788L3145 6786M3141 6772L3175 6771"/><path class=w d="M2934 6893l30-21 29-21 30-16 29-16 34-1-29 15-30 16-29 20-30 20zM2964 6872L2998 6869M2993 6851L3027 6849M3023 6835L3057 6833"/><path class=w d="M2816 6978l30-21 29-21 30-22 29-21 34-4-29 21-30 20-30 20-29 21zM2846 6957L2879 6950M2875 6936L2909 6930M2905 6914L2939 6910"/><path class=c d="M2698 7065l29-22 30-22 29-21 30-22 34-7-30 20-29 21-30 21-29 21zM2727 7043L2761 7033M2757 7021L2791 7012M2786 7000L2820 6991"/><path class=k d="M2580 7161l29-26 30-24 29-23 30-23 34-11-30 21-29 22-30 23-30 24zM2609 7135L2643 7120M2639 7111L2673 7097M2668 7088L2702 7075"/><path class=o d="M2521 7219l29-30 30-28 33-17-29 26-30 28zM2550 7189L2584 7170"/><path class=K d="M4327 6497l34 6 18 14-36-9z"/><path class=V d="M4268 6464l30 16 29 17 34 6-30-19-29-17zM4298 6480L4331 6484"/><path class=s d="M4209 6434l30 14 29 16 34 3-30-17-29-15zM4239 6448L4272 6450"/><path class=e d="M4150 6410l29 11 30 13 34 1-30-14-30-11zM4179 6421L4213 6421"/><path class=h d="M4091 6399l29 4 30 7 33 0-29-8-30-4zM4120 6403L4154 6402"/><path class=q d="M4032 6402l29-2 30-1 33-1-29 0-30 1zM4061 6400L4095 6398"/><path class=j d="M3914 6425l29-8 30-7 29-5 30-3 33-3-29 3-30 4-29 7-30 8zM3943 6417L3977 6413M3973 6410L4006 6406M4002 6405L4036 6402"/><path class=k d="M3795 6464l30-11 29-10 30-10 30-8 33-4-29 9-30 9-30 10-29 11zM3825 6453L3858 6449M3854 6443L3888 6439M3884 6433L3918 6430"/><path class=w d="M3677 6515l30-14 29-13 30-12 29-12 34-4-30 12-29 13-30 13-29 14zM3707 6501L3740 6498M3736 6488L3770 6485M3766 6476L3799 6472"/><path class=w d="M3559 6573l30-15 29-14 30-15 29-14 34-3-30 14-29 14-30 14-29 15zM3589 6558L3622 6554M3618 6544L3652 6540M3648 6529L3681 6526"/><path class=w d="M3441 6633l29-15 30-15 29-16 30-14 34-4-30 15-30 15-29 15-30 15zM3470 6618L3504 6614M3500 6603L3533 6599M3529 6587L3563 6584"/><path class=w d="M3323 6694l29-15 30-15 29-16 30-15 33-4-29 15-30 16-29 15-30 15zM3352 6679L3386 6675M3382 6664L3415 6660M3411 6648L3445 6644"/><path class=u d="M3204 6755l30-15 30-15 29-16 30-15 33-4-29 15-30 15-29 16-30 15zM3234 6740L3268 6736M3264 6725L3297 6720M3293 6709L3327 6705"/><path class=u d="M3086 6818l30-16 29-16 30-15 29-16 34-4-30 15-29 15-30 16-29 15zM3116 6802L3149 6797M3145 6786L3179 6781M3175 6771L3208 6766"/><path class=u d="M2968 6889l30-20 29-20 30-16 29-15 34-6-30 16-29 16-30 19-29 19zM2998 6869L3031 6863M3027 6849L3061 6844M3057 6833L3090 6828"/><path class=w d="M2850 6971l29-21 30-20 30-20 29-21 34-7-30 20-29 19-30 19-30 20zM2879 6950L2913 6940M2909 6930L2943 6921M2939 6910L2972 6902"/><path class=w d="M2732 7054l29-21 30-21 29-21 30-20 33-11-29 20-30 19-29 20-30 20zM2761 7033L2795 7019M2791 7012L2824 6999M2820 6991L2854 6980"/><path class=c d="M2613 7144l30-24 30-23 29-22 30-21 33-15-29 20-30 21-29 22-30 22zM2643 7120L2677 7102M2673 7097L2706 7080M2702 7075L2736 7059"/><path class=j d="M2554 7198l30-28 29-26 34-20-29 25-30 25zM2584 7170L2618 7149"/><path class=ad d="M4361 6503l33 3 22 19-37-8z"/><path class=V d="M4331 6484l30 19 33 3-30-20z"/><path class=l d="M4272 6450l30 17 29 17 33 2-29-19-30-18zM4302 6467L4335 6467"/><path class=f d="M4213 6421l30 14 29 15 33-1-29-16-30-15zM4243 6435L4276 6433"/><path class=h d="M4154 6402l29 8 30 11 33-3-29-12-30-8zM4183 6410L4217 6406"/><path class=q d="M4095 6398l29 0 30 4 33-4-29-5-30-1zM4124 6398L4158 6393"/><path class=j d="M3977 6413l29-7 30-4 29-3 30-1 33-6-29 1-30 2-30 4-29 7zM4006 6406L4039 6399M4036 6402L4069 6395M4065 6399L4099 6393"/><path class=c d="M3858 6449l30-10 30-9 29-9 30-8 33-7-30 8-29 8-30 10-29 10zM3888 6439L3921 6432M3918 6430L3951 6422M3947 6421L3980 6414"/><path class=w d="M3740 6498l30-13 29-13 30-12 29-11 34-7-30 11-29 12-30 12-29 14zM3770 6485L3803 6477M3799 6472L3833 6465M3829 6460L3862 6453"/><path class=u d="M3622 6554l30-14 29-14 30-14 29-14 34-7-30 13-30 15-29 14-30 14zM3652 6540L3685 6533M3681 6526L3714 6519M3711 6512L3744 6504"/><path class=u d="M3504 6614l29-15 30-15 30-15 29-15 33-7-29 15-30 14-29 15-30 15zM3533 6599L3567 6591M3563 6584L3596 6576M3593 6569L3626 6562"/><path class=u d="M3386 6675l29-15 30-16 29-15 30-15 33-8-29 16-30 15-29 15-30 15zM3415 6660L3449 6652M3445 6644L3478 6637M3474 6629L3508 6622"/><path class=u d="M3268 6736l29-16 30-15 29-15 30-15 33-8-30 15-29 15-30 15-29 15zM3297 6720L3330 6712M3327 6705L3360 6697M3356 6690L3389 6682"/><path class=u d="M3149 6797l30-16 29-15 30-15 30-15 33-9-30 15-29 16-30 15-29 15zM3179 6781L3212 6773M3208 6766L3242 6758M3238 6751L3271 6742"/><path class=N d="M3031 6863l30-19 29-16 30-16 29-15 34-9-30 15-29 16-30 15-30 19zM3061 6844L3094 6834M3090 6828L3124 6819M3120 6812L3153 6803"/><path class=u d="M2913 6940l30-19 29-19 30-20 29-19 33-10-29 18-30 19-29 18-30 19zM2943 6921L2976 6908M2972 6902L3005 6890M3002 6882L3035 6871"/><path class=u d="M2795 7019l29-20 30-19 29-20 30-20 33-13-29 19-30 18-29 19-30 19zM2824 6999L2858 6983M2854 6980L2887 6964M2883 6960L2917 6946"/><path class=w d="M2677 7102l29-22 30-21 29-20 30-20 33-17-30 19-29 19-30 20-29 20zM2706 7080L2739 7060M2736 7059L2769 7040M2765 7039L2798 7021"/><path class=c d="M2588 7174l30-25 29-25 30-22 33-22-30 22-29 22-30 24zM2618 7149L2651 7124M2647 7124L2680 7102"/><path class=ad d="M4394 6506l33 0 28 25-39-6z"/><path class=V d="M4364 6486l30 20 33 0-30-22z"/><path class=l d="M4335 6467l29 19 33-2-29-20z"/><path class=g d="M4276 6433l29 16 30 18 33-3-30-19-29-17zM4305 6449L4338 6445"/><path class=i d="M4217 6406l29 12 30 15 33-5-30-16-29-12zM4246 6418L4279 6412"/><path class=q d="M4158 6393l29 5 30 8 33-6-30-10-29-5zM4187 6398L4220 6390"/><path class=j d="M4069 6395l30-2 29-1 30 1 33-8-30-1-29 0-30 1zM4099 6393L4132 6384M4128 6392L4161 6384"/><path class=c d="M3951 6422l29-8 30-8 29-7 30-4 33-10-30 4-29 6-30 8-29 8zM3980 6414L4013 6403M4010 6406L4043 6395M4039 6399L4072 6389"/><path class=w d="M3833 6465l29-12 30-11 29-10 30-10 33-11-30 10-29 10-30 11-29 12zM3862 6453L3895 6442M3892 6442L3925 6431M3921 6432L3954 6421"/><path class=u d="M3714 6519l30-15 30-13 29-14 30-12 33-11-30 12-30 14-29 13-30 15zM3744 6504L3777 6493M3774 6491L3806 6480M3803 6477L3836 6466"/><path class=N d="M3596 6576l30-14 29-15 30-14 29-14 33-11-29 14-30 14-29 15-30 14zM3626 6562L3659 6551M3655 6547L3688 6536M3685 6533L3718 6522"/><path class=N d="M3478 6637l30-15 29-16 30-15 29-15 33-11-29 15-30 15-29 15-30 15zM3508 6622L3541 6610M3537 6606L3570 6595M3567 6591L3600 6580"/><path class=N d="M3360 6697l29-15 30-15 30-15 29-15 33-12-30 15-29 15-30 15-29 15zM3389 6682L3422 6670M3419 6667L3452 6655M3449 6652L3481 6640"/><path class=N d="M3242 6758l29-16 30-15 29-15 30-15 33-12-30 15-29 15-30 15-29 15zM3271 6742L3304 6730M3301 6727L3334 6715M3330 6712L3363 6700"/><path class=N d="M3124 6819l29-16 30-15 29-15 30-15 33-13-30 15-29 15-30 16-30 15zM3153 6803L3186 6791M3183 6788L3216 6775M3212 6773L3245 6760"/><path class=B d="M3005 6890l30-19 29-18 30-19 30-15 32-13-29 15-30 18-29 17-30 18zM3035 6871L3068 6856M3064 6853L3097 6839M3094 6834L3127 6821"/><path class=N d="M2887 6964l30-18 29-19 30-19 29-18 33-16-29 18-30 18-29 17-30 18zM2917 6946L2950 6927M2946 6927L2979 6910M2976 6908L3009 6892"/><path class=N d="M2769 7040l29-19 30-19 30-19 29-19 33-19-29 18-30 18-30 18-29 19zM2798 7021L2831 6999M2828 7002L2861 6981M2858 6983L2891 6963"/><path class=u d="M2651 7124l29-22 30-22 29-20 30-20 33-22-30 18-29 19-30 20-29 21zM2680 7102L2713 7075M2710 7080L2743 7055M2739 7060L2772 7036"/><path class=w d="M2621 7148l30-24 33-28-30 22z"/><path class=K d="M4464 6533l25-1 5 5z"/><path class=ad d="M4427 6506l33-3 29 29-25 1-9-2z"/><path class=U d="M4397 6484l30 22 33-3-30-24z"/><path class=s d="M4368 6464l29 20 33-5-29-21z"/><path class=f d="M4309 6428l29 17 30 19 33-6-30-20-30-19zM4338 6445L4371 6438"/><path class=h d="M4250 6400l29 12 30 16 32-9-29-16-30-14zM4279 6412L4312 6403"/><path class=o d="M4191 6385l29 5 30 10 32-11-29-9-30-6zM4220 6390L4253 6380"/><path class=k d="M4102 6385l30-1 29 0 30 1 32-11-29-3-30-1-29 1zM4132 6384L4164 6370M4161 6384L4194 6371"/><path class=w d="M3984 6411l29-8 30-8 29-6 30-4 33-14-30 3-29 7-30 7-30 9zM4013 6403L4046 6388M4043 6395L4076 6381M4072 6389L4105 6374"/><path class=u d="M3866 6454l29-12 30-11 29-10 30-10 32-14-29 9-30 10-29 11-30 12zM3895 6442L3928 6427M3925 6431L3957 6416M3954 6421L3987 6406"/><path class=N d="M3747 6508l30-15 29-13 30-14 30-12 32-15-29 12-30 14-29 13-30 14zM3777 6493L3810 6478M3806 6480L3839 6465M3836 6466L3869 6451"/><path class=B d="M3629 6565l30-14 29-15 30-14 29-14 33-16-29 14-30 15-30 14-29 15zM3659 6551L3691 6535M3688 6536L3721 6521M3718 6522L3751 6506"/><path class=B d="M3511 6625l30-15 29-15 30-15 29-15 33-15-30 14-29 15-30 15-29 15zM3541 6610L3573 6594M3570 6595L3603 6579M3600 6580L3632 6564"/><path class=B d="M3393 6685l29-15 30-15 29-15 30-15 33-16-30 15-29 15-30 15-30 15zM3422 6670L3455 6654M3452 6655L3485 6639M3481 6640L3514 6624"/><path class=B d="M3275 6745l29-15 30-15 29-15 30-15 32-16-29 14-30 15-29 15-30 15zM3304 6730L3337 6713M3334 6715L3366 6698M3363 6700L3396 6683"/><path class=H d="M3156 6806l30-15 30-16 29-15 30-15 32-17-29 15-30 15-29 15-30 15zM3186 6791L3219 6773M3216 6775L3248 6758M3245 6760L3278 6743"/><path class=H d="M3038 6874l30-18 29-17 30-18 29-15 33-18-29 15-30 17-30 17-29 17zM3068 6856L3100 6837M3097 6839L3130 6820M3127 6821L3160 6803"/><path class=H d="M2920 6945l30-18 29-17 30-18 29-18 33-20-30 17-29 17-30 17-29 17zM2950 6927L2982 6905M2979 6910L3012 6888M3009 6892L3041 6871"/><path class=B d="M2802 7018l29-19 30-18 30-18 29-18 33-23-30 17-29 18-30 17-29 17zM2831 6999L2864 6974M2861 6981L2894 6957M2891 6963L2923 6939"/><path class=B d="M2684 7096l29-21 30-20 29-19 30-18 33-27-30 18-30 18-29 19-30 19zM2713 7075L2746 7046M2743 7055L2775 7027M2772 7036L2805 7009"/><path class=N d="M2654 7118l30-22 32-31-29 21z"/><path class=K d="M4489 6532l33-4 12 15-40-6z"/><path class=V d="M4460 6503l29 29 33-4-30-31z"/><path class=l d="M4430 6479l30 24 32-6-30-26z"/><path class=g d="M4371 6438l30 20 29 21 32-8-29-23-30-22zM4401 6458L4433 6448"/><path class=i d="M4341 6419l30 19 32-12-29-19z"/><path class=n d="M4282 6389l30 14 29 16 33-12-30-18-29-14zM4312 6403L4344 6389"/><path class=j d="M4223 6374l30 6 29 9 33-14-30-10-29-7zM4253 6380L4285 6365"/><path class=c d="M4135 6371l29-1 30 1 29 3 33-16-30-3-29-2-30 0zM4164 6370L4197 6353M4194 6371L4226 6355"/><path class=u d="M4016 6397l30-9 30-7 29-7 30-3 32-18-30 2-29 7-30 7-29 8zM4046 6388L4078 6369M4076 6381L4108 6362M4105 6374L4137 6355"/><path class=B d="M3898 6439l30-12 29-11 30-10 29-9 33-20-30 10-29 10-30 11-29 11zM3928 6427L3960 6408M3957 6416L3990 6397M3987 6406L4019 6387"/><path class=H d="M3780 6492l30-14 29-13 30-14 29-12 33-20-30 13-29 13-30 14-30 14zM3810 6478L3842 6459M3839 6465L3872 6445M3869 6451L3901 6432"/><path class=H d="M3662 6550l29-15 30-14 30-15 29-14 32-19-29 14-30 14-29 14-30 15zM3691 6535L3724 6515M3721 6521L3753 6501M3751 6506L3783 6487"/><path class=H d="M3544 6609l29-15 30-15 29-15 30-14 32-20-29 14-30 15-29 15-30 15zM3573 6594L3606 6574M3603 6579L3635 6559M3632 6564L3665 6544"/><path class=C d="M3425 6669l30-15 30-15 29-15 30-15 32-20-30 14-29 15-30 15-29 15zM3455 6654L3487 6633M3485 6639L3517 6618M3514 6624L3546 6603"/><path class=C d="M3307 6728l30-15 29-15 30-15 29-14 33-21-30 14-29 15-30 15-29 15zM3337 6713L3369 6692M3366 6698L3399 6677M3396 6683L3428 6662"/><path class=C d="M3189 6788l30-15 29-15 30-15 29-15 33-21-30 14-29 15-30 15-30 15zM3219 6773L3251 6751M3248 6758L3281 6736M3278 6743L3310 6721"/><path class=C d="M3071 6854l29-17 30-17 30-17 29-15 32-22-29 15-30 16-29 17-30 16zM3100 6837L3133 6814M3130 6820L3162 6797M3160 6803L3192 6781"/><path class=C d="M2953 6922l29-17 30-17 29-17 30-17 32-24-29 16-30 17-29 16-30 16zM2982 6905L3015 6879M3012 6888L3044 6863M3041 6871L3074 6846"/><path class=C d="M2835 6991l29-17 30-17 29-18 30-17 32-27-29 17-30 16-30 17-29 16zM2864 6974L2896 6945M2894 6957L2926 6928M2923 6939L2956 6912"/><path class=C d="M2716 7065l30-19 29-19 30-18 30-18 32-30-30 17-29 17-30 18-29 18zM2746 7046L2778 7013M2775 7027L2808 6995M2805 7009L2837 6978"/><path class=H d="M2687 7086l29-21 33-34-30 19z"/><path class=ad d="M4522 6528l32-8 21 28-41-5z"/><path class=V d="M4492 6497l30 31 32-8-30-33z"/><path class=s d="M4462 6471l30 26 32-10-30-27z"/><path class=f d="M4403 6426l30 22 29 23 32-11-29-25-30-23zM4433 6448L4465 6435"/><path class=h d="M4374 6407l29 19 32-14-29-21z"/><path class=q d="M4315 6375l29 14 30 18 32-16-30-19-29-14zM4344 6389L4376 6372"/><path class=k d="M4256 6358l29 7 30 10 32-17-30-12-29-7zM4285 6365L4317 6346"/><path class=w d="M4197 6353l29 2 30 3 32-19-30-4-29-3zM4226 6355L4258 6335"/><path class=N d="M4078 6369l30-7 29-7 30-2 30 0 32-21-30-2-30 2-29 6-30 8zM4108 6362L4140 6338M4137 6355L4169 6332M4167 6353L4199 6330"/><path class=H d="M3960 6408l30-11 29-10 30-10 29-8 32-23-29 8-30 9-29 10-30 11zM3990 6397L4022 6373M4019 6387L4051 6363M4049 6377L4081 6354"/><path class=C d="M3842 6459l30-14 29-13 30-13 29-11 32-24-29 12-30 12-29 13-30 14zM3872 6445L3904 6421M3901 6432L3933 6408M3931 6419L3963 6396"/><path class=ae d="M3724 6515l29-14 30-14 29-14 30-14 32-24-30 13-29 14-30 14-29 15zM3753 6501L3785 6476M3783 6487L3815 6462M3812 6473L3844 6448"/><path class=ae d="M3606 6574l29-15 30-15 29-14 30-15 32-24-30 14-29 15-30 14-29 15zM3635 6559L3667 6534M3665 6544L3697 6520M3694 6530L3726 6505"/><path class=ae d="M3487 6633l30-15 29-15 30-14 30-15 32-25-30 14-29 15-30 15-30 14zM3517 6618L3549 6593M3546 6603L3579 6578M3576 6589L3608 6563"/><path class=ae d="M3369 6692l30-15 29-15 30-14 29-15 32-26-29 15-30 14-29 15-30 15zM3399 6677L3431 6651M3428 6662L3460 6636M3458 6648L3490 6622"/><path class=I d="M3251 6751l30-15 29-15 30-14 29-15 32-26-29 14-30 15-29 15-30 15zM3281 6736L3313 6710M3310 6721L3342 6695M3340 6707L3372 6680"/><path class=I d="M3133 6814l29-17 30-16 29-15 30-15 32-26-29 14-30 15-30 16-29 15zM3162 6797L3194 6770M3192 6781L3224 6754M3221 6766L3254 6739"/><path class=I d="M3015 6879l29-16 30-17 29-16 30-16 32-29-30 16-29 16-30 15-29 16zM3044 6863L3076 6832M3074 6846L3106 6817M3103 6830L3135 6801"/><path class=I d="M2896 6945l30-17 30-16 29-17 30-16 32-31-30 16-29 16-30 16-29 16zM2926 6928L2958 6896M2956 6912L2988 6880M2985 6895L3017 6864"/><path class=I d="M2778 7013l30-18 29-17 30-17 29-16 33-33-30 16-30 16-29 16-30 17zM2808 6995L2840 6960M2837 6978L2869 6944M2867 6961L2899 6928"/><path class=I d="M2719 7050l30-19 29-18 32-36-29 17-30 17zM2749 7031L2781 6994"/><path class=K d="M4612 6552l3-1 1 1z"/><path class=ad d="M4554 6520l31-11 30 42-3 1-37-4z"/><path class=U d="M4524 6487l30 33 31-11-29-35z"/><path class=g d="M4494 6460l30 27 32-13-30-30z"/><path class=e d="M4465 6435l29 25 32-16-29-26z"/><path class=h d="M4435 6412l30 23 32-17-30-25z"/><path class=q d="M4376 6372l30 19 29 21 32-19-29-22-30-19zM4406 6391L4438 6371"/><path class=k d="M4317 6346l30 12 29 14 32-20-29-16-30-12zM4347 6358L4379 6336"/><path class=w d="M4288 6339l29 7 32-22-30-9z"/><path class=N d="M4199 6330l30 2 29 3 30 4 31-24-29-5-30-4-29-2zM4229 6332L4260 6306M4258 6335L4290 6310"/><path class=H d="M4110 6346l30-8 29-6 30-2 32-26-30 1-29 6-30 7zM4140 6338L4172 6311M4169 6332L4201 6305"/><path class=ae d="M3992 6384l30-11 29-10 30-9 29-8 32-28-29 8-30 9-29 10-30 10zM4022 6373L4054 6345M4051 6363L4083 6335M4081 6354L4113 6326"/><path class=I d="M3874 6435l30-14 29-13 30-12 29-12 32-29-30 12-29 12-30 13-29 14zM3904 6421L3935 6392M3933 6408L3965 6379M3963 6396L3994 6367"/><path class=I d="M3756 6491l29-15 30-14 29-14 30-13 32-29-30 13-29 14-30 14-29 14zM3785 6476L3817 6447M3815 6462L3847 6433M3844 6448L3876 6419"/><path class=M d="M3638 6549l29-15 30-14 29-15 30-14 32-30-30 14-30 15-29 14-30 15zM3667 6534L3699 6504M3697 6520L3728 6490M3726 6505L3758 6475"/><path class=M d="M3519 6607l30-14 30-15 29-15 30-14 31-30-29 14-30 15-29 14-30 15zM3549 6593L3581 6562M3579 6578L3610 6548M3608 6563L3640 6533"/><path class=M d="M3401 6666l30-15 29-15 30-14 29-15 32-30-29 14-30 15-29 14-30 15zM3431 6651L3463 6620M3460 6636L3492 6606M3490 6622L3522 6591"/><path class=M d="M3283 6725l30-15 29-15 30-15 29-14 32-31-30 14-29 15-30 14-29 15zM3313 6710L3344 6678M3342 6695L3374 6664M3372 6680L3403 6649"/><path class=W d="M3165 6785l29-15 30-16 30-15 29-14 32-32-30 14-29 15-30 15-29 15zM3194 6770L3226 6737M3224 6754L3256 6722M3254 6739L3285 6707"/><path class=W d="M3047 6848l29-16 30-15 29-16 30-16 32-33-30 15-29 16-30 15-30 15zM3076 6832L3108 6798M3106 6817L3138 6783M3135 6801L3167 6767"/><path class=W d="M2929 6912l29-16 30-16 29-16 30-16 31-35-29 15-30 16-29 15-30 15zM2958 6896L2990 6859M2988 6880L3019 6844M3017 6864L3049 6828"/><path class=W d="M2810 6977l30-17 29-16 30-16 30-16 31-38-29 16-30 15-29 16-30 16zM2840 6960L2872 6921M2869 6944L2901 6905M2899 6928L2931 6890"/><path class=W d="M2751 7011l30-17 29-17 32-40-29 16-30 16zM2781 6994L2813 6953"/><path class=K d="M4615 6551l31-11 11 16-41-4z"/><path class=V d="M4585 6509l30 42 31-11-29-45z"/><path class=s d="M4556 6474l29 35 32-14-30-38z"/><path class=f d="M4526 6444l30 30 31-17-29-32z"/><path class=i d="M4497 6418l29 26 32-19-30-28z"/><path class=n d="M4467 6393l30 25 31-21-29-26z"/><path class=o d="M4438 6371l29 22 32-22-30-24z"/><path class=k d="M4379 6336l29 16 30 19 31-24-29-20-30-17zM4408 6352L4440 6327"/><path class=u d="M4319 6315l30 9 30 12 31-26-30-13-29-9zM4349 6324L4380 6297"/><path class=B d="M4260 6306l30 4 29 5 32-27-30-7-29-5zM4290 6310L4321 6281"/><path class=C d="M4201 6305l30-1 29 2 32-30-30-3-29 0zM4231 6304L4262 6273"/><path class=I d="M4083 6335l30-9 29-8 30-7 29-6 32-32-30 5-29 7-30 8-29 9zM4113 6326L4144 6293M4142 6318L4174 6285M4172 6311L4203 6278"/><path class=M d="M3965 6379l29-12 30-12 30-10 29-10 32-33-30 9-30 11-29 11-30 13zM3994 6367L4026 6333M4024 6355L4055 6322M4054 6345L4085 6311"/><path class=W d="M3847 6433l29-14 30-13 29-14 30-13 31-33-29 12-30 14-29 13-30 14zM3876 6419L3908 6385M3906 6406L3937 6372M3935 6392L3967 6358"/><path class=W d="M3728 6490l30-15 30-14 29-14 30-14 31-34-29 14-30 14-29 14-30 14zM3758 6475L3790 6441M3788 6461L3819 6427M3817 6447L3849 6413"/><path class=ak d="M3610 6548l30-15 29-14 30-15 29-14 32-35-30 14-29 14-30 15-29 14zM3640 6533L3671 6498M3669 6519L3701 6483M3699 6504L3730 6469"/><path class=ak d="M3492 6606l30-15 29-14 30-15 29-14 32-36-30 14-29 15-30 14-29 14zM3522 6591L3553 6555M3551 6577L3583 6541M3581 6562L3612 6526"/><path class=ak d="M3374 6664l29-15 30-14 30-15 29-14 32-37-30 15-29 14-30 14-30 15zM3403 6649L3435 6612M3433 6635L3465 6598M3463 6620L3494 6584"/><path class=X d="M3256 6722l29-15 30-14 29-15 30-14 31-37-29 14-30 15-29 14-30 15zM3285 6707L3317 6670M3315 6693L3346 6656M3344 6678L3376 6641"/><path class=X d="M3138 6783l29-16 30-15 29-15 30-15 31-37-29 14-30 15-29 15-30 15zM3167 6767L3199 6729M3197 6752L3228 6714M3226 6737L3258 6699"/><path class=X d="M3019 6844l30-16 29-15 30-15 30-15 31-39-30 14-29 15-30 15-29 15zM3049 6828L3080 6788M3078 6813L3110 6773M3108 6798L3139 6758"/><path class=X d="M2901 6905l30-15 29-16 30-15 29-15 32-41-30 15-29 15-30 15-29 15zM2931 6890L2962 6848M2960 6874L2992 6833M2990 6859L3021 6818"/><path class=X d="M2783 6969l30-16 29-16 30-16 29-16 32-42-30 15-29 15-30 15-30 16zM2813 6953L2844 6908M2842 6937L2874 6893M2872 6921L2903 6878"/><path class=ad d="M4646 6540l32-15 20 35-41-4z"/><path class=U d="M4617 6495l29 45 32-15-30-48z"/><path class=g d="M4587 6457l30 38 31-18-30-41z"/><path class=e d="M4558 6425l29 32 31-21-29-34z"/><path class=n d="M4528 6397l30 28 31-23-30-30z"/><path class=o d="M4499 6371l29 26 31-25-29-28z"/><path class=k d="M4440 6327l29 20 30 24 31-27-30-25-29-21zM4469 6347L4500 6319"/><path class=u d="M4410 6310l30 17 31-29-30-18z"/><path class=B d="M4351 6288l29 9 30 13 31-30-29-14-30-10zM4380 6297L4412 6266"/><path class=C d="M4292 6276l29 5 30 7 31-32-29-8-30-7zM4321 6281L4353 6248"/><path class=I d="M4233 6273l29 0 30 3 31-35-30-4-29-1zM4262 6273L4293 6237"/><path class=W d="M4115 6302l29-9 30-8 29-7 30-5 31-37-30 5-29 7-30 7-29 9zM4144 6293L4175 6255M4174 6285L4205 6248M4203 6278L4234 6241"/><path class=ak d="M3996 6346l30-13 29-11 30-11 30-9 31-38-30 9-29 11-30 11-29 12zM4026 6333L4057 6295M4055 6322L4087 6284M4085 6311L4116 6273"/><path class=X d="M3878 6399l30-14 29-13 30-14 29-12 32-39-30 12-30 13-29 14-30 13zM3908 6385L3939 6346M3937 6372L3968 6332M3967 6358L3998 6319"/><path class=aB d="M3760 6455l30-14 29-14 30-14 29-14 31-40-29 14-30 14-29 13-30 14zM3790 6441L3821 6400M3819 6427L3850 6387M3849 6413L3880 6373"/><path class=aB d="M3642 6512l29-14 30-15 29-14 30-14 31-41-29 15-30 14-29 14-30 14zM3671 6498L3703 6457M3701 6483L3732 6443M3730 6469L3762 6429"/><path class=aB d="M3524 6569l29-14 30-14 29-15 30-14 31-41-30 14-29 14-30 15-29 14zM3553 6555L3584 6514M3583 6541L3614 6499M3612 6526L3643 6485"/><path class=aa d="M3405 6627l30-15 30-14 29-14 30-15 31-41-30 14-29 14-30 14-29 15zM3435 6612L3466 6570M3465 6598L3496 6556M3494 6584L3525 6542"/><path class=aa d="M3287 6685l30-15 29-14 30-15 29-14 32-42-30 14-29 14-30 14-30 15zM3317 6670L3348 6627M3346 6656L3378 6613M3376 6641L3407 6599"/><path class=aa d="M3169 6744l30-15 29-15 30-15 29-14 31-43-29 14-30 15-29 14-30 14zM3199 6729L3230 6685M3228 6714L3259 6671M3258 6699L3289 6656"/><path class=aa d="M3051 6803l29-15 30-15 29-15 30-14 31-45-29 15-30 14-29 15-30 14zM3080 6788L3112 6743M3110 6773L3141 6728M3139 6758L3171 6714"/><path class=as d="M2933 6863l29-15 30-15 29-15 30-15 31-46-30 15-29 15-30 14-29 15zM2962 6848L2993 6801M2992 6833L3023 6787M3021 6818L3052 6772"/><path class=as d="M2814 6924l30-16 30-15 29-15 30-15 31-47-30 15-29 14-30 15-29 15zM2844 6908L2875 6860M2874 6893L2905 6845M2903 6878L2934 6831"/><path class=K d="M4733 6563l5-2 2 3z"/><path class=ad d="M4678 6525l30-18 30 54-5 2-35-3z"/><path class=l d="M4648 6477l30 48 30-18-29-51z"/><path class=f d="M4618 6436l30 41 31-21-30-44z"/><path class=h d="M4589 6402l29 34 31-24-29-37z"/><path class=q d="M4559 6372l30 30 31-27-30-32z"/><path class=j d="M4530 6344l29 28 31-29-29-30z"/><path class=c d="M4500 6319l30 25 31-31-30-26z"/><path class=u d="M4471 6298l29 21 31-32-29-23z"/><path class=B d="M4441 6280l30 18 31-34-30-19z"/><path class=C d="M4382 6256l30 10 29 14 31-35-29-15-30-11zM4412 6266L4443 6230"/><path class=I d="M4323 6241l30 7 29 8 31-37-30-9-29-8zM4353 6248L4383 6210"/><path class=W d="M4264 6236l29 1 30 4 31-39-30-6-29-2zM4293 6237L4324 6196"/><path class=X d="M4146 6264l29-9 30-7 29-7 30-5 31-42-30 5-29 6-30 7-29 8zM4175 6255L4206 6212M4205 6248L4236 6205M4234 6241L4265 6199"/><path class=aa d="M4028 6307l29-12 30-11 29-11 30-9 31-44-30 10-29 10-30 11-30 12zM4057 6295L4088 6251M4087 6284L4118 6240M4116 6273L4147 6230"/><path class=as d="M3909 6359l30-13 29-14 30-13 30-12 30-44-29 12-30 13-29 13-30 13zM3939 6346L3970 6301M3968 6332L3999 6288M3998 6319L4029 6275"/><path class=as d="M3791 6414l30-14 29-13 30-14 29-14 31-45-29 14-30 13-29 14-30 14zM3821 6400L3852 6355M3850 6387L3881 6341M3880 6373L3911 6328"/><path class=P d="M3673 6471l30-14 29-14 30-14 29-15 31-45-29 14-30 14-30 14-29 14zM3703 6457L3733 6411M3732 6443L3763 6397M3762 6429L3793 6383"/><path class=P d="M3555 6528l29-14 30-15 29-14 30-14 31-46-30 14-29 14-30 14-29 14zM3584 6514L3615 6467M3614 6499L3645 6453M3643 6485L3674 6439"/><path class=P d="M3437 6585l29-15 30-14 29-14 30-14 31-47-30 14-29 14-30 14-29 14zM3466 6570L3497 6523M3496 6556L3527 6509M3525 6542L3556 6495"/><path class=aj d="M3318 6642l30-15 30-14 29-14 30-14 31-48-30 14-30 14-29 14-30 14zM3348 6627L3379 6579M3378 6613L3408 6565M3407 6599L3438 6551"/><path class=aj d="M3200 6699l30-14 29-14 30-15 29-14 31-49-29 15-30 14-29 14-30 14zM3230 6685L3261 6636M3259 6671L3290 6622M3289 6656L3320 6608"/><path class=aj d="M3082 6757l30-14 29-15 30-14 29-15 31-49-29 14-30 15-30 14-29 14zM3112 6743L3142 6693M3141 6728L3172 6679M3171 6714L3202 6664"/><path class=aj d="M2964 6816l29-15 30-14 29-15 30-15 31-50-30 15-29 14-30 15-29 14zM2993 6801L3024 6751M3023 6787L3054 6736M3052 6772L3083 6722"/><path class=aH d="M2846 6875l29-15 30-15 29-14 30-15 31-51-30 15-29 14-30 15-29 14zM2875 6860L2906 6809M2905 6845L2936 6794M2934 6831L2965 6780"/><path class=K d="M4738 6561l31-17 11 23-40-3z"/><path class=V d="M4708 6507l30 54 31-17-30-57z"/><path class=g d="M4679 6456l29 51 31-20-29-55z"/><path class=i d="M4649 6412l30 44 31-24-30-48z"/><path class=q d="M4620 6375l29 37 31-28-30-38z"/><path class=j d="M4590 6343l30 32 30-29-29-35z"/><path class=c d="M4561 6313l29 30 31-32-30-31z"/><path class=u d="M4531 6287l30 26 30-33-29-28z"/><path class=B d="M4502 6264l29 23 31-35-30-24z"/><path class=C d="M4472 6245l30 19 30-36-29-20z"/><path class=I d="M4413 6219l30 11 29 15 31-37-30-17-29-12zM4443 6230L4473 6191"/><path class=ak d="M4354 6202l29 8 30 9 31-40-30-11-29-9zM4383 6210L4414 6168"/><path class=aB d="M4295 6194l29 2 30 6 31-43-30-8-30-2zM4324 6196L4355 6151"/><path class=as d="M4177 6220l29-8 30-7 29-6 30-5 30-45-29 4-30 5-29 7-30 8zM4206 6212L4237 6165M4236 6205L4266 6158M4265 6199L4296 6153"/><path class=P d="M4058 6263l30-12 30-11 29-10 30-10 30-47-29 9-30 10-29 11-30 11zM4088 6251L4119 6203M4118 6240L4148 6192M4147 6230L4178 6182"/><path class=aj d="M3940 6314l30-13 29-13 30-13 29-12 31-49-29 13-30 12-30 13-29 13zM3970 6301L4000 6252M3999 6288L4030 6239M4029 6275L4060 6227"/><path class=aH d="M3822 6369l30-14 29-14 30-13 29-14 31-49-30 13-29 14-30 13-29 14zM3852 6355L3882 6305M3881 6341L3912 6292M3911 6328L3941 6278"/><path class=aH d="M3704 6425l29-14 30-14 30-14 29-14 31-50-30 13-29 14-30 14-30 14zM3733 6411L3764 6360M3763 6397L3794 6346M3793 6383L3823 6332"/><path class=aq d="M3586 6481l29-14 30-14 29-14 30-14 30-51-29 14-30 14-29 13-30 14zM3615 6467L3646 6415M3645 6453L3675 6402M3674 6439L3705 6388"/><path class=aq d="M3468 6537l29-14 30-14 29-14 30-14 30-52-29 14-30 14-29 14-30 14zM3497 6523L3528 6471M3527 6509L3557 6457M3556 6495L3587 6443"/><path class=aq d="M3349 6593l30-14 29-14 30-14 30-14 30-52-29 14-30 14-30 14-29 14zM3379 6579L3409 6527M3408 6565L3439 6513M3438 6551L3469 6499"/><path class=aE d="M3231 6650l30-14 29-14 30-14 29-15 31-52-30 14-29 14-30 14-29 14zM3261 6636L3291 6583M3290 6622L3321 6569M3320 6608L3350 6555"/><path class=aE d="M3113 6707l29-14 30-14 30-15 29-14 31-53-30 14-29 14-30 14-29 14zM3142 6693L3173 6639M3172 6679L3203 6625M3202 6664L3232 6611"/><path class=aE d="M2995 6765l29-14 30-15 29-14 30-15 31-54-30 15-30 14-29 14-30 15zM3024 6751L3055 6696M3054 6736L3084 6682M3083 6722L3114 6668"/><path class=aI d="M2877 6823l29-14 30-15 29-14 30-15 30-54-29 14-30 14-29 15-30 14zM2906 6809L2937 6754M2936 6794L2966 6739M2965 6780L2996 6725"/><path class=ad d="M4769 6544l30-18 21 45-40-4z"/><path class=l d="M4739 6487l30 57 30-18-30-61z"/><path class=f d="M4710 6432l29 55 30-22-29-59z"/><path class=n d="M4680 6384l30 48 30-26-30-51z"/><path class=o d="M4650 6346l30 38 30-29-29-41z"/><path class=c d="M4621 6311l29 35 31-32-30-37z"/><path class=u d="M4591 6280l30 31 30-34-29-33z"/><path class=H d="M4562 6252l29 28 31-36-30-30z"/><path class=ae d="M4532 6228l30 24 30-38-29-25z"/><path class=M d="M4473 6191l30 17 29 20 31-39-30-22-29-17zM4503 6208L4533 6167"/><path class=X d="M4414 6168l30 11 29 12 31-41-30-14-30-12zM4444 6179L4474 6136"/><path class=aa d="M4355 6151l30 8 29 9 30-44-29-11-30-9zM4385 6159L4415 6113"/><path class=P d="M4296 6153l29-4 30 2 30-47-29-3-30 3zM4325 6149L4356 6101"/><path class=aH d="M4178 6182l29-9 30-8 29-7 30-5 30-49-29 5-30 7-29 7-30 9zM4207 6173L4238 6123M4237 6165L4267 6116M4266 6158L4297 6109"/><path class=aq d="M4060 6227l29-13 30-11 29-11 30-10 30-50-30 10-29 10-30 11-29 12zM4089 6214L4119 6163M4119 6203L4149 6152M4148 6192L4178 6142"/><path class=aE d="M3941 6278l30-13 29-13 30-13 30-12 30-52-30 12-29 13-30 13-29 13zM3971 6265L4001 6213M4000 6252L4031 6200M4030 6239L4060 6187"/><path class=aI d="M3823 6332l30-13 29-14 30-13 29-14 31-52-30 13-29 13-30 14-30 13zM3853 6319L3883 6266M3882 6305L3913 6252M3912 6292L3942 6239"/><path class=aI d="M3705 6388l29-14 30-14 30-14 29-14 30-53-29 14-30 13-29 14-30 14zM3734 6374L3765 6320M3764 6360L3794 6306M3794 6346L3824 6293"/><path class=ar d="M3587 6443l29-14 30-14 29-13 30-14 30-54-29 13-30 14-29 14-30 13zM3616 6429L3647 6375M3646 6415L3676 6361M3675 6402L3706 6347"/><path class=ar d="M3469 6499l29-14 30-14 29-14 30-14 30-55-29 14-30 14-30 14-29 13zM3498 6485L3528 6430M3528 6471L3558 6416M3557 6457L3588 6402"/><path class=ar d="M3350 6555l30-14 29-14 30-14 30-14 30-56-30 14-29 14-30 14-29 14zM3380 6541L3410 6485M3409 6527L3440 6471M3439 6513L3469 6457"/><path class=aF d="M3232 6611l30-14 29-14 30-14 29-14 31-56-30 13-29 14-30 14-29 14zM3262 6597L3292 6540M3291 6583L3322 6526M3321 6569L3351 6512"/><path class=aF d="M3114 6668l30-15 29-14 30-14 29-14 31-57-30 14-30 14-29 14-30 14zM3144 6653L3174 6596M3173 6639L3203 6582M3203 6625L3233 6568"/><path class=aN d="M2996 6725l29-14 30-15 29-14 30-14 30-58-29 15-30 14-29 14-30 14zM3025 6711L3056 6653M3055 6696L3085 6639M3084 6682L3115 6625"/><path class=aN d="M2907 6768l30-14 29-15 30-14 30-58-29 14-30 15-29 14zM2937 6754L2967 6696M2966 6739L2997 6681"/><path class=ad d="M4799 6526l30-20 30 68-2 1-37-4z"/><path class=s d="M4769 6465l30 61 30-20-30-65z"/><path class=i d="M4740 6406l29 59 30-24-29-63z"/><path class=q d="M4710 6355l30 51 30-28-30-54z"/><path class=k d="M4681 6314l29 41 30-31-29-44z"/><path class=u d="M4651 6277l30 37 30-34-30-39z"/><path class=H d="M4622 6244l29 33 30-36-29-36z"/><path class=ae d="M4592 6214l30 30 30-39-30-31z"/><path class=M d="M4563 6189l29 25 30-40-29-27z"/><path class=ak d="M4533 6167l30 22 30-42-30-22z"/><path class=aB d="M4474 6136l30 14 29 17 30-42-29-19-30-15zM4504 6150L4534 6106"/><path class=P d="M4415 6113l29 11 30 12 30-45-30-14-29-13zM4444 6124L4474 6077"/><path class=aH d="M4356 6101l29 3 30 9 30-49-30-10-29-5zM4385 6104L4415 6054"/><path class=aE d="M4267 6116l30-7 29-5 30-3 30-52-30 3-29 5-30 6zM4297 6109L4327 6057M4326 6104L4356 6052"/><path class=ar d="M4149 6152l29-10 30-10 30-9 29-7 30-53-29 7-30 9-29 9-30 10zM4178 6142L4209 6088M4208 6132L4238 6079M4238 6123L4268 6070"/><path class=aF d="M4031 6200l29-13 30-12 29-12 30-11 30-54-30 11-29 12-30 12-29 12zM4060 6187L4090 6133M4090 6175L4120 6121M4119 6163L4149 6109"/><path class=aF d="M3913 6252l29-13 30-13 29-13 30-13 30-55-30 13-29 12-30 13-29 13zM3942 6239L3972 6183M3972 6226L4002 6170M4001 6213L4031 6158"/><path class=aN d="M3794 6306l30-13 29-14 30-13 30-14 30-56-30 13-29 14-30 13-30 14zM3824 6293L3854 6236M3853 6279L3884 6223M3883 6266L3913 6209"/><path class=Q d="M3676 6361l30-14 29-13 30-14 29-14 30-56-29 13-30 14-29 13-30 14zM3706 6347L3736 6290M3735 6334L3765 6277M3765 6320L3795 6263"/><path class=Q d="M3558 6416l30-14 29-14 30-13 29-14 30-57-29 13-30 14-29 13-30 14zM3588 6402L3618 6344M3617 6388L3647 6331M3647 6375L3677 6317"/><path class=Q d="M3440 6471l29-14 30-14 29-13 30-14 30-58-29 13-30 14-30 13-29 14zM3469 6457L3499 6398M3499 6443L3529 6385M3528 6430L3559 6371"/><path class=aO d="M3322 6526l29-14 30-13 29-14 30-14 30-59-30 14-29 13-30 14-29 14zM3351 6512L3381 6453M3381 6499L3411 6439M3410 6485L3440 6426"/><path class=aO d="M3203 6582l30-14 30-14 29-14 30-14 30-59-30 13-29 14-30 14-29 14zM3233 6568L3263 6508M3263 6554L3293 6494M3292 6540L3322 6480"/><path class=av d="M3085 6639l30-14 29-15 30-14 29-14 31-60-30 14-30 14-29 14-30 14zM3115 6625L3145 6564M3144 6610L3174 6550M3174 6596L3204 6536"/><path class=av d="M2967 6696l30-15 29-14 30-14 29-14 30-61-29 14-30 14-29 14-30 14zM2997 6681L3027 6620M3026 6667L3056 6606M3056 6653L3086 6592"/><path class=av d="M2938 6710l29-14 30-62-29 15z"/><path class=U d="M4829 6506l30 68 29-16-29-73z"/><path class=f d="M4799 6441l30 65 30-21-30-69z"/><path class=n d="M4770 6378l29 63 30-25-29-67z"/><path class=j d="M4740 6324l30 54 30-29-30-58z"/><path class=w d="M4711 6280l29 44 30-33-29-47z"/><path class=B d="M4681 6241l30 39 30-36-30-41z"/><path class=ae d="M4652 6205l29 36 30-38-29-38z"/><path class=M d="M4622 6174l30 31 30-40-30-33z"/><path class=ak d="M4593 6147l29 27 30-42-30-29z"/><path class=aB d="M4563 6125l30 22 29-44-29-23z"/><path class=as d="M4534 6106l29 19 30-45-30-20z"/><path class=aj d="M4474 6077l30 14 30 15 29-46-29-17-30-15zM4504 6091L4534 6043"/><path class=aE d="M4415 6054l30 10 29 13 30-49-29-15-30-12zM4445 6064L4475 6013"/><path class=ar d="M4356 6052l30-3 29 5 30-53-29-6-30 3zM4386 6049L4416 5995"/><path class=aN d="M4238 6079l30-9 29-7 30-6 29-5 30-54-29 4-30 6-30 6-29 9zM4268 6070L4297 6014M4297 6063L4327 6008M4327 6057L4357 6002"/><path class=Q d="M4120 6121l29-12 30-11 30-10 29-9 30-56-30 9-29 10-30 10-29 12zM4149 6109L4179 6052M4179 6098L4209 6042M4209 6088L4238 6032"/><path class=aO d="M4002 6170l29-12 30-13 29-12 30-12 30-57-30 11-29 12-30 12-29 13zM4031 6158L4061 6099M4061 6145L4091 6087M4090 6133L4120 6075"/><path class=av d="M3884 6223l29-14 30-13 29-13 30-13 30-58-30 13-30 12-29 13-30 13zM3913 6209L3943 6150M3943 6196L3972 6137M3972 6183L4002 6125"/><path class=av d="M3765 6277l30-14 29-13 30-14 30-13 29-60-29 14-30 13-29 13-30 14zM3795 6263L3825 6203M3824 6250L3854 6190M3854 6236L3884 6177"/><path class=at d="M3647 6331l30-14 29-13 30-14 29-13 30-60-29 13-30 13-29 13-30 14zM3677 6317L3707 6256M3706 6304L3736 6243M3736 6290L3766 6230"/><path class=at d="M3529 6385l30-14 29-13 30-14 29-13 30-61-30 13-29 13-30 14-29 13zM3559 6371L3588 6310M3588 6358L3618 6296M3618 6344L3647 6283"/><path class=aT d="M3411 6439l29-13 30-14 29-14 30-13 30-62-30 13-29 14-30 13-29 14zM3440 6426L3470 6363M3470 6412L3500 6350M3499 6398L3529 6336"/><path class=aT d="M3293 6494l29-14 30-13 29-14 30-14 30-62-30 13-30 14-29 14-30 13zM3322 6480L3352 6418M3352 6467L3381 6404M3381 6453L3411 6390"/><path class=aW d="M3174 6550l30-14 30-14 29-14 30-14 29-63-29 14-30 14-29 13-30 14zM3204 6536L3234 6472M3234 6522L3263 6459M3263 6508L3293 6445"/><path class=aW d="M3056 6606l30-14 29-14 30-14 29-14 30-64-29 14-30 14-29 14-30 14zM3086 6592L3116 6528M3115 6578L3145 6514M3145 6564L3175 6500"/><path class=aR d="M2968 6649l29-15 30-14 29-14 30-64-30 14-29 14-30 14zM2997 6634L3027 6570M3027 6620L3056 6556"/><path class=l d="M4859 6485l29 73 30-18-30-77z"/><path class=e d="M4829 6416l30 69 29-22-29-74z"/><path class=q d="M4800 6349l29 67 30-27-30-71z"/><path class=c d="M4770 6291l30 58 29-31-29-61z"/><path class=B d="M4741 6244l29 47 30-34-30-50z"/><path class=C d="M4711 6203l30 41 29-37-29-45z"/><path class=M d="M4682 6165l29 38 30-41-30-39z"/><path class=X d="M4652 6132l30 33 29-42-29-36z"/><path class=aa d="M4622 6103l30 29 30-45-30-30z"/><path class=P d="M4593 6080l29 23 30-46-30-25z"/><path class=aH d="M4534 6043l29 17 30 20 29-48-29-21-30-18zM4563 6060L4593 6011"/><path class=aI d="M4504 6028l30 15 29-50-29-17z"/><path class=aF d="M4445 6001l30 12 29 15 30-52-30-17-29-14zM4475 6013L4504 5959"/><path class=Q d="M4386 5998l30-3 29 6 30-56-30-6-29 1zM4416 5995L4445 5939"/><path class=av d="M4268 6023l29-9 30-6 30-6 29-4 30-58-30 4-29 5-30 7-30 8zM4297 6014L4327 5956M4327 6008L4357 5949M4357 6002L4386 5944"/><path class=at d="M4150 6064l29-12 30-10 29-10 30-9 29-59-29 8-30 10-29 10-30 11zM4179 6052L4209 5992M4209 6042L4238 5982M4238 6032L4268 5972"/><path class=aT d="M4032 6112l29-13 30-12 29-12 30-11 29-61-29 12-30 11-29 12-30 12zM4061 6099L4091 6038M4091 6087L4120 6026M4120 6075L4150 6015"/><path class=aW d="M3913 6163l30-13 29-13 30-12 30-13 29-62-30 13-29 12-30 13-29 13zM3943 6150L3972 6088M3972 6137L4002 6075M4002 6125L4031 6063"/><path class=aR d="M3795 6217l30-14 29-13 30-13 29-14 30-62-30 13-29 13-30 13-29 13zM3825 6203L3854 6140M3854 6190L3884 6127M3884 6177L3913 6114"/><path class=aR d="M3677 6270l30-14 29-13 30-13 29-13 30-64-30 13-29 13-30 14-30 13zM3707 6256L3736 6193M3736 6243L3766 6179M3766 6230L3795 6166"/><path class=Y d="M3559 6323l29-13 30-14 29-13 30-13 29-64-29 13-30 13-29 13-30 13zM3588 6310L3618 6245M3618 6296L3647 6232M3647 6283L3677 6219"/><path class=Y d="M3441 6377l29-14 30-13 29-14 30-13 29-65-29 13-30 14-29 13-30 13zM3470 6363L3500 6298M3500 6350L3529 6285M3529 6336L3559 6271"/><path class=aM d="M3322 6431l30-13 29-14 30-14 30-13 29-66-29 14-30 13-30 13-29 14zM3352 6418L3381 6351M3381 6404L3411 6338M3411 6390L3441 6325"/><path class=aM d="M3204 6486l30-14 29-13 30-14 29-14 30-66-30 13-29 14-30 13-29 14zM3234 6472L3263 6405M3263 6459L3293 6392M3293 6445L3322 6378"/><path class=an d="M3086 6542l30-14 29-14 30-14 29-14 30-67-30 14-29 13-30 14-29 14zM3116 6528L3145 6460M3145 6514L3175 6446M3175 6500L3204 6433"/><path class=an d="M2997 6584l30-14 29-14 30-14 30-68-30 14-30 14-29 14zM3027 6570L3056 6502M3056 6556L3086 6488"/><path class=s d="M4888 6463l30 77 29-18-29-82z"/><path class=h d="M4859 6389l29 74 30-23-30-78z"/><path class=j d="M4829 6318l30 71 29-27-29-77z"/><path class=u d="M4800 6257l29 61 30-33-30-65z"/><path class=C d="M4770 6207l30 50 29-37-30-53z"/><path class=M d="M4741 6162l29 45 29-40-29-47z"/><path class=X d="M4711 6123l30 39 29-42-30-42z"/><path class=aa d="M4682 6087l29 36 29-45-29-37z"/><path class=aj d="M4652 6057l30 30 29-46-30-32z"/><path class=aq d="M4622 6032l30 25 29-48-29-27z"/><path class=aI d="M4563 5993l30 18 29 21 30-50-30-22-29-20zM4593 6011L4622 5960"/><path class=aN d="M4534 5976l29 17 30-53-30-19z"/><path class=aO d="M4475 5945l29 14 30 17 29-55-30-18-29-16zM4504 5959L4533 5903"/><path class=at d="M4416 5940l29-1 30 6 29-58-30-8-29 1zM4445 5939L4474 5879"/><path class=aW d="M4297 5964l30-8 30-7 29-5 30-4 29-60-30 3-29 5-30 6-29 8zM4327 5956L4356 5894M4357 5949L4386 5888M4386 5944L4415 5883"/><path class=Y d="M4179 6003l30-11 29-10 30-10 29-8 30-62-30 8-29 9-30 11-30 10zM4209 5992L4238 5930M4238 5982L4268 5919M4268 5972L4297 5910"/><path class=aM d="M4061 6050l30-12 29-12 30-11 29-12 29-63-29 11-30 12-29 11-30 12zM4091 6038L4120 5974M4120 6026L4149 5963M4150 6015L4179 5951"/><path class=an d="M3943 6101l29-13 30-13 29-12 30-13 29-64-29 12-30 13-29 12-30 13zM3972 6088L4002 6023M4002 6075L4031 6011M4031 6063L4061 5998"/><path class=an d="M3825 6153l29-13 30-13 29-13 30-13 29-65-29 12-30 13-30 13-29 13zM3854 6140L3883 6074M3884 6127L3913 6061M3913 6114L3943 6048"/><path class=aU d="M3706 6206l30-13 30-14 29-13 30-13 29-66-30 13-29 13-30 13-29 12zM3736 6193L3765 6126M3766 6179L3795 6113M3795 6166L3824 6100"/><path class=aU d="M3588 6258l30-13 29-13 30-13 29-13 30-68-30 13-29 13-30 13-29 13zM3618 6245L3647 6177M3647 6232L3677 6164M3677 6219L3706 6151"/><path class=be d="M3470 6311l30-13 29-13 30-14 29-13 30-68-30 13-30 13-29 13-30 13zM3500 6298L3529 6229M3529 6285L3558 6216M3559 6271L3588 6203"/><path class=be d="M3352 6365l29-14 30-13 30-13 29-14 29-69-29 14-30 13-29 13-30 13zM3381 6351L3411 6282M3411 6338L3440 6269M3441 6325L3470 6256"/><path class=aJ d="M3234 6419l29-14 30-13 29-14 30-13 29-70-29 14-30 13-29 13-30 14zM3263 6405L3293 6335M3293 6392L3322 6322M3322 6378L3352 6309"/><path class=aJ d="M3116 6474l29-14 30-14 29-13 30-14 29-70-30 13-29 14-30 13-29 14zM3145 6460L3174 6389M3175 6446L3204 6376M3204 6433L3233 6362"/><path class=aC d="M3027 6516l29-14 30-14 30-14 29-71-30 14-29 13-30 14zM3056 6502L3086 6430M3086 6488L3115 6417"/><path class=f d="M4918 6440l29 82 29-20-29-87z"/><path class=n d="M4888 6362l30 78 29-25-30-83z"/><path class=c d="M4859 6285l29 77 29-30-30-81z"/><path class=B d="M4829 6220l30 65 28-34-29-69z"/><path class=I d="M4799 6167l30 53 29-38-30-56z"/><path class=ak d="M4770 6120l29 47 29-41-29-50z"/><path class=aa d="M4740 6078l30 42 29-44-30-45z"/><path class=aj d="M4711 6041l29 37 29-47-29-39z"/><path class=aq d="M4681 6009l30 32 29-49-30-34z"/><path class=aI d="M4652 5982l29 27 29-51-29-28z"/><path class=aF d="M4622 5960l30 22 29-52-30-24z"/><path class=Q d="M4593 5940l29 20 29-54-29-21z"/><path class=av d="M4563 5921l30 19 29-55-30-21z"/><path class=aT d="M4504 5887l29 16 30 18 29-57-30-21-29-17zM4533 5903L4562 5843"/><path class=Y d="M4415 5883l30-3 29-1 30 8 29-61-30-9-29 0-30 3zM4445 5880L4474 5817M4474 5879L4503 5817"/><path class=an d="M4297 5910l30-8 29-8 30-6 29-5 29-63-29 4-30 6-29 7-30 8zM4327 5902L4356 5837M4356 5894L4385 5830M4386 5888L4415 5824"/><path class=be d="M4179 5951l29-11 30-10 30-11 29-9 29-65-29 9-30 10-30 10-29 11zM4208 5940L4237 5874M4238 5930L4267 5864M4268 5919L4297 5854"/><path class=aJ d="M4061 5998l29-12 30-12 29-11 30-12 29-66-30 11-29 11-30 12-29 12zM4090 5986L4119 5919M4120 5974L4149 5907M4149 5963L4178 5896"/><path class=aJ d="M3943 6048l29-12 30-13 29-12 30-13 29-67-30 12-29 12-30 12-29 13zM3972 6036L4001 5967M4002 6023L4031 5955M4031 6011L4060 5943"/><path class=aC d="M3824 6100l30-13 29-13 30-13 30-13 29-68-30 12-30 13-29 13-30 12zM3854 6087L3883 6018M3883 6074L3912 6005M3913 6061L3942 5992"/><path class=af d="M3706 6151l30-13 29-12 30-13 29-13 29-70-29 13-30 13-29 12-30 13zM3736 6138L3765 6068M3765 6126L3794 6056M3795 6113L3824 6043"/><path class=af d="M3588 6203l30-13 29-13 30-13 29-13 29-70-29 13-30 12-29 13-30 13zM3618 6190L3647 6119M3647 6177L3676 6106M3677 6164L3706 6094"/><path class=aV d="M3470 6256l29-14 30-13 29-13 30-13 29-71-30 13-29 13-30 12-29 13zM3499 6242L3528 6170M3529 6229L3558 6158M3558 6216L3587 6145"/><path class=aV d="M3352 6309l29-14 30-13 29-13 30-13 29-73-30 13-29 13-30 14-29 13zM3381 6295L3410 6223M3411 6282L3440 6209M3440 6269L3469 6196"/><path class=ay d="M3233 6362l30-13 30-14 29-13 30-13 29-73-30 13-29 13-30 13-30 14zM3263 6349L3292 6275M3293 6335L3322 6262M3322 6322L3351 6249"/><path class=ay d="M3115 6417l30-14 29-14 30-13 29-14 29-73-29 13-30 13-29 14-30 13zM3145 6403L3174 6329M3174 6389L3203 6315M3204 6376L3233 6302"/><path class=aX d="M3056 6444l30-14 29-13 29-75-29 14-30 14zM3086 6430L3115 6356"/><path class=e d="M4947 6415l29 87 29-20-30-92z"/><path class=o d="M4917 6332l30 83 28-25-29-88z"/><path class=u d="M4887 6251l30 81 29-30-30-86z"/><path class=C d="M4858 6182l29 69 29-35-29-74z"/><path class=W d="M4828 6126l30 56 29-40-30-59z"/><path class=aa d="M4799 6076l29 50 29-43-29-53z"/><path class=aj d="M4769 6031l30 45 29-46-30-48z"/><path class=aE d="M4740 5992l29 39 29-49-30-41z"/><path class=ar d="M4710 5958l30 34 28-51-29-35z"/><path class=aN d="M4681 5930l29 28 29-52-30-30z"/><path class=aO d="M4651 5906l30 24 28-54-29-26z"/><path class=at d="M4622 5885l29 21 29-56-30-23z"/><path class=aW d="M4592 5864l30 21 28-58-29-22z"/><path class=Y d="M4562 5843l30 21 29-59-30-23z"/><path class=an d="M4503 5817l30 9 29 17 29-61-29-20-30-10zM4533 5826L4562 5762"/><path class=be d="M4415 5824l29-4 30-3 29 0 29-65-29-1-30 2-30 4zM4444 5820L4473 5753M4474 5817L4503 5751"/><path class=aC d="M4297 5854l29-9 30-8 29-7 30-6 28-67-29 5-30 7-29 8-30 9zM4326 5845L4355 5777M4356 5837L4384 5769M4385 5830L4414 5762"/><path class=af d="M4178 5896l30-11 29-11 30-10 30-10 28-68-29 9-30 10-29 10-30 11zM4208 5885L4237 5815M4237 5874L4266 5805M4267 5864L4296 5795"/><path class=aV d="M4060 5943l30-12 29-12 30-12 29-11 29-70-29 11-30 11-30 12-29 12zM4090 5931L4118 5860M4119 5919L4148 5848M4149 5907L4178 5837"/><path class=ay d="M3942 5992l30-12 29-13 30-12 29-12 29-71-30 12-29 12-30 12-29 12zM3972 5980L4000 5908M4001 5967L4030 5896M4031 5955L4059 5884"/><path class=aX d="M3824 6043l29-13 30-12 29-13 30-13 29-72-30 13-29 12-30 13-29 12zM3853 6030L3882 5958M3883 6018L3912 5945M3912 6005L3941 5933"/><path class=bf d="M3706 6094l29-13 30-13 29-12 30-13 29-73-30 12-30 13-29 12-30 13zM3735 6081L3764 6007M3765 6068L3793 5995M3794 6056L3823 5982"/><path class=bf d="M3587 6145l30-13 30-13 29-13 30-12 28-74-29 12-30 13-29 12-30 13zM3617 6132L3646 6057M3647 6119L3675 6045M3676 6106L3705 6032"/><path class=aD d="M3469 6196l30-13 29-13 30-12 29-13 29-75-29 13-30 12-29 13-30 13zM3499 6183L3528 6108M3528 6170L3557 6095M3558 6158L3587 6083"/><path class=aD d="M3351 6249l30-13 29-13 30-14 29-13 29-75-30 13-29 13-30 12-29 13zM3381 6236L3409 6159M3410 6223L3439 6147M3440 6209L3468 6134"/><path class=R d="M3233 6302l29-13 30-14 30-13 29-13 29-77-30 13-29 14-30 13-29 13zM3262 6289L3291 6212M3292 6275L3321 6199M3322 6262L3350 6185"/><path class=R d="M3115 6356l29-14 30-13 29-14 30-13 29-77-30 13-30 13-29 14-30 13zM3144 6342L3173 6265M3174 6329L3202 6251M3203 6315L3232 6238"/><path class=aY d="M3085 6370l30-14 28-78-29 14z"/><path class=h d="M4975 6390l30 92 28-21-29-98z"/><path class=k d="M4946 6302l29 88 29-27-30-93z"/><path class=B d="M4916 6216l30 86 28-32-29-91z"/><path class=M d="M4887 6142l29 74 29-37-30-78z"/><path class=aB d="M4857 6083l30 59 28-41-29-63z"/><path class=P d="M4828 6030l29 53 29-45-30-57z"/><path class=aq d="M4798 5982l30 48 28-49-30-49z"/><path class=ar d="M4768 5941l30 41 28-50-29-44z"/><path class=Q d="M4739 5906l29 35 29-53-30-37z"/><path class=av d="M4709 5876l30 30 28-55-29-32z"/><path class=aW d="M4680 5850l29 26 29-57-30-27z"/><path class=Y d="M4621 5805l29 22 30 23 28-58-29-25-30-25zM4650 5827L4679 5767"/><path class=aU d="M4591 5782l30 23 28-63-29-25z"/><path class=aJ d="M4562 5762l29 20 29-65-30-21z"/><path class=af d="M4473 5753l30-2 29 1 30 10 28-66-29-12-30-1-30 1zM4503 5751L4531 5683M4532 5752L4561 5684"/><path class=ay d="M4355 5777l29-8 30-7 29-5 30-4 28-69-29 3-30 5-29 6-30 8zM4384 5769L4413 5698M4414 5762L4442 5692M4443 5757L4472 5687"/><path class=bf d="M4237 5815l29-10 30-10 29-9 30-9 28-71-29 8-30 9-29 10-30 10zM4266 5805L4295 5733M4296 5795L4324 5723M4325 5786L4354 5714"/><path class=aD d="M4118 5860l30-12 30-11 29-11 30-11 28-72-29 10-30 11-30 11-29 11zM4148 5848L4176 5775M4178 5837L4206 5764M4207 5826L4236 5753"/><path class=R d="M4000 5908l30-12 29-12 30-12 29-12 29-74-30 12-29 11-30 12-29 12zM4030 5896L4058 5821M4059 5884L4088 5809M4089 5872L4117 5798"/><path class=aY d="M3882 5958l30-13 29-12 30-13 29-12 29-75-30 12-29 13-30 12-29 12zM3912 5945L3940 5870M3941 5933L3970 5858M3971 5920L3999 5845"/><path class=aY d="M3764 6007l29-12 30-13 30-12 29-12 29-76-30 12-30 12-29 12-30 13zM3793 5995L3822 5918M3823 5982L3851 5906M3853 5970L3881 5894"/><path class=bm d="M3646 6057l29-12 30-13 29-12 30-13 28-76-29 12-30 12-29 12-30 13zM3675 6045L3704 5967M3705 6032L3733 5955M3734 6020L3763 5943"/><path class=ao d="M3528 6108l29-13 30-12 29-13 30-13 28-77-29 12-30 13-29 12-30 13zM3557 6095L3586 6017M3587 6083L3615 6005M3616 6070L3645 5992"/><path class=ao d="M3409 6159l30-12 29-13 30-13 30-13 28-78-30 12-29 13-30 12-29 13zM3439 6147L3467 6067M3468 6134L3497 6055M3498 6121L3526 6042"/><path class=bl d="M3291 6212l30-13 29-14 30-13 29-13 29-79-30 13-29 13-30 13-29 13zM3321 6199L3349 6119M3350 6185L3379 6106M3380 6172L3408 6093"/><path class=au d="M3173 6265l29-14 30-13 30-13 29-13 29-80-30 13-30 13-29 13-30 13zM3202 6251L3231 6171M3232 6238L3260 6158M3262 6225L3290 6145"/><path class=au d="M3114 6292l29-14 30-13 28-81-29 13-30 13zM3143 6278L3172 6197"/><path class=n d="M5004 6363l29 98 29-22-30-103z"/><path class=w d="M4974 6270l30 93 28-27-30-99z"/><path class=C d="M4945 6179l29 91 28-33-29-97z"/><path class=ak d="M4915 6101l30 78 28-39-30-82z"/><path class=as d="M4886 6038l29 63 28-43-29-67z"/><path class=aq d="M4856 5981l30 57 28-47-30-60z"/><path class=ar d="M4826 5932l30 49 28-50-29-52z"/><path class=Q d="M4797 5888l29 44 29-53-30-46z"/><path class=at d="M4767 5851l30 37 28-55-29-40z"/><path class=aR d="M4738 5819l29 32 29-58-30-33z"/><path class=aM d="M4708 5792l30 27 28-59-30-29z"/><path class=aU d="M4679 5767l29 25 28-61-29-27z"/><path class=aJ d="M4649 5742l30 25 28-63-30-26z"/><path class=af d="M4620 5717l29 25 28-64-29-28z"/><path class=ay d="M4561 5684l29 12 30 21 28-67-30-23-29-14zM4590 5696L4618 5627"/><path class=bf d="M4501 5684l30-1 30 1 28-71-30-2-29 1zM4531 5683L4559 5611"/><path class=R d="M4383 5706l30-8 29-6 30-5 29-3 29-72-30 3-29 4-30 6-30 7zM4413 5698L4441 5625M4442 5692L4471 5619M4472 5687L4500 5615"/><path class=bm d="M4265 5743l30-10 29-10 30-9 29-8 28-74-29 8-30 9-29 9-30 10zM4295 5733L4323 5658M4324 5723L4352 5649M4354 5714L4382 5640"/><path class=ao d="M4147 5786l29-11 30-11 30-11 29-10 28-75-29 10-30 10-29 10-30 11zM4176 5775L4205 5698M4206 5764L4234 5688M4236 5753L4264 5678"/><path class=bl d="M4029 5833l29-12 30-12 29-11 30-12 28-77-29 12-30 11-30 12-29 12zM4058 5821L4086 5744M4088 5809L4116 5732M4117 5798L4146 5721"/><path class=au d="M3911 5882l29-12 30-12 29-13 30-12 28-77-30 11-29 12-30 12-29 12zM3940 5870L3968 5791M3970 5858L3998 5779M3999 5845L4027 5767"/><path class=au d="M3792 5931l30-13 29-12 30-12 30-12 28-79-30 12-29 12-30 12-29 12zM3822 5918L3850 5839M3851 5906L3880 5827M3881 5894L3909 5815"/><path class=al d="M3674 5980l30-13 29-12 30-12 29-12 29-80-30 12-30 12-29 12-30 12zM3704 5967L3732 5887M3733 5955L3761 5875M3763 5943L3791 5863"/><path class=bd d="M3556 6030l30-13 29-12 30-13 29-12 28-81-29 12-30 12-29 13-30 12zM3586 6017L3614 5936M3615 6005L3643 5923M3645 5992L3673 5911"/><path class=aP d="M3438 6080l29-13 30-12 29-13 30-12 28-82-29 12-30 13-29 12-30 13zM3467 6067L3496 5985M3497 6055L3525 5973M3526 6042L3555 5960"/><path class=aP d="M3320 6132l29-13 30-13 29-13 30-13 28-82-30 12-29 13-30 12-29 13zM3349 6119L3377 6035M3379 6106L3407 6023M3408 6093L3436 6010"/><path class=aK d="M3201 6184l30-13 29-13 30-13 30-13 28-84-30 13-29 13-30 13-29 13zM3231 6171L3259 6087M3260 6158L3289 6074M3290 6145L3318 6061"/><path class=aK d="M3142 6210l30-13 29-13 29-84-30 13-29 13zM3172 6197L3200 6113"/><path class=o d="M5032 6336l30 103 27-22-29-110z"/><path class=N d="M5002 6237l30 99 28-29-30-104z"/><path class=I d="M4973 6140l29 97 28-34-29-102z"/><path class=aB d="M4943 6058l30 82 28-39-30-88z"/><path class=aH d="M4914 5991l29 67 28-45-29-71z"/><path class=ar d="M4884 5931l30 60 28-49-30-62z"/><path class=Q d="M4855 5879l29 52 28-51-29-56z"/><path class=at d="M4825 5833l30 46 28-55-30-49z"/><path class=aR d="M4796 5793l29 40 28-58-29-41z"/><path class=an d="M4766 5760l30 33 28-59-30-36z"/><path class=be d="M4736 5731l30 29 28-62-30-30z"/><path class=aC d="M4707 5704l29 27 28-63-29-29z"/><path class=aV d="M4677 5678l30 26 28-65-30-29z"/><path class=aX d="M4648 5650l29 28 28-68-29-30z"/><path class=aD d="M4618 5627l30 23 28-70-30-25z"/><path class=aY d="M4559 5611l30 2 29 14 28-72-29-15-30-3zM4589 5613L4617 5540"/><path class=ao d="M4471 5619l29-4 30-3 29-1 28-74-29 0-30 2-29 4zM4500 5615L4528 5539M4530 5612L4558 5537"/><path class=au d="M4352 5649l30-9 29-8 30-7 30-6 28-76-30 6-30 6-29 8-30 8zM4382 5640L4410 5563M4411 5632L4439 5555M4441 5625L4469 5549"/><path class=al d="M4234 5688l30-10 29-10 30-10 29-9 28-78-29 9-30 9-29 10-30 10zM4264 5678L4292 5599M4293 5668L4321 5589M4323 5658L4351 5580"/><path class=aP d="M4116 5732l30-11 29-12 30-11 29-10 28-79-29 10-30 11-30 11-29 11zM4146 5721L4173 5641M4175 5709L4203 5630M4205 5698L4233 5619"/><path class=aK d="M3998 5779l29-12 30-11 29-12 30-12 28-80-30 11-29 12-30 11-29 12zM4027 5767L4055 5686M4057 5756L4085 5675M4086 5744L4114 5663"/><path class=aK d="M3880 5827l29-12 30-12 29-12 30-12 28-81-30 12-29 11-30 12-29 12zM3909 5815L3937 5733M3939 5803L3967 5721M3968 5791L3996 5710"/><path class=bo d="M3761 5875l30-12 30-12 29-12 30-12 28-82-30 11-30 12-29 12-30 12zM3791 5863L3819 5780M3821 5851L3848 5768M3850 5839L3878 5756"/><path class=aw d="M3643 5923l30-12 29-12 30-12 29-12 28-83-29 11-30 12-29 12-30 12zM3673 5911L3701 5827M3702 5899L3730 5815M3732 5887L3760 5803"/><path class=aG d="M3525 5973l30-13 29-12 30-12 29-13 28-84-29 12-30 12-29 12-30 12zM3555 5960L3583 5875M3584 5948L3612 5863M3614 5936L3642 5851"/><path class=aG d="M3407 6023l29-13 30-12 30-13 29-12 28-86-30 13-29 12-30 12-29 13zM3436 6010L3464 5924M3466 5998L3494 5912M3496 5985L3523 5900"/><path class=aQ d="M3289 6074l29-13 30-13 29-13 30-12 28-86-30 12-29 13-30 12-29 13zM3318 6061L3346 5974M3348 6048L3376 5962M3377 6035L3405 5949"/><path class=bg d="M3171 6126l29-13 30-13 29-13 30-13 28-87-30 13-29 13-30 12-30 13zM3200 6113L3228 6025M3230 6100L3258 6013M3259 6087L3287 6000"/><path class=k d="M5060 6307l29 110 28-23-29-116z"/><path class=H d="M5030 6203l30 104 28-29-30-110z"/><path class=W d="M5001 6101l29 102 28-35-30-108z"/><path class=P d="M4971 6013l30 88 27-41-29-93z"/><path class=aE d="M4942 5942l29 71 28-46-30-75z"/><path class=Q d="M4912 5880l30 62 27-50-29-66z"/><path class=at d="M4883 5824l29 56 28-54-30-59z"/><path class=aR d="M4853 5775l30 49 27-57-29-51z"/><path class=an d="M4824 5734l29 41 28-59-30-44z"/><path class=aJ d="M4794 5698l30 36 27-62-29-37z"/><path class=af d="M4764 5668l30 30 28-63-30-33z"/><path class=aX d="M4735 5639l29 29 28-66-29-30z"/><path class=aD d="M4705 5610l30 29 28-67-30-31z"/><path class=aY d="M4676 5580l29 30 28-69-30-33z"/><path class=ao d="M4646 5555l30 25 27-72-29-27z"/><path class=au d="M4587 5537l30 3 29 15 28-74-30-17-29-4zM4617 5540L4644 5464"/><path class=bd d="M4499 5543l29-4 30-2 29 0 28-77-30 0-29 1-30 4zM4528 5539L4556 5461M4558 5537L4585 5460"/><path class=aK d="M4380 5571l30-8 29-8 30-6 30-6 27-78-29 5-30 6-29 7-30 8zM4410 5563L4438 5483M4439 5555L4467 5476M4469 5549L4497 5470"/><path class=aw d="M4262 5609l30-10 29-10 30-9 29-9 28-80-30 9-29 8-30 9-29 10zM4292 5599L4319 5517M4321 5589L4349 5508M4351 5580L4378 5500"/><path class=aG d="M4144 5652l29-11 30-11 30-11 29-10 28-82-30 10-29 10-30 11-29 11zM4173 5641L4201 5558M4203 5630L4231 5547M4233 5619L4260 5537"/><path class=aQ d="M4026 5698l29-12 30-11 29-12 30-11 28-83-30 11-29 11-30 11-30 12zM4055 5686L4083 5602M4085 5675L4113 5591M4114 5663L4142 5580"/><path class=bg d="M3908 5745l29-12 30-12 29-11 30-12 27-84-29 11-30 12-29 11-30 11zM3937 5733L3965 5648M3967 5721L3994 5637M3996 5710L4024 5625"/><path class=ba d="M3789 5792l30-12 29-12 30-12 30-11 27-86-29 12-30 11-29 12-30 11zM3819 5780L3847 5694M3848 5768L3876 5682M3878 5756L3906 5671"/><path class=ba d="M3671 5839l30-12 29-12 30-12 29-11 28-87-29 12-30 11-30 12-29 12zM3701 5827L3728 5740M3730 5815L3758 5728M3760 5803L3788 5717"/><path class=bn d="M3553 5887l30-12 29-12 30-12 29-12 28-87-30 11-29 12-30 12-29 12zM3583 5875L3610 5787M3612 5863L3640 5775M3642 5851L3669 5763"/><path class=ah d="M3435 5937l29-13 30-12 29-12 30-13 28-88-30 12-29 12-30 12-29 12zM3464 5924L3492 5835M3494 5912L3522 5823M3523 5900L3551 5811"/><path class=am d="M3317 5987l29-13 30-12 29-13 30-12 28-90-30 13-30 12-29 12-30 13zM3346 5974L3374 5884M3376 5962L3403 5872M3405 5949L3433 5860"/><path class=am d="M3198 6038l30-13 30-12 29-13 30-13 27-90-29 12-30 13-29 13-30 13zM3228 6025L3256 5935M3258 6013L3285 5922M3287 6000L3315 5909"/><path class=c d="M5088 6278l29 116 28-24-30-122z"/><path class=ae d="M5058 6168l30 110 27-30-30-117z"/><path class=aB d="M5028 6060l30 108 27-37-29-114z"/><path class=aH d="M4999 5967l29 93 28-43-30-97z"/><path class=aF d="M4969 5892l30 75 27-47-29-79z"/><path class=av d="M4940 5826l29 66 28-51-30-70z"/><path class=aR d="M4910 5767l30 59 27-55-29-62z"/><path class=aU d="M4881 5716l29 51 28-58-30-54z"/><path class=aC d="M4851 5672l30 44 27-61-29-46z"/><path class=ay d="M4822 5635l29 37 28-63-30-40z"/><path class=bf d="M4792 5602l30 33 27-66-29-35z"/><path class=R d="M4763 5572l29 30 28-68-30-32z"/><path class=ao d="M4733 5541l30 31 27-70-30-34z"/><path class=au d="M4703 5508l30 33 27-73-29-34z"/><path class=bd d="M4674 5481l29 27 28-74-30-31z"/><path class=aK d="M4615 5460l29 4 30 17 27-78-29-18-30-4zM4644 5464L4672 5385"/><path class=aw d="M4556 5461l29-1 30 0 27-79-29-2-30 1zM4585 5460L4613 5379"/><path class=aQ d="M4438 5483l29-7 30-6 29-5 30-4 27-81-29 3-30 5-29 5-30 7zM4467 5476L4495 5393M4497 5470L4524 5388M4526 5465L4554 5383"/><path class=ba d="M4319 5517l30-9 29-8 30-9 30-8 27-83-30 8-29 8-30 8-29 9zM4349 5508L4376 5424M4378 5500L4406 5416M4408 5491L4435 5408"/><path class=bn d="M4201 5558l30-11 29-10 30-10 29-10 28-84-30 9-29 10-30 10-29 10zM4231 5547L4258 5462M4260 5537L4288 5452M4290 5527L4317 5442"/><path class=ah d="M4083 5602l30-11 29-11 30-11 29-11 28-86-30 11-29 10-30 11-30 11zM4113 5591L4140 5504M4142 5580L4170 5493M4172 5569L4199 5483"/><path class=am d="M3965 5648l29-11 30-12 29-11 30-12 27-87-29 12-30 11-29 11-30 11zM3994 5637L4022 5549M4024 5625L4051 5538M4053 5614L4081 5527"/><path class=bp d="M3847 5694l29-12 30-11 29-12 30-11 27-88-29 11-30 11-29 11-30 12zM3876 5682L3904 5593M3906 5671L3933 5582M3935 5659L3963 5571"/><path class=bb d="M3728 5740l30-12 30-11 29-12 30-11 27-89-30 11-29 11-30 11-29 12zM3758 5728L3785 5638M3788 5717L3815 5627M3817 5705L3844 5616"/><path class=bh d="M3610 5787l30-12 29-12 30-11 29-12 28-90-30 11-29 12-30 11-29 12zM3640 5775L3667 5684M3669 5763L3697 5673M3699 5752L3726 5661"/><path class=bh d="M3492 5835l30-12 29-12 30-12 29-12 28-91-30 12-29 11-30 12-30 12zM3522 5823L3549 5731M3551 5811L3579 5719M3581 5799L3608 5708"/><path class=Z d="M3374 5884l29-12 30-12 30-13 29-12 27-92-29 12-30 12-29 12-30 12zM3403 5872L3431 5779M3433 5860L3460 5767M3463 5847L3490 5755"/><path class=bj d="M3256 5935l29-13 30-13 29-12 30-13 27-93-29 13-30 12-29 12-30 13zM3285 5922L3313 5828M3315 5909L3342 5816M3344 5897L3372 5804"/><path class=bj d="M3226 5948l30-13 27-94-29 12z"/><path class=u d="M5115 6248l30 122 27-24-30-129z"/><path class=M d="M5085 6131l30 117 27-31-29-123z"/><path class=as d="M5056 6017l29 114 28-37-30-120z"/><path class=aI d="M5026 5920l30 97 27-43-29-103z"/><path class=aO d="M4997 5841l29 79 28-49-30-83z"/><path class=aW d="M4967 5771l30 70 27-53-30-75z"/><path class=an d="M4938 5709l29 62 27-58-29-65z"/><path class=aC d="M4908 5655l30 54 27-61-30-57z"/><path class=ay d="M4879 5609l29 46 27-64-29-48z"/><path class=aD d="M4849 5569l30 40 27-66-30-42z"/><path class=bm d="M4820 5534l29 35 27-68-29-37z"/><path class=bl d="M4790 5502l30 32 27-70-30-34z"/><path class=al d="M4760 5468l30 34 27-72-29-36z"/><path class=aK d="M4731 5434l29 34 28-74-30-38z"/><path class=aw d="M4701 5403l30 31 27-78-29-32z"/><path class=aQ d="M4672 5385l29 18 28-79-30-20z"/><path class=ba d="M4583 5380l30-1 29 2 30 4 27-81-30-6-29-2-30 1zM4613 5379L4640 5296M4642 5381L4669 5298"/><path class=ah d="M4495 5393l29-5 30-5 29-3 27-83-29 2-30 4-29 5zM4524 5388L4551 5303M4554 5383L4581 5299"/><path class=bp d="M4376 5424l30-8 29-8 30-8 30-7 27-85-30 7-29 7-30 8-29 7zM4406 5416L4433 5330M4435 5408L4463 5322M4465 5400L4492 5315"/><path class=bb d="M4258 5462l30-10 29-10 30-9 29-9 28-87-30 9-30 8-29 10-30 9zM4288 5452L4315 5364M4317 5442L4344 5354M4347 5433L4374 5346"/><path class=bh d="M4140 5504l30-11 29-10 30-11 29-10 27-89-29 10-30 11-29 10-30 11zM4170 5493L4197 5404M4199 5483L4226 5394M4229 5472L4256 5383"/><path class=Z d="M4022 5549l29-11 30-11 29-12 30-11 27-89-29 10-30 11-29 11-30 11zM4051 5538L4079 5447M4081 5527L4108 5436M4110 5515L4138 5425"/><path class=bj d="M3904 5593l29-11 30-11 29-11 30-11 27-91-30 11-29 11-30 10-29 11zM3933 5582L3960 5490M3963 5571L3990 5480M3992 5560L4019 5469"/><path class=bc d="M3785 5638l30-11 29-11 30-11 30-12 27-92-30 11-29 11-30 11-29 11zM3815 5627L3842 5534M3844 5616L3872 5523M3874 5605L3901 5512"/><path class=bk d="M3667 5684l30-11 29-12 30-11 29-12 28-93-30 12-30 11-29 11-30 11zM3697 5673L3724 5579M3726 5661L3753 5568M3756 5650L3783 5557"/><path class=S d="M3549 5731l30-12 29-11 30-12 29-12 27-94-29 12-30 11-29 12-30 11zM3579 5719L3606 5625M3608 5708L3635 5613M3638 5696L3665 5602"/><path class=aZ d="M3431 5779l29-12 30-12 29-12 30-12 27-95-29 12-30 12-29 11-30 12zM3460 5767L3488 5671M3490 5755L3517 5660M3519 5743L3547 5648"/><path class=aS d="M3313 5828l29-12 30-12 29-13 30-12 27-96-30 12-29 12-30 12-29 13zM3342 5816L3369 5719M3372 5804L3399 5707M3401 5791L3428 5695"/><path class=aS d="M3254 5853l29-12 30-13 27-96-30 12-29 12zM3283 5841L3310 5744"/><path class=B d="M5142 6217l30 129 27-24-30-136z"/><path class=ak d="M5113 6094l29 123 27-31-29-130z"/><path class=aj d="M5083 5974l30 120 27-38-30-127z"/><path class=aF d="M5054 5871l29 103 27-45-30-108z"/><path class=aT d="M5024 5788l30 83 26-50-29-88z"/><path class=aM d="M4994 5713l30 75 27-55-30-78z"/><path class=aC d="M4965 5648l29 65 27-58-29-69z"/><path class=ay d="M4935 5591l30 57 27-62-30-60z"/><path class=R d="M4906 5543l29 48 27-65-29-51z"/><path class=ao d="M4876 5501l30 42 27-68-30-44z"/><path class=au d="M4847 5464l29 37 27-70-29-39z"/><path class=aP d="M4817 5430l30 34 27-72-30-36z"/><path class=bo d="M4788 5394l29 36 27-74-29-39z"/><path class=aQ d="M4758 5356l30 38 27-77-30-40z"/><path class=ba d="M4729 5324l29 32 27-79-30-35z"/><path class=am d="M4669 5298l30 6 30 20 26-82-29-22-30-7zM4699 5304L4726 5220"/><path class=bb d="M4581 5299l29-2 30-1 29 2 27-85-29-2-30-1-29 2zM4610 5297L4637 5210M4640 5296L4667 5211"/><path class=Z d="M4463 5322l29-7 30-7 29-5 30-4 27-87-30 3-29 5-30 6-29 7zM4492 5315L4519 5226M4522 5308L4549 5220M4551 5303L4578 5215"/><path class=bc d="M4344 5354l30-8 30-9 29-7 30-8 27-89-30 7-30 8-29 8-30 8zM4374 5346L4401 5256M4404 5337L4430 5248M4433 5330L4460 5240"/><path class=bk d="M4226 5394l30-11 29-10 30-9 29-10 27-90-29 9-30 9-29 10-30 10zM4256 5383L4283 5292M4285 5373L4312 5282M4315 5364L4342 5273"/><path class=aZ d="M4108 5436l30-11 29-10 30-11 29-10 27-92-29 10-30 10-29 11-30 10zM4138 5425L4165 5333M4167 5415L4194 5322M4197 5404L4224 5312"/><path class=aS d="M3990 5480l29-11 30-11 30-11 29-11 27-93-30 11-29 10-30 11-29 10zM4019 5469L4046 5375M4049 5458L4076 5364M4079 5447L4105 5354"/><path class=aA d="M3872 5523l29-11 30-11 29-11 30-10 27-95-30 11-29 10-30 11-29 11zM3901 5512L3928 5417M3931 5501L3958 5406M3960 5490L3987 5396"/><path class=az d="M3753 5568l30-11 30-12 29-11 30-11 27-95-30 11-29 10-30 11-30 11zM3783 5557L3810 5460M3813 5545L3840 5449M3842 5534L3869 5439"/><path class=az d="M3635 5613l30-11 29-12 30-11 29-11 27-97-29 11-30 11-29 11-30 11zM3665 5602L3692 5504M3694 5590L3721 5493M3724 5579L3751 5482"/><path class=bi d="M3517 5660l30-12 29-12 30-11 29-12 27-98-29 12-30 11-29 11-30 12zM3547 5648L3574 5549M3576 5636L3603 5538M3606 5625L3633 5527"/><path class=ab d="M3399 5707l29-12 30-12 30-12 29-11 27-99-30 11-29 12-30 12-29 12zM3428 5695L3455 5596M3458 5683L3485 5584M3488 5671L3514 5572"/><path class=ag d="M3310 5744l30-12 29-13 30-12 27-99-30 12-29 12-30 12zM3340 5732L3367 5632M3369 5719L3396 5620"/><path class=z d="M3281 5756l26-99 13-6 17-7-27 100z"/><path class=H d="M5169 6186l30 136 26-11-29-144z"/><path class=X d="M5140 6056l29 130 27-19-30-138z"/><path class=aq d="M5110 5929l30 127 26-27-29-135z"/><path class=aO d="M5080 5821l30 108 27-35-30-115z"/><path class=Y d="M5051 5733l29 88 27-42-29-94z"/><path class=be d="M5021 5655l30 78 27-48-30-83z"/><path class=ay d="M4992 5586l29 69 27-53-29-73z"/><path class=R d="M4962 5526l30 60 27-57-30-64z"/><path class=ao d="M4933 5475l29 51 27-61-30-55z"/><path class=al d="M4903 5431l30 44 26-65-29-47z"/><path class=aK d="M4874 5392l29 39 27-68-30-42z"/><path class=aG d="M4844 5356l30 36 26-71-29-40z"/><path class=bg d="M4815 5317l29 39 27-75-30-41z"/><path class=ah d="M4785 5277l30 40 26-77-29-44z"/><path class=bb d="M4755 5242l30 35 27-81-30-38z"/><path class=Z d="M4696 5213l30 7 29 22 27-84-29-24-30-7zM4726 5220L4753 5134"/><path class=bc d="M4637 5210l30 1 29 2 27-86-29-4-30-1zM4667 5211L4694 5123"/><path class=S d="M4549 5220l29-5 30-3 29-2 27-88-30 1-29 2-30 5zM4578 5215L4605 5125M4608 5212L4634 5123"/><path class=aS d="M4430 5248l30-8 30-7 29-7 30-6 26-90-29 5-30 7-29 6-30 7zM4460 5240L4487 5148M4490 5233L4516 5142M4519 5226L4546 5135"/><path class=aA d="M4342 5273l29-9 30-8 29-8 27-93-29 8-30 8-30 8zM4371 5264L4398 5171M4401 5256L4428 5163"/><path class=bi d="M4224 5312l29-10 30-10 29-10 30-9 26-94-29 9-30 9-29 10-30 10zM4253 5302L4280 5207M4283 5292L4309 5197M4312 5282L4339 5188"/><path class=ab d="M4105 5354l30-11 30-10 29-11 30-10 26-95-29 10-30 10-29 10-30 10zM4135 5343L4162 5247M4165 5333L4191 5237M4194 5322L4221 5227"/><path class=ag d="M4017 5385l29-10 30-11 29-10 27-97-29 11-30 10-30 10zM4046 5375L4073 5278M4076 5364L4103 5268"/><path class=z d="M3987 5396l27-96 8-4 21-8-26 97z"/><path class=z d="M3958 5406l25-91 31-15-27 96z"/><path class=z d="M3928 5417l24-86 31-16-25 91z"/><path class=z d="M3899 5428l22-82 31-15-24 86z"/><path class=z d="M3869 5439l21-77 31-16-22 82z"/><path class=z d="M3840 5449l19-72 31-15-21 77z"/><path class=z d="M3810 5460l18-67 31-16-19 72z"/><path class=z d="M3780 5471l17-63 31-15-18 67z"/><path class=v d="M3751 5482l15-58 31-16-17 63z"/><path class=v d="M3721 5493l15-54 30-15-15 58z"/><path class=v d="M3692 5504l13-49 31-16-15 54z"/><path class=v d="M3662 5515l12-45 31-15-13 49z"/><path class=v d="M3633 5527l10-41 31-16-12 45z"/><path class=v d="M3603 5538l10-37 30-15-10 41z"/><path class=v d="M3574 5549l8-32 31-16-10 37z"/><path class=v d="M3544 5561l7-28 31-16-8 32z"/><path class=v d="M3514 5572l7-24 30-15-7 28z"/><path class=x d="M3485 5584l5-20 31-16-7 24z"/><path class=x d="M3455 5596l5-17 30-15-5 20z"/><path class=x d="M3426 5608l3-13 31-16-5 17z"/><path class=x d="M3396 5620l3-9 30-16-3 13z"/><path class=x d="M3367 5632l1-6 31-15-3 9z"/><path class=x d="M3337 5644l1-2 30-16-1 6z"/><path class=x d="M3338 5642l-1 2-17 7z"/><path class=C d="M5196 6167l29 144 27-10-30-153z"/><path class=aa d="M5166 6029l30 138 26-19-29-146z"/><path class=aI d="M5137 5894l29 135 27-27-30-143z"/><path class=at d="M5107 5779l30 115 26-35-29-122z"/><path class=an d="M5078 5685l29 94 27-42-30-100z"/><path class=af d="M5048 5602l30 83 26-48-29-89z"/><path class=aD d="M5019 5529l29 73 27-54-30-78z"/><path class=ao d="M4989 5465l30 64 26-59-30-68z"/><path class=bd d="M4959 5410l30 55 26-63-29-59z"/><path class=bo d="M4930 5363l29 47 27-67-30-50z"/><path class=aQ d="M4900 5321l30 42 26-70-29-45z"/><path class=bn d="M4871 5281l29 40 27-73-30-43z"/><path class=am d="M4841 5240l30 41 26-76-29-45z"/><path class=bh d="M4812 5196l29 44 27-80-30-47z"/><path class=bc d="M4782 5158l30 38 26-83-29-40z"/><path class=S d="M4753 5134l29 24 27-85-30-26z"/><path class=aS d="M4694 5123l29 4 30 7 26-87-29-9-30-5zM4723 5127L4750 5038"/><path class=az d="M4605 5125l29-2 30-1 30 1 26-90-30-2-29 0-30 2zM4634 5123L4661 5031M4664 5122L4690 5031"/><path class=ab d="M4516 5142l30-7 29-5 30-5 26-92-29 4-30 4-29 6zM4546 5135L4572 5041M4575 5130L4602 5037"/><path class=z d="M4487 5148l26-95 0 0 30-6-27 95z"/><path class=z d="M4457 5155l24-86 32-16-26 95z"/><path class=z d="M4428 5163l21-79 32-15-24 86z"/><path class=z d="M4398 5171l20-72 31-15-21 79z"/><path class=z d="M4368 5179l18-65 32-15-20 72z"/><path class=v d="M4339 5188l16-58 31-16-18 65z"/><path class=v d="M4309 5197l15-52 31-15-16 58z"/><path class=v d="M4280 5207l12-46 32-16-15 52z"/><path class=v d="M4250 5217l11-41 31-15-12 46z"/><path class=v d="M4221 5227l9-36 31-15-11 41z"/><path class=v d="M4191 5237l8-30 31-16-9 36z"/><path class=v d="M4162 5247l6-25 31-15-8 30z"/><path class=x d="M4132 5257l5-19 31-16-6 25z"/><path class=x d="M4103 5268l3-15 31-15-5 19z"/><path class=x d="M4073 5278l2-9 31-16-3 15z"/><path class=x d="M4043 5288l1-4 31-15-2 9z"/><path class=x d="M4044 5284l-1 4-21 8z"/><path class=ae d="M5222 6148l30 153 26-11-30-161z"/><path class=as d="M5193 6002l29 146 26-19-29-155z"/><path class=aF d="M5163 5859l30 143 26-28-30-151z"/><path class=aW d="M5134 5737l29 122 26-36-29-130z"/><path class=aJ d="M5104 5637l30 100 26-44-30-106z"/><path class=aX d="M5075 5548l29 89 26-50-29-94z"/><path class=bm d="M5045 5470l30 78 26-55-30-83z"/><path class=al d="M5015 5402l30 68 26-60-29-73z"/><path class=bo d="M4986 5343l29 59 27-65-30-63z"/><path class=bg d="M4956 5293l30 50 26-69-29-54z"/><path class=ah d="M4927 5248l29 45 27-73-30-48z"/><path class=bb d="M4897 5205l30 43 26-76-30-46z"/><path class=bj d="M4868 5160l29 45 26-79-29-48z"/><path class=S d="M4838 5113l30 47 26-82-30-50z"/><path class=aS d="M4809 5073l29 40 26-85-29-43z"/><path class=bi d="M4779 5047l30 26 26-88-30-29z"/><path class=ag d="M4750 5038l29 9 26-91-29-10z"/><path class=z d="M4720 5033l24-84 16-6 16 3-26 92z"/><path class=z d="M4690 5031l19-67 35-15-24 84z"/><path class=v d="M4661 5031l14-53 34-14-19 67z"/><path class=v d="M4631 5033l11-40 33-15-14 53z"/><path class=v d="M4602 5037l8-29 32-15-11 40z"/><path class=v d="M4572 5041l5-18 33-15-8 29z"/><path class=x d="M4543 5047l2-9 32-15-5 18z"/><path class=x d="M4545 5038l-2 9-30 6z"/></g><g fill="#000"><circle cx="145.2" cy="589.0" r="2.0"/><circle cx="160.0" cy="692.8" r="2.0"/><circle cx="218.0" cy="700.8" r="2.0"/><circle cx="232.0" cy="611.2" r="2.0"/><circle cx="246.0" cy="646.0" r="2.0"/><circle cx="274.3" cy="592.3" r="2.0"/><circle cx="277.0" cy="691.6" r="1.8"/><circle cx="334.6" cy="568.8" r="2.0"/><circle cx="378.2" cy="551.0" r="2.0"/><circle cx="421.4" cy="534.5" r="2.0"/><circle cx="463.6" cy="530.0" r="2.0"/><circle cx="506.8" cy="610.0" r="2.2"/><circle cx="405.5" cy="630.0" r="1.6"/><circle cx="319.4" cy="669.0" r="1.6"/><circle cx="290.0" cy="625.1" r="1.9"/></g><text class=tl x="73.2" y="716.5" text-anchor="middle">0.05</text><text class=tl x="131.5" y="733.8" text-anchor="middle">0.04</text><text class=tl x="189.8" y="751.1" text-anchor="middle">0.03</text><text class=tl x="248.0" y="768.4" text-anchor="middle">0.02</text><text class=tl x="306.3" y="785.6" text-anchor="middle">0.01</text><text class=tl x="374.8" y="772.2">10</text><text class=tl x="408.9" y="753.8">8</text><text class=tl x="443.0" y="735.5">6</text><text class=tl x="477.1" y="717.2">4</text><text class=tl x="511.2" y="698.8">2</text><text class=tl x="71.8" y="690.7" text-anchor="end">0</text><text class=tl x="71.8" y="644.6" text-anchor="end">0.5</text><text class=tl x="71.8" y="598.4" text-anchor="end">1</text><text class=tl x="71.8" y="552.3" text-anchor="end">1.5</text><text class=tl x="71.8" y="506.1" text-anchor="end">2</text><text class=tl x="497.9" y="711.6">× 10<tspan dy="-6.6" font-size="8.6">−4</tspan></text><text class=mi x="183.5" y="777.8" text-anchor="middle" style="font-size:21.5px">β</text><text class=mi x="456.0" y="751.0" text-anchor="middle" style="font-size:21.5px">τ</text><text class=zl font-size="22" transform="translate(36.2 594.7) rotate(-90)" text-anchor="middle"><tspan class=gi>a</tspan><tspan class=sb dy="3.5">1</tspan><tspan dy="-3.5">(</tspan><tspan class=gi>β</tspan>,<tspan class=gi>τ</tspan>)</text><text class=cap x="275.9" y="816.4" text-anchor="middle">(<tspan font-weight="bold">b</tspan>)</text></svg></body></html>
